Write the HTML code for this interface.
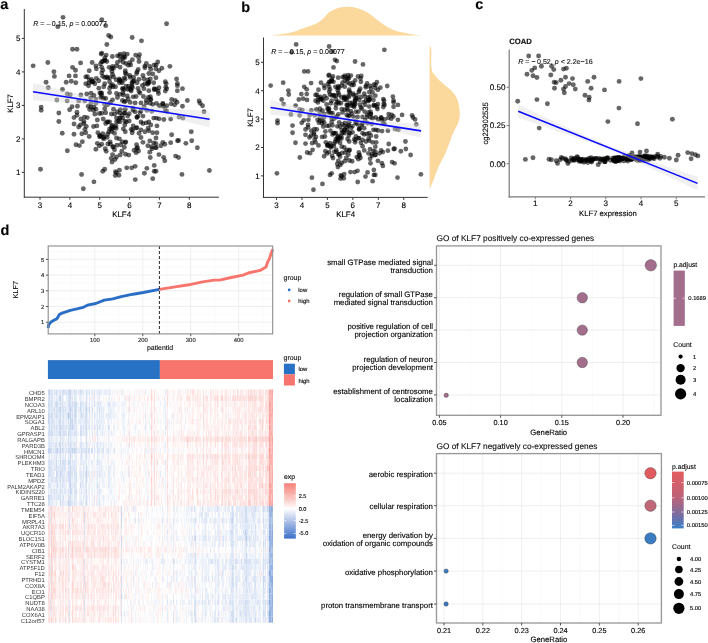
<!DOCTYPE html>
<html><head><meta charset="utf-8"><style>
html,body{margin:0;padding:0;background:#fff;width:708px;height:643px;overflow:hidden}
svg{display:block;font-family:"Liberation Sans", sans-serif;filter:blur(0.3px)}
text{stroke:currentColor;stroke-width:0.12px;text-rendering:geometricPrecision}
</style></head><body>
<svg width="708" height="643" viewBox="0 0 708 643">
<rect width="708" height="643" fill="#fff"/>
<text x="33.3" y="25.7" font-size="7.05" fill="#222"><tspan font-style="italic">R</tspan> = – 0.15, <tspan font-style="italic">p</tspan> = 0.00077</text>
<g>
<circle cx="63.04" cy="17.33" r="2.45" fill="#000" fill-opacity=".6"/>
<circle cx="57.84" cy="26.65" r="2.45" fill="#000" fill-opacity=".6"/>
<circle cx="72.55" cy="49.2" r="2.45" fill="#000" fill-opacity=".6"/>
<circle cx="76.96" cy="49.2" r="2.45" fill="#000" fill-opacity=".6"/>
<circle cx="47.84" cy="62.43" r="2.45" fill="#000" fill-opacity=".6"/>
<circle cx="33.14" cy="65.86" r="2.45" fill="#000" fill-opacity=".6"/>
<circle cx="80.59" cy="62.92" r="2.45" fill="#000" fill-opacity=".6"/>
<circle cx="72.55" cy="67.33" r="2.45" fill="#000" fill-opacity=".6"/>
<circle cx="75.49" cy="70.27" r="2.45" fill="#000" fill-opacity=".6"/>
<circle cx="53.92" cy="71.75" r="2.45" fill="#000" fill-opacity=".6"/>
<circle cx="89.22" cy="70.76" r="2.45" fill="#000" fill-opacity=".6"/>
<circle cx="101.76" cy="19.78" r="2.45" fill="#000" fill-opacity=".6"/>
<circle cx="105.69" cy="25.67" r="2.45" fill="#000" fill-opacity=".6"/>
<circle cx="108.63" cy="35.47" r="2.45" fill="#000" fill-opacity=".6"/>
<circle cx="110.78" cy="36.94" r="2.45" fill="#000" fill-opacity=".6"/>
<circle cx="132.16" cy="37.43" r="2.45" fill="#000" fill-opacity=".6"/>
<circle cx="141.47" cy="40.86" r="2.45" fill="#000" fill-opacity=".6"/>
<circle cx="106.86" cy="44.49" r="2.45" fill="#000" fill-opacity=".6"/>
<circle cx="101.76" cy="53.12" r="2.45" fill="#000" fill-opacity=".6"/>
<circle cx="106.18" cy="55.08" r="2.45" fill="#000" fill-opacity=".6"/>
<circle cx="112.35" cy="56.55" r="2.45" fill="#000" fill-opacity=".6"/>
<circle cx="117.45" cy="55.86" r="2.45" fill="#000" fill-opacity=".6"/>
<circle cx="127.25" cy="54.1" r="2.45" fill="#000" fill-opacity=".6"/>
<circle cx="135.59" cy="55.08" r="2.45" fill="#000" fill-opacity=".6"/>
<circle cx="139.51" cy="54.59" r="2.45" fill="#000" fill-opacity=".6"/>
<circle cx="122.84" cy="58.02" r="2.45" fill="#000" fill-opacity=".6"/>
<circle cx="124.8" cy="57.53" r="2.45" fill="#000" fill-opacity=".6"/>
<circle cx="120.39" cy="59.98" r="2.45" fill="#000" fill-opacity=".6"/>
<circle cx="132.35" cy="59.78" r="2.45" fill="#000" fill-opacity=".6"/>
<circle cx="139.02" cy="61.45" r="2.45" fill="#000" fill-opacity=".6"/>
<circle cx="92.16" cy="62.43" r="2.45" fill="#000" fill-opacity=".6"/>
<circle cx="101.76" cy="61.65" r="2.45" fill="#000" fill-opacity=".6"/>
<circle cx="106.86" cy="61.45" r="2.45" fill="#000" fill-opacity=".6"/>
<circle cx="117.45" cy="62.43" r="2.45" fill="#000" fill-opacity=".6"/>
<circle cx="146.37" cy="63.41" r="2.45" fill="#000" fill-opacity=".6"/>
<circle cx="95.88" cy="65.86" r="2.45" fill="#000" fill-opacity=".6"/>
<circle cx="101.76" cy="67.33" r="2.45" fill="#000" fill-opacity=".6"/>
<circle cx="109.12" cy="67.33" r="2.45" fill="#000" fill-opacity=".6"/>
<circle cx="113.53" cy="68.31" r="2.45" fill="#000" fill-opacity=".6"/>
<circle cx="116.47" cy="65.86" r="2.45" fill="#000" fill-opacity=".6"/>
<circle cx="125.78" cy="63.41" r="2.45" fill="#000" fill-opacity=".6"/>
<circle cx="128.24" cy="65.37" r="2.45" fill="#000" fill-opacity=".6"/>
<circle cx="130.69" cy="64.88" r="2.45" fill="#000" fill-opacity=".6"/>
<circle cx="144.9" cy="67.82" r="2.45" fill="#000" fill-opacity=".6"/>
<circle cx="149.8" cy="66.35" r="2.45" fill="#000" fill-opacity=".6"/>
<circle cx="150.78" cy="69.29" r="2.45" fill="#000" fill-opacity=".6"/>
<circle cx="154.22" cy="64.88" r="2.45" fill="#000" fill-opacity=".6"/>
<circle cx="96.37" cy="68.8" r="2.45" fill="#000" fill-opacity=".6"/>
<circle cx="102.75" cy="70.27" r="2.45" fill="#000" fill-opacity=".6"/>
<circle cx="125.29" cy="70.76" r="2.45" fill="#000" fill-opacity=".6"/>
<circle cx="137.06" cy="71.75" r="2.45" fill="#000" fill-opacity=".6"/>
<circle cx="166.57" cy="23.71" r="2.45" fill="#000" fill-opacity=".6"/>
<circle cx="157.75" cy="61.94" r="2.45" fill="#000" fill-opacity=".6"/>
<circle cx="156.18" cy="65.08" r="2.45" fill="#000" fill-opacity=".6"/>
<circle cx="169.9" cy="66.35" r="2.45" fill="#000" fill-opacity=".6"/>
<circle cx="161.86" cy="68.31" r="2.45" fill="#000" fill-opacity=".6"/>
<circle cx="158.92" cy="70.76" r="2.45" fill="#000" fill-opacity=".6"/>
<circle cx="54.41" cy="76.41" r="2.45" fill="#000" fill-opacity=".6"/>
<circle cx="69.12" cy="75.92" r="2.45" fill="#000" fill-opacity=".6"/>
<circle cx="75.49" cy="75.92" r="2.45" fill="#000" fill-opacity=".6"/>
<circle cx="85.78" cy="76.9" r="2.45" fill="#000" fill-opacity=".6"/>
<circle cx="89.22" cy="79.84" r="2.45" fill="#000" fill-opacity=".6"/>
<circle cx="46.08" cy="82.29" r="2.45" fill="#000" fill-opacity=".6"/>
<circle cx="66.18" cy="82.29" r="2.45" fill="#000" fill-opacity=".6"/>
<circle cx="71.27" cy="81.31" r="2.45" fill="#000" fill-opacity=".6"/>
<circle cx="75.78" cy="82.78" r="2.45" fill="#000" fill-opacity=".6"/>
<circle cx="85.78" cy="83.76" r="2.45" fill="#000" fill-opacity=".6"/>
<circle cx="88.53" cy="85.73" r="2.45" fill="#000" fill-opacity=".6"/>
<circle cx="48.24" cy="87.69" r="2.45" fill="#000" fill-opacity=".6"/>
<circle cx="62.45" cy="89.45" r="2.45" fill="#000" fill-opacity=".6"/>
<circle cx="67.16" cy="94.06" r="2.45" fill="#000" fill-opacity=".6"/>
<circle cx="70.29" cy="94.75" r="2.45" fill="#000" fill-opacity=".6"/>
<circle cx="80.88" cy="95.04" r="2.45" fill="#000" fill-opacity=".6"/>
<circle cx="86.76" cy="94.06" r="2.45" fill="#000" fill-opacity=".6"/>
<circle cx="56.86" cy="99.94" r="2.45" fill="#000" fill-opacity=".6"/>
<circle cx="67.16" cy="100.92" r="2.45" fill="#000" fill-opacity=".6"/>
<circle cx="78.73" cy="100.92" r="2.45" fill="#000" fill-opacity=".6"/>
<circle cx="84.8" cy="100.92" r="2.45" fill="#000" fill-opacity=".6"/>
<circle cx="41.18" cy="107.1" r="2.45" fill="#000" fill-opacity=".6"/>
<circle cx="41.18" cy="110.24" r="2.45" fill="#000" fill-opacity=".6"/>
<circle cx="72.06" cy="106.8" r="2.45" fill="#000" fill-opacity=".6"/>
<circle cx="77.45" cy="106.31" r="2.45" fill="#000" fill-opacity=".6"/>
<circle cx="69.61" cy="109.75" r="2.45" fill="#000" fill-opacity=".6"/>
<circle cx="88.24" cy="106.31" r="2.45" fill="#000" fill-opacity=".6"/>
<circle cx="58.82" cy="112.98" r="2.45" fill="#000" fill-opacity=".6"/>
<circle cx="76.96" cy="112.2" r="2.45" fill="#000" fill-opacity=".6"/>
<circle cx="76.96" cy="115.14" r="2.45" fill="#000" fill-opacity=".6"/>
<circle cx="74.02" cy="117.59" r="2.45" fill="#000" fill-opacity=".6"/>
<circle cx="80.88" cy="119.06" r="2.45" fill="#000" fill-opacity=".6"/>
<circle cx="87.25" cy="117.59" r="2.45" fill="#000" fill-opacity=".6"/>
<circle cx="58.82" cy="121.51" r="2.45" fill="#000" fill-opacity=".6"/>
<circle cx="74.02" cy="123.96" r="2.45" fill="#000" fill-opacity=".6"/>
<circle cx="80.39" cy="124.94" r="2.45" fill="#000" fill-opacity=".6"/>
<circle cx="83.82" cy="123.47" r="2.45" fill="#000" fill-opacity=".6"/>
<circle cx="86.27" cy="126.41" r="2.45" fill="#000" fill-opacity=".6"/>
<circle cx="84.8" cy="129.35" r="2.45" fill="#000" fill-opacity=".6"/>
<circle cx="62.25" cy="133.27" r="2.45" fill="#000" fill-opacity=".6"/>
<circle cx="74.02" cy="134.25" r="2.45" fill="#000" fill-opacity=".6"/>
<circle cx="81.86" cy="133.76" r="2.45" fill="#000" fill-opacity=".6"/>
<circle cx="101.76" cy="72.98" r="2.45" fill="#000" fill-opacity=".6"/>
<circle cx="112.55" cy="74.45" r="2.45" fill="#000" fill-opacity=".6"/>
<circle cx="125.29" cy="72.98" r="2.45" fill="#000" fill-opacity=".6"/>
<circle cx="136.57" cy="73.47" r="2.45" fill="#000" fill-opacity=".6"/>
<circle cx="142.94" cy="75.43" r="2.45" fill="#000" fill-opacity=".6"/>
<circle cx="148.82" cy="73.47" r="2.45" fill="#000" fill-opacity=".6"/>
<circle cx="152.75" cy="73.96" r="2.45" fill="#000" fill-opacity=".6"/>
<circle cx="91.47" cy="79.35" r="2.45" fill="#000" fill-opacity=".6"/>
<circle cx="96.37" cy="78.37" r="2.45" fill="#000" fill-opacity=".6"/>
<circle cx="98.82" cy="80.82" r="2.45" fill="#000" fill-opacity=".6"/>
<circle cx="107.65" cy="77.88" r="2.45" fill="#000" fill-opacity=".6"/>
<circle cx="113.53" cy="76.9" r="2.45" fill="#000" fill-opacity=".6"/>
<circle cx="119.41" cy="78.86" r="2.45" fill="#000" fill-opacity=".6"/>
<circle cx="124.31" cy="77.88" r="2.45" fill="#000" fill-opacity=".6"/>
<circle cx="130.2" cy="77.39" r="2.45" fill="#000" fill-opacity=".6"/>
<circle cx="139.02" cy="79.35" r="2.45" fill="#000" fill-opacity=".6"/>
<circle cx="143.92" cy="78.86" r="2.45" fill="#000" fill-opacity=".6"/>
<circle cx="150.29" cy="78.86" r="2.45" fill="#000" fill-opacity=".6"/>
<circle cx="94.9" cy="83.76" r="2.45" fill="#000" fill-opacity=".6"/>
<circle cx="104.71" cy="83.76" r="2.45" fill="#000" fill-opacity=".6"/>
<circle cx="109.61" cy="81.8" r="2.45" fill="#000" fill-opacity=".6"/>
<circle cx="112.55" cy="84.75" r="2.45" fill="#000" fill-opacity=".6"/>
<circle cx="119.41" cy="82.78" r="2.45" fill="#000" fill-opacity=".6"/>
<circle cx="122.35" cy="82.78" r="2.45" fill="#000" fill-opacity=".6"/>
<circle cx="128.73" cy="86.22" r="2.45" fill="#000" fill-opacity=".6"/>
<circle cx="132.16" cy="82.29" r="2.45" fill="#000" fill-opacity=".6"/>
<circle cx="137.06" cy="82.78" r="2.45" fill="#000" fill-opacity=".6"/>
<circle cx="144.9" cy="83.76" r="2.45" fill="#000" fill-opacity=".6"/>
<circle cx="148.82" cy="82.78" r="2.45" fill="#000" fill-opacity=".6"/>
<circle cx="153.73" cy="82.78" r="2.45" fill="#000" fill-opacity=".6"/>
<circle cx="98.82" cy="88.18" r="2.45" fill="#000" fill-opacity=".6"/>
<circle cx="103.73" cy="86.71" r="2.45" fill="#000" fill-opacity=".6"/>
<circle cx="109.61" cy="88.18" r="2.45" fill="#000" fill-opacity=".6"/>
<circle cx="115.49" cy="86.71" r="2.45" fill="#000" fill-opacity=".6"/>
<circle cx="122.35" cy="88.67" r="2.45" fill="#000" fill-opacity=".6"/>
<circle cx="124.31" cy="89.65" r="2.45" fill="#000" fill-opacity=".6"/>
<circle cx="131.18" cy="91.12" r="2.45" fill="#000" fill-opacity=".6"/>
<circle cx="139.02" cy="91.61" r="2.45" fill="#000" fill-opacity=".6"/>
<circle cx="143.92" cy="88.67" r="2.45" fill="#000" fill-opacity=".6"/>
<circle cx="148.82" cy="90.63" r="2.45" fill="#000" fill-opacity=".6"/>
<circle cx="154.22" cy="88.67" r="2.45" fill="#000" fill-opacity=".6"/>
<circle cx="90.98" cy="93.08" r="2.45" fill="#000" fill-opacity=".6"/>
<circle cx="93.92" cy="95.53" r="2.45" fill="#000" fill-opacity=".6"/>
<circle cx="99.8" cy="93.08" r="2.45" fill="#000" fill-opacity=".6"/>
<circle cx="101.76" cy="95.53" r="2.45" fill="#000" fill-opacity=".6"/>
<circle cx="109.61" cy="92.59" r="2.45" fill="#000" fill-opacity=".6"/>
<circle cx="116.47" cy="93.57" r="2.45" fill="#000" fill-opacity=".6"/>
<circle cx="123.33" cy="95.04" r="2.45" fill="#000" fill-opacity=".6"/>
<circle cx="127.25" cy="96.02" r="2.45" fill="#000" fill-opacity=".6"/>
<circle cx="136.08" cy="96.51" r="2.45" fill="#000" fill-opacity=".6"/>
<circle cx="140" cy="93.08" r="2.45" fill="#000" fill-opacity=".6"/>
<circle cx="143.43" cy="96.51" r="2.45" fill="#000" fill-opacity=".6"/>
<circle cx="148.33" cy="97.49" r="2.45" fill="#000" fill-opacity=".6"/>
<circle cx="95.88" cy="99.45" r="2.45" fill="#000" fill-opacity=".6"/>
<circle cx="100.78" cy="97.49" r="2.45" fill="#000" fill-opacity=".6"/>
<circle cx="105.69" cy="98.47" r="2.45" fill="#000" fill-opacity=".6"/>
<circle cx="112.55" cy="99.94" r="2.45" fill="#000" fill-opacity=".6"/>
<circle cx="117.45" cy="97.49" r="2.45" fill="#000" fill-opacity=".6"/>
<circle cx="122.35" cy="100.43" r="2.45" fill="#000" fill-opacity=".6"/>
<circle cx="128.24" cy="98.96" r="2.45" fill="#000" fill-opacity=".6"/>
<circle cx="135.1" cy="102.88" r="2.45" fill="#000" fill-opacity=".6"/>
<circle cx="140.98" cy="102.88" r="2.45" fill="#000" fill-opacity=".6"/>
<circle cx="146.37" cy="102.88" r="2.45" fill="#000" fill-opacity=".6"/>
<circle cx="150.78" cy="99.45" r="2.45" fill="#000" fill-opacity=".6"/>
<circle cx="90.98" cy="103.37" r="2.45" fill="#000" fill-opacity=".6"/>
<circle cx="95.88" cy="103.37" r="2.45" fill="#000" fill-opacity=".6"/>
<circle cx="104.71" cy="104.35" r="2.45" fill="#000" fill-opacity=".6"/>
<circle cx="110.59" cy="102.39" r="2.45" fill="#000" fill-opacity=".6"/>
<circle cx="124.31" cy="101.9" r="2.45" fill="#000" fill-opacity=".6"/>
<circle cx="130.2" cy="102.39" r="2.45" fill="#000" fill-opacity=".6"/>
<circle cx="152.75" cy="104.35" r="2.45" fill="#000" fill-opacity=".6"/>
<circle cx="90.98" cy="107.29" r="2.45" fill="#000" fill-opacity=".6"/>
<circle cx="95.88" cy="109.25" r="2.45" fill="#000" fill-opacity=".6"/>
<circle cx="104.71" cy="108.76" r="2.45" fill="#000" fill-opacity=".6"/>
<circle cx="113.53" cy="109.25" r="2.45" fill="#000" fill-opacity=".6"/>
<circle cx="120.39" cy="109.75" r="2.45" fill="#000" fill-opacity=".6"/>
<circle cx="125.29" cy="109.25" r="2.45" fill="#000" fill-opacity=".6"/>
<circle cx="133.14" cy="110.24" r="2.45" fill="#000" fill-opacity=".6"/>
<circle cx="140.98" cy="110.73" r="2.45" fill="#000" fill-opacity=".6"/>
<circle cx="146.86" cy="110.24" r="2.45" fill="#000" fill-opacity=".6"/>
<circle cx="151.76" cy="111.22" r="2.45" fill="#000" fill-opacity=".6"/>
<circle cx="94.9" cy="114.16" r="2.45" fill="#000" fill-opacity=".6"/>
<circle cx="101.76" cy="113.18" r="2.45" fill="#000" fill-opacity=".6"/>
<circle cx="105.69" cy="112.69" r="2.45" fill="#000" fill-opacity=".6"/>
<circle cx="114.51" cy="114.16" r="2.45" fill="#000" fill-opacity=".6"/>
<circle cx="122.35" cy="114.65" r="2.45" fill="#000" fill-opacity=".6"/>
<circle cx="129.22" cy="113.67" r="2.45" fill="#000" fill-opacity=".6"/>
<circle cx="135.1" cy="111.71" r="2.45" fill="#000" fill-opacity=".6"/>
<circle cx="138.04" cy="116.12" r="2.45" fill="#000" fill-opacity=".6"/>
<circle cx="142.94" cy="116.12" r="2.45" fill="#000" fill-opacity=".6"/>
<circle cx="97.35" cy="120.04" r="2.45" fill="#000" fill-opacity=".6"/>
<circle cx="103.24" cy="119.06" r="2.45" fill="#000" fill-opacity=".6"/>
<circle cx="109.61" cy="122" r="2.45" fill="#000" fill-opacity=".6"/>
<circle cx="116.47" cy="118.08" r="2.45" fill="#000" fill-opacity=".6"/>
<circle cx="120.39" cy="118.08" r="2.45" fill="#000" fill-opacity=".6"/>
<circle cx="126.27" cy="122" r="2.45" fill="#000" fill-opacity=".6"/>
<circle cx="129.22" cy="121.02" r="2.45" fill="#000" fill-opacity=".6"/>
<circle cx="137.06" cy="117.59" r="2.45" fill="#000" fill-opacity=".6"/>
<circle cx="140.98" cy="122" r="2.45" fill="#000" fill-opacity=".6"/>
<circle cx="148.82" cy="122" r="2.45" fill="#000" fill-opacity=".6"/>
<circle cx="153.73" cy="118.08" r="2.45" fill="#000" fill-opacity=".6"/>
<circle cx="105.69" cy="123.47" r="2.45" fill="#000" fill-opacity=".6"/>
<circle cx="112.55" cy="125.43" r="2.45" fill="#000" fill-opacity=".6"/>
<circle cx="118.43" cy="121.02" r="2.45" fill="#000" fill-opacity=".6"/>
<circle cx="124.8" cy="124.94" r="2.45" fill="#000" fill-opacity=".6"/>
<circle cx="133.14" cy="125.92" r="2.45" fill="#000" fill-opacity=".6"/>
<circle cx="142.94" cy="123.47" r="2.45" fill="#000" fill-opacity=".6"/>
<circle cx="150.78" cy="124.94" r="2.45" fill="#000" fill-opacity=".6"/>
<circle cx="96.86" cy="125.92" r="2.45" fill="#000" fill-opacity=".6"/>
<circle cx="109.61" cy="128.86" r="2.45" fill="#000" fill-opacity=".6"/>
<circle cx="114.51" cy="127.39" r="2.45" fill="#000" fill-opacity=".6"/>
<circle cx="123.33" cy="128.86" r="2.45" fill="#000" fill-opacity=".6"/>
<circle cx="131.18" cy="129.35" r="2.45" fill="#000" fill-opacity=".6"/>
<circle cx="136.08" cy="127.88" r="2.45" fill="#000" fill-opacity=".6"/>
<circle cx="140.98" cy="129.84" r="2.45" fill="#000" fill-opacity=".6"/>
<circle cx="148.82" cy="130.82" r="2.45" fill="#000" fill-opacity=".6"/>
<circle cx="97.84" cy="132.78" r="2.45" fill="#000" fill-opacity=".6"/>
<circle cx="102.75" cy="133.76" r="2.45" fill="#000" fill-opacity=".6"/>
<circle cx="107.65" cy="134.25" r="2.45" fill="#000" fill-opacity=".6"/>
<circle cx="114.51" cy="133.27" r="2.45" fill="#000" fill-opacity=".6"/>
<circle cx="125.29" cy="131.8" r="2.45" fill="#000" fill-opacity=".6"/>
<circle cx="132.16" cy="132.78" r="2.45" fill="#000" fill-opacity=".6"/>
<circle cx="139.02" cy="133.27" r="2.45" fill="#000" fill-opacity=".6"/>
<circle cx="144.9" cy="131.8" r="2.45" fill="#000" fill-opacity=".6"/>
<circle cx="152.75" cy="132.78" r="2.45" fill="#000" fill-opacity=".6"/>
<circle cx="176.57" cy="79.06" r="2.45" fill="#000" fill-opacity=".6"/>
<circle cx="165.29" cy="81.8" r="2.45" fill="#000" fill-opacity=".6"/>
<circle cx="177.35" cy="83.57" r="2.45" fill="#000" fill-opacity=".6"/>
<circle cx="158.92" cy="87.69" r="2.45" fill="#000" fill-opacity=".6"/>
<circle cx="165.78" cy="87.2" r="2.45" fill="#000" fill-opacity=".6"/>
<circle cx="182.45" cy="88.67" r="2.45" fill="#000" fill-opacity=".6"/>
<circle cx="155.98" cy="89.16" r="2.45" fill="#000" fill-opacity=".6"/>
<circle cx="165.29" cy="91.12" r="2.45" fill="#000" fill-opacity=".6"/>
<circle cx="177.35" cy="90.82" r="2.45" fill="#000" fill-opacity=".6"/>
<circle cx="158.43" cy="93.57" r="2.45" fill="#000" fill-opacity=".6"/>
<circle cx="171.67" cy="99.45" r="2.45" fill="#000" fill-opacity=".6"/>
<circle cx="187.35" cy="100.43" r="2.45" fill="#000" fill-opacity=".6"/>
<circle cx="199.12" cy="100.92" r="2.45" fill="#000" fill-opacity=".6"/>
<circle cx="177.06" cy="102.2" r="2.45" fill="#000" fill-opacity=".6"/>
<circle cx="156.47" cy="103.37" r="2.45" fill="#000" fill-opacity=".6"/>
<circle cx="162.84" cy="103.86" r="2.45" fill="#000" fill-opacity=".6"/>
<circle cx="171.18" cy="103.86" r="2.45" fill="#000" fill-opacity=".6"/>
<circle cx="159.41" cy="105.82" r="2.45" fill="#000" fill-opacity=".6"/>
<circle cx="166.76" cy="105.82" r="2.45" fill="#000" fill-opacity=".6"/>
<circle cx="174.61" cy="104.84" r="2.45" fill="#000" fill-opacity=".6"/>
<circle cx="182.45" cy="106.31" r="2.45" fill="#000" fill-opacity=".6"/>
<circle cx="200.1" cy="103.37" r="2.45" fill="#000" fill-opacity=".6"/>
<circle cx="202.55" cy="105.82" r="2.45" fill="#000" fill-opacity=".6"/>
<circle cx="166.76" cy="111.22" r="2.45" fill="#000" fill-opacity=".6"/>
<circle cx="204.02" cy="111.71" r="2.45" fill="#000" fill-opacity=".6"/>
<circle cx="156.47" cy="118.08" r="2.45" fill="#000" fill-opacity=".6"/>
<circle cx="163.82" cy="119.55" r="2.45" fill="#000" fill-opacity=".6"/>
<circle cx="170.69" cy="119.06" r="2.45" fill="#000" fill-opacity=".6"/>
<circle cx="179.02" cy="117.1" r="2.45" fill="#000" fill-opacity=".6"/>
<circle cx="182.94" cy="118.08" r="2.45" fill="#000" fill-opacity=".6"/>
<circle cx="156.96" cy="125.92" r="2.45" fill="#000" fill-opacity=".6"/>
<circle cx="191.27" cy="131.8" r="2.45" fill="#000" fill-opacity=".6"/>
<circle cx="156.96" cy="132.78" r="2.45" fill="#000" fill-opacity=".6"/>
<circle cx="171.67" cy="134.75" r="2.45" fill="#000" fill-opacity=".6"/>
<circle cx="89.22" cy="136.47" r="2.45" fill="#000" fill-opacity=".6"/>
<circle cx="82.35" cy="141.67" r="2.45" fill="#000" fill-opacity=".6"/>
<circle cx="75.98" cy="144.8" r="2.45" fill="#000" fill-opacity=".6"/>
<circle cx="79.41" cy="145.59" r="2.45" fill="#000" fill-opacity=".6"/>
<circle cx="67.35" cy="150.69" r="2.45" fill="#000" fill-opacity=".6"/>
<circle cx="40.49" cy="169.31" r="2.45" fill="#000" fill-opacity=".6"/>
<circle cx="81.57" cy="174.51" r="2.45" fill="#000" fill-opacity=".6"/>
<circle cx="83.33" cy="188.73" r="2.45" fill="#000" fill-opacity=".6"/>
<circle cx="103.73" cy="138.92" r="2.45" fill="#000" fill-opacity=".6"/>
<circle cx="116.47" cy="137.94" r="2.45" fill="#000" fill-opacity=".6"/>
<circle cx="119.41" cy="138.92" r="2.45" fill="#000" fill-opacity=".6"/>
<circle cx="140.98" cy="137.45" r="2.45" fill="#000" fill-opacity=".6"/>
<circle cx="97.35" cy="143.33" r="2.45" fill="#000" fill-opacity=".6"/>
<circle cx="101.76" cy="144.31" r="2.45" fill="#000" fill-opacity=".6"/>
<circle cx="110.1" cy="141.86" r="2.45" fill="#000" fill-opacity=".6"/>
<circle cx="122.35" cy="141.86" r="2.45" fill="#000" fill-opacity=".6"/>
<circle cx="125.78" cy="141.86" r="2.45" fill="#000" fill-opacity=".6"/>
<circle cx="142.94" cy="142.35" r="2.45" fill="#000" fill-opacity=".6"/>
<circle cx="149.8" cy="140.88" r="2.45" fill="#000" fill-opacity=".6"/>
<circle cx="153.73" cy="142.84" r="2.45" fill="#000" fill-opacity=".6"/>
<circle cx="95.88" cy="149.22" r="2.45" fill="#000" fill-opacity=".6"/>
<circle cx="105.2" cy="148.73" r="2.45" fill="#000" fill-opacity=".6"/>
<circle cx="113.53" cy="146.76" r="2.45" fill="#000" fill-opacity=".6"/>
<circle cx="116.96" cy="145.29" r="2.45" fill="#000" fill-opacity=".6"/>
<circle cx="114.51" cy="149.71" r="2.45" fill="#000" fill-opacity=".6"/>
<circle cx="124.31" cy="147.25" r="2.45" fill="#000" fill-opacity=".6"/>
<circle cx="121.86" cy="151.18" r="2.45" fill="#000" fill-opacity=".6"/>
<circle cx="136.57" cy="144.8" r="2.45" fill="#000" fill-opacity=".6"/>
<circle cx="137.55" cy="147.75" r="2.45" fill="#000" fill-opacity=".6"/>
<circle cx="134.12" cy="150.2" r="2.45" fill="#000" fill-opacity=".6"/>
<circle cx="136.08" cy="152.65" r="2.45" fill="#000" fill-opacity=".6"/>
<circle cx="147.84" cy="145.78" r="2.45" fill="#000" fill-opacity=".6"/>
<circle cx="151.76" cy="146.76" r="2.45" fill="#000" fill-opacity=".6"/>
<circle cx="112.55" cy="154.61" r="2.45" fill="#000" fill-opacity=".6"/>
<circle cx="128.73" cy="155.1" r="2.45" fill="#000" fill-opacity=".6"/>
<circle cx="149.8" cy="152.16" r="2.45" fill="#000" fill-opacity=".6"/>
<circle cx="150.29" cy="157.55" r="2.45" fill="#000" fill-opacity=".6"/>
<circle cx="116.47" cy="157.06" r="2.45" fill="#000" fill-opacity=".6"/>
<circle cx="115" cy="159.51" r="2.45" fill="#000" fill-opacity=".6"/>
<circle cx="112.06" cy="161.96" r="2.45" fill="#000" fill-opacity=".6"/>
<circle cx="104.71" cy="169.31" r="2.45" fill="#000" fill-opacity=".6"/>
<circle cx="102.75" cy="171.27" r="2.45" fill="#000" fill-opacity=".6"/>
<circle cx="115.49" cy="171.76" r="2.45" fill="#000" fill-opacity=".6"/>
<circle cx="119.41" cy="170.29" r="2.45" fill="#000" fill-opacity=".6"/>
<circle cx="118.92" cy="175.2" r="2.45" fill="#000" fill-opacity=".6"/>
<circle cx="126.76" cy="167.84" r="2.45" fill="#000" fill-opacity=".6"/>
<circle cx="131.67" cy="167.84" r="2.45" fill="#000" fill-opacity=".6"/>
<circle cx="135.1" cy="166.37" r="2.45" fill="#000" fill-opacity=".6"/>
<circle cx="146.86" cy="168.33" r="2.45" fill="#000" fill-opacity=".6"/>
<circle cx="144.41" cy="173.24" r="2.45" fill="#000" fill-opacity=".6"/>
<circle cx="154.22" cy="165.39" r="2.45" fill="#000" fill-opacity=".6"/>
<circle cx="154.22" cy="171.27" r="2.45" fill="#000" fill-opacity=".6"/>
<circle cx="93.92" cy="181.86" r="2.45" fill="#000" fill-opacity=".6"/>
<circle cx="135.29" cy="179.61" r="2.45" fill="#000" fill-opacity=".6"/>
<circle cx="152.75" cy="178.63" r="2.45" fill="#000" fill-opacity=".6"/>
<circle cx="155.98" cy="137.94" r="2.45" fill="#000" fill-opacity=".6"/>
<circle cx="178.53" cy="140.39" r="2.45" fill="#000" fill-opacity=".6"/>
<circle cx="191.76" cy="140.69" r="2.45" fill="#000" fill-opacity=".6"/>
<circle cx="185.88" cy="143.33" r="2.45" fill="#000" fill-opacity=".6"/>
<circle cx="170.69" cy="142.65" r="2.45" fill="#000" fill-opacity=".6"/>
<circle cx="162.84" cy="142.35" r="2.45" fill="#000" fill-opacity=".6"/>
<circle cx="164.8" cy="144.31" r="2.45" fill="#000" fill-opacity=".6"/>
<circle cx="160.88" cy="145.78" r="2.45" fill="#000" fill-opacity=".6"/>
<circle cx="155.98" cy="143.82" r="2.45" fill="#000" fill-opacity=".6"/>
<circle cx="155.49" cy="147.75" r="2.45" fill="#000" fill-opacity=".6"/>
<circle cx="197.35" cy="147.75" r="2.45" fill="#000" fill-opacity=".6"/>
<circle cx="158.92" cy="154.61" r="2.45" fill="#000" fill-opacity=".6"/>
<circle cx="163.63" cy="157.35" r="2.45" fill="#000" fill-opacity=".6"/>
<circle cx="164.8" cy="160.69" r="2.45" fill="#000" fill-opacity=".6"/>
<circle cx="175.59" cy="156.08" r="2.45" fill="#000" fill-opacity=".6"/>
<circle cx="178.53" cy="157.55" r="2.45" fill="#000" fill-opacity=".6"/>
<circle cx="155.98" cy="171.27" r="2.45" fill="#000" fill-opacity=".6"/>
<circle cx="181.96" cy="174.41" r="2.45" fill="#000" fill-opacity=".6"/>
<circle cx="209.41" cy="170.49" r="2.45" fill="#000" fill-opacity=".6"/>
<circle cx="154.31" cy="89.71" r="2.45" fill="#000" fill-opacity=".6"/>
<circle cx="142.35" cy="85.39" r="2.45" fill="#000" fill-opacity=".6"/>
<circle cx="125.01" cy="79.29" r="2.45" fill="#000" fill-opacity=".6"/>
<circle cx="104.8" cy="57.69" r="2.45" fill="#000" fill-opacity=".6"/>
<circle cx="100.93" cy="93.08" r="2.45" fill="#000" fill-opacity=".6"/>
<circle cx="122.76" cy="118.1" r="2.45" fill="#000" fill-opacity=".6"/>
<circle cx="124.91" cy="121.18" r="2.45" fill="#000" fill-opacity=".6"/>
<circle cx="106.9" cy="121.84" r="2.45" fill="#000" fill-opacity=".6"/>
<circle cx="129.63" cy="62.59" r="2.45" fill="#000" fill-opacity=".6"/>
<circle cx="93.39" cy="110.28" r="2.45" fill="#000" fill-opacity=".6"/>
<circle cx="138.22" cy="69.56" r="2.45" fill="#000" fill-opacity=".6"/>
<circle cx="113" cy="86.78" r="2.45" fill="#000" fill-opacity=".6"/>
<circle cx="106.72" cy="77.04" r="2.45" fill="#000" fill-opacity=".6"/>
<circle cx="146.35" cy="100.31" r="2.45" fill="#000" fill-opacity=".6"/>
<circle cx="138.66" cy="57.42" r="2.45" fill="#000" fill-opacity=".6"/>
<circle cx="84.43" cy="117.12" r="2.45" fill="#000" fill-opacity=".6"/>
<circle cx="163.49" cy="106.49" r="2.45" fill="#000" fill-opacity=".6"/>
<circle cx="109.54" cy="103.37" r="2.45" fill="#000" fill-opacity=".6"/>
<circle cx="129.66" cy="88.94" r="2.45" fill="#000" fill-opacity=".6"/>
<circle cx="132.25" cy="83.79" r="2.45" fill="#000" fill-opacity=".6"/>
<circle cx="83.92" cy="121.51" r="2.45" fill="#000" fill-opacity=".6"/>
<circle cx="159.06" cy="118.85" r="2.45" fill="#000" fill-opacity=".6"/>
<circle cx="119.9" cy="121.9" r="2.45" fill="#000" fill-opacity=".6"/>
<circle cx="91.95" cy="82.17" r="2.45" fill="#000" fill-opacity=".6"/>
<circle cx="119.89" cy="94.33" r="2.45" fill="#000" fill-opacity=".6"/>
<circle cx="150.16" cy="103.3" r="2.45" fill="#000" fill-opacity=".6"/>
<circle cx="104.75" cy="77.49" r="2.45" fill="#000" fill-opacity=".6"/>
<circle cx="132.71" cy="130.03" r="2.45" fill="#000" fill-opacity=".6"/>
<circle cx="133.58" cy="77.19" r="2.45" fill="#000" fill-opacity=".6"/>
<circle cx="102.85" cy="61.5" r="2.45" fill="#000" fill-opacity=".6"/>
<circle cx="116.54" cy="122.03" r="2.45" fill="#000" fill-opacity=".6"/>
<circle cx="104.23" cy="136.97" r="2.45" fill="#000" fill-opacity=".6"/>
<circle cx="155.85" cy="68.82" r="2.45" fill="#000" fill-opacity=".6"/>
<circle cx="156.3" cy="147.59" r="2.45" fill="#000" fill-opacity=".6"/>
<circle cx="102.68" cy="76.34" r="2.45" fill="#000" fill-opacity=".6"/>
<circle cx="166.72" cy="88.74" r="2.45" fill="#000" fill-opacity=".6"/>
<circle cx="107.18" cy="137.39" r="2.45" fill="#000" fill-opacity=".6"/>
<circle cx="112.51" cy="128.47" r="2.45" fill="#000" fill-opacity=".6"/>
<circle cx="162.78" cy="103.5" r="2.45" fill="#000" fill-opacity=".6"/>
<circle cx="116.23" cy="79.69" r="2.45" fill="#000" fill-opacity=".6"/>
<circle cx="111.41" cy="113.93" r="2.45" fill="#000" fill-opacity=".6"/>
<circle cx="136.75" cy="148.42" r="2.45" fill="#000" fill-opacity=".6"/>
<circle cx="127.69" cy="116" r="2.45" fill="#000" fill-opacity=".6"/>
<circle cx="143.99" cy="106.61" r="2.45" fill="#000" fill-opacity=".6"/>
<circle cx="126.33" cy="74.22" r="2.45" fill="#000" fill-opacity=".6"/>
<circle cx="101.57" cy="92.96" r="2.45" fill="#000" fill-opacity=".6"/>
<circle cx="105.04" cy="60.22" r="2.45" fill="#000" fill-opacity=".6"/>
<circle cx="131.06" cy="89.47" r="2.45" fill="#000" fill-opacity=".6"/>
<circle cx="88.93" cy="82.87" r="2.45" fill="#000" fill-opacity=".6"/>
<circle cx="138.55" cy="151.02" r="2.45" fill="#000" fill-opacity=".6"/>
<circle cx="108.86" cy="131.89" r="2.45" fill="#000" fill-opacity=".6"/>
<circle cx="155.94" cy="77.8" r="2.45" fill="#000" fill-opacity=".6"/>
<circle cx="108.01" cy="122.03" r="2.45" fill="#000" fill-opacity=".6"/>
<circle cx="123.92" cy="53.63" r="2.45" fill="#000" fill-opacity=".6"/>
<circle cx="100.44" cy="63.95" r="2.45" fill="#000" fill-opacity=".6"/>
<circle cx="134.19" cy="80.6" r="2.45" fill="#000" fill-opacity=".6"/>
<circle cx="147.65" cy="84.24" r="2.45" fill="#000" fill-opacity=".6"/>
<circle cx="116.19" cy="128.39" r="2.45" fill="#000" fill-opacity=".6"/>
<circle cx="133.21" cy="96.87" r="2.45" fill="#000" fill-opacity=".6"/>
<circle cx="99.37" cy="113.46" r="2.45" fill="#000" fill-opacity=".6"/>
<circle cx="177.55" cy="140.7" r="2.45" fill="#000" fill-opacity=".6"/>
<circle cx="149.13" cy="82.09" r="2.45" fill="#000" fill-opacity=".6"/>
<circle cx="100.37" cy="135.99" r="2.45" fill="#000" fill-opacity=".6"/>
<circle cx="85.75" cy="132.76" r="2.45" fill="#000" fill-opacity=".6"/>
<circle cx="120.09" cy="54.11" r="2.45" fill="#000" fill-opacity=".6"/>
<circle cx="136.88" cy="117.08" r="2.45" fill="#000" fill-opacity=".6"/>
<circle cx="106.26" cy="151.33" r="2.45" fill="#000" fill-opacity=".6"/>
<circle cx="131.64" cy="86.49" r="2.45" fill="#000" fill-opacity=".6"/>
<circle cx="103.59" cy="98.38" r="2.45" fill="#000" fill-opacity=".6"/>
<circle cx="121.34" cy="81.35" r="2.45" fill="#000" fill-opacity=".6"/>
<circle cx="122.83" cy="93.03" r="2.45" fill="#000" fill-opacity=".6"/>
<circle cx="119.87" cy="113.27" r="2.45" fill="#000" fill-opacity=".6"/>
<circle cx="92.49" cy="81.74" r="2.45" fill="#000" fill-opacity=".6"/>
<circle cx="89.69" cy="109.6" r="2.45" fill="#000" fill-opacity=".6"/>
<circle cx="177.4" cy="85.63" r="2.45" fill="#000" fill-opacity=".6"/>
<circle cx="115.22" cy="175.61" r="2.45" fill="#000" fill-opacity=".6"/>
<circle cx="116.4" cy="172.83" r="2.45" fill="#000" fill-opacity=".6"/>
<circle cx="125.5" cy="154.23" r="2.45" fill="#000" fill-opacity=".6"/>
<circle cx="125.22" cy="142.67" r="2.45" fill="#000" fill-opacity=".6"/>
<circle cx="123.19" cy="88.61" r="2.45" fill="#000" fill-opacity=".6"/>
<circle cx="90.68" cy="97.87" r="2.45" fill="#000" fill-opacity=".6"/>
<circle cx="158.08" cy="91.11" r="2.45" fill="#000" fill-opacity=".6"/>
<circle cx="117.32" cy="111.69" r="2.45" fill="#000" fill-opacity=".6"/>
<circle cx="127.97" cy="89.39" r="2.45" fill="#000" fill-opacity=".6"/>
<circle cx="126.09" cy="86.21" r="2.45" fill="#000" fill-opacity=".6"/>
<circle cx="99.55" cy="136.87" r="2.45" fill="#000" fill-opacity=".6"/>
<circle cx="120.03" cy="67.19" r="2.45" fill="#000" fill-opacity=".6"/>
<circle cx="148.07" cy="128.28" r="2.45" fill="#000" fill-opacity=".6"/>
<circle cx="119.71" cy="55.92" r="2.45" fill="#000" fill-opacity=".6"/>
<circle cx="120.72" cy="144.82" r="2.45" fill="#000" fill-opacity=".6"/>
<circle cx="175.13" cy="100.4" r="2.45" fill="#000" fill-opacity=".6"/>
<circle cx="102.81" cy="137.5" r="2.45" fill="#000" fill-opacity=".6"/>
<circle cx="112.63" cy="66.42" r="2.45" fill="#000" fill-opacity=".6"/>
<circle cx="144.86" cy="66.1" r="2.45" fill="#000" fill-opacity=".6"/>
<circle cx="140.02" cy="112.33" r="2.45" fill="#000" fill-opacity=".6"/>
<circle cx="125.38" cy="101.17" r="2.45" fill="#000" fill-opacity=".6"/>
<circle cx="165.29" cy="110.4" r="2.45" fill="#000" fill-opacity=".6"/>
<circle cx="146.19" cy="122.91" r="2.45" fill="#000" fill-opacity=".6"/>
<circle cx="107.38" cy="104.87" r="2.45" fill="#000" fill-opacity=".6"/>
<circle cx="120.15" cy="155.02" r="2.45" fill="#000" fill-opacity=".6"/>
<circle cx="111.89" cy="71.39" r="2.45" fill="#000" fill-opacity=".6"/>
<circle cx="123.02" cy="62.32" r="2.45" fill="#000" fill-opacity=".6"/>
<circle cx="129.84" cy="75.49" r="2.45" fill="#000" fill-opacity=".6"/>
<circle cx="99.3" cy="145.85" r="2.45" fill="#000" fill-opacity=".6"/>
<circle cx="93.28" cy="81.51" r="2.45" fill="#000" fill-opacity=".6"/>
<circle cx="166.17" cy="83.6" r="2.45" fill="#000" fill-opacity=".6"/>
<circle cx="93.87" cy="107.21" r="2.45" fill="#000" fill-opacity=".6"/>
<circle cx="101.17" cy="54.1" r="2.45" fill="#000" fill-opacity=".6"/>
<circle cx="78.62" cy="126.99" r="2.45" fill="#000" fill-opacity=".6"/>
<circle cx="133.21" cy="81.28" r="2.45" fill="#000" fill-opacity=".6"/>
<circle cx="99.8" cy="135.49" r="2.45" fill="#000" fill-opacity=".6"/>
<circle cx="150.31" cy="96.61" r="2.45" fill="#000" fill-opacity=".6"/>
<circle cx="110.84" cy="85.72" r="2.45" fill="#000" fill-opacity=".6"/>
<circle cx="111.68" cy="131.47" r="2.45" fill="#000" fill-opacity=".6"/>
<circle cx="137.97" cy="88.38" r="2.45" fill="#000" fill-opacity=".6"/>
<circle cx="93.53" cy="126.44" r="2.45" fill="#000" fill-opacity=".6"/>
<circle cx="152.01" cy="148.77" r="2.45" fill="#000" fill-opacity=".6"/>
<circle cx="111.65" cy="126.25" r="2.45" fill="#000" fill-opacity=".6"/>
<circle cx="111.45" cy="129.07" r="2.45" fill="#000" fill-opacity=".6"/>
<circle cx="124.78" cy="113.09" r="2.45" fill="#000" fill-opacity=".6"/>
<circle cx="136.88" cy="127.76" r="2.45" fill="#000" fill-opacity=".6"/>
<circle cx="123.97" cy="56.63" r="2.45" fill="#000" fill-opacity=".6"/>
<circle cx="119.91" cy="80.2" r="2.45" fill="#000" fill-opacity=".6"/>
<circle cx="132.87" cy="108.17" r="2.45" fill="#000" fill-opacity=".6"/>
<circle cx="132.46" cy="87.43" r="2.45" fill="#000" fill-opacity=".6"/>
<circle cx="110.47" cy="144.17" r="2.45" fill="#000" fill-opacity=".6"/>
<circle cx="87.4" cy="76.69" r="2.45" fill="#000" fill-opacity=".6"/>
<circle cx="119.5" cy="118.17" r="2.45" fill="#000" fill-opacity=".6"/>
<circle cx="107.86" cy="143.99" r="2.45" fill="#000" fill-opacity=".6"/>
<circle cx="111.25" cy="158.35" r="2.45" fill="#000" fill-opacity=".6"/>
<circle cx="119.71" cy="80.63" r="2.45" fill="#000" fill-opacity=".6"/>
<circle cx="111.73" cy="68.67" r="2.45" fill="#000" fill-opacity=".6"/>
<circle cx="147.59" cy="79.94" r="2.45" fill="#000" fill-opacity=".6"/>
<circle cx="147.94" cy="83.02" r="2.45" fill="#000" fill-opacity=".6"/>
<circle cx="109.79" cy="77.81" r="2.45" fill="#000" fill-opacity=".6"/>
<circle cx="104.44" cy="60.33" r="2.45" fill="#000" fill-opacity=".6"/>
<circle cx="150.56" cy="99.52" r="2.45" fill="#000" fill-opacity=".6"/>
<circle cx="112.76" cy="147.09" r="2.45" fill="#000" fill-opacity=".6"/>
<circle cx="116.08" cy="125.83" r="2.45" fill="#000" fill-opacity=".6"/>
<circle cx="124.52" cy="112.9" r="2.45" fill="#000" fill-opacity=".6"/>
</g>
<path d="M32.98 82.95 L41.81 85.1 L50.65 87.25 L59.48 89.39 L68.31 91.51 L77.14 93.61 L85.97 95.69 L94.8 97.71 L103.63 99.66 L112.46 101.49 L121.29 103.11 L130.12 104.47 L138.96 105.58 L147.79 106.5 L156.62 107.3 L165.45 108.03 L174.28 108.72 L183.11 109.38 L191.94 110.02 L200.77 110.64 L209.6 111.26 L209.6 127.35 L200.77 125.2 L191.94 123.06 L183.11 120.94 L174.28 118.83 L165.45 116.75 L156.62 114.72 L147.79 112.75 L138.96 110.91 L130.12 109.25 L121.29 107.85 L112.46 106.71 L103.63 105.77 L94.8 104.96 L85.97 104.22 L77.14 103.53 L68.31 102.87 L59.48 102.23 L50.65 101.6 L41.81 100.98 L32.98 100.37Z" fill="#d9d9d9" fill-opacity=".4"/>
<line x1="32.98" y1="91.66" x2="209.6" y2="119.3" stroke="#0a0aff" stroke-width="1.55"/>
<line x1="24.3" y1="9" x2="24.3" y2="197.7" stroke="#333" stroke-width="1"/>
<line x1="23.8" y1="197.2" x2="218.9" y2="197.2" stroke="#333" stroke-width="1"/>
<line x1="40" y1="197.2" x2="40" y2="199.7" stroke="#333" stroke-width="1"/>
<text x="40" y="207.6" font-size="8" text-anchor="middle">3</text>
<line x1="69.86" y1="197.2" x2="69.86" y2="199.7" stroke="#333" stroke-width="1"/>
<text x="69.86" y="207.6" font-size="8" text-anchor="middle">4</text>
<line x1="99.72" y1="197.2" x2="99.72" y2="199.7" stroke="#333" stroke-width="1"/>
<text x="99.72" y="207.6" font-size="8" text-anchor="middle">5</text>
<line x1="129.58" y1="197.2" x2="129.58" y2="199.7" stroke="#333" stroke-width="1"/>
<text x="129.58" y="207.6" font-size="8" text-anchor="middle">6</text>
<line x1="159.44" y1="197.2" x2="159.44" y2="199.7" stroke="#333" stroke-width="1"/>
<text x="159.44" y="207.6" font-size="8" text-anchor="middle">7</text>
<line x1="189.3" y1="197.2" x2="189.3" y2="199.7" stroke="#333" stroke-width="1"/>
<text x="189.3" y="207.6" font-size="8" text-anchor="middle">8</text>
<line x1="21.8" y1="172.4" x2="24.3" y2="172.4" stroke="#333" stroke-width="1"/>
<text x="20.4" y="175.3" font-size="8" text-anchor="end">1</text>
<line x1="21.8" y1="138.9" x2="24.3" y2="138.9" stroke="#333" stroke-width="1"/>
<text x="20.4" y="141.8" font-size="8" text-anchor="end">2</text>
<line x1="21.8" y1="105.4" x2="24.3" y2="105.4" stroke="#333" stroke-width="1"/>
<text x="20.4" y="108.3" font-size="8" text-anchor="end">3</text>
<line x1="21.8" y1="71.9" x2="24.3" y2="71.9" stroke="#333" stroke-width="1"/>
<text x="20.4" y="74.8" font-size="8" text-anchor="end">4</text>
<line x1="21.8" y1="38.4" x2="24.3" y2="38.4" stroke="#333" stroke-width="1"/>
<text x="20.4" y="41.3" font-size="8" text-anchor="end">5</text>
<text x="121.6" y="216.9" font-size="7.9" text-anchor="middle">KLF4</text>
<text x="13.4" y="103.5" font-size="7.8" text-anchor="middle" transform="rotate(-90 13.4 103.5)">KLF7</text>
<text x="0.3" y="8.6" font-size="14.5" fill="#000" font-weight="bold">a</text>
<text x="271.2" y="54.0" font-size="7.05" fill="#222"><tspan font-style="italic">R</tspan> = – 0.15, <tspan font-style="italic">p</tspan> = 0.00077</text>
<g>
<circle cx="296.14" cy="44.44" r="2.4" fill="#000" fill-opacity=".6"/>
<circle cx="291.71" cy="52.34" r="2.4" fill="#000" fill-opacity=".6"/>
<circle cx="304.24" cy="71.45" r="2.4" fill="#000" fill-opacity=".6"/>
<circle cx="308" cy="71.45" r="2.4" fill="#000" fill-opacity=".6"/>
<circle cx="283.18" cy="82.67" r="2.4" fill="#000" fill-opacity=".6"/>
<circle cx="270.65" cy="85.58" r="2.4" fill="#000" fill-opacity=".6"/>
<circle cx="311.09" cy="83.09" r="2.4" fill="#000" fill-opacity=".6"/>
<circle cx="304.24" cy="86.83" r="2.4" fill="#000" fill-opacity=".6"/>
<circle cx="306.75" cy="89.32" r="2.4" fill="#000" fill-opacity=".6"/>
<circle cx="288.37" cy="90.57" r="2.4" fill="#000" fill-opacity=".6"/>
<circle cx="318.45" cy="89.74" r="2.4" fill="#000" fill-opacity=".6"/>
<circle cx="329.14" cy="46.52" r="2.4" fill="#000" fill-opacity=".6"/>
<circle cx="332.49" cy="51.51" r="2.4" fill="#000" fill-opacity=".6"/>
<circle cx="334.99" cy="59.82" r="2.4" fill="#000" fill-opacity=".6"/>
<circle cx="336.83" cy="61.06" r="2.4" fill="#000" fill-opacity=".6"/>
<circle cx="355.05" cy="61.48" r="2.4" fill="#000" fill-opacity=".6"/>
<circle cx="362.98" cy="64.39" r="2.4" fill="#000" fill-opacity=".6"/>
<circle cx="333.49" cy="67.46" r="2.4" fill="#000" fill-opacity=".6"/>
<circle cx="329.14" cy="74.78" r="2.4" fill="#000" fill-opacity=".6"/>
<circle cx="332.9" cy="76.44" r="2.4" fill="#000" fill-opacity=".6"/>
<circle cx="338.17" cy="77.69" r="2.4" fill="#000" fill-opacity=".6"/>
<circle cx="342.51" cy="77.1" r="2.4" fill="#000" fill-opacity=".6"/>
<circle cx="350.87" cy="75.61" r="2.4" fill="#000" fill-opacity=".6"/>
<circle cx="357.97" cy="76.44" r="2.4" fill="#000" fill-opacity=".6"/>
<circle cx="361.31" cy="76.02" r="2.4" fill="#000" fill-opacity=".6"/>
<circle cx="347.11" cy="78.93" r="2.4" fill="#000" fill-opacity=".6"/>
<circle cx="348.78" cy="78.52" r="2.4" fill="#000" fill-opacity=".6"/>
<circle cx="345.02" cy="80.6" r="2.4" fill="#000" fill-opacity=".6"/>
<circle cx="355.21" cy="80.43" r="2.4" fill="#000" fill-opacity=".6"/>
<circle cx="360.9" cy="81.84" r="2.4" fill="#000" fill-opacity=".6"/>
<circle cx="320.95" cy="82.67" r="2.4" fill="#000" fill-opacity=".6"/>
<circle cx="329.14" cy="82.01" r="2.4" fill="#000" fill-opacity=".6"/>
<circle cx="333.49" cy="81.84" r="2.4" fill="#000" fill-opacity=".6"/>
<circle cx="342.51" cy="82.67" r="2.4" fill="#000" fill-opacity=".6"/>
<circle cx="367.16" cy="83.5" r="2.4" fill="#000" fill-opacity=".6"/>
<circle cx="324.13" cy="85.58" r="2.4" fill="#000" fill-opacity=".6"/>
<circle cx="329.14" cy="86.83" r="2.4" fill="#000" fill-opacity=".6"/>
<circle cx="335.41" cy="86.83" r="2.4" fill="#000" fill-opacity=".6"/>
<circle cx="339.17" cy="87.66" r="2.4" fill="#000" fill-opacity=".6"/>
<circle cx="341.68" cy="85.58" r="2.4" fill="#000" fill-opacity=".6"/>
<circle cx="349.61" cy="83.5" r="2.4" fill="#000" fill-opacity=".6"/>
<circle cx="351.7" cy="85.17" r="2.4" fill="#000" fill-opacity=".6"/>
<circle cx="353.79" cy="84.75" r="2.4" fill="#000" fill-opacity=".6"/>
<circle cx="365.91" cy="87.24" r="2.4" fill="#000" fill-opacity=".6"/>
<circle cx="370.09" cy="86" r="2.4" fill="#000" fill-opacity=".6"/>
<circle cx="370.92" cy="88.49" r="2.4" fill="#000" fill-opacity=".6"/>
<circle cx="373.85" cy="84.75" r="2.4" fill="#000" fill-opacity=".6"/>
<circle cx="324.55" cy="88.08" r="2.4" fill="#000" fill-opacity=".6"/>
<circle cx="329.98" cy="89.32" r="2.4" fill="#000" fill-opacity=".6"/>
<circle cx="349.2" cy="89.74" r="2.4" fill="#000" fill-opacity=".6"/>
<circle cx="359.22" cy="90.57" r="2.4" fill="#000" fill-opacity=".6"/>
<circle cx="384.38" cy="49.84" r="2.4" fill="#000" fill-opacity=".6"/>
<circle cx="376.86" cy="82.26" r="2.4" fill="#000" fill-opacity=".6"/>
<circle cx="375.52" cy="84.92" r="2.4" fill="#000" fill-opacity=".6"/>
<circle cx="387.22" cy="86" r="2.4" fill="#000" fill-opacity=".6"/>
<circle cx="380.36" cy="87.66" r="2.4" fill="#000" fill-opacity=".6"/>
<circle cx="377.86" cy="89.74" r="2.4" fill="#000" fill-opacity=".6"/>
<circle cx="288.78" cy="94.52" r="2.4" fill="#000" fill-opacity=".6"/>
<circle cx="301.32" cy="94.11" r="2.4" fill="#000" fill-opacity=".6"/>
<circle cx="306.75" cy="94.11" r="2.4" fill="#000" fill-opacity=".6"/>
<circle cx="315.52" cy="94.94" r="2.4" fill="#000" fill-opacity=".6"/>
<circle cx="318.45" cy="97.43" r="2.4" fill="#000" fill-opacity=".6"/>
<circle cx="281.68" cy="99.51" r="2.4" fill="#000" fill-opacity=".6"/>
<circle cx="298.81" cy="99.51" r="2.4" fill="#000" fill-opacity=".6"/>
<circle cx="303.16" cy="98.68" r="2.4" fill="#000" fill-opacity=".6"/>
<circle cx="307" cy="99.93" r="2.4" fill="#000" fill-opacity=".6"/>
<circle cx="315.52" cy="100.76" r="2.4" fill="#000" fill-opacity=".6"/>
<circle cx="317.86" cy="102.42" r="2.4" fill="#000" fill-opacity=".6"/>
<circle cx="283.52" cy="104.08" r="2.4" fill="#000" fill-opacity=".6"/>
<circle cx="295.64" cy="105.58" r="2.4" fill="#000" fill-opacity=".6"/>
<circle cx="299.65" cy="109.49" r="2.4" fill="#000" fill-opacity=".6"/>
<circle cx="302.32" cy="110.07" r="2.4" fill="#000" fill-opacity=".6"/>
<circle cx="311.34" cy="110.32" r="2.4" fill="#000" fill-opacity=".6"/>
<circle cx="316.36" cy="109.49" r="2.4" fill="#000" fill-opacity=".6"/>
<circle cx="290.87" cy="114.47" r="2.4" fill="#000" fill-opacity=".6"/>
<circle cx="299.65" cy="115.3" r="2.4" fill="#000" fill-opacity=".6"/>
<circle cx="309.51" cy="115.3" r="2.4" fill="#000" fill-opacity=".6"/>
<circle cx="314.69" cy="115.3" r="2.4" fill="#000" fill-opacity=".6"/>
<circle cx="277.5" cy="120.54" r="2.4" fill="#000" fill-opacity=".6"/>
<circle cx="277.5" cy="123.2" r="2.4" fill="#000" fill-opacity=".6"/>
<circle cx="303.82" cy="120.29" r="2.4" fill="#000" fill-opacity=".6"/>
<circle cx="308.42" cy="119.87" r="2.4" fill="#000" fill-opacity=".6"/>
<circle cx="301.74" cy="122.78" r="2.4" fill="#000" fill-opacity=".6"/>
<circle cx="317.61" cy="119.87" r="2.4" fill="#000" fill-opacity=".6"/>
<circle cx="292.54" cy="125.53" r="2.4" fill="#000" fill-opacity=".6"/>
<circle cx="308" cy="124.86" r="2.4" fill="#000" fill-opacity=".6"/>
<circle cx="308" cy="127.35" r="2.4" fill="#000" fill-opacity=".6"/>
<circle cx="305.5" cy="129.43" r="2.4" fill="#000" fill-opacity=".6"/>
<circle cx="311.34" cy="130.68" r="2.4" fill="#000" fill-opacity=".6"/>
<circle cx="316.78" cy="129.43" r="2.4" fill="#000" fill-opacity=".6"/>
<circle cx="292.54" cy="132.76" r="2.4" fill="#000" fill-opacity=".6"/>
<circle cx="305.5" cy="134.84" r="2.4" fill="#000" fill-opacity=".6"/>
<circle cx="310.93" cy="135.67" r="2.4" fill="#000" fill-opacity=".6"/>
<circle cx="313.85" cy="134.42" r="2.4" fill="#000" fill-opacity=".6"/>
<circle cx="315.94" cy="136.91" r="2.4" fill="#000" fill-opacity=".6"/>
<circle cx="314.69" cy="139.41" r="2.4" fill="#000" fill-opacity=".6"/>
<circle cx="295.47" cy="142.73" r="2.4" fill="#000" fill-opacity=".6"/>
<circle cx="305.5" cy="143.56" r="2.4" fill="#000" fill-opacity=".6"/>
<circle cx="312.18" cy="143.15" r="2.4" fill="#000" fill-opacity=".6"/>
<circle cx="329.14" cy="91.62" r="2.4" fill="#000" fill-opacity=".6"/>
<circle cx="338.33" cy="92.86" r="2.4" fill="#000" fill-opacity=".6"/>
<circle cx="349.2" cy="91.62" r="2.4" fill="#000" fill-opacity=".6"/>
<circle cx="358.81" cy="92.03" r="2.4" fill="#000" fill-opacity=".6"/>
<circle cx="364.24" cy="93.69" r="2.4" fill="#000" fill-opacity=".6"/>
<circle cx="369.25" cy="92.03" r="2.4" fill="#000" fill-opacity=".6"/>
<circle cx="372.59" cy="92.45" r="2.4" fill="#000" fill-opacity=".6"/>
<circle cx="320.37" cy="97.02" r="2.4" fill="#000" fill-opacity=".6"/>
<circle cx="324.55" cy="96.19" r="2.4" fill="#000" fill-opacity=".6"/>
<circle cx="326.64" cy="98.27" r="2.4" fill="#000" fill-opacity=".6"/>
<circle cx="334.16" cy="95.77" r="2.4" fill="#000" fill-opacity=".6"/>
<circle cx="339.17" cy="94.94" r="2.4" fill="#000" fill-opacity=".6"/>
<circle cx="344.18" cy="96.6" r="2.4" fill="#000" fill-opacity=".6"/>
<circle cx="348.36" cy="95.77" r="2.4" fill="#000" fill-opacity=".6"/>
<circle cx="353.38" cy="95.36" r="2.4" fill="#000" fill-opacity=".6"/>
<circle cx="360.9" cy="97.02" r="2.4" fill="#000" fill-opacity=".6"/>
<circle cx="365.07" cy="96.6" r="2.4" fill="#000" fill-opacity=".6"/>
<circle cx="370.5" cy="96.6" r="2.4" fill="#000" fill-opacity=".6"/>
<circle cx="323.29" cy="100.76" r="2.4" fill="#000" fill-opacity=".6"/>
<circle cx="331.65" cy="100.76" r="2.4" fill="#000" fill-opacity=".6"/>
<circle cx="335.83" cy="99.1" r="2.4" fill="#000" fill-opacity=".6"/>
<circle cx="338.33" cy="101.59" r="2.4" fill="#000" fill-opacity=".6"/>
<circle cx="344.18" cy="99.93" r="2.4" fill="#000" fill-opacity=".6"/>
<circle cx="346.69" cy="99.93" r="2.4" fill="#000" fill-opacity=".6"/>
<circle cx="352.12" cy="102.84" r="2.4" fill="#000" fill-opacity=".6"/>
<circle cx="355.05" cy="99.51" r="2.4" fill="#000" fill-opacity=".6"/>
<circle cx="359.22" cy="99.93" r="2.4" fill="#000" fill-opacity=".6"/>
<circle cx="365.91" cy="100.76" r="2.4" fill="#000" fill-opacity=".6"/>
<circle cx="369.25" cy="99.93" r="2.4" fill="#000" fill-opacity=".6"/>
<circle cx="373.43" cy="99.93" r="2.4" fill="#000" fill-opacity=".6"/>
<circle cx="326.64" cy="104.5" r="2.4" fill="#000" fill-opacity=".6"/>
<circle cx="330.81" cy="103.25" r="2.4" fill="#000" fill-opacity=".6"/>
<circle cx="335.83" cy="104.5" r="2.4" fill="#000" fill-opacity=".6"/>
<circle cx="340.84" cy="103.25" r="2.4" fill="#000" fill-opacity=".6"/>
<circle cx="346.69" cy="104.91" r="2.4" fill="#000" fill-opacity=".6"/>
<circle cx="348.36" cy="105.75" r="2.4" fill="#000" fill-opacity=".6"/>
<circle cx="354.21" cy="106.99" r="2.4" fill="#000" fill-opacity=".6"/>
<circle cx="360.9" cy="107.41" r="2.4" fill="#000" fill-opacity=".6"/>
<circle cx="365.07" cy="104.91" r="2.4" fill="#000" fill-opacity=".6"/>
<circle cx="369.25" cy="106.58" r="2.4" fill="#000" fill-opacity=".6"/>
<circle cx="373.85" cy="104.91" r="2.4" fill="#000" fill-opacity=".6"/>
<circle cx="319.95" cy="108.65" r="2.4" fill="#000" fill-opacity=".6"/>
<circle cx="322.46" cy="110.73" r="2.4" fill="#000" fill-opacity=".6"/>
<circle cx="327.47" cy="108.65" r="2.4" fill="#000" fill-opacity=".6"/>
<circle cx="329.14" cy="110.73" r="2.4" fill="#000" fill-opacity=".6"/>
<circle cx="335.83" cy="108.24" r="2.4" fill="#000" fill-opacity=".6"/>
<circle cx="341.68" cy="109.07" r="2.4" fill="#000" fill-opacity=".6"/>
<circle cx="347.53" cy="110.32" r="2.4" fill="#000" fill-opacity=".6"/>
<circle cx="350.87" cy="111.15" r="2.4" fill="#000" fill-opacity=".6"/>
<circle cx="358.39" cy="111.56" r="2.4" fill="#000" fill-opacity=".6"/>
<circle cx="361.73" cy="108.65" r="2.4" fill="#000" fill-opacity=".6"/>
<circle cx="364.66" cy="111.56" r="2.4" fill="#000" fill-opacity=".6"/>
<circle cx="368.83" cy="112.39" r="2.4" fill="#000" fill-opacity=".6"/>
<circle cx="324.13" cy="114.06" r="2.4" fill="#000" fill-opacity=".6"/>
<circle cx="328.31" cy="112.39" r="2.4" fill="#000" fill-opacity=".6"/>
<circle cx="332.49" cy="113.23" r="2.4" fill="#000" fill-opacity=".6"/>
<circle cx="338.33" cy="114.47" r="2.4" fill="#000" fill-opacity=".6"/>
<circle cx="342.51" cy="112.39" r="2.4" fill="#000" fill-opacity=".6"/>
<circle cx="346.69" cy="114.89" r="2.4" fill="#000" fill-opacity=".6"/>
<circle cx="351.7" cy="113.64" r="2.4" fill="#000" fill-opacity=".6"/>
<circle cx="357.55" cy="116.97" r="2.4" fill="#000" fill-opacity=".6"/>
<circle cx="362.57" cy="116.97" r="2.4" fill="#000" fill-opacity=".6"/>
<circle cx="367.16" cy="116.97" r="2.4" fill="#000" fill-opacity=".6"/>
<circle cx="370.92" cy="114.06" r="2.4" fill="#000" fill-opacity=".6"/>
<circle cx="319.95" cy="117.38" r="2.4" fill="#000" fill-opacity=".6"/>
<circle cx="324.13" cy="117.38" r="2.4" fill="#000" fill-opacity=".6"/>
<circle cx="331.65" cy="118.21" r="2.4" fill="#000" fill-opacity=".6"/>
<circle cx="336.66" cy="116.55" r="2.4" fill="#000" fill-opacity=".6"/>
<circle cx="348.36" cy="116.13" r="2.4" fill="#000" fill-opacity=".6"/>
<circle cx="353.38" cy="116.55" r="2.4" fill="#000" fill-opacity=".6"/>
<circle cx="372.59" cy="118.21" r="2.4" fill="#000" fill-opacity=".6"/>
<circle cx="319.95" cy="120.71" r="2.4" fill="#000" fill-opacity=".6"/>
<circle cx="324.13" cy="122.37" r="2.4" fill="#000" fill-opacity=".6"/>
<circle cx="331.65" cy="121.95" r="2.4" fill="#000" fill-opacity=".6"/>
<circle cx="339.17" cy="122.37" r="2.4" fill="#000" fill-opacity=".6"/>
<circle cx="345.02" cy="122.78" r="2.4" fill="#000" fill-opacity=".6"/>
<circle cx="349.2" cy="122.37" r="2.4" fill="#000" fill-opacity=".6"/>
<circle cx="355.88" cy="123.2" r="2.4" fill="#000" fill-opacity=".6"/>
<circle cx="362.57" cy="123.61" r="2.4" fill="#000" fill-opacity=".6"/>
<circle cx="367.58" cy="123.2" r="2.4" fill="#000" fill-opacity=".6"/>
<circle cx="371.76" cy="124.03" r="2.4" fill="#000" fill-opacity=".6"/>
<circle cx="323.29" cy="126.52" r="2.4" fill="#000" fill-opacity=".6"/>
<circle cx="329.14" cy="125.69" r="2.4" fill="#000" fill-opacity=".6"/>
<circle cx="332.49" cy="125.28" r="2.4" fill="#000" fill-opacity=".6"/>
<circle cx="340.01" cy="126.52" r="2.4" fill="#000" fill-opacity=".6"/>
<circle cx="346.69" cy="126.94" r="2.4" fill="#000" fill-opacity=".6"/>
<circle cx="352.54" cy="126.11" r="2.4" fill="#000" fill-opacity=".6"/>
<circle cx="357.55" cy="124.45" r="2.4" fill="#000" fill-opacity=".6"/>
<circle cx="360.06" cy="128.19" r="2.4" fill="#000" fill-opacity=".6"/>
<circle cx="364.24" cy="128.19" r="2.4" fill="#000" fill-opacity=".6"/>
<circle cx="325.38" cy="131.51" r="2.4" fill="#000" fill-opacity=".6"/>
<circle cx="330.4" cy="130.68" r="2.4" fill="#000" fill-opacity=".6"/>
<circle cx="335.83" cy="133.17" r="2.4" fill="#000" fill-opacity=".6"/>
<circle cx="341.68" cy="129.85" r="2.4" fill="#000" fill-opacity=".6"/>
<circle cx="345.02" cy="129.85" r="2.4" fill="#000" fill-opacity=".6"/>
<circle cx="350.03" cy="133.17" r="2.4" fill="#000" fill-opacity=".6"/>
<circle cx="352.54" cy="132.34" r="2.4" fill="#000" fill-opacity=".6"/>
<circle cx="359.22" cy="129.43" r="2.4" fill="#000" fill-opacity=".6"/>
<circle cx="362.57" cy="133.17" r="2.4" fill="#000" fill-opacity=".6"/>
<circle cx="369.25" cy="133.17" r="2.4" fill="#000" fill-opacity=".6"/>
<circle cx="373.43" cy="129.85" r="2.4" fill="#000" fill-opacity=".6"/>
<circle cx="332.49" cy="134.42" r="2.4" fill="#000" fill-opacity=".6"/>
<circle cx="338.33" cy="136.08" r="2.4" fill="#000" fill-opacity=".6"/>
<circle cx="343.35" cy="132.34" r="2.4" fill="#000" fill-opacity=".6"/>
<circle cx="348.78" cy="135.67" r="2.4" fill="#000" fill-opacity=".6"/>
<circle cx="355.88" cy="136.5" r="2.4" fill="#000" fill-opacity=".6"/>
<circle cx="364.24" cy="134.42" r="2.4" fill="#000" fill-opacity=".6"/>
<circle cx="370.92" cy="135.67" r="2.4" fill="#000" fill-opacity=".6"/>
<circle cx="324.96" cy="136.5" r="2.4" fill="#000" fill-opacity=".6"/>
<circle cx="335.83" cy="138.99" r="2.4" fill="#000" fill-opacity=".6"/>
<circle cx="340.01" cy="137.74" r="2.4" fill="#000" fill-opacity=".6"/>
<circle cx="347.53" cy="138.99" r="2.4" fill="#000" fill-opacity=".6"/>
<circle cx="354.21" cy="139.41" r="2.4" fill="#000" fill-opacity=".6"/>
<circle cx="358.39" cy="138.16" r="2.4" fill="#000" fill-opacity=".6"/>
<circle cx="362.57" cy="139.82" r="2.4" fill="#000" fill-opacity=".6"/>
<circle cx="369.25" cy="140.65" r="2.4" fill="#000" fill-opacity=".6"/>
<circle cx="325.8" cy="142.32" r="2.4" fill="#000" fill-opacity=".6"/>
<circle cx="329.98" cy="143.15" r="2.4" fill="#000" fill-opacity=".6"/>
<circle cx="334.16" cy="143.56" r="2.4" fill="#000" fill-opacity=".6"/>
<circle cx="340.01" cy="142.73" r="2.4" fill="#000" fill-opacity=".6"/>
<circle cx="349.2" cy="141.48" r="2.4" fill="#000" fill-opacity=".6"/>
<circle cx="355.05" cy="142.32" r="2.4" fill="#000" fill-opacity=".6"/>
<circle cx="360.9" cy="142.73" r="2.4" fill="#000" fill-opacity=".6"/>
<circle cx="365.91" cy="141.48" r="2.4" fill="#000" fill-opacity=".6"/>
<circle cx="372.59" cy="142.32" r="2.4" fill="#000" fill-opacity=".6"/>
<circle cx="392.9" cy="96.77" r="2.4" fill="#000" fill-opacity=".6"/>
<circle cx="383.29" cy="99.1" r="2.4" fill="#000" fill-opacity=".6"/>
<circle cx="393.57" cy="100.59" r="2.4" fill="#000" fill-opacity=".6"/>
<circle cx="377.86" cy="104.08" r="2.4" fill="#000" fill-opacity=".6"/>
<circle cx="383.71" cy="103.67" r="2.4" fill="#000" fill-opacity=".6"/>
<circle cx="397.91" cy="104.91" r="2.4" fill="#000" fill-opacity=".6"/>
<circle cx="375.35" cy="105.33" r="2.4" fill="#000" fill-opacity=".6"/>
<circle cx="383.29" cy="106.99" r="2.4" fill="#000" fill-opacity=".6"/>
<circle cx="393.57" cy="106.74" r="2.4" fill="#000" fill-opacity=".6"/>
<circle cx="377.44" cy="109.07" r="2.4" fill="#000" fill-opacity=".6"/>
<circle cx="388.72" cy="114.06" r="2.4" fill="#000" fill-opacity=".6"/>
<circle cx="402.09" cy="114.89" r="2.4" fill="#000" fill-opacity=".6"/>
<circle cx="412.12" cy="115.3" r="2.4" fill="#000" fill-opacity=".6"/>
<circle cx="393.32" cy="116.38" r="2.4" fill="#000" fill-opacity=".6"/>
<circle cx="375.77" cy="117.38" r="2.4" fill="#000" fill-opacity=".6"/>
<circle cx="381.2" cy="117.8" r="2.4" fill="#000" fill-opacity=".6"/>
<circle cx="388.3" cy="117.8" r="2.4" fill="#000" fill-opacity=".6"/>
<circle cx="378.28" cy="119.46" r="2.4" fill="#000" fill-opacity=".6"/>
<circle cx="384.54" cy="119.46" r="2.4" fill="#000" fill-opacity=".6"/>
<circle cx="391.23" cy="118.63" r="2.4" fill="#000" fill-opacity=".6"/>
<circle cx="397.91" cy="119.87" r="2.4" fill="#000" fill-opacity=".6"/>
<circle cx="412.95" cy="117.38" r="2.4" fill="#000" fill-opacity=".6"/>
<circle cx="415.04" cy="119.46" r="2.4" fill="#000" fill-opacity=".6"/>
<circle cx="384.54" cy="124.03" r="2.4" fill="#000" fill-opacity=".6"/>
<circle cx="416.3" cy="124.45" r="2.4" fill="#000" fill-opacity=".6"/>
<circle cx="375.77" cy="129.85" r="2.4" fill="#000" fill-opacity=".6"/>
<circle cx="382.04" cy="131.09" r="2.4" fill="#000" fill-opacity=".6"/>
<circle cx="387.89" cy="130.68" r="2.4" fill="#000" fill-opacity=".6"/>
<circle cx="394.99" cy="129.02" r="2.4" fill="#000" fill-opacity=".6"/>
<circle cx="398.33" cy="129.85" r="2.4" fill="#000" fill-opacity=".6"/>
<circle cx="376.19" cy="136.5" r="2.4" fill="#000" fill-opacity=".6"/>
<circle cx="405.43" cy="141.48" r="2.4" fill="#000" fill-opacity=".6"/>
<circle cx="376.19" cy="142.32" r="2.4" fill="#000" fill-opacity=".6"/>
<circle cx="388.72" cy="143.98" r="2.4" fill="#000" fill-opacity=".6"/>
<circle cx="318.45" cy="145.44" r="2.4" fill="#000" fill-opacity=".6"/>
<circle cx="312.6" cy="149.85" r="2.4" fill="#000" fill-opacity=".6"/>
<circle cx="307.17" cy="152.51" r="2.4" fill="#000" fill-opacity=".6"/>
<circle cx="310.09" cy="153.17" r="2.4" fill="#000" fill-opacity=".6"/>
<circle cx="299.81" cy="157.49" r="2.4" fill="#000" fill-opacity=".6"/>
<circle cx="276.92" cy="173.28" r="2.4" fill="#000" fill-opacity=".6"/>
<circle cx="311.93" cy="177.69" r="2.4" fill="#000" fill-opacity=".6"/>
<circle cx="313.43" cy="189.74" r="2.4" fill="#000" fill-opacity=".6"/>
<circle cx="330.81" cy="147.52" r="2.4" fill="#000" fill-opacity=".6"/>
<circle cx="341.68" cy="146.69" r="2.4" fill="#000" fill-opacity=".6"/>
<circle cx="344.18" cy="147.52" r="2.4" fill="#000" fill-opacity=".6"/>
<circle cx="362.57" cy="146.27" r="2.4" fill="#000" fill-opacity=".6"/>
<circle cx="325.38" cy="151.26" r="2.4" fill="#000" fill-opacity=".6"/>
<circle cx="329.14" cy="152.09" r="2.4" fill="#000" fill-opacity=".6"/>
<circle cx="336.25" cy="150.01" r="2.4" fill="#000" fill-opacity=".6"/>
<circle cx="346.69" cy="150.01" r="2.4" fill="#000" fill-opacity=".6"/>
<circle cx="349.61" cy="150.01" r="2.4" fill="#000" fill-opacity=".6"/>
<circle cx="364.24" cy="150.43" r="2.4" fill="#000" fill-opacity=".6"/>
<circle cx="370.09" cy="149.18" r="2.4" fill="#000" fill-opacity=".6"/>
<circle cx="373.43" cy="150.84" r="2.4" fill="#000" fill-opacity=".6"/>
<circle cx="324.13" cy="156.25" r="2.4" fill="#000" fill-opacity=".6"/>
<circle cx="332.07" cy="155.83" r="2.4" fill="#000" fill-opacity=".6"/>
<circle cx="339.17" cy="154.17" r="2.4" fill="#000" fill-opacity=".6"/>
<circle cx="342.09" cy="152.92" r="2.4" fill="#000" fill-opacity=".6"/>
<circle cx="340.01" cy="156.66" r="2.4" fill="#000" fill-opacity=".6"/>
<circle cx="348.36" cy="154.58" r="2.4" fill="#000" fill-opacity=".6"/>
<circle cx="346.27" cy="157.91" r="2.4" fill="#000" fill-opacity=".6"/>
<circle cx="358.81" cy="152.51" r="2.4" fill="#000" fill-opacity=".6"/>
<circle cx="359.64" cy="155" r="2.4" fill="#000" fill-opacity=".6"/>
<circle cx="356.72" cy="157.08" r="2.4" fill="#000" fill-opacity=".6"/>
<circle cx="358.39" cy="159.15" r="2.4" fill="#000" fill-opacity=".6"/>
<circle cx="368.42" cy="153.34" r="2.4" fill="#000" fill-opacity=".6"/>
<circle cx="371.76" cy="154.17" r="2.4" fill="#000" fill-opacity=".6"/>
<circle cx="338.33" cy="160.82" r="2.4" fill="#000" fill-opacity=".6"/>
<circle cx="352.12" cy="161.23" r="2.4" fill="#000" fill-opacity=".6"/>
<circle cx="370.09" cy="158.74" r="2.4" fill="#000" fill-opacity=".6"/>
<circle cx="370.5" cy="163.31" r="2.4" fill="#000" fill-opacity=".6"/>
<circle cx="341.68" cy="162.89" r="2.4" fill="#000" fill-opacity=".6"/>
<circle cx="340.42" cy="164.97" r="2.4" fill="#000" fill-opacity=".6"/>
<circle cx="337.92" cy="167.05" r="2.4" fill="#000" fill-opacity=".6"/>
<circle cx="331.65" cy="173.28" r="2.4" fill="#000" fill-opacity=".6"/>
<circle cx="329.98" cy="174.95" r="2.4" fill="#000" fill-opacity=".6"/>
<circle cx="340.84" cy="175.36" r="2.4" fill="#000" fill-opacity=".6"/>
<circle cx="344.18" cy="174.11" r="2.4" fill="#000" fill-opacity=".6"/>
<circle cx="343.77" cy="178.27" r="2.4" fill="#000" fill-opacity=".6"/>
<circle cx="350.45" cy="172.04" r="2.4" fill="#000" fill-opacity=".6"/>
<circle cx="354.63" cy="172.04" r="2.4" fill="#000" fill-opacity=".6"/>
<circle cx="357.55" cy="170.79" r="2.4" fill="#000" fill-opacity=".6"/>
<circle cx="367.58" cy="172.45" r="2.4" fill="#000" fill-opacity=".6"/>
<circle cx="365.49" cy="176.61" r="2.4" fill="#000" fill-opacity=".6"/>
<circle cx="373.85" cy="169.96" r="2.4" fill="#000" fill-opacity=".6"/>
<circle cx="373.85" cy="174.95" r="2.4" fill="#000" fill-opacity=".6"/>
<circle cx="322.46" cy="183.92" r="2.4" fill="#000" fill-opacity=".6"/>
<circle cx="357.72" cy="182.01" r="2.4" fill="#000" fill-opacity=".6"/>
<circle cx="372.59" cy="181.18" r="2.4" fill="#000" fill-opacity=".6"/>
<circle cx="375.35" cy="146.69" r="2.4" fill="#000" fill-opacity=".6"/>
<circle cx="394.57" cy="148.76" r="2.4" fill="#000" fill-opacity=".6"/>
<circle cx="405.85" cy="149.01" r="2.4" fill="#000" fill-opacity=".6"/>
<circle cx="400.84" cy="151.26" r="2.4" fill="#000" fill-opacity=".6"/>
<circle cx="387.89" cy="150.68" r="2.4" fill="#000" fill-opacity=".6"/>
<circle cx="381.2" cy="150.43" r="2.4" fill="#000" fill-opacity=".6"/>
<circle cx="382.87" cy="152.09" r="2.4" fill="#000" fill-opacity=".6"/>
<circle cx="379.53" cy="153.34" r="2.4" fill="#000" fill-opacity=".6"/>
<circle cx="375.35" cy="151.67" r="2.4" fill="#000" fill-opacity=".6"/>
<circle cx="374.93" cy="155" r="2.4" fill="#000" fill-opacity=".6"/>
<circle cx="410.61" cy="155" r="2.4" fill="#000" fill-opacity=".6"/>
<circle cx="377.86" cy="160.82" r="2.4" fill="#000" fill-opacity=".6"/>
<circle cx="381.87" cy="163.14" r="2.4" fill="#000" fill-opacity=".6"/>
<circle cx="382.87" cy="165.97" r="2.4" fill="#000" fill-opacity=".6"/>
<circle cx="392.06" cy="162.06" r="2.4" fill="#000" fill-opacity=".6"/>
<circle cx="394.57" cy="163.31" r="2.4" fill="#000" fill-opacity=".6"/>
<circle cx="375.35" cy="174.95" r="2.4" fill="#000" fill-opacity=".6"/>
<circle cx="397.49" cy="177.61" r="2.4" fill="#000" fill-opacity=".6"/>
<circle cx="420.89" cy="174.28" r="2.4" fill="#000" fill-opacity=".6"/>
<circle cx="373.93" cy="105.8" r="2.4" fill="#000" fill-opacity=".6"/>
<circle cx="363.73" cy="102.14" r="2.4" fill="#000" fill-opacity=".6"/>
<circle cx="348.95" cy="96.96" r="2.4" fill="#000" fill-opacity=".6"/>
<circle cx="331.73" cy="78.65" r="2.4" fill="#000" fill-opacity=".6"/>
<circle cx="328.43" cy="108.65" r="2.4" fill="#000" fill-opacity=".6"/>
<circle cx="347.04" cy="129.87" r="2.4" fill="#000" fill-opacity=".6"/>
<circle cx="348.87" cy="132.48" r="2.4" fill="#000" fill-opacity=".6"/>
<circle cx="333.52" cy="133.03" r="2.4" fill="#000" fill-opacity=".6"/>
<circle cx="352.89" cy="82.81" r="2.4" fill="#000" fill-opacity=".6"/>
<circle cx="322.01" cy="123.24" r="2.4" fill="#000" fill-opacity=".6"/>
<circle cx="360.22" cy="88.71" r="2.4" fill="#000" fill-opacity=".6"/>
<circle cx="338.72" cy="103.31" r="2.4" fill="#000" fill-opacity=".6"/>
<circle cx="333.36" cy="95.06" r="2.4" fill="#000" fill-opacity=".6"/>
<circle cx="367.14" cy="114.78" r="2.4" fill="#000" fill-opacity=".6"/>
<circle cx="360.59" cy="78.43" r="2.4" fill="#000" fill-opacity=".6"/>
<circle cx="314.36" cy="129.04" r="2.4" fill="#000" fill-opacity=".6"/>
<circle cx="381.75" cy="120.02" r="2.4" fill="#000" fill-opacity=".6"/>
<circle cx="335.77" cy="117.38" r="2.4" fill="#000" fill-opacity=".6"/>
<circle cx="352.92" cy="105.15" r="2.4" fill="#000" fill-opacity=".6"/>
<circle cx="355.12" cy="100.78" r="2.4" fill="#000" fill-opacity=".6"/>
<circle cx="313.94" cy="132.76" r="2.4" fill="#000" fill-opacity=".6"/>
<circle cx="377.98" cy="130.5" r="2.4" fill="#000" fill-opacity=".6"/>
<circle cx="344.6" cy="133.08" r="2.4" fill="#000" fill-opacity=".6"/>
<circle cx="320.77" cy="99.41" r="2.4" fill="#000" fill-opacity=".6"/>
<circle cx="344.59" cy="109.72" r="2.4" fill="#000" fill-opacity=".6"/>
<circle cx="370.39" cy="117.32" r="2.4" fill="#000" fill-opacity=".6"/>
<circle cx="331.69" cy="95.43" r="2.4" fill="#000" fill-opacity=".6"/>
<circle cx="355.51" cy="139.98" r="2.4" fill="#000" fill-opacity=".6"/>
<circle cx="356.26" cy="95.19" r="2.4" fill="#000" fill-opacity=".6"/>
<circle cx="330.07" cy="81.89" r="2.4" fill="#000" fill-opacity=".6"/>
<circle cx="341.74" cy="133.2" r="2.4" fill="#000" fill-opacity=".6"/>
<circle cx="331.24" cy="145.87" r="2.4" fill="#000" fill-opacity=".6"/>
<circle cx="375.24" cy="88.09" r="2.4" fill="#000" fill-opacity=".6"/>
<circle cx="375.62" cy="154.87" r="2.4" fill="#000" fill-opacity=".6"/>
<circle cx="329.92" cy="94.47" r="2.4" fill="#000" fill-opacity=".6"/>
<circle cx="384.5" cy="104.97" r="2.4" fill="#000" fill-opacity=".6"/>
<circle cx="333.76" cy="146.22" r="2.4" fill="#000" fill-opacity=".6"/>
<circle cx="338.3" cy="138.65" r="2.4" fill="#000" fill-opacity=".6"/>
<circle cx="381.15" cy="117.49" r="2.4" fill="#000" fill-opacity=".6"/>
<circle cx="341.47" cy="97.31" r="2.4" fill="#000" fill-opacity=".6"/>
<circle cx="337.37" cy="126.33" r="2.4" fill="#000" fill-opacity=".6"/>
<circle cx="358.96" cy="155.57" r="2.4" fill="#000" fill-opacity=".6"/>
<circle cx="351.24" cy="128.09" r="2.4" fill="#000" fill-opacity=".6"/>
<circle cx="365.13" cy="120.13" r="2.4" fill="#000" fill-opacity=".6"/>
<circle cx="350.08" cy="92.67" r="2.4" fill="#000" fill-opacity=".6"/>
<circle cx="328.97" cy="108.55" r="2.4" fill="#000" fill-opacity=".6"/>
<circle cx="331.94" cy="80.8" r="2.4" fill="#000" fill-opacity=".6"/>
<circle cx="354.11" cy="105.59" r="2.4" fill="#000" fill-opacity=".6"/>
<circle cx="318.2" cy="100" r="2.4" fill="#000" fill-opacity=".6"/>
<circle cx="360.5" cy="157.78" r="2.4" fill="#000" fill-opacity=".6"/>
<circle cx="335.19" cy="141.56" r="2.4" fill="#000" fill-opacity=".6"/>
<circle cx="375.32" cy="95.71" r="2.4" fill="#000" fill-opacity=".6"/>
<circle cx="334.47" cy="133.2" r="2.4" fill="#000" fill-opacity=".6"/>
<circle cx="348.02" cy="75.21" r="2.4" fill="#000" fill-opacity=".6"/>
<circle cx="328.02" cy="83.96" r="2.4" fill="#000" fill-opacity=".6"/>
<circle cx="356.78" cy="98.07" r="2.4" fill="#000" fill-opacity=".6"/>
<circle cx="368.25" cy="101.17" r="2.4" fill="#000" fill-opacity=".6"/>
<circle cx="341.44" cy="138.59" r="2.4" fill="#000" fill-opacity=".6"/>
<circle cx="355.94" cy="111.87" r="2.4" fill="#000" fill-opacity=".6"/>
<circle cx="327.1" cy="125.94" r="2.4" fill="#000" fill-opacity=".6"/>
<circle cx="393.73" cy="149.02" r="2.4" fill="#000" fill-opacity=".6"/>
<circle cx="369.52" cy="99.34" r="2.4" fill="#000" fill-opacity=".6"/>
<circle cx="327.95" cy="145.03" r="2.4" fill="#000" fill-opacity=".6"/>
<circle cx="315.49" cy="142.29" r="2.4" fill="#000" fill-opacity=".6"/>
<circle cx="344.76" cy="75.62" r="2.4" fill="#000" fill-opacity=".6"/>
<circle cx="359.07" cy="129" r="2.4" fill="#000" fill-opacity=".6"/>
<circle cx="332.97" cy="158.04" r="2.4" fill="#000" fill-opacity=".6"/>
<circle cx="354.6" cy="103.07" r="2.4" fill="#000" fill-opacity=".6"/>
<circle cx="330.7" cy="113.15" r="2.4" fill="#000" fill-opacity=".6"/>
<circle cx="345.83" cy="98.71" r="2.4" fill="#000" fill-opacity=".6"/>
<circle cx="347.1" cy="108.61" r="2.4" fill="#000" fill-opacity=".6"/>
<circle cx="344.57" cy="125.78" r="2.4" fill="#000" fill-opacity=".6"/>
<circle cx="321.24" cy="99.05" r="2.4" fill="#000" fill-opacity=".6"/>
<circle cx="318.86" cy="122.66" r="2.4" fill="#000" fill-opacity=".6"/>
<circle cx="393.61" cy="102.34" r="2.4" fill="#000" fill-opacity=".6"/>
<circle cx="340.61" cy="178.62" r="2.4" fill="#000" fill-opacity=".6"/>
<circle cx="341.61" cy="176.26" r="2.4" fill="#000" fill-opacity=".6"/>
<circle cx="349.37" cy="160.49" r="2.4" fill="#000" fill-opacity=".6"/>
<circle cx="349.14" cy="150.7" r="2.4" fill="#000" fill-opacity=".6"/>
<circle cx="347.4" cy="104.86" r="2.4" fill="#000" fill-opacity=".6"/>
<circle cx="319.7" cy="112.71" r="2.4" fill="#000" fill-opacity=".6"/>
<circle cx="377.14" cy="106.98" r="2.4" fill="#000" fill-opacity=".6"/>
<circle cx="342.4" cy="124.43" r="2.4" fill="#000" fill-opacity=".6"/>
<circle cx="351.48" cy="105.53" r="2.4" fill="#000" fill-opacity=".6"/>
<circle cx="349.88" cy="102.83" r="2.4" fill="#000" fill-opacity=".6"/>
<circle cx="327.26" cy="145.78" r="2.4" fill="#000" fill-opacity=".6"/>
<circle cx="344.71" cy="86.71" r="2.4" fill="#000" fill-opacity=".6"/>
<circle cx="368.61" cy="138.5" r="2.4" fill="#000" fill-opacity=".6"/>
<circle cx="344.44" cy="77.15" r="2.4" fill="#000" fill-opacity=".6"/>
<circle cx="345.3" cy="152.52" r="2.4" fill="#000" fill-opacity=".6"/>
<circle cx="391.67" cy="114.86" r="2.4" fill="#000" fill-opacity=".6"/>
<circle cx="330.03" cy="146.31" r="2.4" fill="#000" fill-opacity=".6"/>
<circle cx="338.4" cy="86.05" r="2.4" fill="#000" fill-opacity=".6"/>
<circle cx="365.87" cy="85.78" r="2.4" fill="#000" fill-opacity=".6"/>
<circle cx="361.75" cy="124.98" r="2.4" fill="#000" fill-opacity=".6"/>
<circle cx="349.27" cy="115.52" r="2.4" fill="#000" fill-opacity=".6"/>
<circle cx="383.28" cy="123.34" r="2.4" fill="#000" fill-opacity=".6"/>
<circle cx="367" cy="133.94" r="2.4" fill="#000" fill-opacity=".6"/>
<circle cx="333.93" cy="118.65" r="2.4" fill="#000" fill-opacity=".6"/>
<circle cx="344.81" cy="161.17" r="2.4" fill="#000" fill-opacity=".6"/>
<circle cx="337.77" cy="90.27" r="2.4" fill="#000" fill-opacity=".6"/>
<circle cx="347.26" cy="82.58" r="2.4" fill="#000" fill-opacity=".6"/>
<circle cx="353.07" cy="93.74" r="2.4" fill="#000" fill-opacity=".6"/>
<circle cx="327.05" cy="153.4" r="2.4" fill="#000" fill-opacity=".6"/>
<circle cx="321.91" cy="98.85" r="2.4" fill="#000" fill-opacity=".6"/>
<circle cx="384.04" cy="100.62" r="2.4" fill="#000" fill-opacity=".6"/>
<circle cx="322.42" cy="120.63" r="2.4" fill="#000" fill-opacity=".6"/>
<circle cx="328.63" cy="75.61" r="2.4" fill="#000" fill-opacity=".6"/>
<circle cx="309.41" cy="137.4" r="2.4" fill="#000" fill-opacity=".6"/>
<circle cx="355.94" cy="98.65" r="2.4" fill="#000" fill-opacity=".6"/>
<circle cx="327.47" cy="144.61" r="2.4" fill="#000" fill-opacity=".6"/>
<circle cx="370.52" cy="111.65" r="2.4" fill="#000" fill-opacity=".6"/>
<circle cx="336.88" cy="102.41" r="2.4" fill="#000" fill-opacity=".6"/>
<circle cx="337.59" cy="141.2" r="2.4" fill="#000" fill-opacity=".6"/>
<circle cx="360" cy="104.67" r="2.4" fill="#000" fill-opacity=".6"/>
<circle cx="322.12" cy="136.93" r="2.4" fill="#000" fill-opacity=".6"/>
<circle cx="371.97" cy="155.86" r="2.4" fill="#000" fill-opacity=".6"/>
<circle cx="337.57" cy="136.78" r="2.4" fill="#000" fill-opacity=".6"/>
<circle cx="337.4" cy="139.16" r="2.4" fill="#000" fill-opacity=".6"/>
<circle cx="348.76" cy="125.62" r="2.4" fill="#000" fill-opacity=".6"/>
<circle cx="359.07" cy="138.06" r="2.4" fill="#000" fill-opacity=".6"/>
<circle cx="348.07" cy="77.75" r="2.4" fill="#000" fill-opacity=".6"/>
<circle cx="344.61" cy="97.73" r="2.4" fill="#000" fill-opacity=".6"/>
<circle cx="355.65" cy="121.45" r="2.4" fill="#000" fill-opacity=".6"/>
<circle cx="355.3" cy="103.86" r="2.4" fill="#000" fill-opacity=".6"/>
<circle cx="336.56" cy="151.97" r="2.4" fill="#000" fill-opacity=".6"/>
<circle cx="316.9" cy="94.76" r="2.4" fill="#000" fill-opacity=".6"/>
<circle cx="344.26" cy="129.93" r="2.4" fill="#000" fill-opacity=".6"/>
<circle cx="334.34" cy="151.81" r="2.4" fill="#000" fill-opacity=".6"/>
<circle cx="337.23" cy="163.99" r="2.4" fill="#000" fill-opacity=".6"/>
<circle cx="344.44" cy="98.1" r="2.4" fill="#000" fill-opacity=".6"/>
<circle cx="337.63" cy="87.96" r="2.4" fill="#000" fill-opacity=".6"/>
<circle cx="368.2" cy="97.52" r="2.4" fill="#000" fill-opacity=".6"/>
<circle cx="368.5" cy="100.12" r="2.4" fill="#000" fill-opacity=".6"/>
<circle cx="335.99" cy="95.71" r="2.4" fill="#000" fill-opacity=".6"/>
<circle cx="331.43" cy="80.89" r="2.4" fill="#000" fill-opacity=".6"/>
<circle cx="370.73" cy="114.12" r="2.4" fill="#000" fill-opacity=".6"/>
<circle cx="338.51" cy="154.44" r="2.4" fill="#000" fill-opacity=".6"/>
<circle cx="341.35" cy="136.42" r="2.4" fill="#000" fill-opacity=".6"/>
<circle cx="348.53" cy="125.46" r="2.4" fill="#000" fill-opacity=".6"/>
</g>
<path d="M270.52 100.07 L278.05 101.89 L285.57 103.71 L293.1 105.53 L300.63 107.33 L308.15 109.11 L315.68 110.87 L323.21 112.58 L330.73 114.24 L338.26 115.78 L345.79 117.16 L353.31 118.32 L360.84 119.26 L368.37 120.03 L375.89 120.71 L383.42 121.33 L390.95 121.91 L398.48 122.47 L406 123.01 L413.53 123.54 L421.06 124.07 L421.06 137.71 L413.53 135.89 L406 134.07 L398.48 132.27 L390.95 130.48 L383.42 128.72 L375.89 127 L368.37 125.33 L360.84 123.77 L353.31 122.37 L345.79 121.18 L338.26 120.21 L330.73 119.41 L323.21 118.72 L315.68 118.1 L308.15 117.51 L300.63 116.95 L293.1 116.41 L285.57 115.88 L278.05 115.35 L270.52 114.84Z" fill="#d9d9d9" fill-opacity=".4"/>
<line x1="270.52" y1="107.45" x2="421.06" y2="130.89" stroke="#0a0aff" stroke-width="1.55"/>
<line x1="263.5" y1="37.5" x2="263.5" y2="197.9" stroke="#333" stroke-width="1"/>
<line x1="263" y1="197.4" x2="427.7" y2="197.4" stroke="#333" stroke-width="1"/>
<line x1="276.5" y1="197.4" x2="276.5" y2="199.9" stroke="#333" stroke-width="1"/>
<text x="276.5" y="207.6" font-size="8" text-anchor="middle">3</text>
<line x1="301.95" y1="197.4" x2="301.95" y2="199.9" stroke="#333" stroke-width="1"/>
<text x="301.95" y="207.6" font-size="8" text-anchor="middle">4</text>
<line x1="327.4" y1="197.4" x2="327.4" y2="199.9" stroke="#333" stroke-width="1"/>
<text x="327.4" y="207.6" font-size="8" text-anchor="middle">5</text>
<line x1="352.85" y1="197.4" x2="352.85" y2="199.9" stroke="#333" stroke-width="1"/>
<text x="352.85" y="207.6" font-size="8" text-anchor="middle">6</text>
<line x1="378.3" y1="197.4" x2="378.3" y2="199.9" stroke="#333" stroke-width="1"/>
<text x="378.3" y="207.6" font-size="8" text-anchor="middle">7</text>
<line x1="403.75" y1="197.4" x2="403.75" y2="199.9" stroke="#333" stroke-width="1"/>
<text x="403.75" y="207.6" font-size="8" text-anchor="middle">8</text>
<line x1="261" y1="175.9" x2="263.5" y2="175.9" stroke="#333" stroke-width="1"/>
<text x="259.6" y="178.8" font-size="8" text-anchor="end">1</text>
<line x1="261" y1="147.5" x2="263.5" y2="147.5" stroke="#333" stroke-width="1"/>
<text x="259.6" y="150.4" font-size="8" text-anchor="end">2</text>
<line x1="261" y1="119.1" x2="263.5" y2="119.1" stroke="#333" stroke-width="1"/>
<text x="259.6" y="122" font-size="8" text-anchor="end">3</text>
<line x1="261" y1="90.7" x2="263.5" y2="90.7" stroke="#333" stroke-width="1"/>
<text x="259.6" y="93.6" font-size="8" text-anchor="end">4</text>
<line x1="261" y1="62.3" x2="263.5" y2="62.3" stroke="#333" stroke-width="1"/>
<text x="259.6" y="65.2" font-size="8" text-anchor="end">5</text>
<text x="345.6" y="216.9" font-size="7.9" text-anchor="middle">KLF4</text>
<text x="252.6" y="117.5" font-size="7.8" text-anchor="middle" transform="rotate(-90 252.6 117.5)">KLF7</text>
<text x="241.3" y="12.3" font-size="14.5" fill="#000" font-weight="bold">b</text>
<path d="M270.8 35.5C274.2 34.98 285.8 33.6 291.2 32.4C296.6 31.2 299.2 29.7 303.2 28.3C307.2 26.9 312 25.52 315.2 24C318.4 22.48 320 21.2 322.4 19.2C324.8 17.2 327.2 13.8 329.6 12C332 10.2 334 9.28 336.8 8.4C339.6 7.52 343.2 6.82 346.4 6.7C349.6 6.58 352.8 6.9 356 7.7C359.2 8.5 362.8 10.07 365.6 11.5C368.4 12.93 370.4 14.53 372.8 16.3C375.2 18.07 377.58 20.33 380 22.1C382.42 23.87 384.08 25.3 387.3 26.9C390.52 28.5 393.78 30.27 399.3 31.7C404.82 33.13 416.88 34.87 420.4 35.5Z" fill="#fbd89c"/>
<path d="M429.6 45.3C429.88 46.15 430.98 46.57 431.3 50.4C431.62 54.23 430.82 64.03 431.5 68.3C432.18 72.57 433.47 73.43 435.4 76C437.33 78.57 440.53 81.35 443.1 83.7C445.67 86.05 448.45 87.53 450.8 90.1C453.15 92.67 455.72 95.47 457.2 99.1C458.68 102.73 459.48 108.05 459.7 111.9C459.92 115.75 459.57 118.78 458.5 122.2C457.43 125.62 454.8 128.98 453.3 132.4C451.8 135.82 450.78 139.28 449.5 142.7C448.22 146.12 446.88 149.92 445.6 152.9C444.32 155.88 443.08 158.03 441.8 160.6C440.52 163.17 439.18 165.3 437.9 168.3C436.62 171.3 435.48 175.05 434.1 178.6C432.72 182.15 430.35 187.77 429.6 189.6Z" fill="#fbd89c"/>
<g>
<circle cx="528.7" cy="56" r="2.45" fill="#000" fill-opacity=".6"/>
<circle cx="538.6" cy="56" r="2.45" fill="#000" fill-opacity=".6"/>
<circle cx="534.7" cy="67.9" r="2.45" fill="#000" fill-opacity=".6"/>
<circle cx="531.8" cy="70.4" r="2.45" fill="#000" fill-opacity=".6"/>
<circle cx="541.4" cy="66.2" r="2.45" fill="#000" fill-opacity=".6"/>
<circle cx="527" cy="74.2" r="2.45" fill="#000" fill-opacity=".6"/>
<circle cx="533" cy="75.8" r="2.45" fill="#000" fill-opacity=".6"/>
<circle cx="536.9" cy="77.5" r="2.45" fill="#000" fill-opacity=".6"/>
<circle cx="551.6" cy="66.2" r="2.45" fill="#000" fill-opacity=".6"/>
<circle cx="553.8" cy="69.6" r="2.45" fill="#000" fill-opacity=".6"/>
<circle cx="550.8" cy="75" r="2.45" fill="#000" fill-opacity=".6"/>
<circle cx="563.5" cy="69.1" r="2.45" fill="#000" fill-opacity=".6"/>
<circle cx="566.4" cy="68.2" r="2.45" fill="#000" fill-opacity=".6"/>
<circle cx="565.5" cy="77.2" r="2.45" fill="#000" fill-opacity=".6"/>
<circle cx="572.5" cy="78.6" r="2.45" fill="#000" fill-opacity=".6"/>
<circle cx="560.9" cy="80.3" r="2.45" fill="#000" fill-opacity=".6"/>
<circle cx="554.2" cy="82.3" r="2.45" fill="#000" fill-opacity=".6"/>
<circle cx="556.2" cy="82.6" r="2.45" fill="#000" fill-opacity=".6"/>
<circle cx="569.1" cy="83.6" r="2.45" fill="#000" fill-opacity=".6"/>
<circle cx="573.3" cy="84.8" r="2.45" fill="#000" fill-opacity=".6"/>
<circle cx="554.5" cy="88.2" r="2.45" fill="#000" fill-opacity=".6"/>
<circle cx="563.5" cy="89.1" r="2.45" fill="#000" fill-opacity=".6"/>
<circle cx="565.5" cy="86.5" r="2.45" fill="#000" fill-opacity=".6"/>
<circle cx="575.3" cy="89.1" r="2.45" fill="#000" fill-opacity=".6"/>
<circle cx="564.3" cy="92.8" r="2.45" fill="#000" fill-opacity=".6"/>
<circle cx="587.7" cy="81.4" r="2.45" fill="#000" fill-opacity=".6"/>
<circle cx="594" cy="77.2" r="2.45" fill="#000" fill-opacity=".6"/>
<circle cx="591.1" cy="88.2" r="2.45" fill="#000" fill-opacity=".6"/>
<circle cx="604.5" cy="89.9" r="2.45" fill="#000" fill-opacity=".6"/>
<circle cx="619.1" cy="81.4" r="2.45" fill="#000" fill-opacity=".6"/>
<circle cx="585" cy="95.3" r="2.45" fill="#000" fill-opacity=".6"/>
<circle cx="589.2" cy="97.2" r="2.45" fill="#000" fill-opacity=".6"/>
<circle cx="588.9" cy="100.1" r="2.45" fill="#000" fill-opacity=".6"/>
<circle cx="517.7" cy="101.3" r="2.45" fill="#000" fill-opacity=".6"/>
<circle cx="536.9" cy="99.6" r="2.45" fill="#000" fill-opacity=".6"/>
<circle cx="547.4" cy="103.8" r="2.45" fill="#000" fill-opacity=".6"/>
<circle cx="618.9" cy="108.1" r="2.45" fill="#000" fill-opacity=".6"/>
<circle cx="607.9" cy="121.6" r="2.45" fill="#000" fill-opacity=".6"/>
<circle cx="539.2" cy="128.1" r="2.45" fill="#000" fill-opacity=".6"/>
<circle cx="640.9" cy="78.6" r="2.45" fill="#000" fill-opacity=".6"/>
<circle cx="637.5" cy="123.7" r="2.45" fill="#000" fill-opacity=".6"/>
<circle cx="672.4" cy="119.3" r="2.45" fill="#000" fill-opacity=".6"/>
<circle cx="525.4" cy="159.4" r="2.45" fill="#000" fill-opacity=".6"/>
<circle cx="533" cy="157.8" r="2.45" fill="#000" fill-opacity=".6"/>
<circle cx="549" cy="159.2" r="2.45" fill="#000" fill-opacity=".6"/>
<circle cx="551.4" cy="159.7" r="2.45" fill="#000" fill-opacity=".6"/>
<circle cx="632" cy="152.9" r="2.45" fill="#000" fill-opacity=".6"/>
<circle cx="640" cy="152.1" r="2.45" fill="#000" fill-opacity=".6"/>
<circle cx="646.5" cy="150.9" r="2.45" fill="#000" fill-opacity=".6"/>
<circle cx="657.7" cy="154.1" r="2.45" fill="#000" fill-opacity=".6"/>
<circle cx="664.4" cy="157.2" r="2.45" fill="#000" fill-opacity=".6"/>
<circle cx="669.4" cy="158.2" r="2.45" fill="#000" fill-opacity=".6"/>
<circle cx="678.1" cy="155.2" r="2.45" fill="#000" fill-opacity=".6"/>
<circle cx="676.3" cy="160" r="2.45" fill="#000" fill-opacity=".6"/>
<circle cx="687.7" cy="152.6" r="2.45" fill="#000" fill-opacity=".6"/>
<circle cx="691.8" cy="153.6" r="2.45" fill="#000" fill-opacity=".6"/>
<circle cx="695.3" cy="154.7" r="2.45" fill="#000" fill-opacity=".6"/>
<circle cx="697.9" cy="155.9" r="2.45" fill="#000" fill-opacity=".6"/>
<circle cx="691.1" cy="158.7" r="2.45" fill="#000" fill-opacity=".6"/>
<circle cx="630.8" cy="157.47" r="2.45" fill="#000" fill-opacity=".6"/>
<circle cx="652.07" cy="156.93" r="2.45" fill="#000" fill-opacity=".6"/>
<circle cx="631.06" cy="158.96" r="2.45" fill="#000" fill-opacity=".6"/>
<circle cx="606.95" cy="158.16" r="2.45" fill="#000" fill-opacity=".6"/>
<circle cx="589.23" cy="158.29" r="2.45" fill="#000" fill-opacity=".6"/>
<circle cx="604.57" cy="161.75" r="2.45" fill="#000" fill-opacity=".6"/>
<circle cx="603.29" cy="159.77" r="2.45" fill="#000" fill-opacity=".6"/>
<circle cx="581.72" cy="159.99" r="2.45" fill="#000" fill-opacity=".6"/>
<circle cx="607.6" cy="157.79" r="2.45" fill="#000" fill-opacity=".6"/>
<circle cx="632.25" cy="159.12" r="2.45" fill="#000" fill-opacity=".6"/>
<circle cx="648.46" cy="159.85" r="2.45" fill="#000" fill-opacity=".6"/>
<circle cx="646.59" cy="158.46" r="2.45" fill="#000" fill-opacity=".6"/>
<circle cx="591.19" cy="159.74" r="2.45" fill="#000" fill-opacity=".6"/>
<circle cx="566.06" cy="159.73" r="2.45" fill="#000" fill-opacity=".6"/>
<circle cx="566.66" cy="160.51" r="2.45" fill="#000" fill-opacity=".6"/>
<circle cx="638.75" cy="158.73" r="2.45" fill="#000" fill-opacity=".6"/>
<circle cx="592.7" cy="160.11" r="2.45" fill="#000" fill-opacity=".6"/>
<circle cx="645.51" cy="156.83" r="2.45" fill="#000" fill-opacity=".6"/>
<circle cx="639.01" cy="159.82" r="2.45" fill="#000" fill-opacity=".6"/>
<circle cx="628.74" cy="156.99" r="2.45" fill="#000" fill-opacity=".6"/>
<circle cx="624.42" cy="156.09" r="2.45" fill="#000" fill-opacity=".6"/>
<circle cx="580.59" cy="160.95" r="2.45" fill="#000" fill-opacity=".6"/>
<circle cx="591.06" cy="161.31" r="2.45" fill="#000" fill-opacity=".6"/>
<circle cx="591.69" cy="160.44" r="2.45" fill="#000" fill-opacity=".6"/>
<circle cx="622.29" cy="158.89" r="2.45" fill="#000" fill-opacity=".6"/>
<circle cx="642.26" cy="157.67" r="2.45" fill="#000" fill-opacity=".6"/>
<circle cx="626.44" cy="159.28" r="2.45" fill="#000" fill-opacity=".6"/>
<circle cx="616.78" cy="157.96" r="2.45" fill="#000" fill-opacity=".6"/>
<circle cx="581.79" cy="159.69" r="2.45" fill="#000" fill-opacity=".6"/>
<circle cx="629.33" cy="158.19" r="2.45" fill="#000" fill-opacity=".6"/>
<circle cx="648.71" cy="159.07" r="2.45" fill="#000" fill-opacity=".6"/>
<circle cx="621.38" cy="158.65" r="2.45" fill="#000" fill-opacity=".6"/>
<circle cx="573.29" cy="159.03" r="2.45" fill="#000" fill-opacity=".6"/>
<circle cx="643.54" cy="156.85" r="2.45" fill="#000" fill-opacity=".6"/>
<circle cx="620.69" cy="158.98" r="2.45" fill="#000" fill-opacity=".6"/>
<circle cx="617.95" cy="158.08" r="2.45" fill="#000" fill-opacity=".6"/>
<circle cx="625.9" cy="157.93" r="2.45" fill="#000" fill-opacity=".6"/>
<circle cx="615.67" cy="161.56" r="2.45" fill="#000" fill-opacity=".6"/>
<circle cx="604.95" cy="161.6" r="2.45" fill="#000" fill-opacity=".6"/>
<circle cx="639.58" cy="157.61" r="2.45" fill="#000" fill-opacity=".6"/>
<circle cx="617.58" cy="157.46" r="2.45" fill="#000" fill-opacity=".6"/>
<circle cx="574.79" cy="158.13" r="2.45" fill="#000" fill-opacity=".6"/>
<circle cx="645.12" cy="158.73" r="2.45" fill="#000" fill-opacity=".6"/>
<circle cx="652.75" cy="157.61" r="2.45" fill="#000" fill-opacity=".6"/>
<circle cx="629.27" cy="159.16" r="2.45" fill="#000" fill-opacity=".6"/>
<circle cx="629.45" cy="155.55" r="2.45" fill="#000" fill-opacity=".6"/>
<circle cx="630.35" cy="156.7" r="2.45" fill="#000" fill-opacity=".6"/>
<circle cx="599.29" cy="158.74" r="2.45" fill="#000" fill-opacity=".6"/>
<circle cx="619.55" cy="159.61" r="2.45" fill="#000" fill-opacity=".6"/>
<circle cx="574.06" cy="160.41" r="2.45" fill="#000" fill-opacity=".6"/>
<circle cx="647.24" cy="155.83" r="2.45" fill="#000" fill-opacity=".6"/>
<circle cx="639.29" cy="159.78" r="2.45" fill="#000" fill-opacity=".6"/>
<circle cx="603.7" cy="158.67" r="2.45" fill="#000" fill-opacity=".6"/>
<circle cx="617.63" cy="159.58" r="2.45" fill="#000" fill-opacity=".6"/>
<circle cx="615.59" cy="159.78" r="2.45" fill="#000" fill-opacity=".6"/>
<circle cx="640.55" cy="158.04" r="2.45" fill="#000" fill-opacity=".6"/>
<circle cx="647.61" cy="158.85" r="2.45" fill="#000" fill-opacity=".6"/>
<circle cx="628.26" cy="158.61" r="2.45" fill="#000" fill-opacity=".6"/>
<circle cx="654.49" cy="156.64" r="2.45" fill="#000" fill-opacity=".6"/>
<circle cx="571.94" cy="160.23" r="2.45" fill="#000" fill-opacity=".6"/>
<circle cx="627.79" cy="161.05" r="2.45" fill="#000" fill-opacity=".6"/>
<circle cx="583.88" cy="162.33" r="2.45" fill="#000" fill-opacity=".6"/>
<circle cx="631.53" cy="158.43" r="2.45" fill="#000" fill-opacity=".6"/>
<circle cx="637.27" cy="160.23" r="2.45" fill="#000" fill-opacity=".6"/>
<circle cx="635.33" cy="158.06" r="2.45" fill="#000" fill-opacity=".6"/>
<circle cx="630.46" cy="157.82" r="2.45" fill="#000" fill-opacity=".6"/>
<circle cx="619.74" cy="158.82" r="2.45" fill="#000" fill-opacity=".6"/>
<circle cx="557.55" cy="163.38" r="2.45" fill="#000" fill-opacity=".6"/>
<circle cx="631.76" cy="159.33" r="2.45" fill="#000" fill-opacity=".6"/>
<circle cx="646.4" cy="158.14" r="2.45" fill="#000" fill-opacity=".6"/>
<circle cx="594.59" cy="158.61" r="2.45" fill="#000" fill-opacity=".6"/>
<circle cx="639.72" cy="157.26" r="2.45" fill="#000" fill-opacity=".6"/>
<circle cx="612.6" cy="158.31" r="2.45" fill="#000" fill-opacity=".6"/>
<circle cx="614.33" cy="158.16" r="2.45" fill="#000" fill-opacity=".6"/>
<circle cx="649.98" cy="156.38" r="2.45" fill="#000" fill-opacity=".6"/>
<circle cx="579.13" cy="159.44" r="2.45" fill="#000" fill-opacity=".6"/>
<circle cx="634.76" cy="157.25" r="2.45" fill="#000" fill-opacity=".6"/>
<circle cx="653.95" cy="158.81" r="2.45" fill="#000" fill-opacity=".6"/>
<circle cx="628.82" cy="155.91" r="2.45" fill="#000" fill-opacity=".6"/>
<circle cx="613.64" cy="160.44" r="2.45" fill="#000" fill-opacity=".6"/>
<circle cx="628.85" cy="158.85" r="2.45" fill="#000" fill-opacity=".6"/>
<circle cx="600.36" cy="158.85" r="2.45" fill="#000" fill-opacity=".6"/>
<circle cx="627.93" cy="158.81" r="2.45" fill="#000" fill-opacity=".6"/>
<circle cx="641.82" cy="157.55" r="2.45" fill="#000" fill-opacity=".6"/>
<circle cx="643.89" cy="157.31" r="2.45" fill="#000" fill-opacity=".6"/>
<circle cx="640.37" cy="160.49" r="2.45" fill="#000" fill-opacity=".6"/>
<circle cx="647.21" cy="159.02" r="2.45" fill="#000" fill-opacity=".6"/>
<circle cx="634.77" cy="159.04" r="2.45" fill="#000" fill-opacity=".6"/>
<circle cx="619.72" cy="158.25" r="2.45" fill="#000" fill-opacity=".6"/>
<circle cx="634.87" cy="156.8" r="2.45" fill="#000" fill-opacity=".6"/>
<circle cx="639.56" cy="160.01" r="2.45" fill="#000" fill-opacity=".6"/>
<circle cx="616.86" cy="160.34" r="2.45" fill="#000" fill-opacity=".6"/>
<circle cx="645.92" cy="156.08" r="2.45" fill="#000" fill-opacity=".6"/>
<circle cx="576.19" cy="159.69" r="2.45" fill="#000" fill-opacity=".6"/>
<circle cx="595.92" cy="158.77" r="2.45" fill="#000" fill-opacity=".6"/>
<circle cx="615.58" cy="160.44" r="2.45" fill="#000" fill-opacity=".6"/>
<circle cx="660.7" cy="156.42" r="2.45" fill="#000" fill-opacity=".6"/>
<circle cx="630.7" cy="158.82" r="2.45" fill="#000" fill-opacity=".6"/>
<circle cx="593.11" cy="158.98" r="2.45" fill="#000" fill-opacity=".6"/>
<circle cx="659.99" cy="158.25" r="2.45" fill="#000" fill-opacity=".6"/>
<circle cx="643.82" cy="156.75" r="2.45" fill="#000" fill-opacity=".6"/>
<circle cx="638.9" cy="157.52" r="2.45" fill="#000" fill-opacity=".6"/>
<circle cx="650.14" cy="158.85" r="2.45" fill="#000" fill-opacity=".6"/>
<circle cx="577.1" cy="156.75" r="2.45" fill="#000" fill-opacity=".6"/>
<circle cx="561.35" cy="157.35" r="2.45" fill="#000" fill-opacity=".6"/>
<circle cx="619.58" cy="157.96" r="2.45" fill="#000" fill-opacity=".6"/>
<circle cx="618.8" cy="158.41" r="2.45" fill="#000" fill-opacity=".6"/>
<circle cx="615.27" cy="159.55" r="2.45" fill="#000" fill-opacity=".6"/>
<circle cx="631.17" cy="157.69" r="2.45" fill="#000" fill-opacity=".6"/>
<circle cx="657.41" cy="155.85" r="2.45" fill="#000" fill-opacity=".6"/>
<circle cx="560.06" cy="159.85" r="2.45" fill="#000" fill-opacity=".6"/>
<circle cx="646.36" cy="158.84" r="2.45" fill="#000" fill-opacity=".6"/>
<circle cx="638.57" cy="157.48" r="2.45" fill="#000" fill-opacity=".6"/>
<circle cx="571.2" cy="158.02" r="2.45" fill="#000" fill-opacity=".6"/>
<circle cx="637.6" cy="157.52" r="2.45" fill="#000" fill-opacity=".6"/>
<circle cx="628.23" cy="157.47" r="2.45" fill="#000" fill-opacity=".6"/>
<circle cx="586.49" cy="159.87" r="2.45" fill="#000" fill-opacity=".6"/>
<circle cx="581.04" cy="160.59" r="2.45" fill="#000" fill-opacity=".6"/>
<circle cx="591.53" cy="162.04" r="2.45" fill="#000" fill-opacity=".6"/>
<circle cx="653.41" cy="157.4" r="2.45" fill="#000" fill-opacity=".6"/>
<circle cx="600.11" cy="161.79" r="2.45" fill="#000" fill-opacity=".6"/>
<circle cx="591.11" cy="157.8" r="2.45" fill="#000" fill-opacity=".6"/>
<circle cx="585.25" cy="160.94" r="2.45" fill="#000" fill-opacity=".6"/>
<circle cx="619.16" cy="157.35" r="2.45" fill="#000" fill-opacity=".6"/>
<circle cx="641.25" cy="157.32" r="2.45" fill="#000" fill-opacity=".6"/>
<circle cx="630.94" cy="157.81" r="2.45" fill="#000" fill-opacity=".6"/>
<circle cx="647.43" cy="157.39" r="2.45" fill="#000" fill-opacity=".6"/>
<circle cx="644.15" cy="159.08" r="2.45" fill="#000" fill-opacity=".6"/>
<circle cx="607.56" cy="158.31" r="2.45" fill="#000" fill-opacity=".6"/>
<circle cx="587.73" cy="162.55" r="2.45" fill="#000" fill-opacity=".6"/>
<circle cx="578.39" cy="159.44" r="2.45" fill="#000" fill-opacity=".6"/>
<circle cx="583.07" cy="159.09" r="2.45" fill="#000" fill-opacity=".6"/>
<circle cx="598.17" cy="164.67" r="2.45" fill="#000" fill-opacity=".6"/>
<circle cx="586.39" cy="159.63" r="2.45" fill="#000" fill-opacity=".6"/>
<circle cx="632.28" cy="157.27" r="2.45" fill="#000" fill-opacity=".6"/>
<circle cx="567.89" cy="163.5" r="2.45" fill="#000" fill-opacity=".6"/>
<circle cx="556.2" cy="160.72" r="2.45" fill="#000" fill-opacity=".6"/>
<circle cx="596.48" cy="158.46" r="2.45" fill="#000" fill-opacity=".6"/>
<circle cx="615.99" cy="159.65" r="2.45" fill="#000" fill-opacity=".6"/>
<circle cx="638.43" cy="158.63" r="2.45" fill="#000" fill-opacity=".6"/>
<circle cx="565.18" cy="158.67" r="2.45" fill="#000" fill-opacity=".6"/>
<circle cx="620.31" cy="157.89" r="2.45" fill="#000" fill-opacity=".6"/>
<circle cx="635.01" cy="157.36" r="2.45" fill="#000" fill-opacity=".6"/>
<circle cx="580.07" cy="159.45" r="2.45" fill="#000" fill-opacity=".6"/>
<circle cx="616" cy="161.42" r="2.45" fill="#000" fill-opacity=".6"/>
<circle cx="610.37" cy="160.22" r="2.45" fill="#000" fill-opacity=".6"/>
<circle cx="643.72" cy="160.66" r="2.45" fill="#000" fill-opacity=".6"/>
<circle cx="620.84" cy="159.15" r="2.45" fill="#000" fill-opacity=".6"/>
<circle cx="643.32" cy="157.19" r="2.45" fill="#000" fill-opacity=".6"/>
<circle cx="613.22" cy="159.84" r="2.45" fill="#000" fill-opacity=".6"/>
<circle cx="562.4" cy="158.37" r="2.45" fill="#000" fill-opacity=".6"/>
<circle cx="588.64" cy="160.44" r="2.45" fill="#000" fill-opacity=".6"/>
<circle cx="640.89" cy="156.94" r="2.45" fill="#000" fill-opacity=".6"/>
<circle cx="614" cy="161.12" r="2.45" fill="#000" fill-opacity=".6"/>
<circle cx="579.23" cy="161.41" r="2.45" fill="#000" fill-opacity=".6"/>
<circle cx="623.29" cy="158.29" r="2.45" fill="#000" fill-opacity=".6"/>
<circle cx="657.58" cy="157.16" r="2.45" fill="#000" fill-opacity=".6"/>
<circle cx="641.8" cy="158.66" r="2.45" fill="#000" fill-opacity=".6"/>
<circle cx="629.39" cy="158.52" r="2.45" fill="#000" fill-opacity=".6"/>
<circle cx="628.71" cy="158.7" r="2.45" fill="#000" fill-opacity=".6"/>
<circle cx="623.91" cy="160.88" r="2.45" fill="#000" fill-opacity=".6"/>
<circle cx="568.92" cy="161.54" r="2.45" fill="#000" fill-opacity=".6"/>
<circle cx="621.98" cy="158.67" r="2.45" fill="#000" fill-opacity=".6"/>
<circle cx="618.14" cy="159.67" r="2.45" fill="#000" fill-opacity=".6"/>
<circle cx="616.15" cy="159.08" r="2.45" fill="#000" fill-opacity=".6"/>
<circle cx="641.41" cy="157.02" r="2.45" fill="#000" fill-opacity=".6"/>
<circle cx="614.56" cy="160.05" r="2.45" fill="#000" fill-opacity=".6"/>
<circle cx="615.07" cy="157.75" r="2.45" fill="#000" fill-opacity=".6"/>
<circle cx="638.78" cy="158.03" r="2.45" fill="#000" fill-opacity=".6"/>
<circle cx="617.98" cy="160.22" r="2.45" fill="#000" fill-opacity=".6"/>
<circle cx="640.23" cy="158.93" r="2.45" fill="#000" fill-opacity=".6"/>
<circle cx="577.73" cy="157.5" r="2.45" fill="#000" fill-opacity=".6"/>
<circle cx="651.36" cy="157.34" r="2.45" fill="#000" fill-opacity=".6"/>
<circle cx="630.7" cy="159.78" r="2.45" fill="#000" fill-opacity=".6"/>
<circle cx="601.47" cy="159.55" r="2.45" fill="#000" fill-opacity=".6"/>
<circle cx="591.07" cy="159.89" r="2.45" fill="#000" fill-opacity=".6"/>
<circle cx="638.76" cy="156.32" r="2.45" fill="#000" fill-opacity=".6"/>
<circle cx="645.03" cy="155.82" r="2.45" fill="#000" fill-opacity=".6"/>
<circle cx="573.41" cy="159.7" r="2.45" fill="#000" fill-opacity=".6"/>
<circle cx="605.11" cy="161.67" r="2.45" fill="#000" fill-opacity=".6"/>
<circle cx="648.09" cy="157.49" r="2.45" fill="#000" fill-opacity=".6"/>
<circle cx="617.85" cy="160.64" r="2.45" fill="#000" fill-opacity=".6"/>
<circle cx="606.36" cy="159.17" r="2.45" fill="#000" fill-opacity=".6"/>
<circle cx="628.4" cy="157.93" r="2.45" fill="#000" fill-opacity=".6"/>
<circle cx="604.97" cy="158.9" r="2.45" fill="#000" fill-opacity=".6"/>
<circle cx="586.83" cy="159.74" r="2.45" fill="#000" fill-opacity=".6"/>
<circle cx="581.56" cy="161.35" r="2.45" fill="#000" fill-opacity=".6"/>
<circle cx="642.2" cy="158.68" r="2.45" fill="#000" fill-opacity=".6"/>
<circle cx="626.92" cy="159.2" r="2.45" fill="#000" fill-opacity=".6"/>
<circle cx="619.76" cy="160.94" r="2.45" fill="#000" fill-opacity=".6"/>
</g>
<path d="M518.2 104.62 L527.17 108.83 L536.14 113.03 L545.11 117.23 L554.08 121.4 L563.05 125.56 L572.02 129.68 L580.99 133.76 L589.96 137.75 L598.93 141.61 L607.9 145.3 L616.87 148.79 L625.84 152.12 L634.81 155.33 L643.78 158.46 L652.75 161.55 L661.72 164.61 L670.69 167.65 L679.66 170.68 L688.63 173.69 L697.6 176.7 L697.6 190.1 L688.63 185.89 L679.66 181.68 L670.69 177.49 L661.72 173.31 L652.75 169.15 L643.78 165.02 L634.81 160.93 L625.84 156.92 L616.87 153.03 L607.9 149.3 L598.93 145.77 L589.96 142.41 L580.99 139.18 L572.02 136.04 L563.05 132.94 L554.08 129.88 L545.11 126.83 L536.14 123.81 L527.17 120.79 L518.2 117.78Z" fill="#d9d9d9" fill-opacity=".4"/>
<line x1="518.2" y1="111.2" x2="697.6" y2="183.4" stroke="#0a0aff" stroke-width="1.55"/>
<line x1="509.2" y1="49.5" x2="509.2" y2="197.4" stroke="#7a7a7a" stroke-width="1.2"/>
<line x1="508.6" y1="196.8" x2="705" y2="196.8" stroke="#7a7a7a" stroke-width="1.2"/>
<line x1="535.3" y1="196.8" x2="535.3" y2="199.3" stroke="#7a7a7a" stroke-width="1"/>
<text x="535.3" y="206.4" font-size="8" text-anchor="middle">1</text>
<line x1="570.55" y1="196.8" x2="570.55" y2="199.3" stroke="#7a7a7a" stroke-width="1"/>
<text x="570.55" y="206.4" font-size="8" text-anchor="middle">2</text>
<line x1="605.8" y1="196.8" x2="605.8" y2="199.3" stroke="#7a7a7a" stroke-width="1"/>
<text x="605.8" y="206.4" font-size="8" text-anchor="middle">3</text>
<line x1="641.05" y1="196.8" x2="641.05" y2="199.3" stroke="#7a7a7a" stroke-width="1"/>
<text x="641.05" y="206.4" font-size="8" text-anchor="middle">4</text>
<line x1="676.3" y1="196.8" x2="676.3" y2="199.3" stroke="#7a7a7a" stroke-width="1"/>
<text x="676.3" y="206.4" font-size="8" text-anchor="middle">5</text>
<line x1="506.7" y1="163.7" x2="509.2" y2="163.7" stroke="#7a7a7a" stroke-width="1"/>
<text x="505.4" y="166.6" font-size="8.1" text-anchor="end">0.00</text>
<line x1="506.7" y1="125.5" x2="509.2" y2="125.5" stroke="#7a7a7a" stroke-width="1"/>
<text x="505.4" y="128.4" font-size="8.1" text-anchor="end">0.25</text>
<line x1="506.7" y1="87.3" x2="509.2" y2="87.3" stroke="#7a7a7a" stroke-width="1"/>
<text x="505.4" y="90.2" font-size="8.1" text-anchor="end">0.50</text>
<text x="607.9" y="215.5" font-size="7.7" text-anchor="middle">KLF7 expression</text>
<text x="488.2" y="123.4" font-size="7.7" text-anchor="middle" transform="rotate(-90 488.2 123.4)">cg22902535</text>
<text x="518.2" y="63.9" font-size="7.1" fill="#222"><tspan font-style="italic">R</tspan> = − 0.52, <tspan font-style="italic">p</tspan> &lt; 2.2e−16</text>
<text x="509.2" y="43.9" font-size="7.7" fill="#111" font-weight="bold">COAD</text>
<text x="475.3" y="8.9" font-size="14.5" fill="#000" font-weight="bold">c</text>
<text x="0.4" y="235" font-size="14.5" fill="#000" font-weight="bold">d</text>
<line x1="70.88" y1="246" x2="70.88" y2="333.9" stroke="#f4f4f4" stroke-width="0.5"/>
<line x1="118.82" y1="246" x2="118.82" y2="333.9" stroke="#f4f4f4" stroke-width="0.5"/>
<line x1="166.78" y1="246" x2="166.78" y2="333.9" stroke="#f4f4f4" stroke-width="0.5"/>
<line x1="214.72" y1="246" x2="214.72" y2="333.9" stroke="#f4f4f4" stroke-width="0.5"/>
<line x1="262.68" y1="246" x2="262.68" y2="333.9" stroke="#f4f4f4" stroke-width="0.5"/>
<line x1="48.2" y1="330.05" x2="272.7" y2="330.05" stroke="#f4f4f4" stroke-width="0.5"/>
<line x1="48.2" y1="314.35" x2="272.7" y2="314.35" stroke="#f4f4f4" stroke-width="0.5"/>
<line x1="48.2" y1="298.65" x2="272.7" y2="298.65" stroke="#f4f4f4" stroke-width="0.5"/>
<line x1="48.2" y1="282.95" x2="272.7" y2="282.95" stroke="#f4f4f4" stroke-width="0.5"/>
<line x1="48.2" y1="267.25" x2="272.7" y2="267.25" stroke="#f4f4f4" stroke-width="0.5"/>
<line x1="48.2" y1="251.55" x2="272.7" y2="251.55" stroke="#f4f4f4" stroke-width="0.5"/>
<line x1="94.85" y1="246" x2="94.85" y2="333.9" stroke="#ebebeb" stroke-width="0.8"/>
<line x1="142.8" y1="246" x2="142.8" y2="333.9" stroke="#ebebeb" stroke-width="0.8"/>
<line x1="190.75" y1="246" x2="190.75" y2="333.9" stroke="#ebebeb" stroke-width="0.8"/>
<line x1="238.7" y1="246" x2="238.7" y2="333.9" stroke="#ebebeb" stroke-width="0.8"/>
<line x1="48.2" y1="322.2" x2="272.7" y2="322.2" stroke="#ebebeb" stroke-width="0.8"/>
<line x1="48.2" y1="306.5" x2="272.7" y2="306.5" stroke="#ebebeb" stroke-width="0.8"/>
<line x1="48.2" y1="290.8" x2="272.7" y2="290.8" stroke="#ebebeb" stroke-width="0.8"/>
<line x1="48.2" y1="275.1" x2="272.7" y2="275.1" stroke="#ebebeb" stroke-width="0.8"/>
<line x1="48.2" y1="259.4" x2="272.7" y2="259.4" stroke="#ebebeb" stroke-width="0.8"/>
<path d="M48.1 328.1 L48.7 324.7 L50.9 322.1 L55.2 319.6 L56.9 318.7 L59.4 314.5 L62 313.1 L70.4 310.3 L82.3 307.7 L87.4 305.2 L95.8 303.5 L104.3 300.1 L112.8 298.9 L121.3 296.7 L133.1 294.2 L143.3 292.5 L159.4 289.4" fill="none" stroke="#2a6ec6" stroke-width="2.9" stroke-linejoin="round"/>
<path d="M159.4 289.4 L171.9 287.4 L188.9 284.8 L202.5 281.9 L214.3 280.1 L219.4 280.1 L231.3 277.5 L243.1 275.2 L248.2 273 L260.1 270.4 L266 267 L267.7 261.9 L269.4 258.6 L271.1 253.5 L272.8 249.2" fill="none" stroke="#f6766e" stroke-width="2.9" stroke-linejoin="round"/>
<line x1="159.4" y1="246" x2="159.4" y2="333.9" stroke="#111" stroke-width="0.9" stroke-dasharray="3 2"/>
<rect x="48.2" y="246" width="224.5" height="87.9" fill="none" stroke="#8c8c8c" stroke-width="1.1"/>
<line x1="45.9" y1="322.2" x2="48.2" y2="322.2" stroke="#444" stroke-width="0.9"/>
<text x="44.3" y="324.4" font-size="5.9" text-anchor="end" fill="#333">1</text>
<line x1="45.9" y1="306.5" x2="48.2" y2="306.5" stroke="#444" stroke-width="0.9"/>
<text x="44.3" y="308.7" font-size="5.9" text-anchor="end" fill="#333">2</text>
<line x1="45.9" y1="290.8" x2="48.2" y2="290.8" stroke="#444" stroke-width="0.9"/>
<text x="44.3" y="293" font-size="5.9" text-anchor="end" fill="#333">3</text>
<line x1="45.9" y1="275.1" x2="48.2" y2="275.1" stroke="#444" stroke-width="0.9"/>
<text x="44.3" y="277.3" font-size="5.9" text-anchor="end" fill="#333">4</text>
<line x1="45.9" y1="259.4" x2="48.2" y2="259.4" stroke="#444" stroke-width="0.9"/>
<text x="44.3" y="261.6" font-size="5.9" text-anchor="end" fill="#333">5</text>
<line x1="94.85" y1="333.9" x2="94.85" y2="336.2" stroke="#444" stroke-width="0.9"/>
<text x="94.85" y="342.3" font-size="5.9" text-anchor="middle" fill="#333">100</text>
<line x1="142.8" y1="333.9" x2="142.8" y2="336.2" stroke="#444" stroke-width="0.9"/>
<text x="142.8" y="342.3" font-size="5.9" text-anchor="middle" fill="#333">200</text>
<line x1="190.75" y1="333.9" x2="190.75" y2="336.2" stroke="#444" stroke-width="0.9"/>
<text x="190.75" y="342.3" font-size="5.9" text-anchor="middle" fill="#333">300</text>
<line x1="238.7" y1="333.9" x2="238.7" y2="336.2" stroke="#444" stroke-width="0.9"/>
<text x="238.7" y="342.3" font-size="5.9" text-anchor="middle" fill="#333">400</text>
<text x="160" y="349.7" font-size="6.9" text-anchor="middle" fill="#111">patientid</text>
<text x="17.8" y="289.6" font-size="7.2" text-anchor="middle" fill="#111" transform="rotate(-90 17.8 289.6)">KLF7</text>
<text x="283.6" y="280" font-size="6.9" fill="#111">group</text>
<circle cx="289.2" cy="289.9" r="1.4" fill="#2a6ec6"/>
<circle cx="289.2" cy="301" r="1.4" fill="#f6766e"/>
<text x="298.3" y="291.9" font-size="5.9">low</text>
<text x="298.3" y="303" font-size="5.9">high</text>
<rect x="47.9" y="360.1" width="112" height="18.9" fill="#2872c6"/>
<rect x="159.9" y="360.1" width="113.1" height="18.9" fill="#f8756d"/>
<text x="283.6" y="359.8" font-size="6.9" fill="#111">group</text>
<rect x="283.9" y="363.7" width="11" height="10.6" fill="#2872c6"/>
<rect x="283.9" y="374.3" width="11" height="11.2" fill="#f8756d"/>
<text x="298.4" y="371.4" font-size="5.9">low</text>
<text x="298.4" y="383" font-size="5.9">high</text>
<text x="44.8" y="395.31" font-size="5.85" text-anchor="end" fill="#333" style="stroke:none">CHD5</text>
<text x="44.8" y="401.14" font-size="5.85" text-anchor="end" fill="#333" style="stroke:none">BMPR2</text>
<text x="44.8" y="406.97" font-size="5.85" text-anchor="end" fill="#333" style="stroke:none">NCOA3</text>
<text x="44.8" y="412.81" font-size="5.85" text-anchor="end" fill="#333" style="stroke:none">ARL10</text>
<text x="44.8" y="418.63" font-size="5.85" text-anchor="end" fill="#333" style="stroke:none">EPM2AIP1</text>
<text x="44.8" y="424.46" font-size="5.85" text-anchor="end" fill="#333" style="stroke:none">SOGA1</text>
<text x="44.8" y="430.29" font-size="5.85" text-anchor="end" fill="#333" style="stroke:none">ABL2</text>
<text x="44.8" y="436.12" font-size="5.85" text-anchor="end" fill="#333" style="stroke:none">GPRASP1</text>
<text x="44.8" y="441.95" font-size="5.85" text-anchor="end" fill="#333" style="stroke:none">RALGAPB</text>
<text x="44.8" y="447.78" font-size="5.85" text-anchor="end" fill="#333" style="stroke:none">PARD3B</text>
<text x="44.8" y="453.62" font-size="5.85" text-anchor="end" fill="#333" style="stroke:none">HMCN1</text>
<text x="44.8" y="459.44" font-size="5.85" text-anchor="end" fill="#333" style="stroke:none">SHROOM4</text>
<text x="44.8" y="465.27" font-size="5.85" text-anchor="end" fill="#333" style="stroke:none">PLEKHM3</text>
<text x="44.8" y="471.11" font-size="5.85" text-anchor="end" fill="#333" style="stroke:none">TRIO</text>
<text x="44.8" y="476.94" font-size="5.85" text-anchor="end" fill="#333" style="stroke:none">TEAD1</text>
<text x="44.8" y="482.76" font-size="5.85" text-anchor="end" fill="#333" style="stroke:none">MPDZ</text>
<text x="44.8" y="488.6" font-size="5.85" text-anchor="end" fill="#333" style="stroke:none">PALM2AKAP2</text>
<text x="44.8" y="494.43" font-size="5.85" text-anchor="end" fill="#333" style="stroke:none">KIDINS220</text>
<text x="44.8" y="500.25" font-size="5.85" text-anchor="end" fill="#333" style="stroke:none">GARRE1</text>
<text x="44.8" y="506.08" font-size="5.85" text-anchor="end" fill="#333" style="stroke:none">TTC28</text>
<text x="44.8" y="511.91" font-size="5.85" text-anchor="end" fill="#333" style="stroke:none">TMEM54</text>
<text x="44.8" y="517.75" font-size="5.85" text-anchor="end" fill="#333" style="stroke:none">EIF5A</text>
<text x="44.8" y="523.57" font-size="5.85" text-anchor="end" fill="#333" style="stroke:none">MRPL41</text>
<text x="44.8" y="529.4" font-size="5.85" text-anchor="end" fill="#333" style="stroke:none">AKR7A3</text>
<text x="44.8" y="535.24" font-size="5.85" text-anchor="end" fill="#333" style="stroke:none">UQCR10</text>
<text x="44.8" y="541.06" font-size="5.85" text-anchor="end" fill="#333" style="stroke:none">BLOC1S1</text>
<text x="44.8" y="546.89" font-size="5.85" text-anchor="end" fill="#333" style="stroke:none">ATP6V0B</text>
<text x="44.8" y="552.73" font-size="5.85" text-anchor="end" fill="#333" style="stroke:none">CIB1</text>
<text x="44.8" y="558.55" font-size="5.85" text-anchor="end" fill="#333" style="stroke:none">SERF2</text>
<text x="44.8" y="564.38" font-size="5.85" text-anchor="end" fill="#333" style="stroke:none">CYSTM1</text>
<text x="44.8" y="570.22" font-size="5.85" text-anchor="end" fill="#333" style="stroke:none">ATP5F1D</text>
<text x="44.8" y="576.04" font-size="5.85" text-anchor="end" fill="#333" style="stroke:none">F12</text>
<text x="44.8" y="581.88" font-size="5.85" text-anchor="end" fill="#333" style="stroke:none">PTRHD1</text>
<text x="44.8" y="587.71" font-size="5.85" text-anchor="end" fill="#333" style="stroke:none">COX8A</text>
<text x="44.8" y="593.53" font-size="5.85" text-anchor="end" fill="#333" style="stroke:none">ECI1</text>
<text x="44.8" y="599.37" font-size="5.85" text-anchor="end" fill="#333" style="stroke:none">C1QBP</text>
<text x="44.8" y="605.2" font-size="5.85" text-anchor="end" fill="#333" style="stroke:none">NUDT8</text>
<text x="44.8" y="611.02" font-size="5.85" text-anchor="end" fill="#333" style="stroke:none">NAA38</text>
<text x="44.8" y="616.86" font-size="5.85" text-anchor="end" fill="#333" style="stroke:none">COX6A1</text>
<text x="44.8" y="622.69" font-size="5.85" text-anchor="end" fill="#333" style="stroke:none">C12orf57</text>
<path fill="#cfdcf1" d="M47.9 389.5h1v5.83h-1zM47.9 406.99h1v5.83h-1zM47.9 430.31h1v5.83h-1zM47.9 500.27h1v5.83h-1zM48.9 401.16h1v5.83h-1zM48.9 441.97h1v5.83h-1zM48.9 453.63h1v11.66h-1zM48.9 482.78h1v5.83h-1zM49.9 471.12h1v5.83h-1zM49.9 599.38h1v5.83h-1zM50.9 395.33h1v11.66h-1zM50.9 424.48h1v11.66h-1zM50.9 447.8h1v5.83h-1zM50.9 459.46h1v5.83h-1zM50.9 494.44h1v5.83h-1zM51.9 412.82h1v11.66h-1zM51.9 430.31h1v5.83h-1zM53.9 488.61h1v5.83h-1zM55.9 389.5h1v5.83h-1zM55.9 424.48h1v5.83h-1zM55.9 441.97h1v5.83h-1zM55.9 465.29h1v5.83h-1zM56.9 401.16h1v5.83h-1zM56.9 471.12h1v5.83h-1zM56.9 482.78h1v5.83h-1zM58.9 395.33h1v5.83h-1zM58.9 406.99h1v5.83h-1zM58.9 418.65h1v11.66h-1zM58.9 441.97h1v5.83h-1zM59.9 389.5h1v5.83h-1zM59.9 401.16h1v5.83h-1zM59.9 453.63h1v5.83h-1zM59.9 482.78h1v11.66h-1zM60.9 424.48h1v5.83h-1zM61.9 401.16h1v5.83h-1zM61.9 418.65h1v5.83h-1zM61.9 441.97h1v5.83h-1zM61.9 459.46h1v11.66h-1zM61.9 476.95h1v11.66h-1zM62.9 389.5h1v5.83h-1zM62.9 406.99h1v11.66h-1zM62.9 430.31h1v5.83h-1zM62.9 459.46h1v5.83h-1zM64.9 406.99h1v5.83h-1zM65.9 389.5h1v5.83h-1zM65.9 424.48h1v5.83h-1zM67.9 389.5h1v5.83h-1zM67.9 418.65h1v5.83h-1zM67.9 436.14h1v11.66h-1zM67.9 465.29h1v11.66h-1zM67.9 494.44h1v5.83h-1zM68.9 395.33h1v5.83h-1zM68.9 412.82h1v5.83h-1zM68.9 430.31h1v5.83h-1zM68.9 459.46h1v5.83h-1zM68.9 471.12h1v11.66h-1zM69.9 401.16h1v5.83h-1zM69.9 436.14h1v11.66h-1zM69.9 494.44h1v5.83h-1zM70.9 418.65h1v5.83h-1zM70.9 488.61h1v5.83h-1zM71.9 401.16h1v11.66h-1zM71.9 471.12h1v5.83h-1zM73.9 389.5h1v5.83h-1zM73.9 401.16h1v11.66h-1zM73.9 441.97h1v5.83h-1zM73.9 471.12h1v5.83h-1zM73.9 482.78h1v11.66h-1zM73.9 500.27h1v5.83h-1zM74.9 401.16h1v5.83h-1zM74.9 412.82h1v5.83h-1zM75.9 406.99h1v11.66h-1zM75.9 424.48h1v5.83h-1zM79.9 389.5h1v5.83h-1zM79.9 401.16h1v5.83h-1zM79.9 424.48h1v11.66h-1zM80.9 447.8h1v11.66h-1zM82.9 424.48h1v5.83h-1zM83.9 511.93h1v11.66h-1zM83.9 529.42h1v5.83h-1zM83.9 558.57h1v5.83h-1zM83.9 576.06h1v5.83h-1zM83.9 605.21h1v5.83h-1zM85.9 389.5h1v11.66h-1zM85.9 418.65h1v5.83h-1zM85.9 430.31h1v5.83h-1zM85.9 441.97h1v5.83h-1zM85.9 482.78h1v5.83h-1zM88.9 389.5h1v5.83h-1zM88.9 424.48h1v5.83h-1zM90.9 447.8h1v5.83h-1zM91.9 447.8h1v5.83h-1zM93.9 389.5h1v17.49h-1zM93.9 412.82h1v5.83h-1zM96.9 424.48h1v11.66h-1zM96.9 453.63h1v11.66h-1zM98.9 406.99h1v11.66h-1zM98.9 424.48h1v5.83h-1zM98.9 500.27h1v5.83h-1zM102.9 447.8h1v5.83h-1zM120.9 576.06h1v5.83h-1zM120.9 587.72h1v5.83h-1zM120.9 599.38h1v5.83h-1zM120.9 616.87h1v5.83h-1zM161.9 517.76h1v5.83h-1zM172.9 558.57h1v5.83h-1zM172.9 616.87h1v5.83h-1zM193.9 506.1h1v5.83h-1zM193.9 535.25h1v5.83h-1zM193.9 611.04h1v5.83h-1zM194.9 517.76h1v5.83h-1zM194.9 552.74h1v11.66h-1zM194.9 576.06h1v5.83h-1zM194.9 599.38h1v5.83h-1zM194.9 611.04h1v5.83h-1zM201.9 506.1h1v5.83h-1zM211.9 576.06h1v5.83h-1zM216.9 506.1h1v5.83h-1zM221.9 517.76h1v5.83h-1zM221.9 570.23h1v5.83h-1zM225.9 558.57h1v5.83h-1zM229.9 599.38h1v5.83h-1zM230.9 517.76h1v5.83h-1zM230.9 529.42h1v5.83h-1zM230.9 611.04h1v5.83h-1zM231.9 511.93h1v5.83h-1zM231.9 529.42h1v5.83h-1zM231.9 570.23h1v17.49h-1zM231.9 611.04h1v11.66h-1zM232.9 511.93h1v5.83h-1zM232.9 541.08h1v5.83h-1zM232.9 564.4h1v5.83h-1zM232.9 576.06h1v5.83h-1zM232.9 611.04h1v11.66h-1zM235.9 581.89h1v5.83h-1zM239.9 611.04h1v5.83h-1zM240.9 558.57h1v5.83h-1zM244.9 506.1h1v17.49h-1zM244.9 535.25h1v5.83h-1zM244.9 576.06h1v5.83h-1zM245.9 511.93h1v11.66h-1zM245.9 558.57h1v34.98h-1zM245.9 616.87h1v5.83h-1zM248.9 558.57h1v5.83h-1zM248.9 611.04h1v5.83h-1zM253.9 576.06h1v5.83h-1zM254.9 581.89h1v5.83h-1zM262.9 529.42h1v5.83h-1zM262.9 552.74h1v23.32h-1zM262.9 587.72h1v11.66h-1zM262.9 611.04h1v5.83h-1zM263.9 576.06h1v5.83h-1zM263.9 611.04h1v5.83h-1zM264.9 541.08h1v5.83h-1zM264.9 599.38h1v11.66h-1zM266.9 564.4h1v5.83h-1zM267.9 506.1h1v5.83h-1zM267.9 599.38h1v5.83h-1z"/>
<path fill="#d7e2f4" d="M47.9 395.33h1v5.83h-1zM47.9 459.46h1v5.83h-1zM47.9 471.12h1v5.83h-1zM47.9 482.78h1v5.83h-1zM48.9 406.99h1v5.83h-1zM48.9 436.14h1v5.83h-1zM48.9 471.12h1v5.83h-1zM48.9 500.27h1v5.83h-1zM49.9 430.31h1v5.83h-1zM49.9 465.29h1v5.83h-1zM49.9 506.1h1v5.83h-1zM49.9 517.76h1v5.83h-1zM49.9 605.21h1v5.83h-1zM50.9 389.5h1v5.83h-1zM50.9 406.99h1v5.83h-1zM50.9 418.65h1v5.83h-1zM50.9 436.14h1v5.83h-1zM50.9 453.63h1v5.83h-1zM50.9 476.95h1v5.83h-1zM50.9 488.61h1v5.83h-1zM51.9 389.5h1v17.49h-1zM51.9 476.95h1v5.83h-1zM51.9 500.27h1v5.83h-1zM52.9 406.99h1v5.83h-1zM52.9 447.8h1v5.83h-1zM53.9 406.99h1v5.83h-1zM53.9 418.65h1v17.49h-1zM53.9 494.44h1v5.83h-1zM54.9 401.16h1v5.83h-1zM54.9 441.97h1v11.66h-1zM54.9 476.95h1v5.83h-1zM55.9 395.33h1v5.83h-1zM55.9 406.99h1v5.83h-1zM55.9 453.63h1v5.83h-1zM55.9 488.61h1v5.83h-1zM56.9 406.99h1v11.66h-1zM56.9 424.48h1v5.83h-1zM57.9 406.99h1v5.83h-1zM57.9 447.8h1v5.83h-1zM57.9 494.44h1v5.83h-1zM58.9 430.31h1v5.83h-1zM59.9 465.29h1v5.83h-1zM60.9 471.12h1v5.83h-1zM61.9 389.5h1v11.66h-1zM61.9 406.99h1v5.83h-1zM61.9 424.48h1v5.83h-1zM61.9 471.12h1v5.83h-1zM61.9 488.61h1v5.83h-1zM61.9 500.27h1v5.83h-1zM62.9 418.65h1v11.66h-1zM62.9 447.8h1v5.83h-1zM62.9 476.95h1v5.83h-1zM63.9 389.5h1v5.83h-1zM63.9 430.31h1v5.83h-1zM63.9 459.46h1v11.66h-1zM64.9 430.31h1v5.83h-1zM64.9 441.97h1v5.83h-1zM64.9 453.63h1v17.49h-1zM65.9 430.31h1v5.83h-1zM65.9 447.8h1v5.83h-1zM65.9 476.95h1v5.83h-1zM67.9 395.33h1v17.49h-1zM67.9 424.48h1v5.83h-1zM67.9 453.63h1v5.83h-1zM67.9 476.95h1v5.83h-1zM67.9 488.61h1v5.83h-1zM68.9 406.99h1v5.83h-1zM68.9 424.48h1v5.83h-1zM68.9 447.8h1v5.83h-1zM68.9 482.78h1v5.83h-1zM68.9 494.44h1v17.49h-1zM68.9 517.76h1v11.66h-1zM68.9 605.21h1v17.49h-1zM69.9 430.31h1v5.83h-1zM70.9 406.99h1v5.83h-1zM70.9 424.48h1v5.83h-1zM70.9 441.97h1v11.66h-1zM71.9 395.33h1v5.83h-1zM71.9 459.46h1v5.83h-1zM71.9 500.27h1v5.83h-1zM72.9 424.48h1v5.83h-1zM72.9 447.8h1v5.83h-1zM72.9 465.29h1v5.83h-1zM73.9 418.65h1v17.49h-1zM73.9 459.46h1v11.66h-1zM73.9 494.44h1v5.83h-1zM74.9 418.65h1v5.83h-1zM74.9 430.31h1v5.83h-1zM74.9 471.12h1v5.83h-1zM74.9 482.78h1v5.83h-1zM75.9 389.5h1v5.83h-1zM75.9 418.65h1v5.83h-1zM75.9 430.31h1v29.15h-1zM75.9 465.29h1v11.66h-1zM75.9 494.44h1v11.66h-1zM77.9 389.5h1v5.83h-1zM79.9 418.65h1v5.83h-1zM79.9 441.97h1v5.83h-1zM80.9 389.5h1v5.83h-1zM80.9 401.16h1v11.66h-1zM80.9 424.48h1v5.83h-1zM80.9 441.97h1v5.83h-1zM80.9 488.61h1v5.83h-1zM80.9 500.27h1v5.83h-1zM81.9 412.82h1v5.83h-1zM81.9 447.8h1v5.83h-1zM82.9 406.99h1v5.83h-1zM82.9 465.29h1v17.49h-1zM83.9 523.59h1v5.83h-1zM83.9 535.25h1v5.83h-1zM83.9 581.89h1v5.83h-1zM83.9 599.38h1v5.83h-1zM84.9 406.99h1v23.32h-1zM84.9 447.8h1v5.83h-1zM84.9 471.12h1v5.83h-1zM85.9 459.46h1v5.83h-1zM85.9 494.44h1v5.83h-1zM87.9 447.8h1v5.83h-1zM88.9 401.16h1v5.83h-1zM88.9 412.82h1v5.83h-1zM91.9 389.5h1v5.83h-1zM91.9 430.31h1v5.83h-1zM93.9 424.48h1v5.83h-1zM93.9 441.97h1v11.66h-1zM93.9 471.12h1v5.83h-1zM96.9 389.5h1v5.83h-1zM96.9 406.99h1v5.83h-1zM96.9 436.14h1v11.66h-1zM96.9 471.12h1v5.83h-1zM96.9 482.78h1v11.66h-1zM97.9 401.16h1v5.83h-1zM98.9 389.5h1v5.83h-1zM98.9 447.8h1v5.83h-1zM98.9 459.46h1v5.83h-1zM98.9 471.12h1v5.83h-1zM98.9 488.61h1v11.66h-1zM99.9 441.97h1v5.83h-1zM107.9 424.48h1v5.83h-1zM107.9 447.8h1v5.83h-1zM107.9 471.12h1v5.83h-1zM107.9 482.78h1v5.83h-1zM108.9 424.48h1v5.83h-1zM113.9 447.8h1v5.83h-1zM120.9 552.74h1v5.83h-1zM120.9 564.4h1v5.83h-1zM120.9 605.21h1v5.83h-1zM132.9 506.1h1v5.83h-1zM134.9 517.76h1v5.83h-1zM144.9 412.82h1v5.83h-1zM144.9 424.48h1v5.83h-1zM164.9 459.46h1v5.83h-1zM166.9 529.42h1v5.83h-1zM166.9 599.38h1v5.83h-1zM172.9 517.76h1v5.83h-1zM172.9 570.23h1v5.83h-1zM172.9 599.38h1v5.83h-1zM172.9 611.04h1v5.83h-1zM173.9 558.57h1v5.83h-1zM191.9 535.25h1v5.83h-1zM193.9 564.4h1v5.83h-1zM193.9 576.06h1v5.83h-1zM193.9 599.38h1v11.66h-1zM194.9 581.89h1v11.66h-1zM194.9 605.21h1v5.83h-1zM201.9 511.93h1v5.83h-1zM201.9 593.55h1v11.66h-1zM203.9 517.76h1v5.83h-1zM204.9 535.25h1v5.83h-1zM205.9 517.76h1v5.83h-1zM205.9 576.06h1v5.83h-1zM210.9 558.57h1v5.83h-1zM211.9 558.57h1v5.83h-1zM213.9 517.76h1v5.83h-1zM213.9 616.87h1v5.83h-1zM214.9 558.57h1v5.83h-1zM214.9 611.04h1v5.83h-1zM216.9 558.57h1v11.66h-1zM216.9 599.38h1v5.83h-1zM217.9 570.23h1v11.66h-1zM217.9 593.55h1v11.66h-1zM217.9 611.04h1v5.83h-1zM218.9 535.25h1v11.66h-1zM222.9 535.25h1v5.83h-1zM224.9 564.4h1v5.83h-1zM224.9 593.55h1v11.66h-1zM229.9 511.93h1v11.66h-1zM229.9 529.42h1v5.83h-1zM230.9 535.25h1v11.66h-1zM230.9 587.72h1v5.83h-1zM231.9 523.59h1v5.83h-1zM231.9 535.25h1v23.32h-1zM231.9 587.72h1v5.83h-1zM231.9 599.38h1v11.66h-1zM232.9 523.59h1v5.83h-1zM232.9 558.57h1v5.83h-1zM232.9 570.23h1v5.83h-1zM232.9 599.38h1v5.83h-1zM234.9 558.57h1v5.83h-1zM235.9 517.76h1v5.83h-1zM235.9 558.57h1v5.83h-1zM235.9 587.72h1v5.83h-1zM235.9 605.21h1v5.83h-1zM236.9 506.1h1v11.66h-1zM236.9 558.57h1v5.83h-1zM241.9 541.08h1v5.83h-1zM242.9 564.4h1v5.83h-1zM242.9 587.72h1v5.83h-1zM242.9 605.21h1v5.83h-1zM243.9 558.57h1v5.83h-1zM243.9 581.89h1v5.83h-1zM244.9 605.21h1v11.66h-1zM245.9 529.42h1v5.83h-1zM245.9 546.91h1v5.83h-1zM245.9 593.55h1v17.49h-1zM246.9 517.76h1v17.49h-1zM246.9 558.57h1v5.83h-1zM246.9 587.72h1v5.83h-1zM246.9 599.38h1v5.83h-1zM247.9 558.57h1v17.49h-1zM247.9 605.21h1v5.83h-1zM248.9 523.59h1v5.83h-1zM248.9 535.25h1v5.83h-1zM248.9 587.72h1v5.83h-1zM248.9 616.87h1v5.83h-1zM250.9 506.1h1v5.83h-1zM250.9 523.59h1v5.83h-1zM250.9 558.57h1v5.83h-1zM250.9 616.87h1v5.83h-1zM251.9 511.93h1v5.83h-1zM251.9 593.55h1v5.83h-1zM252.9 506.1h1v17.49h-1zM252.9 535.25h1v5.83h-1zM254.9 529.42h1v11.66h-1zM254.9 564.4h1v5.83h-1zM254.9 576.06h1v5.83h-1zM254.9 587.72h1v11.66h-1zM254.9 611.04h1v5.83h-1zM256.9 599.38h1v5.83h-1zM257.9 506.1h1v5.83h-1zM258.9 605.21h1v5.83h-1zM259.9 564.4h1v5.83h-1zM259.9 576.06h1v5.83h-1zM262.9 511.93h1v5.83h-1zM262.9 523.59h1v5.83h-1zM262.9 546.91h1v5.83h-1zM262.9 599.38h1v11.66h-1zM262.9 616.87h1v5.83h-1zM263.9 506.1h1v5.83h-1zM264.9 535.25h1v5.83h-1zM264.9 558.57h1v11.66h-1zM264.9 576.06h1v17.49h-1zM264.9 611.04h1v11.66h-1zM266.9 529.42h1v11.66h-1zM266.9 558.57h1v5.83h-1zM266.9 587.72h1v5.83h-1zM266.9 599.38h1v5.83h-1zM266.9 611.04h1v5.83h-1zM267.9 611.04h1v5.83h-1z"/>
<path fill="#c7d6ef" d="M47.9 401.16h1v5.83h-1zM47.9 412.82h1v5.83h-1zM47.9 494.44h1v5.83h-1zM48.9 395.33h1v5.83h-1zM48.9 412.82h1v23.32h-1zM48.9 447.8h1v5.83h-1zM48.9 465.29h1v5.83h-1zM48.9 494.44h1v5.83h-1zM50.9 412.82h1v5.83h-1zM55.9 401.16h1v5.83h-1zM55.9 412.82h1v5.83h-1zM55.9 447.8h1v5.83h-1zM55.9 471.12h1v11.66h-1zM59.9 424.48h1v5.83h-1zM59.9 436.14h1v5.83h-1zM59.9 494.44h1v5.83h-1zM62.9 494.44h1v5.83h-1zM67.9 430.31h1v5.83h-1zM67.9 447.8h1v5.83h-1zM67.9 459.46h1v5.83h-1zM68.9 389.5h1v5.83h-1zM68.9 401.16h1v5.83h-1zM69.9 395.33h1v5.83h-1zM69.9 447.8h1v5.83h-1zM69.9 459.46h1v5.83h-1zM71.9 412.82h1v5.83h-1zM73.9 412.82h1v5.83h-1zM73.9 447.8h1v5.83h-1zM74.9 406.99h1v5.83h-1zM74.9 447.8h1v5.83h-1zM75.9 401.16h1v5.83h-1zM75.9 476.95h1v5.83h-1zM75.9 488.61h1v5.83h-1zM79.9 406.99h1v5.83h-1zM79.9 482.78h1v5.83h-1zM80.9 412.82h1v5.83h-1zM80.9 430.31h1v5.83h-1zM85.9 401.16h1v5.83h-1zM85.9 412.82h1v5.83h-1zM85.9 436.14h1v5.83h-1zM85.9 447.8h1v11.66h-1zM85.9 465.29h1v5.83h-1zM85.9 488.61h1v5.83h-1zM88.9 406.99h1v5.83h-1zM88.9 447.8h1v5.83h-1zM91.9 406.99h1v5.83h-1zM96.9 447.8h1v5.83h-1zM120.9 506.1h1v5.83h-1zM120.9 523.59h1v5.83h-1zM120.9 535.25h1v11.66h-1zM120.9 581.89h1v5.83h-1zM120.9 611.04h1v5.83h-1zM194.9 616.87h1v5.83h-1zM231.9 506.1h1v5.83h-1zM231.9 517.76h1v5.83h-1zM231.9 564.4h1v5.83h-1zM232.9 517.76h1v5.83h-1zM232.9 581.89h1v5.83h-1zM235.9 616.87h1v5.83h-1zM244.9 558.57h1v5.83h-1zM244.9 599.38h1v5.83h-1zM245.9 506.1h1v5.83h-1zM245.9 541.08h1v5.83h-1zM245.9 611.04h1v5.83h-1zM254.9 506.1h1v5.83h-1zM254.9 523.59h1v5.83h-1zM254.9 616.87h1v5.83h-1zM262.9 506.1h1v5.83h-1zM262.9 517.76h1v5.83h-1zM262.9 541.08h1v5.83h-1zM266.9 506.1h1v5.83h-1z"/>
<path fill="#bfd0ed" d="M47.9 418.65h1v5.83h-1zM49.9 447.8h1v5.83h-1zM55.9 459.46h1v5.83h-1zM56.9 447.8h1v5.83h-1zM59.9 395.33h1v5.83h-1zM59.9 406.99h1v17.49h-1zM59.9 441.97h1v5.83h-1zM59.9 459.46h1v5.83h-1zM59.9 471.12h1v11.66h-1zM59.9 500.27h1v5.83h-1zM61.9 447.8h1v5.83h-1zM67.9 500.27h1v5.83h-1zM69.9 389.5h1v5.83h-1zM69.9 412.82h1v17.49h-1zM69.9 453.63h1v5.83h-1zM69.9 465.29h1v29.15h-1zM69.9 500.27h1v5.83h-1zM71.9 418.65h1v11.66h-1zM71.9 447.8h1v5.83h-1zM85.9 406.99h1v5.83h-1zM85.9 424.48h1v5.83h-1zM85.9 476.95h1v5.83h-1zM85.9 500.27h1v5.83h-1zM120.9 517.76h1v5.83h-1zM120.9 558.57h1v5.83h-1zM120.9 593.55h1v5.83h-1zM194.9 535.25h1v5.83h-1zM262.9 576.06h1v11.66h-1z"/>
<path fill="#dfe8f6" d="M47.9 424.48h1v5.83h-1zM47.9 436.14h1v11.66h-1zM47.9 465.29h1v5.83h-1zM47.9 476.95h1v5.83h-1zM47.9 488.61h1v5.83h-1zM48.9 476.95h1v5.83h-1zM49.9 389.5h1v5.83h-1zM49.9 401.16h1v17.49h-1zM49.9 424.48h1v5.83h-1zM49.9 441.97h1v5.83h-1zM49.9 459.46h1v5.83h-1zM49.9 482.78h1v23.32h-1zM49.9 535.25h1v5.83h-1zM49.9 558.57h1v23.32h-1zM49.9 593.55h1v5.83h-1zM50.9 441.97h1v5.83h-1zM50.9 465.29h1v11.66h-1zM51.9 406.99h1v5.83h-1zM51.9 424.48h1v5.83h-1zM51.9 441.97h1v5.83h-1zM51.9 465.29h1v11.66h-1zM51.9 494.44h1v5.83h-1zM52.9 418.65h1v11.66h-1zM52.9 459.46h1v5.83h-1zM52.9 476.95h1v5.83h-1zM53.9 389.5h1v5.83h-1zM53.9 412.82h1v5.83h-1zM53.9 447.8h1v5.83h-1zM53.9 465.29h1v5.83h-1zM54.9 389.5h1v5.83h-1zM54.9 412.82h1v5.83h-1zM54.9 465.29h1v5.83h-1zM55.9 418.65h1v5.83h-1zM55.9 430.31h1v11.66h-1zM55.9 482.78h1v5.83h-1zM55.9 494.44h1v11.66h-1zM56.9 389.5h1v5.83h-1zM56.9 430.31h1v5.83h-1zM56.9 465.29h1v5.83h-1zM56.9 476.95h1v5.83h-1zM56.9 488.61h1v11.66h-1zM57.9 395.33h1v11.66h-1zM57.9 412.82h1v11.66h-1zM57.9 430.31h1v5.83h-1zM57.9 459.46h1v17.49h-1zM58.9 412.82h1v5.83h-1zM58.9 447.8h1v11.66h-1zM58.9 465.29h1v5.83h-1zM58.9 476.95h1v5.83h-1zM58.9 488.61h1v11.66h-1zM60.9 401.16h1v11.66h-1zM60.9 465.29h1v5.83h-1zM60.9 488.61h1v5.83h-1zM61.9 412.82h1v5.83h-1zM61.9 430.31h1v11.66h-1zM62.9 436.14h1v11.66h-1zM62.9 453.63h1v5.83h-1zM62.9 465.29h1v11.66h-1zM62.9 482.78h1v5.83h-1zM62.9 500.27h1v5.83h-1zM63.9 401.16h1v5.83h-1zM63.9 424.48h1v5.83h-1zM63.9 471.12h1v11.66h-1zM63.9 488.61h1v5.83h-1zM64.9 389.5h1v5.83h-1zM64.9 424.48h1v5.83h-1zM64.9 447.8h1v5.83h-1zM64.9 482.78h1v11.66h-1zM65.9 395.33h1v5.83h-1zM65.9 406.99h1v17.49h-1zM66.9 412.82h1v5.83h-1zM66.9 471.12h1v5.83h-1zM68.9 418.65h1v5.83h-1zM68.9 441.97h1v5.83h-1zM68.9 465.29h1v5.83h-1zM68.9 488.61h1v5.83h-1zM68.9 541.08h1v5.83h-1zM68.9 564.4h1v5.83h-1zM68.9 599.38h1v5.83h-1zM70.9 389.5h1v5.83h-1zM70.9 401.16h1v5.83h-1zM70.9 412.82h1v5.83h-1zM70.9 430.31h1v5.83h-1zM70.9 465.29h1v11.66h-1zM70.9 482.78h1v5.83h-1zM70.9 500.27h1v5.83h-1zM71.9 430.31h1v5.83h-1zM71.9 453.63h1v5.83h-1zM71.9 465.29h1v5.83h-1zM71.9 476.95h1v17.49h-1zM72.9 401.16h1v5.83h-1zM73.9 395.33h1v5.83h-1zM73.9 476.95h1v5.83h-1zM74.9 389.5h1v11.66h-1zM74.9 476.95h1v5.83h-1zM74.9 488.61h1v11.66h-1zM75.9 395.33h1v5.83h-1zM75.9 459.46h1v5.83h-1zM79.9 395.33h1v5.83h-1zM79.9 412.82h1v5.83h-1zM79.9 453.63h1v11.66h-1zM79.9 471.12h1v11.66h-1zM79.9 500.27h1v5.83h-1zM80.9 471.12h1v5.83h-1zM81.9 389.5h1v5.83h-1zM81.9 401.16h1v5.83h-1zM81.9 476.95h1v11.66h-1zM82.9 389.5h1v5.83h-1zM82.9 401.16h1v5.83h-1zM82.9 412.82h1v5.83h-1zM82.9 430.31h1v5.83h-1zM82.9 447.8h1v5.83h-1zM82.9 459.46h1v5.83h-1zM82.9 494.44h1v11.66h-1zM83.9 418.65h1v5.83h-1zM83.9 447.8h1v5.83h-1zM83.9 541.08h1v5.83h-1zM83.9 564.4h1v5.83h-1zM83.9 593.55h1v5.83h-1zM83.9 611.04h1v11.66h-1zM84.9 401.16h1v5.83h-1zM84.9 430.31h1v5.83h-1zM84.9 453.63h1v5.83h-1zM84.9 476.95h1v11.66h-1zM84.9 500.27h1v5.83h-1zM86.9 412.82h1v5.83h-1zM86.9 441.97h1v5.83h-1zM87.9 471.12h1v5.83h-1zM88.9 418.65h1v5.83h-1zM88.9 476.95h1v17.49h-1zM88.9 500.27h1v5.83h-1zM90.9 459.46h1v5.83h-1zM91.9 401.16h1v5.83h-1zM91.9 412.82h1v5.83h-1zM91.9 441.97h1v5.83h-1zM91.9 459.46h1v5.83h-1zM91.9 488.61h1v5.83h-1zM93.9 418.65h1v5.83h-1zM93.9 453.63h1v5.83h-1zM93.9 494.44h1v11.66h-1zM96.9 401.16h1v5.83h-1zM96.9 412.82h1v11.66h-1zM96.9 476.95h1v5.83h-1zM96.9 494.44h1v5.83h-1zM97.9 482.78h1v5.83h-1zM98.9 395.33h1v5.83h-1zM98.9 465.29h1v5.83h-1zM98.9 476.95h1v5.83h-1zM99.9 401.16h1v5.83h-1zM100.9 406.99h1v5.83h-1zM100.9 418.65h1v5.83h-1zM100.9 465.29h1v11.66h-1zM101.9 430.31h1v5.83h-1zM101.9 447.8h1v5.83h-1zM102.9 406.99h1v11.66h-1zM102.9 424.48h1v5.83h-1zM102.9 441.97h1v5.83h-1zM102.9 494.44h1v5.83h-1zM106.9 447.8h1v5.83h-1zM107.9 401.16h1v23.32h-1zM107.9 441.97h1v5.83h-1zM107.9 453.63h1v5.83h-1zM107.9 465.29h1v5.83h-1zM107.9 476.95h1v5.83h-1zM108.9 401.16h1v5.83h-1zM109.9 389.5h1v5.83h-1zM109.9 401.16h1v5.83h-1zM112.9 471.12h1v5.83h-1zM113.9 424.48h1v5.83h-1zM113.9 500.27h1v5.83h-1zM120.9 389.5h1v5.83h-1zM120.9 546.91h1v5.83h-1zM120.9 570.23h1v5.83h-1zM122.9 476.95h1v5.83h-1zM123.9 430.31h1v5.83h-1zM123.9 611.04h1v5.83h-1zM127.9 465.29h1v11.66h-1zM132.9 576.06h1v5.83h-1zM137.9 511.93h1v5.83h-1zM144.9 389.5h1v5.83h-1zM145.9 558.57h1v5.83h-1zM151.9 564.4h1v5.83h-1zM159.9 471.12h1v5.83h-1zM161.9 506.1h1v5.83h-1zM161.9 599.38h1v5.83h-1zM164.9 389.5h1v5.83h-1zM164.9 412.82h1v5.83h-1zM164.9 424.48h1v11.66h-1zM164.9 441.97h1v5.83h-1zM166.9 506.1h1v5.83h-1zM166.9 517.76h1v5.83h-1zM166.9 611.04h1v11.66h-1zM170.9 576.06h1v5.83h-1zM172.9 523.59h1v5.83h-1zM172.9 535.25h1v11.66h-1zM172.9 576.06h1v5.83h-1zM172.9 593.55h1v5.83h-1zM173.9 506.1h1v5.83h-1zM175.9 570.23h1v11.66h-1zM178.9 406.99h1v5.83h-1zM179.9 599.38h1v5.83h-1zM185.9 581.89h1v5.83h-1zM187.9 552.74h1v11.66h-1zM188.9 535.25h1v5.83h-1zM188.9 599.38h1v5.83h-1zM189.9 552.74h1v5.83h-1zM190.9 506.1h1v5.83h-1zM190.9 541.08h1v5.83h-1zM190.9 570.23h1v11.66h-1zM190.9 599.38h1v5.83h-1zM190.9 611.04h1v5.83h-1zM191.9 506.1h1v5.83h-1zM191.9 581.89h1v5.83h-1zM191.9 616.87h1v5.83h-1zM193.9 517.76h1v11.66h-1zM193.9 552.74h1v11.66h-1zM193.9 581.89h1v5.83h-1zM194.9 541.08h1v11.66h-1zM194.9 570.23h1v5.83h-1zM195.9 558.57h1v5.83h-1zM198.9 535.25h1v5.83h-1zM198.9 599.38h1v5.83h-1zM200.9 511.93h1v5.83h-1zM201.9 529.42h1v5.83h-1zM201.9 570.23h1v11.66h-1zM201.9 587.72h1v5.83h-1zM201.9 605.21h1v5.83h-1zM202.9 535.25h1v5.83h-1zM203.9 535.25h1v5.83h-1zM204.9 511.93h1v23.32h-1zM204.9 587.72h1v5.83h-1zM204.9 599.38h1v5.83h-1zM204.9 611.04h1v5.83h-1zM205.9 511.93h1v5.83h-1zM205.9 535.25h1v5.83h-1zM205.9 593.55h1v5.83h-1zM205.9 611.04h1v5.83h-1zM206.9 552.74h1v5.83h-1zM207.9 511.93h1v5.83h-1zM207.9 535.25h1v5.83h-1zM207.9 576.06h1v5.83h-1zM207.9 593.55h1v11.66h-1zM208.9 599.38h1v5.83h-1zM209.9 535.25h1v5.83h-1zM209.9 546.91h1v5.83h-1zM209.9 611.04h1v5.83h-1zM211.9 541.08h1v5.83h-1zM211.9 593.55h1v11.66h-1zM214.9 517.76h1v5.83h-1zM214.9 529.42h1v11.66h-1zM214.9 576.06h1v5.83h-1zM214.9 587.72h1v5.83h-1zM214.9 599.38h1v11.66h-1zM214.9 616.87h1v5.83h-1zM216.9 529.42h1v5.83h-1zM216.9 616.87h1v5.83h-1zM217.9 506.1h1v5.83h-1zM217.9 529.42h1v5.83h-1zM217.9 546.91h1v5.83h-1zM217.9 558.57h1v5.83h-1zM217.9 581.89h1v5.83h-1zM217.9 616.87h1v5.83h-1zM220.9 576.06h1v5.83h-1zM221.9 535.25h1v5.83h-1zM221.9 558.57h1v5.83h-1zM221.9 599.38h1v5.83h-1zM221.9 616.87h1v5.83h-1zM222.9 517.76h1v5.83h-1zM222.9 541.08h1v5.83h-1zM222.9 564.4h1v5.83h-1zM224.9 506.1h1v5.83h-1zM225.9 535.25h1v5.83h-1zM225.9 599.38h1v5.83h-1zM226.9 506.1h1v5.83h-1zM228.9 558.57h1v5.83h-1zM228.9 599.38h1v5.83h-1zM229.9 552.74h1v11.66h-1zM229.9 593.55h1v5.83h-1zM229.9 616.87h1v5.83h-1zM230.9 511.93h1v5.83h-1zM230.9 523.59h1v5.83h-1zM230.9 552.74h1v17.49h-1zM230.9 576.06h1v11.66h-1zM230.9 599.38h1v5.83h-1zM230.9 616.87h1v5.83h-1zM231.9 558.57h1v5.83h-1zM231.9 593.55h1v5.83h-1zM232.9 529.42h1v11.66h-1zM232.9 552.74h1v5.83h-1zM232.9 587.72h1v11.66h-1zM232.9 605.21h1v5.83h-1zM234.9 511.93h1v5.83h-1zM234.9 529.42h1v5.83h-1zM234.9 564.4h1v5.83h-1zM234.9 576.06h1v11.66h-1zM235.9 506.1h1v5.83h-1zM235.9 541.08h1v5.83h-1zM235.9 552.74h1v5.83h-1zM235.9 564.4h1v5.83h-1zM235.9 576.06h1v5.83h-1zM235.9 599.38h1v5.83h-1zM236.9 535.25h1v5.83h-1zM236.9 576.06h1v5.83h-1zM236.9 593.55h1v5.83h-1zM238.9 506.1h1v5.83h-1zM238.9 535.25h1v5.83h-1zM238.9 576.06h1v5.83h-1zM238.9 599.38h1v5.83h-1zM238.9 611.04h1v5.83h-1zM239.9 506.1h1v5.83h-1zM239.9 517.76h1v11.66h-1zM239.9 535.25h1v5.83h-1zM239.9 605.21h1v5.83h-1zM240.9 511.93h1v5.83h-1zM240.9 535.25h1v5.83h-1zM240.9 564.4h1v5.83h-1zM240.9 599.38h1v5.83h-1zM240.9 611.04h1v11.66h-1zM241.9 506.1h1v17.49h-1zM241.9 564.4h1v5.83h-1zM241.9 599.38h1v5.83h-1zM242.9 517.76h1v5.83h-1zM242.9 529.42h1v5.83h-1zM242.9 576.06h1v11.66h-1zM242.9 599.38h1v5.83h-1zM242.9 611.04h1v11.66h-1zM243.9 506.1h1v5.83h-1zM243.9 523.59h1v17.49h-1zM243.9 564.4h1v11.66h-1zM243.9 605.21h1v11.66h-1zM244.9 523.59h1v5.83h-1zM244.9 541.08h1v11.66h-1zM244.9 570.23h1v5.83h-1zM244.9 616.87h1v5.83h-1zM245.9 523.59h1v5.83h-1zM246.9 511.93h1v5.83h-1zM246.9 535.25h1v11.66h-1zM246.9 564.4h1v17.49h-1zM246.9 605.21h1v5.83h-1zM247.9 506.1h1v5.83h-1zM247.9 517.76h1v11.66h-1zM247.9 535.25h1v5.83h-1zM247.9 581.89h1v5.83h-1zM247.9 599.38h1v5.83h-1zM247.9 611.04h1v5.83h-1zM248.9 511.93h1v5.83h-1zM248.9 541.08h1v5.83h-1zM248.9 581.89h1v5.83h-1zM248.9 599.38h1v5.83h-1zM249.9 535.25h1v11.66h-1zM249.9 558.57h1v17.49h-1zM249.9 616.87h1v5.83h-1zM250.9 511.93h1v5.83h-1zM250.9 529.42h1v11.66h-1zM250.9 564.4h1v5.83h-1zM250.9 593.55h1v5.83h-1zM251.9 529.42h1v5.83h-1zM251.9 541.08h1v5.83h-1zM252.9 523.59h1v5.83h-1zM252.9 576.06h1v5.83h-1zM252.9 593.55h1v5.83h-1zM252.9 605.21h1v5.83h-1zM253.9 506.1h1v17.49h-1zM253.9 541.08h1v5.83h-1zM253.9 558.57h1v5.83h-1zM253.9 570.23h1v5.83h-1zM253.9 581.89h1v17.49h-1zM253.9 605.21h1v5.83h-1zM253.9 616.87h1v5.83h-1zM254.9 511.93h1v5.83h-1zM254.9 541.08h1v23.32h-1zM254.9 570.23h1v5.83h-1zM254.9 599.38h1v5.83h-1zM255.9 558.57h1v5.83h-1zM256.9 558.57h1v5.83h-1zM257.9 517.76h1v11.66h-1zM257.9 558.57h1v5.83h-1zM257.9 599.38h1v5.83h-1zM257.9 616.87h1v5.83h-1zM258.9 599.38h1v5.83h-1zM259.9 506.1h1v5.83h-1zM259.9 558.57h1v5.83h-1zM259.9 593.55h1v5.83h-1zM259.9 616.87h1v5.83h-1zM261.9 506.1h1v5.83h-1zM262.9 535.25h1v5.83h-1zM263.9 529.42h1v5.83h-1zM263.9 558.57h1v5.83h-1zM263.9 587.72h1v5.83h-1zM263.9 599.38h1v5.83h-1zM264.9 506.1h1v5.83h-1zM264.9 517.76h1v5.83h-1zM264.9 529.42h1v5.83h-1zM264.9 552.74h1v5.83h-1zM264.9 570.23h1v5.83h-1zM265.9 558.57h1v5.83h-1zM265.9 599.38h1v5.83h-1zM266.9 517.76h1v11.66h-1zM266.9 552.74h1v5.83h-1zM266.9 570.23h1v17.49h-1zM266.9 593.55h1v5.83h-1zM266.9 605.21h1v5.83h-1zM267.9 511.93h1v5.83h-1zM267.9 535.25h1v5.83h-1zM267.9 558.57h1v5.83h-1zM267.9 570.23h1v5.83h-1zM267.9 581.89h1v11.66h-1zM267.9 605.21h1v5.83h-1zM267.9 616.87h1v5.83h-1z"/>
<path fill="#b7caeb" d="M47.9 447.8h1v5.83h-1zM48.9 389.5h1v5.83h-1zM59.9 430.31h1v5.83h-1zM59.9 447.8h1v5.83h-1zM69.9 406.99h1v5.83h-1zM85.9 471.12h1v5.83h-1zM120.9 511.93h1v5.83h-1zM244.9 529.42h1v5.83h-1zM245.9 552.74h1v5.83h-1z"/>
<path fill="#eff3fa" d="M47.9 453.63h1v5.83h-1zM48.9 488.61h1v5.83h-1zM49.9 436.14h1v5.83h-1zM49.9 523.59h1v5.83h-1zM49.9 541.08h1v5.83h-1zM49.9 552.74h1v5.83h-1zM49.9 581.89h1v11.66h-1zM49.9 616.87h1v5.83h-1zM51.9 436.14h1v5.83h-1zM51.9 453.63h1v5.83h-1zM51.9 482.78h1v5.83h-1zM52.9 389.5h1v17.49h-1zM52.9 436.14h1v5.83h-1zM52.9 453.63h1v5.83h-1zM52.9 482.78h1v5.83h-1zM52.9 494.44h1v11.66h-1zM53.9 436.14h1v5.83h-1zM53.9 500.27h1v5.83h-1zM54.9 395.33h1v5.83h-1zM54.9 418.65h1v5.83h-1zM54.9 436.14h1v5.83h-1zM54.9 482.78h1v5.83h-1zM54.9 500.27h1v5.83h-1zM56.9 395.33h1v5.83h-1zM56.9 436.14h1v11.66h-1zM56.9 500.27h1v5.83h-1zM57.9 436.14h1v5.83h-1zM57.9 488.61h1v5.83h-1zM58.9 459.46h1v5.83h-1zM58.9 482.78h1v5.83h-1zM60.9 436.14h1v11.66h-1zM60.9 453.63h1v11.66h-1zM60.9 482.78h1v5.83h-1zM60.9 494.44h1v17.49h-1zM60.9 599.38h1v5.83h-1zM62.9 488.61h1v5.83h-1zM63.9 441.97h1v5.83h-1zM63.9 453.63h1v5.83h-1zM63.9 558.57h1v5.83h-1zM64.9 418.65h1v5.83h-1zM64.9 471.12h1v11.66h-1zM64.9 500.27h1v5.83h-1zM65.9 401.16h1v5.83h-1zM65.9 465.29h1v5.83h-1zM65.9 482.78h1v5.83h-1zM65.9 494.44h1v5.83h-1zM66.9 406.99h1v5.83h-1zM66.9 418.65h1v11.66h-1zM66.9 436.14h1v11.66h-1zM66.9 459.46h1v5.83h-1zM66.9 488.61h1v5.83h-1zM68.9 436.14h1v5.83h-1zM68.9 535.25h1v5.83h-1zM68.9 558.57h1v5.83h-1zM68.9 593.55h1v5.83h-1zM70.9 459.46h1v5.83h-1zM71.9 436.14h1v5.83h-1zM72.9 406.99h1v11.66h-1zM72.9 476.95h1v5.83h-1zM72.9 500.27h1v5.83h-1zM73.9 436.14h1v5.83h-1zM74.9 453.63h1v5.83h-1zM74.9 500.27h1v5.83h-1zM76.9 401.16h1v11.66h-1zM76.9 430.31h1v5.83h-1zM77.9 412.82h1v5.83h-1zM77.9 430.31h1v5.83h-1zM77.9 459.46h1v5.83h-1zM78.9 412.82h1v5.83h-1zM78.9 441.97h1v5.83h-1zM78.9 465.29h1v5.83h-1zM78.9 494.44h1v5.83h-1zM79.9 488.61h1v5.83h-1zM80.9 418.65h1v5.83h-1zM80.9 465.29h1v5.83h-1zM80.9 494.44h1v5.83h-1zM81.9 406.99h1v5.83h-1zM81.9 488.61h1v5.83h-1zM82.9 488.61h1v5.83h-1zM83.9 406.99h1v5.83h-1zM83.9 424.48h1v5.83h-1zM83.9 459.46h1v17.49h-1zM83.9 482.78h1v5.83h-1zM83.9 494.44h1v5.83h-1zM83.9 587.72h1v5.83h-1zM84.9 389.5h1v11.66h-1zM84.9 436.14h1v5.83h-1zM84.9 465.29h1v5.83h-1zM86.9 395.33h1v11.66h-1zM86.9 424.48h1v5.83h-1zM86.9 500.27h1v5.83h-1zM87.9 441.97h1v5.83h-1zM87.9 453.63h1v5.83h-1zM87.9 465.29h1v5.83h-1zM87.9 482.78h1v17.49h-1zM88.9 436.14h1v5.83h-1zM88.9 459.46h1v11.66h-1zM90.9 395.33h1v29.15h-1zM90.9 476.95h1v17.49h-1zM91.9 494.44h1v5.83h-1zM92.9 482.78h1v5.83h-1zM93.9 406.99h1v5.83h-1zM93.9 476.95h1v11.66h-1zM94.9 401.16h1v5.83h-1zM94.9 412.82h1v5.83h-1zM94.9 447.8h1v5.83h-1zM95.9 389.5h1v5.83h-1zM95.9 401.16h1v17.49h-1zM95.9 424.48h1v5.83h-1zM95.9 459.46h1v23.32h-1zM96.9 395.33h1v5.83h-1zM97.9 389.5h1v11.66h-1zM97.9 406.99h1v5.83h-1zM97.9 424.48h1v5.83h-1zM97.9 465.29h1v11.66h-1zM97.9 488.61h1v17.49h-1zM98.9 436.14h1v5.83h-1zM99.9 412.82h1v5.83h-1zM99.9 447.8h1v5.83h-1zM99.9 459.46h1v11.66h-1zM99.9 500.27h1v5.83h-1zM100.9 424.48h1v11.66h-1zM100.9 441.97h1v5.83h-1zM100.9 453.63h1v5.83h-1zM100.9 476.95h1v5.83h-1zM100.9 494.44h1v5.83h-1zM101.9 406.99h1v5.83h-1zM101.9 418.65h1v5.83h-1zM101.9 441.97h1v5.83h-1zM101.9 453.63h1v34.98h-1zM101.9 494.44h1v5.83h-1zM102.9 389.5h1v11.66h-1zM102.9 430.31h1v5.83h-1zM102.9 465.29h1v11.66h-1zM102.9 482.78h1v5.83h-1zM103.9 406.99h1v5.83h-1zM103.9 441.97h1v5.83h-1zM103.9 494.44h1v5.83h-1zM104.9 412.82h1v5.83h-1zM104.9 424.48h1v5.83h-1zM104.9 465.29h1v17.49h-1zM105.9 430.31h1v5.83h-1zM105.9 465.29h1v5.83h-1zM105.9 482.78h1v5.83h-1zM105.9 494.44h1v5.83h-1zM106.9 389.5h1v5.83h-1zM106.9 401.16h1v5.83h-1zM106.9 418.65h1v5.83h-1zM106.9 611.04h1v5.83h-1zM107.9 395.33h1v5.83h-1zM108.9 406.99h1v5.83h-1zM108.9 430.31h1v11.66h-1zM108.9 447.8h1v5.83h-1zM108.9 488.61h1v5.83h-1zM109.9 430.31h1v5.83h-1zM109.9 441.97h1v5.83h-1zM109.9 471.12h1v11.66h-1zM109.9 488.61h1v5.83h-1zM109.9 500.27h1v5.83h-1zM110.9 395.33h1v5.83h-1zM110.9 465.29h1v5.83h-1zM110.9 476.95h1v11.66h-1zM111.9 389.5h1v5.83h-1zM111.9 401.16h1v17.49h-1zM111.9 430.31h1v5.83h-1zM111.9 459.46h1v5.83h-1zM111.9 482.78h1v5.83h-1zM111.9 494.44h1v5.83h-1zM112.9 406.99h1v11.66h-1zM112.9 447.8h1v5.83h-1zM112.9 459.46h1v11.66h-1zM113.9 389.5h1v11.66h-1zM113.9 406.99h1v5.83h-1zM113.9 418.65h1v5.83h-1zM113.9 430.31h1v5.83h-1zM113.9 459.46h1v5.83h-1zM113.9 471.12h1v17.49h-1zM113.9 494.44h1v5.83h-1zM114.9 401.16h1v5.83h-1zM115.9 412.82h1v5.83h-1zM116.9 389.5h1v5.83h-1zM116.9 401.16h1v11.66h-1zM116.9 418.65h1v11.66h-1zM118.9 535.25h1v5.83h-1zM118.9 593.55h1v5.83h-1zM120.9 412.82h1v5.83h-1zM120.9 441.97h1v5.83h-1zM120.9 453.63h1v5.83h-1zM120.9 465.29h1v17.49h-1zM121.9 412.82h1v11.66h-1zM121.9 488.61h1v5.83h-1zM121.9 576.06h1v5.83h-1zM121.9 593.55h1v5.83h-1zM122.9 389.5h1v5.83h-1zM122.9 401.16h1v11.66h-1zM122.9 418.65h1v5.83h-1zM122.9 447.8h1v11.66h-1zM122.9 500.27h1v5.83h-1zM122.9 558.57h1v5.83h-1zM123.9 401.16h1v11.66h-1zM123.9 418.65h1v11.66h-1zM123.9 471.12h1v11.66h-1zM123.9 517.76h1v5.83h-1zM123.9 535.25h1v5.83h-1zM123.9 558.57h1v11.66h-1zM124.9 401.16h1v5.83h-1zM124.9 447.8h1v5.83h-1zM125.9 558.57h1v5.83h-1zM126.9 447.8h1v5.83h-1zM126.9 541.08h1v5.83h-1zM126.9 558.57h1v5.83h-1zM126.9 599.38h1v5.83h-1zM126.9 611.04h1v5.83h-1zM127.9 412.82h1v5.83h-1zM127.9 482.78h1v5.83h-1zM128.9 511.93h1v5.83h-1zM128.9 541.08h1v5.83h-1zM128.9 552.74h1v5.83h-1zM129.9 558.57h1v5.83h-1zM131.9 441.97h1v11.66h-1zM131.9 494.44h1v5.83h-1zM132.9 401.16h1v5.83h-1zM132.9 482.78h1v5.83h-1zM132.9 517.76h1v5.83h-1zM132.9 535.25h1v5.83h-1zM132.9 552.74h1v5.83h-1zM132.9 564.4h1v11.66h-1zM132.9 599.38h1v5.83h-1zM132.9 616.87h1v5.83h-1zM133.9 424.48h1v5.83h-1zM133.9 506.1h1v5.83h-1zM133.9 541.08h1v5.83h-1zM134.9 430.31h1v5.83h-1zM134.9 511.93h1v5.83h-1zM134.9 535.25h1v5.83h-1zM134.9 587.72h1v17.49h-1zM134.9 611.04h1v11.66h-1zM136.9 570.23h1v5.83h-1zM137.9 395.33h1v11.66h-1zM137.9 523.59h1v11.66h-1zM137.9 541.08h1v5.83h-1zM137.9 564.4h1v5.83h-1zM137.9 581.89h1v5.83h-1zM137.9 599.38h1v5.83h-1zM138.9 593.55h1v5.83h-1zM139.9 558.57h1v5.83h-1zM140.9 447.8h1v5.83h-1zM140.9 488.61h1v5.83h-1zM141.9 401.16h1v5.83h-1zM142.9 541.08h1v5.83h-1zM142.9 558.57h1v5.83h-1zM142.9 581.89h1v5.83h-1zM142.9 599.38h1v5.83h-1zM144.9 430.31h1v5.83h-1zM144.9 441.97h1v5.83h-1zM144.9 453.63h1v5.83h-1zM144.9 465.29h1v5.83h-1zM144.9 488.61h1v5.83h-1zM144.9 564.4h1v5.83h-1zM144.9 587.72h1v5.83h-1zM145.9 447.8h1v5.83h-1zM145.9 459.46h1v5.83h-1zM145.9 476.95h1v5.83h-1zM145.9 500.27h1v23.32h-1zM145.9 570.23h1v11.66h-1zM146.9 447.8h1v5.83h-1zM146.9 476.95h1v5.83h-1zM146.9 494.44h1v5.83h-1zM146.9 558.57h1v5.83h-1zM147.9 494.44h1v5.83h-1zM147.9 511.93h1v5.83h-1zM147.9 599.38h1v5.83h-1zM148.9 418.65h1v5.83h-1zM148.9 441.97h1v5.83h-1zM148.9 476.95h1v5.83h-1zM148.9 558.57h1v5.83h-1zM148.9 587.72h1v5.83h-1zM149.9 406.99h1v5.83h-1zM149.9 424.48h1v5.83h-1zM149.9 535.25h1v5.83h-1zM150.9 558.57h1v5.83h-1zM150.9 570.23h1v5.83h-1zM150.9 593.55h1v11.66h-1zM151.9 506.1h1v5.83h-1zM151.9 570.23h1v5.83h-1zM152.9 430.31h1v5.83h-1zM152.9 465.29h1v5.83h-1zM152.9 611.04h1v11.66h-1zM153.9 517.76h1v5.83h-1zM153.9 564.4h1v5.83h-1zM153.9 576.06h1v5.83h-1zM153.9 599.38h1v11.66h-1zM154.9 424.48h1v5.83h-1zM154.9 447.8h1v5.83h-1zM154.9 552.74h1v5.83h-1zM154.9 576.06h1v11.66h-1zM154.9 599.38h1v5.83h-1zM155.9 506.1h1v5.83h-1zM156.9 599.38h1v5.83h-1zM158.9 482.78h1v5.83h-1zM158.9 535.25h1v5.83h-1zM158.9 599.38h1v5.83h-1zM159.9 401.16h1v5.83h-1zM159.9 418.65h1v5.83h-1zM159.9 447.8h1v5.83h-1zM159.9 506.1h1v5.83h-1zM160.9 476.95h1v5.83h-1zM160.9 511.93h1v5.83h-1zM161.9 529.42h1v5.83h-1zM161.9 570.23h1v5.83h-1zM162.9 389.5h1v5.83h-1zM162.9 412.82h1v5.83h-1zM162.9 476.95h1v5.83h-1zM162.9 511.93h1v11.66h-1zM162.9 552.74h1v5.83h-1zM162.9 576.06h1v5.83h-1zM163.9 401.16h1v5.83h-1zM163.9 441.97h1v11.66h-1zM163.9 529.42h1v5.83h-1zM164.9 395.33h1v5.83h-1zM164.9 476.95h1v5.83h-1zM164.9 500.27h1v5.83h-1zM165.9 412.82h1v11.66h-1zM165.9 535.25h1v5.83h-1zM165.9 605.21h1v5.83h-1zM166.9 523.59h1v5.83h-1zM166.9 541.08h1v17.49h-1zM166.9 570.23h1v5.83h-1zM166.9 605.21h1v5.83h-1zM167.9 418.65h1v5.83h-1zM167.9 447.8h1v5.83h-1zM168.9 418.65h1v11.66h-1zM169.9 517.76h1v11.66h-1zM169.9 535.25h1v5.83h-1zM169.9 564.4h1v5.83h-1zM169.9 587.72h1v5.83h-1zM169.9 605.21h1v5.83h-1zM170.9 424.48h1v5.83h-1zM170.9 488.61h1v5.83h-1zM170.9 523.59h1v11.66h-1zM170.9 541.08h1v5.83h-1zM170.9 558.57h1v5.83h-1zM170.9 581.89h1v5.83h-1zM170.9 599.38h1v5.83h-1zM172.9 511.93h1v5.83h-1zM172.9 529.42h1v5.83h-1zM173.9 511.93h1v5.83h-1zM173.9 529.42h1v5.83h-1zM173.9 570.23h1v11.66h-1zM175.9 418.65h1v5.83h-1zM175.9 558.57h1v5.83h-1zM175.9 611.04h1v5.83h-1zM176.9 506.1h1v11.66h-1zM176.9 523.59h1v5.83h-1zM176.9 535.25h1v5.83h-1zM176.9 558.57h1v5.83h-1zM176.9 570.23h1v5.83h-1zM176.9 581.89h1v5.83h-1zM176.9 599.38h1v5.83h-1zM176.9 611.04h1v11.66h-1zM177.9 517.76h1v5.83h-1zM177.9 581.89h1v5.83h-1zM177.9 616.87h1v5.83h-1zM178.9 430.31h1v5.83h-1zM178.9 447.8h1v5.83h-1zM178.9 476.95h1v5.83h-1zM178.9 570.23h1v5.83h-1zM179.9 506.1h1v5.83h-1zM179.9 558.57h1v5.83h-1zM179.9 570.23h1v5.83h-1zM180.9 517.76h1v5.83h-1zM180.9 593.55h1v5.83h-1zM181.9 476.95h1v5.83h-1zM181.9 535.25h1v5.83h-1zM181.9 564.4h1v17.49h-1zM181.9 593.55h1v5.83h-1zM181.9 605.21h1v5.83h-1zM182.9 447.8h1v5.83h-1zM182.9 599.38h1v5.83h-1zM183.9 424.48h1v5.83h-1zM183.9 517.76h1v11.66h-1zM183.9 535.25h1v5.83h-1zM183.9 546.91h1v5.83h-1zM183.9 564.4h1v11.66h-1zM183.9 581.89h1v5.83h-1zM183.9 616.87h1v5.83h-1zM184.9 389.5h1v5.83h-1zM184.9 406.99h1v5.83h-1zM184.9 476.95h1v5.83h-1zM184.9 535.25h1v5.83h-1zM184.9 593.55h1v5.83h-1zM185.9 511.93h1v5.83h-1zM185.9 541.08h1v5.83h-1zM185.9 558.57h1v5.83h-1zM185.9 576.06h1v5.83h-1zM185.9 587.72h1v5.83h-1zM185.9 605.21h1v5.83h-1zM186.9 506.1h1v11.66h-1zM186.9 576.06h1v5.83h-1zM187.9 535.25h1v5.83h-1zM187.9 564.4h1v11.66h-1zM187.9 581.89h1v5.83h-1zM187.9 593.55h1v5.83h-1zM187.9 605.21h1v5.83h-1zM188.9 506.1h1v11.66h-1zM188.9 523.59h1v5.83h-1zM188.9 564.4h1v5.83h-1zM188.9 576.06h1v11.66h-1zM188.9 605.21h1v5.83h-1zM189.9 506.1h1v5.83h-1zM189.9 541.08h1v5.83h-1zM189.9 581.89h1v11.66h-1zM190.9 523.59h1v5.83h-1zM190.9 535.25h1v5.83h-1zM190.9 558.57h1v11.66h-1zM190.9 581.89h1v11.66h-1zM190.9 605.21h1v5.83h-1zM191.9 517.76h1v5.83h-1zM191.9 541.08h1v5.83h-1zM191.9 564.4h1v11.66h-1zM191.9 593.55h1v5.83h-1zM193.9 430.31h1v5.83h-1zM193.9 465.29h1v5.83h-1zM193.9 541.08h1v5.83h-1zM193.9 570.23h1v5.83h-1zM193.9 616.87h1v5.83h-1zM194.9 523.59h1v5.83h-1zM195.9 447.8h1v5.83h-1zM195.9 511.93h1v5.83h-1zM195.9 541.08h1v5.83h-1zM195.9 552.74h1v5.83h-1zM195.9 564.4h1v5.83h-1zM195.9 593.55h1v23.32h-1zM196.9 535.25h1v5.83h-1zM196.9 599.38h1v5.83h-1zM197.9 476.95h1v5.83h-1zM197.9 576.06h1v5.83h-1zM197.9 599.38h1v11.66h-1zM197.9 616.87h1v5.83h-1zM198.9 541.08h1v5.83h-1zM198.9 552.74h1v5.83h-1zM198.9 581.89h1v11.66h-1zM199.9 535.25h1v5.83h-1zM199.9 558.57h1v5.83h-1zM199.9 587.72h1v5.83h-1zM200.9 552.74h1v11.66h-1zM200.9 576.06h1v5.83h-1zM200.9 599.38h1v5.83h-1zM200.9 616.87h1v5.83h-1zM201.9 523.59h1v5.83h-1zM201.9 546.91h1v5.83h-1zM202.9 517.76h1v5.83h-1zM202.9 529.42h1v5.83h-1zM202.9 541.08h1v5.83h-1zM202.9 558.57h1v5.83h-1zM202.9 599.38h1v5.83h-1zM202.9 611.04h1v5.83h-1zM203.9 511.93h1v5.83h-1zM203.9 523.59h1v11.66h-1zM203.9 541.08h1v5.83h-1zM203.9 552.74h1v5.83h-1zM203.9 570.23h1v5.83h-1zM203.9 581.89h1v5.83h-1zM203.9 605.21h1v5.83h-1zM204.9 401.16h1v5.83h-1zM204.9 506.1h1v5.83h-1zM204.9 541.08h1v5.83h-1zM204.9 558.57h1v5.83h-1zM204.9 570.23h1v5.83h-1zM204.9 581.89h1v5.83h-1zM205.9 523.59h1v11.66h-1zM205.9 552.74h1v5.83h-1zM205.9 564.4h1v5.83h-1zM205.9 605.21h1v5.83h-1zM206.9 517.76h1v5.83h-1zM206.9 564.4h1v11.66h-1zM206.9 587.72h1v5.83h-1zM206.9 605.21h1v5.83h-1zM207.9 523.59h1v11.66h-1zM207.9 552.74h1v5.83h-1zM207.9 616.87h1v5.83h-1zM208.9 465.29h1v5.83h-1zM208.9 529.42h1v17.49h-1zM208.9 605.21h1v5.83h-1zM209.9 511.93h1v5.83h-1zM209.9 593.55h1v17.49h-1zM209.9 616.87h1v5.83h-1zM210.9 506.1h1v5.83h-1zM210.9 517.76h1v11.66h-1zM210.9 581.89h1v5.83h-1zM210.9 593.55h1v5.83h-1zM211.9 517.76h1v5.83h-1zM211.9 535.25h1v5.83h-1zM211.9 587.72h1v5.83h-1zM212.9 517.76h1v5.83h-1zM212.9 535.25h1v5.83h-1zM212.9 558.57h1v5.83h-1zM212.9 593.55h1v5.83h-1zM213.9 535.25h1v5.83h-1zM213.9 587.72h1v5.83h-1zM214.9 523.59h1v5.83h-1zM215.9 552.74h1v11.66h-1zM215.9 570.23h1v23.32h-1zM215.9 605.21h1v5.83h-1zM215.9 616.87h1v5.83h-1zM216.9 517.76h1v5.83h-1zM216.9 570.23h1v11.66h-1zM216.9 587.72h1v5.83h-1zM216.9 611.04h1v5.83h-1zM217.9 517.76h1v5.83h-1zM217.9 535.25h1v5.83h-1zM217.9 587.72h1v5.83h-1zM217.9 605.21h1v5.83h-1zM218.9 576.06h1v5.83h-1zM218.9 599.38h1v5.83h-1zM220.9 517.76h1v5.83h-1zM220.9 535.25h1v5.83h-1zM220.9 558.57h1v5.83h-1zM220.9 570.23h1v5.83h-1zM220.9 616.87h1v5.83h-1zM221.9 511.93h1v5.83h-1zM221.9 523.59h1v5.83h-1zM221.9 576.06h1v5.83h-1zM221.9 587.72h1v5.83h-1zM221.9 605.21h1v5.83h-1zM222.9 506.1h1v5.83h-1zM222.9 529.42h1v5.83h-1zM222.9 558.57h1v5.83h-1zM222.9 599.38h1v5.83h-1zM223.9 517.76h1v5.83h-1zM223.9 535.25h1v5.83h-1zM224.9 511.93h1v11.66h-1zM224.9 541.08h1v17.49h-1zM224.9 581.89h1v5.83h-1zM224.9 605.21h1v17.49h-1zM225.9 529.42h1v5.83h-1zM225.9 541.08h1v5.83h-1zM225.9 552.74h1v5.83h-1zM225.9 576.06h1v5.83h-1zM225.9 587.72h1v11.66h-1zM225.9 611.04h1v11.66h-1zM226.9 517.76h1v5.83h-1zM226.9 529.42h1v5.83h-1zM226.9 587.72h1v5.83h-1zM227.9 529.42h1v5.83h-1zM227.9 541.08h1v5.83h-1zM227.9 558.57h1v23.32h-1zM227.9 599.38h1v23.32h-1zM228.9 517.76h1v5.83h-1zM228.9 529.42h1v5.83h-1zM228.9 581.89h1v5.83h-1zM228.9 611.04h1v11.66h-1zM229.9 523.59h1v5.83h-1zM229.9 576.06h1v5.83h-1zM229.9 587.72h1v5.83h-1zM230.9 605.21h1v5.83h-1zM233.9 523.59h1v5.83h-1zM233.9 541.08h1v5.83h-1zM233.9 558.57h1v11.66h-1zM233.9 593.55h1v5.83h-1zM233.9 611.04h1v11.66h-1zM234.9 541.08h1v11.66h-1zM234.9 570.23h1v5.83h-1zM234.9 587.72h1v17.49h-1zM235.9 535.25h1v5.83h-1zM236.9 541.08h1v5.83h-1zM236.9 570.23h1v5.83h-1zM236.9 581.89h1v11.66h-1zM236.9 616.87h1v5.83h-1zM237.9 517.76h1v5.83h-1zM237.9 552.74h1v11.66h-1zM237.9 605.21h1v5.83h-1zM238.9 529.42h1v5.83h-1zM239.9 541.08h1v11.66h-1zM239.9 558.57h1v11.66h-1zM239.9 576.06h1v5.83h-1zM239.9 587.72h1v5.83h-1zM239.9 616.87h1v5.83h-1zM240.9 506.1h1v5.83h-1zM240.9 517.76h1v17.49h-1zM240.9 581.89h1v5.83h-1zM240.9 593.55h1v5.83h-1zM240.9 605.21h1v5.83h-1zM241.9 529.42h1v5.83h-1zM241.9 570.23h1v17.49h-1zM241.9 605.21h1v5.83h-1zM241.9 616.87h1v5.83h-1zM242.9 552.74h1v5.83h-1zM242.9 570.23h1v5.83h-1zM243.9 576.06h1v5.83h-1zM243.9 587.72h1v5.83h-1zM243.9 616.87h1v5.83h-1zM244.9 581.89h1v5.83h-1zM247.9 511.93h1v5.83h-1zM247.9 546.91h1v5.83h-1zM247.9 587.72h1v5.83h-1zM247.9 616.87h1v5.83h-1zM248.9 517.76h1v5.83h-1zM248.9 529.42h1v5.83h-1zM248.9 546.91h1v5.83h-1zM248.9 576.06h1v5.83h-1zM248.9 593.55h1v5.83h-1zM248.9 605.21h1v5.83h-1zM249.9 529.42h1v5.83h-1zM249.9 546.91h1v11.66h-1zM249.9 576.06h1v5.83h-1zM249.9 599.38h1v5.83h-1zM249.9 611.04h1v5.83h-1zM250.9 541.08h1v5.83h-1zM250.9 552.74h1v5.83h-1zM250.9 570.23h1v11.66h-1zM250.9 599.38h1v5.83h-1zM251.9 517.76h1v11.66h-1zM251.9 558.57h1v5.83h-1zM251.9 587.72h1v5.83h-1zM251.9 605.21h1v11.66h-1zM252.9 529.42h1v5.83h-1zM252.9 552.74h1v5.83h-1zM252.9 564.4h1v11.66h-1zM252.9 587.72h1v5.83h-1zM252.9 599.38h1v5.83h-1zM252.9 616.87h1v5.83h-1zM253.9 546.91h1v11.66h-1zM253.9 599.38h1v5.83h-1zM255.9 511.93h1v5.83h-1zM255.9 523.59h1v11.66h-1zM255.9 564.4h1v5.83h-1zM255.9 581.89h1v5.83h-1zM255.9 616.87h1v5.83h-1zM256.9 529.42h1v5.83h-1zM256.9 564.4h1v5.83h-1zM256.9 576.06h1v5.83h-1zM256.9 587.72h1v5.83h-1zM256.9 605.21h1v5.83h-1zM257.9 511.93h1v5.83h-1zM257.9 564.4h1v5.83h-1zM257.9 576.06h1v5.83h-1zM257.9 587.72h1v11.66h-1zM257.9 605.21h1v5.83h-1zM258.9 523.59h1v5.83h-1zM258.9 546.91h1v5.83h-1zM258.9 558.57h1v11.66h-1zM258.9 581.89h1v17.49h-1zM258.9 611.04h1v11.66h-1zM259.9 511.93h1v5.83h-1zM259.9 523.59h1v17.49h-1zM259.9 570.23h1v5.83h-1zM259.9 581.89h1v11.66h-1zM259.9 605.21h1v5.83h-1zM260.9 535.25h1v5.83h-1zM260.9 605.21h1v5.83h-1zM261.9 511.93h1v11.66h-1zM261.9 558.57h1v5.83h-1zM261.9 570.23h1v11.66h-1zM261.9 587.72h1v11.66h-1zM261.9 611.04h1v5.83h-1zM263.9 517.76h1v5.83h-1zM263.9 535.25h1v5.83h-1zM263.9 546.91h1v11.66h-1zM263.9 581.89h1v5.83h-1zM264.9 593.55h1v5.83h-1zM265.9 535.25h1v5.83h-1zM265.9 552.74h1v5.83h-1zM265.9 616.87h1v5.83h-1zM267.9 523.59h1v5.83h-1zM267.9 541.08h1v11.66h-1zM267.9 564.4h1v5.83h-1z"/>
<path fill="#fde5e4" d="M47.9 506.1h1v5.83h-1zM47.9 517.76h1v5.83h-1zM47.9 558.57h1v34.98h-1zM47.9 616.87h1v5.83h-1zM48.9 535.25h1v11.66h-1zM48.9 599.38h1v5.83h-1zM51.9 535.25h1v5.83h-1zM51.9 552.74h1v5.83h-1zM51.9 576.06h1v5.83h-1zM51.9 599.38h1v5.83h-1zM51.9 616.87h1v5.83h-1zM52.9 511.93h1v5.83h-1zM52.9 523.59h1v11.66h-1zM52.9 541.08h1v5.83h-1zM52.9 605.21h1v17.49h-1zM53.9 506.1h1v5.83h-1zM53.9 523.59h1v5.83h-1zM53.9 558.57h1v5.83h-1zM53.9 570.23h1v17.49h-1zM53.9 593.55h1v17.49h-1zM54.9 506.1h1v5.83h-1zM54.9 541.08h1v5.83h-1zM54.9 558.57h1v11.66h-1zM54.9 581.89h1v5.83h-1zM55.9 523.59h1v5.83h-1zM55.9 541.08h1v5.83h-1zM58.9 511.93h1v5.83h-1zM58.9 523.59h1v5.83h-1zM58.9 546.91h1v5.83h-1zM58.9 558.57h1v11.66h-1zM58.9 587.72h1v11.66h-1zM59.9 517.76h1v5.83h-1zM59.9 535.25h1v11.66h-1zM59.9 564.4h1v5.83h-1zM59.9 599.38h1v23.32h-1zM60.9 570.23h1v5.83h-1zM61.9 506.1h1v5.83h-1zM61.9 529.42h1v5.83h-1zM61.9 541.08h1v5.83h-1zM61.9 564.4h1v5.83h-1zM61.9 593.55h1v5.83h-1zM61.9 605.21h1v17.49h-1zM62.9 517.76h1v5.83h-1zM62.9 576.06h1v5.83h-1zM62.9 593.55h1v11.66h-1zM64.9 517.76h1v5.83h-1zM64.9 564.4h1v11.66h-1zM64.9 581.89h1v5.83h-1zM64.9 599.38h1v5.83h-1zM65.9 552.74h1v5.83h-1zM65.9 570.23h1v11.66h-1zM65.9 587.72h1v5.83h-1zM65.9 605.21h1v5.83h-1zM65.9 616.87h1v5.83h-1zM66.9 529.42h1v5.83h-1zM66.9 605.21h1v5.83h-1zM67.9 511.93h1v17.49h-1zM67.9 564.4h1v5.83h-1zM67.9 605.21h1v5.83h-1zM69.9 511.93h1v5.83h-1zM69.9 523.59h1v11.66h-1zM70.9 546.91h1v11.66h-1zM71.9 570.23h1v5.83h-1zM71.9 593.55h1v5.83h-1zM72.9 517.76h1v5.83h-1zM72.9 529.42h1v5.83h-1zM72.9 541.08h1v11.66h-1zM72.9 558.57h1v5.83h-1zM72.9 576.06h1v5.83h-1zM72.9 593.55h1v5.83h-1zM72.9 605.21h1v5.83h-1zM73.9 541.08h1v5.83h-1zM74.9 523.59h1v5.83h-1zM74.9 535.25h1v5.83h-1zM74.9 552.74h1v5.83h-1zM74.9 564.4h1v11.66h-1zM74.9 593.55h1v5.83h-1zM74.9 616.87h1v5.83h-1zM75.9 506.1h1v5.83h-1zM75.9 523.59h1v11.66h-1zM75.9 541.08h1v5.83h-1zM75.9 587.72h1v5.83h-1zM75.9 605.21h1v11.66h-1zM76.9 511.93h1v5.83h-1zM76.9 529.42h1v5.83h-1zM76.9 552.74h1v11.66h-1zM76.9 581.89h1v5.83h-1zM78.9 529.42h1v5.83h-1zM78.9 546.91h1v5.83h-1zM78.9 593.55h1v5.83h-1zM78.9 611.04h1v5.83h-1zM79.9 529.42h1v5.83h-1zM79.9 541.08h1v5.83h-1zM79.9 570.23h1v17.49h-1zM80.9 546.91h1v11.66h-1zM80.9 581.89h1v5.83h-1zM80.9 605.21h1v5.83h-1zM81.9 541.08h1v5.83h-1zM81.9 587.72h1v11.66h-1zM82.9 605.21h1v11.66h-1zM84.9 546.91h1v5.83h-1zM84.9 576.06h1v5.83h-1zM84.9 605.21h1v5.83h-1zM84.9 616.87h1v5.83h-1zM85.9 523.59h1v5.83h-1zM85.9 564.4h1v5.83h-1zM85.9 587.72h1v5.83h-1zM86.9 529.42h1v17.49h-1zM86.9 552.74h1v5.83h-1zM86.9 564.4h1v5.83h-1zM86.9 576.06h1v17.49h-1zM86.9 605.21h1v11.66h-1zM87.9 552.74h1v5.83h-1zM87.9 570.23h1v11.66h-1zM88.9 523.59h1v5.83h-1zM89.9 511.93h1v5.83h-1zM89.9 529.42h1v5.83h-1zM89.9 546.91h1v5.83h-1zM89.9 593.55h1v5.83h-1zM90.9 535.25h1v17.49h-1zM90.9 564.4h1v11.66h-1zM90.9 587.72h1v5.83h-1zM90.9 599.38h1v11.66h-1zM90.9 616.87h1v5.83h-1zM91.9 541.08h1v5.83h-1zM91.9 570.23h1v5.83h-1zM92.9 511.93h1v5.83h-1zM92.9 529.42h1v11.66h-1zM92.9 546.91h1v5.83h-1zM92.9 564.4h1v29.15h-1zM92.9 599.38h1v5.83h-1zM92.9 611.04h1v5.83h-1zM93.9 511.93h1v5.83h-1zM93.9 523.59h1v5.83h-1zM93.9 576.06h1v11.66h-1zM93.9 605.21h1v11.66h-1zM94.9 511.93h1v5.83h-1zM94.9 523.59h1v11.66h-1zM94.9 546.91h1v5.83h-1zM94.9 581.89h1v5.83h-1zM95.9 587.72h1v5.83h-1zM96.9 517.76h1v5.83h-1zM96.9 529.42h1v5.83h-1zM96.9 541.08h1v11.66h-1zM96.9 587.72h1v5.83h-1zM96.9 599.38h1v5.83h-1zM97.9 616.87h1v5.83h-1zM98.9 506.1h1v5.83h-1zM98.9 523.59h1v5.83h-1zM98.9 541.08h1v5.83h-1zM98.9 552.74h1v5.83h-1zM99.9 541.08h1v5.83h-1zM99.9 576.06h1v5.83h-1zM99.9 611.04h1v5.83h-1zM100.9 523.59h1v5.83h-1zM100.9 546.91h1v5.83h-1zM100.9 570.23h1v11.66h-1zM101.9 523.59h1v5.83h-1zM101.9 564.4h1v11.66h-1zM101.9 593.55h1v5.83h-1zM102.9 541.08h1v5.83h-1zM102.9 558.57h1v11.66h-1zM102.9 587.72h1v5.83h-1zM102.9 611.04h1v5.83h-1zM103.9 511.93h1v5.83h-1zM103.9 523.59h1v5.83h-1zM103.9 552.74h1v5.83h-1zM104.9 511.93h1v5.83h-1zM104.9 541.08h1v5.83h-1zM104.9 576.06h1v5.83h-1zM104.9 587.72h1v5.83h-1zM105.9 564.4h1v5.83h-1zM105.9 593.55h1v5.83h-1zM106.9 523.59h1v5.83h-1zM106.9 546.91h1v5.83h-1zM106.9 605.21h1v5.83h-1zM107.9 506.1h1v5.83h-1zM107.9 523.59h1v5.83h-1zM107.9 611.04h1v5.83h-1zM108.9 546.91h1v5.83h-1zM109.9 616.87h1v5.83h-1zM110.9 529.42h1v5.83h-1zM110.9 546.91h1v11.66h-1zM110.9 564.4h1v5.83h-1zM110.9 616.87h1v5.83h-1zM111.9 535.25h1v5.83h-1zM112.9 506.1h1v5.83h-1zM112.9 541.08h1v5.83h-1zM112.9 593.55h1v5.83h-1zM112.9 605.21h1v5.83h-1zM113.9 546.91h1v5.83h-1zM114.9 506.1h1v5.83h-1zM114.9 535.25h1v11.66h-1zM114.9 558.57h1v23.32h-1zM114.9 593.55h1v5.83h-1zM115.9 517.76h1v17.49h-1zM115.9 552.74h1v5.83h-1zM115.9 587.72h1v5.83h-1zM115.9 616.87h1v5.83h-1zM116.9 523.59h1v5.83h-1zM116.9 552.74h1v5.83h-1zM117.9 581.89h1v5.83h-1zM117.9 605.21h1v17.49h-1zM118.9 488.61h1v5.83h-1zM119.9 529.42h1v5.83h-1zM119.9 593.55h1v5.83h-1zM124.9 517.76h1v5.83h-1zM124.9 593.55h1v5.83h-1zM125.9 436.14h1v5.83h-1zM125.9 546.91h1v5.83h-1zM125.9 593.55h1v5.83h-1zM127.9 511.93h1v5.83h-1zM127.9 546.91h1v5.83h-1zM127.9 587.72h1v5.83h-1zM128.9 459.46h1v11.66h-1zM128.9 500.27h1v5.83h-1zM130.9 436.14h1v5.83h-1zM130.9 500.27h1v5.83h-1zM130.9 523.59h1v5.83h-1zM130.9 546.91h1v5.83h-1zM130.9 570.23h1v5.83h-1zM130.9 605.21h1v17.49h-1zM132.9 436.14h1v5.83h-1zM133.9 395.33h1v5.83h-1zM135.9 546.91h1v5.83h-1zM138.9 436.14h1v5.83h-1zM138.9 465.29h1v5.83h-1zM138.9 488.61h1v5.83h-1zM139.9 546.91h1v5.83h-1zM141.9 593.55h1v5.83h-1zM143.9 453.63h1v5.83h-1zM143.9 546.91h1v11.66h-1zM143.9 605.21h1v5.83h-1zM146.9 436.14h1v11.66h-1zM147.9 395.33h1v5.83h-1zM147.9 436.14h1v5.83h-1zM147.9 471.12h1v5.83h-1zM147.9 546.91h1v5.83h-1zM151.9 412.82h1v5.83h-1zM151.9 453.63h1v5.83h-1zM151.9 494.44h1v5.83h-1zM153.9 412.82h1v5.83h-1zM155.9 453.63h1v11.66h-1zM155.9 471.12h1v5.83h-1zM155.9 494.44h1v5.83h-1zM157.9 395.33h1v5.83h-1zM157.9 605.21h1v5.83h-1zM158.9 523.59h1v5.83h-1zM161.9 476.95h1v5.83h-1zM164.9 546.91h1v5.83h-1zM164.9 593.55h1v5.83h-1zM166.9 406.99h1v5.83h-1zM167.9 436.14h1v5.83h-1zM168.9 581.89h1v5.83h-1zM172.9 389.5h1v11.66h-1zM172.9 412.82h1v5.83h-1zM172.9 453.63h1v11.66h-1zM172.9 471.12h1v5.83h-1zM172.9 494.44h1v5.83h-1zM173.9 436.14h1v5.83h-1zM174.9 494.44h1v5.83h-1zM174.9 546.91h1v5.83h-1zM176.9 459.46h1v5.83h-1zM177.9 436.14h1v5.83h-1zM177.9 459.46h1v5.83h-1zM177.9 471.12h1v5.83h-1zM178.9 546.91h1v5.83h-1zM179.9 418.65h1v5.83h-1zM179.9 500.27h1v5.83h-1zM180.9 406.99h1v11.66h-1zM180.9 424.48h1v5.83h-1zM180.9 453.63h1v5.83h-1zM180.9 471.12h1v5.83h-1zM180.9 488.61h1v5.83h-1zM180.9 587.72h1v5.83h-1zM185.9 395.33h1v5.83h-1zM186.9 389.5h1v5.83h-1zM186.9 406.99h1v5.83h-1zM186.9 453.63h1v17.49h-1zM186.9 500.27h1v5.83h-1zM187.9 430.31h1v5.83h-1zM187.9 453.63h1v11.66h-1zM187.9 488.61h1v5.83h-1zM188.9 395.33h1v5.83h-1zM188.9 436.14h1v5.83h-1zM188.9 453.63h1v5.83h-1zM189.9 389.5h1v17.49h-1zM189.9 430.31h1v5.83h-1zM189.9 441.97h1v5.83h-1zM189.9 459.46h1v5.83h-1zM190.9 436.14h1v5.83h-1zM191.9 418.65h1v5.83h-1zM191.9 459.46h1v5.83h-1zM191.9 494.44h1v5.83h-1zM192.9 418.65h1v5.83h-1zM192.9 494.44h1v5.83h-1zM192.9 546.91h1v11.66h-1zM195.9 441.97h1v5.83h-1zM195.9 482.78h1v11.66h-1zM196.9 389.5h1v5.83h-1zM196.9 401.16h1v5.83h-1zM196.9 418.65h1v5.83h-1zM196.9 430.31h1v5.83h-1zM196.9 447.8h1v5.83h-1zM196.9 465.29h1v11.66h-1zM196.9 587.72h1v5.83h-1zM197.9 389.5h1v5.83h-1zM197.9 436.14h1v5.83h-1zM197.9 523.59h1v5.83h-1zM198.9 436.14h1v5.83h-1zM199.9 412.82h1v5.83h-1zM199.9 436.14h1v5.83h-1zM199.9 488.61h1v5.83h-1zM199.9 500.27h1v5.83h-1zM202.9 424.48h1v11.66h-1zM202.9 465.29h1v5.83h-1zM202.9 476.95h1v11.66h-1zM203.9 436.14h1v5.83h-1zM203.9 500.27h1v5.83h-1zM204.9 482.78h1v5.83h-1zM205.9 395.33h1v5.83h-1zM205.9 418.65h1v5.83h-1zM205.9 430.31h1v5.83h-1zM205.9 465.29h1v5.83h-1zM205.9 482.78h1v5.83h-1zM206.9 471.12h1v5.83h-1zM206.9 500.27h1v5.83h-1zM207.9 430.31h1v11.66h-1zM207.9 453.63h1v5.83h-1zM207.9 476.95h1v5.83h-1zM209.9 395.33h1v11.66h-1zM209.9 430.31h1v5.83h-1zM209.9 441.97h1v5.83h-1zM209.9 471.12h1v11.66h-1zM209.9 494.44h1v11.66h-1zM210.9 395.33h1v5.83h-1zM210.9 494.44h1v11.66h-1zM211.9 453.63h1v11.66h-1zM212.9 389.5h1v5.83h-1zM212.9 436.14h1v5.83h-1zM212.9 500.27h1v5.83h-1zM213.9 459.46h1v5.83h-1zM213.9 471.12h1v5.83h-1zM213.9 482.78h1v5.83h-1zM214.9 401.16h1v5.83h-1zM214.9 430.31h1v5.83h-1zM214.9 471.12h1v11.66h-1zM215.9 395.33h1v5.83h-1zM215.9 436.14h1v5.83h-1zM215.9 453.63h1v11.66h-1zM215.9 488.61h1v5.83h-1zM215.9 500.27h1v5.83h-1zM216.9 412.82h1v5.83h-1zM216.9 430.31h1v5.83h-1zM217.9 395.33h1v5.83h-1zM217.9 500.27h1v5.83h-1zM218.9 494.44h1v5.83h-1zM219.9 395.33h1v5.83h-1zM219.9 529.42h1v5.83h-1zM220.9 406.99h1v5.83h-1zM220.9 453.63h1v5.83h-1zM220.9 500.27h1v5.83h-1zM221.9 389.5h1v5.83h-1zM221.9 418.65h1v5.83h-1zM221.9 430.31h1v5.83h-1zM221.9 447.8h1v5.83h-1zM221.9 471.12h1v5.83h-1zM222.9 436.14h1v5.83h-1zM222.9 459.46h1v5.83h-1zM222.9 488.61h1v5.83h-1zM223.9 424.48h1v5.83h-1zM223.9 441.97h1v5.83h-1zM223.9 453.63h1v5.83h-1zM223.9 465.29h1v5.83h-1zM224.9 447.8h1v5.83h-1zM224.9 459.46h1v5.83h-1zM224.9 476.95h1v5.83h-1zM225.9 389.5h1v11.66h-1zM225.9 441.97h1v11.66h-1zM225.9 465.29h1v11.66h-1zM227.9 395.33h1v5.83h-1zM227.9 412.82h1v11.66h-1zM227.9 430.31h1v5.83h-1zM227.9 447.8h1v5.83h-1zM227.9 459.46h1v5.83h-1zM227.9 471.12h1v5.83h-1zM227.9 482.78h1v5.83h-1zM228.9 459.46h1v5.83h-1zM228.9 471.12h1v5.83h-1zM228.9 488.61h1v5.83h-1zM229.9 453.63h1v11.66h-1zM229.9 482.78h1v5.83h-1zM231.9 453.63h1v5.83h-1zM231.9 471.12h1v11.66h-1zM231.9 488.61h1v11.66h-1zM232.9 389.5h1v5.83h-1zM232.9 459.46h1v5.83h-1zM232.9 494.44h1v5.83h-1zM233.9 395.33h1v11.66h-1zM233.9 441.97h1v5.83h-1zM233.9 459.46h1v17.49h-1zM233.9 482.78h1v5.83h-1zM233.9 500.27h1v5.83h-1zM234.9 406.99h1v5.83h-1zM234.9 436.14h1v5.83h-1zM234.9 447.8h1v5.83h-1zM234.9 494.44h1v5.83h-1zM235.9 430.31h1v5.83h-1zM235.9 441.97h1v5.83h-1zM235.9 453.63h1v11.66h-1zM235.9 494.44h1v5.83h-1zM236.9 412.82h1v23.32h-1zM236.9 441.97h1v5.83h-1zM236.9 471.12h1v5.83h-1zM236.9 500.27h1v5.83h-1zM237.9 389.5h1v11.66h-1zM237.9 436.14h1v5.83h-1zM237.9 494.44h1v5.83h-1zM238.9 406.99h1v11.66h-1zM238.9 441.97h1v5.83h-1zM238.9 465.29h1v11.66h-1zM238.9 494.44h1v5.83h-1zM239.9 389.5h1v5.83h-1zM239.9 418.65h1v5.83h-1zM239.9 441.97h1v5.83h-1zM239.9 453.63h1v5.83h-1zM239.9 471.12h1v5.83h-1zM239.9 494.44h1v5.83h-1zM240.9 430.31h1v5.83h-1zM240.9 441.97h1v5.83h-1zM240.9 494.44h1v5.83h-1zM241.9 389.5h1v5.83h-1zM241.9 412.82h1v5.83h-1zM241.9 424.48h1v5.83h-1zM241.9 447.8h1v5.83h-1zM241.9 471.12h1v11.66h-1zM241.9 494.44h1v5.83h-1zM242.9 436.14h1v5.83h-1zM242.9 500.27h1v5.83h-1zM243.9 395.33h1v11.66h-1zM243.9 471.12h1v5.83h-1zM244.9 395.33h1v5.83h-1zM244.9 412.82h1v5.83h-1zM244.9 441.97h1v5.83h-1zM244.9 471.12h1v11.66h-1zM244.9 488.61h1v17.49h-1zM245.9 389.5h1v11.66h-1zM245.9 406.99h1v17.49h-1zM245.9 459.46h1v5.83h-1zM245.9 482.78h1v5.83h-1zM245.9 500.27h1v5.83h-1zM247.9 401.16h1v11.66h-1zM247.9 447.8h1v5.83h-1zM247.9 459.46h1v5.83h-1zM248.9 401.16h1v17.49h-1zM248.9 424.48h1v11.66h-1zM248.9 441.97h1v11.66h-1zM249.9 453.63h1v5.83h-1zM249.9 476.95h1v5.83h-1zM250.9 412.82h1v5.83h-1zM250.9 459.46h1v5.83h-1zM251.9 401.16h1v11.66h-1zM251.9 418.65h1v5.83h-1zM251.9 447.8h1v5.83h-1zM251.9 482.78h1v5.83h-1zM251.9 500.27h1v5.83h-1zM252.9 401.16h1v5.83h-1zM252.9 418.65h1v5.83h-1zM252.9 447.8h1v5.83h-1zM252.9 459.46h1v17.49h-1zM253.9 476.95h1v5.83h-1zM254.9 418.65h1v5.83h-1zM254.9 430.31h1v5.83h-1zM254.9 447.8h1v5.83h-1zM254.9 476.95h1v11.66h-1zM254.9 500.27h1v5.83h-1zM255.9 418.65h1v5.83h-1zM255.9 476.95h1v5.83h-1zM256.9 488.61h1v17.49h-1zM257.9 406.99h1v5.83h-1zM257.9 436.14h1v5.83h-1zM258.9 430.31h1v5.83h-1zM258.9 441.97h1v11.66h-1zM258.9 459.46h1v5.83h-1zM258.9 488.61h1v5.83h-1zM259.9 401.16h1v5.83h-1zM259.9 412.82h1v5.83h-1zM259.9 424.48h1v5.83h-1zM259.9 447.8h1v5.83h-1zM259.9 488.61h1v11.66h-1zM260.9 401.16h1v5.83h-1zM261.9 401.16h1v11.66h-1zM261.9 441.97h1v5.83h-1zM261.9 471.12h1v5.83h-1zM261.9 488.61h1v5.83h-1zM262.9 395.33h1v11.66h-1zM262.9 412.82h1v5.83h-1zM262.9 441.97h1v11.66h-1zM262.9 471.12h1v5.83h-1zM262.9 482.78h1v5.83h-1zM262.9 494.44h1v5.83h-1zM264.9 395.33h1v17.49h-1zM264.9 430.31h1v5.83h-1zM264.9 441.97h1v5.83h-1zM264.9 465.29h1v11.66h-1zM264.9 494.44h1v11.66h-1zM265.9 389.5h1v5.83h-1zM265.9 412.82h1v5.83h-1zM265.9 500.27h1v5.83h-1zM266.9 389.5h1v5.83h-1zM266.9 401.16h1v5.83h-1zM266.9 424.48h1v5.83h-1zM266.9 441.97h1v11.66h-1zM266.9 471.12h1v5.83h-1zM266.9 482.78h1v5.83h-1zM267.9 401.16h1v5.83h-1zM267.9 412.82h1v11.66h-1zM267.9 430.31h1v5.83h-1zM267.9 453.63h1v5.83h-1z"/>
<path fill="#fcd8d6" d="M47.9 511.93h1v5.83h-1zM47.9 523.59h1v5.83h-1zM47.9 541.08h1v5.83h-1zM47.9 552.74h1v5.83h-1zM47.9 599.38h1v5.83h-1zM48.9 523.59h1v5.83h-1zM48.9 552.74h1v5.83h-1zM48.9 564.4h1v5.83h-1zM48.9 581.89h1v5.83h-1zM50.9 564.4h1v5.83h-1zM50.9 587.72h1v5.83h-1zM51.9 523.59h1v5.83h-1zM52.9 535.25h1v5.83h-1zM52.9 552.74h1v5.83h-1zM52.9 587.72h1v5.83h-1zM53.9 587.72h1v5.83h-1zM54.9 546.91h1v11.66h-1zM54.9 587.72h1v5.83h-1zM55.9 546.91h1v5.83h-1zM58.9 576.06h1v5.83h-1zM59.9 523.59h1v11.66h-1zM59.9 546.91h1v11.66h-1zM61.9 546.91h1v5.83h-1zM62.9 523.59h1v5.83h-1zM62.9 546.91h1v5.83h-1zM64.9 523.59h1v5.83h-1zM64.9 552.74h1v5.83h-1zM64.9 605.21h1v11.66h-1zM67.9 506.1h1v5.83h-1zM67.9 529.42h1v5.83h-1zM67.9 552.74h1v5.83h-1zM67.9 576.06h1v5.83h-1zM67.9 611.04h1v5.83h-1zM71.9 529.42h1v5.83h-1zM71.9 541.08h1v5.83h-1zM72.9 523.59h1v5.83h-1zM72.9 564.4h1v5.83h-1zM72.9 587.72h1v5.83h-1zM74.9 546.91h1v5.83h-1zM77.9 546.91h1v5.83h-1zM79.9 546.91h1v5.83h-1zM82.9 511.93h1v5.83h-1zM82.9 541.08h1v11.66h-1zM82.9 558.57h1v17.49h-1zM82.9 599.38h1v5.83h-1zM84.9 581.89h1v11.66h-1zM86.9 546.91h1v5.83h-1zM87.9 523.59h1v11.66h-1zM87.9 546.91h1v5.83h-1zM87.9 593.55h1v5.83h-1zM87.9 611.04h1v5.83h-1zM90.9 552.74h1v5.83h-1zM92.9 541.08h1v5.83h-1zM93.9 546.91h1v5.83h-1zM99.9 546.91h1v5.83h-1zM101.9 546.91h1v5.83h-1zM101.9 576.06h1v5.83h-1zM102.9 535.25h1v5.83h-1zM102.9 552.74h1v5.83h-1zM102.9 581.89h1v5.83h-1zM103.9 581.89h1v5.83h-1zM104.9 552.74h1v5.83h-1zM104.9 581.89h1v5.83h-1zM107.9 541.08h1v11.66h-1zM107.9 593.55h1v5.83h-1zM110.9 511.93h1v5.83h-1zM110.9 587.72h1v5.83h-1zM112.9 570.23h1v11.66h-1zM112.9 611.04h1v11.66h-1zM114.9 511.93h1v5.83h-1zM114.9 529.42h1v5.83h-1zM114.9 605.21h1v5.83h-1zM117.9 506.1h1v5.83h-1zM117.9 523.59h1v5.83h-1zM128.9 395.33h1v5.83h-1zM128.9 406.99h1v5.83h-1zM128.9 436.14h1v11.66h-1zM128.9 453.63h1v5.83h-1zM150.9 412.82h1v5.83h-1zM150.9 430.31h1v5.83h-1zM150.9 465.29h1v5.83h-1zM150.9 482.78h1v5.83h-1zM150.9 494.44h1v5.83h-1zM153.9 389.5h1v5.83h-1zM153.9 430.31h1v11.66h-1zM153.9 453.63h1v17.49h-1zM153.9 476.95h1v11.66h-1zM153.9 494.44h1v5.83h-1zM156.9 459.46h1v5.83h-1zM157.9 546.91h1v5.83h-1zM166.9 401.16h1v5.83h-1zM166.9 436.14h1v5.83h-1zM166.9 453.63h1v11.66h-1zM166.9 500.27h1v5.83h-1zM172.9 436.14h1v5.83h-1zM172.9 500.27h1v5.83h-1zM177.9 494.44h1v5.83h-1zM180.9 430.31h1v5.83h-1zM185.9 436.14h1v5.83h-1zM186.9 441.97h1v5.83h-1zM187.9 436.14h1v5.83h-1zM191.9 488.61h1v5.83h-1zM192.9 389.5h1v5.83h-1zM194.9 436.14h1v5.83h-1zM196.9 476.95h1v5.83h-1zM202.9 395.33h1v5.83h-1zM202.9 418.65h1v5.83h-1zM205.9 436.14h1v5.83h-1zM206.9 395.33h1v5.83h-1zM206.9 453.63h1v5.83h-1zM209.9 436.14h1v5.83h-1zM209.9 453.63h1v5.83h-1zM209.9 482.78h1v11.66h-1zM214.9 436.14h1v11.66h-1zM214.9 453.63h1v5.83h-1zM214.9 488.61h1v5.83h-1zM216.9 401.16h1v5.83h-1zM216.9 494.44h1v5.83h-1zM220.9 395.33h1v5.83h-1zM220.9 471.12h1v5.83h-1zM221.9 406.99h1v5.83h-1zM221.9 441.97h1v5.83h-1zM221.9 465.29h1v5.83h-1zM221.9 488.61h1v5.83h-1zM224.9 395.33h1v5.83h-1zM224.9 441.97h1v5.83h-1zM224.9 488.61h1v5.83h-1zM224.9 500.27h1v5.83h-1zM225.9 476.95h1v5.83h-1zM225.9 488.61h1v5.83h-1zM227.9 488.61h1v5.83h-1zM228.9 500.27h1v5.83h-1zM229.9 436.14h1v5.83h-1zM229.9 488.61h1v5.83h-1zM231.9 465.29h1v5.83h-1zM232.9 395.33h1v5.83h-1zM232.9 500.27h1v5.83h-1zM233.9 436.14h1v5.83h-1zM233.9 476.95h1v5.83h-1zM234.9 453.63h1v5.83h-1zM234.9 488.61h1v5.83h-1zM234.9 500.27h1v5.83h-1zM236.9 395.33h1v5.83h-1zM236.9 436.14h1v5.83h-1zM236.9 453.63h1v11.66h-1zM236.9 482.78h1v5.83h-1zM239.9 395.33h1v5.83h-1zM239.9 436.14h1v5.83h-1zM239.9 500.27h1v5.83h-1zM240.9 482.78h1v5.83h-1zM241.9 488.61h1v5.83h-1zM243.9 436.14h1v5.83h-1zM245.9 453.63h1v5.83h-1zM245.9 465.29h1v5.83h-1zM247.9 395.33h1v5.83h-1zM247.9 471.12h1v5.83h-1zM248.9 471.12h1v5.83h-1zM248.9 488.61h1v11.66h-1zM249.9 418.65h1v11.66h-1zM249.9 436.14h1v5.83h-1zM249.9 465.29h1v5.83h-1zM249.9 482.78h1v11.66h-1zM250.9 488.61h1v5.83h-1zM251.9 453.63h1v5.83h-1zM252.9 436.14h1v11.66h-1zM252.9 453.63h1v5.83h-1zM253.9 389.5h1v5.83h-1zM253.9 406.99h1v5.83h-1zM253.9 424.48h1v5.83h-1zM254.9 395.33h1v5.83h-1zM254.9 453.63h1v11.66h-1zM254.9 494.44h1v5.83h-1zM255.9 395.33h1v5.83h-1zM255.9 447.8h1v5.83h-1zM255.9 488.61h1v11.66h-1zM258.9 389.5h1v11.66h-1zM258.9 418.65h1v5.83h-1zM258.9 436.14h1v5.83h-1zM258.9 465.29h1v5.83h-1zM258.9 482.78h1v5.83h-1zM258.9 494.44h1v5.83h-1zM259.9 395.33h1v5.83h-1zM259.9 418.65h1v5.83h-1zM259.9 436.14h1v5.83h-1zM259.9 453.63h1v11.66h-1zM259.9 471.12h1v5.83h-1zM259.9 482.78h1v5.83h-1zM259.9 500.27h1v5.83h-1zM260.9 441.97h1v5.83h-1zM260.9 453.63h1v5.83h-1zM261.9 459.46h1v5.83h-1zM261.9 476.95h1v5.83h-1zM262.9 453.63h1v5.83h-1zM262.9 465.29h1v5.83h-1zM262.9 500.27h1v5.83h-1zM264.9 389.5h1v5.83h-1zM264.9 482.78h1v11.66h-1zM265.9 406.99h1v5.83h-1zM265.9 418.65h1v5.83h-1zM265.9 441.97h1v5.83h-1zM265.9 453.63h1v5.83h-1zM265.9 476.95h1v11.66h-1zM266.9 436.14h1v5.83h-1zM266.9 459.46h1v5.83h-1zM267.9 389.5h1v11.66h-1zM267.9 494.44h1v5.83h-1z"/>
<path fill="#fddfdd" d="M47.9 529.42h1v11.66h-1zM47.9 546.91h1v5.83h-1zM47.9 605.21h1v11.66h-1zM48.9 511.93h1v11.66h-1zM48.9 605.21h1v5.83h-1zM50.9 599.38h1v5.83h-1zM50.9 611.04h1v5.83h-1zM51.9 506.1h1v11.66h-1zM51.9 541.08h1v11.66h-1zM51.9 558.57h1v5.83h-1zM51.9 570.23h1v5.83h-1zM51.9 581.89h1v17.49h-1zM52.9 570.23h1v5.83h-1zM52.9 581.89h1v5.83h-1zM52.9 593.55h1v5.83h-1zM53.9 535.25h1v5.83h-1zM53.9 552.74h1v5.83h-1zM53.9 611.04h1v5.83h-1zM54.9 517.76h1v11.66h-1zM54.9 535.25h1v5.83h-1zM54.9 576.06h1v5.83h-1zM54.9 593.55h1v5.83h-1zM58.9 616.87h1v5.83h-1zM59.9 593.55h1v5.83h-1zM61.9 576.06h1v17.49h-1zM62.9 529.42h1v5.83h-1zM62.9 552.74h1v5.83h-1zM62.9 581.89h1v11.66h-1zM62.9 605.21h1v11.66h-1zM64.9 529.42h1v11.66h-1zM64.9 576.06h1v5.83h-1zM64.9 593.55h1v5.83h-1zM64.9 616.87h1v5.83h-1zM65.9 546.91h1v5.83h-1zM65.9 558.57h1v11.66h-1zM67.9 541.08h1v5.83h-1zM67.9 558.57h1v5.83h-1zM67.9 570.23h1v5.83h-1zM67.9 587.72h1v17.49h-1zM67.9 616.87h1v5.83h-1zM69.9 541.08h1v5.83h-1zM69.9 552.74h1v5.83h-1zM71.9 511.93h1v5.83h-1zM71.9 535.25h1v5.83h-1zM71.9 558.57h1v5.83h-1zM71.9 576.06h1v5.83h-1zM71.9 599.38h1v11.66h-1zM72.9 552.74h1v5.83h-1zM72.9 570.23h1v5.83h-1zM72.9 581.89h1v5.83h-1zM74.9 511.93h1v5.83h-1zM74.9 529.42h1v5.83h-1zM74.9 587.72h1v5.83h-1zM74.9 605.21h1v5.83h-1zM75.9 546.91h1v11.66h-1zM75.9 593.55h1v5.83h-1zM76.9 546.91h1v5.83h-1zM76.9 605.21h1v5.83h-1zM77.9 541.08h1v5.83h-1zM78.9 552.74h1v5.83h-1zM79.9 552.74h1v5.83h-1zM79.9 587.72h1v5.83h-1zM79.9 605.21h1v5.83h-1zM81.9 552.74h1v5.83h-1zM81.9 570.23h1v5.83h-1zM82.9 506.1h1v5.83h-1zM82.9 517.76h1v5.83h-1zM82.9 529.42h1v5.83h-1zM82.9 552.74h1v5.83h-1zM82.9 576.06h1v23.32h-1zM82.9 616.87h1v5.83h-1zM84.9 511.93h1v11.66h-1zM84.9 593.55h1v5.83h-1zM85.9 581.89h1v5.83h-1zM86.9 511.93h1v5.83h-1zM87.9 506.1h1v5.83h-1zM87.9 517.76h1v5.83h-1zM87.9 587.72h1v5.83h-1zM88.9 552.74h1v5.83h-1zM90.9 523.59h1v5.83h-1zM90.9 558.57h1v5.83h-1zM90.9 576.06h1v5.83h-1zM90.9 593.55h1v5.83h-1zM91.9 523.59h1v5.83h-1zM91.9 605.21h1v5.83h-1zM92.9 605.21h1v5.83h-1zM92.9 616.87h1v5.83h-1zM93.9 529.42h1v5.83h-1zM93.9 564.4h1v5.83h-1zM93.9 593.55h1v11.66h-1zM94.9 436.14h1v5.83h-1zM95.9 546.91h1v5.83h-1zM96.9 552.74h1v5.83h-1zM96.9 564.4h1v5.83h-1zM96.9 605.21h1v5.83h-1zM97.9 517.76h1v5.83h-1zM98.9 529.42h1v5.83h-1zM98.9 546.91h1v5.83h-1zM98.9 570.23h1v5.83h-1zM98.9 587.72h1v5.83h-1zM98.9 605.21h1v17.49h-1zM99.9 535.25h1v5.83h-1zM99.9 552.74h1v5.83h-1zM99.9 581.89h1v5.83h-1zM99.9 605.21h1v5.83h-1zM101.9 587.72h1v5.83h-1zM102.9 511.93h1v5.83h-1zM102.9 523.59h1v5.83h-1zM102.9 546.91h1v5.83h-1zM102.9 576.06h1v5.83h-1zM102.9 605.21h1v5.83h-1zM103.9 546.91h1v5.83h-1zM103.9 605.21h1v5.83h-1zM104.9 506.1h1v5.83h-1zM104.9 529.42h1v5.83h-1zM104.9 570.23h1v5.83h-1zM104.9 599.38h1v5.83h-1zM104.9 616.87h1v5.83h-1zM105.9 546.91h1v5.83h-1zM107.9 511.93h1v5.83h-1zM107.9 529.42h1v11.66h-1zM107.9 558.57h1v5.83h-1zM107.9 570.23h1v5.83h-1zM107.9 587.72h1v5.83h-1zM107.9 599.38h1v11.66h-1zM107.9 616.87h1v5.83h-1zM110.9 523.59h1v5.83h-1zM112.9 523.59h1v11.66h-1zM112.9 546.91h1v5.83h-1zM112.9 581.89h1v11.66h-1zM113.9 552.74h1v5.83h-1zM114.9 552.74h1v5.83h-1zM114.9 599.38h1v5.83h-1zM114.9 616.87h1v5.83h-1zM115.9 546.91h1v5.83h-1zM115.9 576.06h1v5.83h-1zM115.9 593.55h1v5.83h-1zM117.9 541.08h1v17.49h-1zM117.9 564.4h1v11.66h-1zM119.9 576.06h1v5.83h-1zM119.9 587.72h1v5.83h-1zM128.9 401.16h1v5.83h-1zM128.9 430.31h1v5.83h-1zM128.9 471.12h1v11.66h-1zM128.9 494.44h1v5.83h-1zM133.9 436.14h1v5.83h-1zM138.9 500.27h1v5.83h-1zM143.9 581.89h1v5.83h-1zM146.9 500.27h1v5.83h-1zM150.9 401.16h1v11.66h-1zM150.9 418.65h1v5.83h-1zM150.9 441.97h1v11.66h-1zM150.9 471.12h1v5.83h-1zM151.9 436.14h1v5.83h-1zM153.9 401.16h1v11.66h-1zM153.9 441.97h1v5.83h-1zM155.9 436.14h1v5.83h-1zM157.9 494.44h1v5.83h-1zM166.9 389.5h1v5.83h-1zM166.9 418.65h1v17.49h-1zM166.9 471.12h1v11.66h-1zM166.9 488.61h1v5.83h-1zM172.9 476.95h1v17.49h-1zM177.9 453.63h1v5.83h-1zM177.9 488.61h1v5.83h-1zM180.9 395.33h1v5.83h-1zM180.9 436.14h1v5.83h-1zM180.9 482.78h1v5.83h-1zM180.9 500.27h1v5.83h-1zM183.9 436.14h1v5.83h-1zM186.9 395.33h1v5.83h-1zM187.9 395.33h1v5.83h-1zM187.9 476.95h1v5.83h-1zM187.9 494.44h1v11.66h-1zM189.9 436.14h1v5.83h-1zM189.9 453.63h1v5.83h-1zM189.9 471.12h1v5.83h-1zM189.9 482.78h1v5.83h-1zM191.9 389.5h1v5.83h-1zM191.9 436.14h1v5.83h-1zM191.9 453.63h1v5.83h-1zM191.9 476.95h1v5.83h-1zM192.9 436.14h1v5.83h-1zM192.9 453.63h1v5.83h-1zM195.9 436.14h1v5.83h-1zM196.9 395.33h1v5.83h-1zM196.9 436.14h1v5.83h-1zM196.9 453.63h1v11.66h-1zM196.9 494.44h1v11.66h-1zM197.9 500.27h1v5.83h-1zM198.9 453.63h1v5.83h-1zM200.9 471.12h1v5.83h-1zM202.9 389.5h1v5.83h-1zM202.9 406.99h1v5.83h-1zM202.9 441.97h1v11.66h-1zM202.9 471.12h1v5.83h-1zM202.9 488.61h1v17.49h-1zM203.9 488.61h1v5.83h-1zM205.9 447.8h1v17.49h-1zM206.9 436.14h1v11.66h-1zM207.9 465.29h1v5.83h-1zM207.9 500.27h1v5.83h-1zM209.9 389.5h1v5.83h-1zM209.9 406.99h1v5.83h-1zM209.9 447.8h1v5.83h-1zM209.9 465.29h1v5.83h-1zM210.9 436.14h1v5.83h-1zM210.9 453.63h1v5.83h-1zM213.9 395.33h1v5.83h-1zM213.9 453.63h1v5.83h-1zM214.9 395.33h1v5.83h-1zM214.9 459.46h1v5.83h-1zM214.9 500.27h1v5.83h-1zM216.9 453.63h1v11.66h-1zM216.9 482.78h1v5.83h-1zM217.9 436.14h1v5.83h-1zM217.9 453.63h1v5.83h-1zM220.9 436.14h1v5.83h-1zM221.9 476.95h1v11.66h-1zM223.9 488.61h1v11.66h-1zM224.9 389.5h1v5.83h-1zM224.9 482.78h1v5.83h-1zM225.9 401.16h1v5.83h-1zM225.9 430.31h1v11.66h-1zM225.9 453.63h1v5.83h-1zM225.9 482.78h1v5.83h-1zM225.9 494.44h1v5.83h-1zM226.9 436.14h1v5.83h-1zM227.9 436.14h1v11.66h-1zM227.9 453.63h1v5.83h-1zM227.9 494.44h1v5.83h-1zM228.9 418.65h1v5.83h-1zM228.9 436.14h1v5.83h-1zM228.9 453.63h1v5.83h-1zM229.9 395.33h1v5.83h-1zM229.9 418.65h1v5.83h-1zM229.9 494.44h1v5.83h-1zM231.9 395.33h1v5.83h-1zM231.9 436.14h1v5.83h-1zM232.9 430.31h1v5.83h-1zM232.9 441.97h1v5.83h-1zM232.9 453.63h1v5.83h-1zM232.9 476.95h1v5.83h-1zM233.9 494.44h1v5.83h-1zM234.9 412.82h1v11.66h-1zM234.9 441.97h1v5.83h-1zM234.9 459.46h1v5.83h-1zM234.9 471.12h1v5.83h-1zM235.9 471.12h1v5.83h-1zM235.9 488.61h1v5.83h-1zM236.9 406.99h1v5.83h-1zM237.9 465.29h1v5.83h-1zM238.9 395.33h1v5.83h-1zM238.9 436.14h1v5.83h-1zM238.9 453.63h1v11.66h-1zM238.9 476.95h1v5.83h-1zM238.9 488.61h1v5.83h-1zM239.9 430.31h1v5.83h-1zM239.9 465.29h1v5.83h-1zM239.9 476.95h1v11.66h-1zM240.9 436.14h1v5.83h-1zM241.9 395.33h1v5.83h-1zM241.9 436.14h1v11.66h-1zM241.9 465.29h1v5.83h-1zM241.9 500.27h1v5.83h-1zM242.9 395.33h1v5.83h-1zM243.9 488.61h1v5.83h-1zM243.9 500.27h1v5.83h-1zM244.9 418.65h1v5.83h-1zM244.9 453.63h1v5.83h-1zM245.9 401.16h1v5.83h-1zM245.9 471.12h1v5.83h-1zM245.9 488.61h1v11.66h-1zM247.9 430.31h1v5.83h-1zM247.9 441.97h1v5.83h-1zM247.9 465.29h1v5.83h-1zM247.9 476.95h1v5.83h-1zM248.9 418.65h1v5.83h-1zM248.9 476.95h1v11.66h-1zM249.9 389.5h1v5.83h-1zM249.9 459.46h1v5.83h-1zM249.9 494.44h1v5.83h-1zM250.9 389.5h1v11.66h-1zM250.9 436.14h1v5.83h-1zM250.9 453.63h1v5.83h-1zM250.9 465.29h1v5.83h-1zM251.9 389.5h1v5.83h-1zM251.9 412.82h1v5.83h-1zM251.9 424.48h1v5.83h-1zM251.9 436.14h1v5.83h-1zM251.9 459.46h1v23.32h-1zM251.9 488.61h1v11.66h-1zM252.9 430.31h1v5.83h-1zM252.9 482.78h1v11.66h-1zM253.9 401.16h1v5.83h-1zM253.9 412.82h1v11.66h-1zM253.9 441.97h1v5.83h-1zM253.9 459.46h1v5.83h-1zM253.9 471.12h1v5.83h-1zM253.9 482.78h1v5.83h-1zM254.9 401.16h1v5.83h-1zM254.9 424.48h1v5.83h-1zM254.9 441.97h1v5.83h-1zM254.9 465.29h1v11.66h-1zM254.9 488.61h1v5.83h-1zM255.9 389.5h1v5.83h-1zM255.9 406.99h1v11.66h-1zM255.9 424.48h1v11.66h-1zM255.9 459.46h1v5.83h-1zM255.9 471.12h1v5.83h-1zM256.9 476.95h1v5.83h-1zM258.9 406.99h1v5.83h-1zM258.9 453.63h1v5.83h-1zM258.9 471.12h1v11.66h-1zM258.9 500.27h1v5.83h-1zM259.9 389.5h1v5.83h-1zM259.9 406.99h1v5.83h-1zM259.9 430.31h1v5.83h-1zM259.9 441.97h1v5.83h-1zM259.9 465.29h1v5.83h-1zM259.9 476.95h1v5.83h-1zM260.9 395.33h1v5.83h-1zM260.9 406.99h1v5.83h-1zM260.9 436.14h1v5.83h-1zM260.9 459.46h1v5.83h-1zM260.9 476.95h1v11.66h-1zM260.9 546.91h1v5.83h-1zM260.9 570.23h1v5.83h-1zM261.9 412.82h1v5.83h-1zM261.9 430.31h1v5.83h-1zM261.9 465.29h1v5.83h-1zM261.9 494.44h1v5.83h-1zM262.9 389.5h1v5.83h-1zM262.9 418.65h1v5.83h-1zM262.9 459.46h1v5.83h-1zM262.9 488.61h1v5.83h-1zM263.9 436.14h1v5.83h-1zM264.9 459.46h1v5.83h-1zM265.9 465.29h1v5.83h-1zM266.9 395.33h1v5.83h-1zM266.9 406.99h1v17.49h-1zM266.9 476.95h1v5.83h-1zM266.9 488.61h1v11.66h-1zM267.9 406.99h1v5.83h-1zM267.9 447.8h1v5.83h-1zM267.9 459.46h1v5.83h-1zM267.9 471.12h1v5.83h-1zM267.9 482.78h1v11.66h-1zM267.9 500.27h1v5.83h-1z"/>
<path fill="#fccbc8" d="M47.9 593.55h1v5.83h-1zM50.9 511.93h1v5.83h-1zM50.9 546.91h1v5.83h-1zM50.9 570.23h1v11.66h-1zM50.9 593.55h1v5.83h-1zM50.9 605.21h1v5.83h-1zM51.9 564.4h1v5.83h-1zM52.9 546.91h1v5.83h-1zM54.9 570.23h1v5.83h-1zM71.9 552.74h1v5.83h-1zM71.9 564.4h1v5.83h-1zM71.9 581.89h1v5.83h-1zM150.9 500.27h1v5.83h-1zM153.9 471.12h1v5.83h-1zM153.9 500.27h1v5.83h-1zM166.9 482.78h1v5.83h-1zM186.9 436.14h1v5.83h-1zM216.9 476.95h1v5.83h-1zM221.9 395.33h1v5.83h-1zM221.9 459.46h1v5.83h-1zM247.9 436.14h1v5.83h-1zM247.9 488.61h1v5.83h-1zM248.9 436.14h1v5.83h-1zM249.9 395.33h1v5.83h-1zM249.9 471.12h1v5.83h-1zM249.9 500.27h1v5.83h-1zM251.9 395.33h1v5.83h-1zM253.9 436.14h1v5.83h-1zM261.9 436.14h1v5.83h-1zM261.9 500.27h1v5.83h-1zM267.9 436.14h1v5.83h-1z"/>
<path fill="#feecea" d="M48.9 506.1h1v5.83h-1zM48.9 558.57h1v5.83h-1zM48.9 576.06h1v5.83h-1zM48.9 593.55h1v5.83h-1zM48.9 611.04h1v5.83h-1zM51.9 605.21h1v11.66h-1zM52.9 506.1h1v5.83h-1zM52.9 517.76h1v5.83h-1zM52.9 599.38h1v5.83h-1zM53.9 517.76h1v5.83h-1zM53.9 564.4h1v5.83h-1zM54.9 511.93h1v5.83h-1zM54.9 529.42h1v5.83h-1zM54.9 605.21h1v11.66h-1zM55.9 506.1h1v11.66h-1zM55.9 558.57h1v11.66h-1zM55.9 581.89h1v11.66h-1zM55.9 605.21h1v17.49h-1zM56.9 546.91h1v5.83h-1zM56.9 593.55h1v5.83h-1zM57.9 506.1h1v5.83h-1zM57.9 529.42h1v5.83h-1zM57.9 552.74h1v5.83h-1zM57.9 564.4h1v5.83h-1zM57.9 576.06h1v11.66h-1zM57.9 599.38h1v5.83h-1zM58.9 506.1h1v5.83h-1zM58.9 535.25h1v11.66h-1zM58.9 552.74h1v5.83h-1zM58.9 581.89h1v5.83h-1zM58.9 611.04h1v5.83h-1zM59.9 558.57h1v5.83h-1zM59.9 587.72h1v5.83h-1zM60.9 523.59h1v5.83h-1zM60.9 546.91h1v11.66h-1zM60.9 576.06h1v5.83h-1zM61.9 552.74h1v5.83h-1zM61.9 570.23h1v5.83h-1zM61.9 599.38h1v5.83h-1zM62.9 506.1h1v11.66h-1zM62.9 535.25h1v11.66h-1zM62.9 558.57h1v11.66h-1zM62.9 616.87h1v5.83h-1zM63.9 529.42h1v11.66h-1zM63.9 546.91h1v5.83h-1zM64.9 511.93h1v5.83h-1zM64.9 541.08h1v11.66h-1zM64.9 558.57h1v5.83h-1zM65.9 511.93h1v5.83h-1zM65.9 529.42h1v5.83h-1zM65.9 581.89h1v5.83h-1zM65.9 593.55h1v5.83h-1zM66.9 570.23h1v5.83h-1zM66.9 587.72h1v5.83h-1zM67.9 581.89h1v5.83h-1zM69.9 506.1h1v5.83h-1zM69.9 535.25h1v5.83h-1zM69.9 605.21h1v5.83h-1zM70.9 511.93h1v5.83h-1zM70.9 541.08h1v5.83h-1zM70.9 593.55h1v5.83h-1zM71.9 523.59h1v5.83h-1zM72.9 506.1h1v5.83h-1zM72.9 616.87h1v5.83h-1zM73.9 506.1h1v5.83h-1zM73.9 529.42h1v5.83h-1zM73.9 564.4h1v17.49h-1zM73.9 616.87h1v5.83h-1zM74.9 506.1h1v5.83h-1zM74.9 517.76h1v5.83h-1zM74.9 541.08h1v5.83h-1zM74.9 576.06h1v5.83h-1zM74.9 599.38h1v5.83h-1zM75.9 564.4h1v11.66h-1zM75.9 581.89h1v5.83h-1zM75.9 616.87h1v5.83h-1zM76.9 506.1h1v5.83h-1zM76.9 517.76h1v11.66h-1zM76.9 535.25h1v11.66h-1zM76.9 593.55h1v5.83h-1zM76.9 616.87h1v5.83h-1zM77.9 511.93h1v5.83h-1zM77.9 529.42h1v5.83h-1zM77.9 552.74h1v5.83h-1zM77.9 587.72h1v11.66h-1zM77.9 616.87h1v5.83h-1zM78.9 506.1h1v11.66h-1zM78.9 541.08h1v5.83h-1zM78.9 558.57h1v5.83h-1zM78.9 587.72h1v5.83h-1zM78.9 605.21h1v5.83h-1zM78.9 616.87h1v5.83h-1zM79.9 506.1h1v5.83h-1zM79.9 535.25h1v5.83h-1zM79.9 593.55h1v5.83h-1zM79.9 616.87h1v5.83h-1zM80.9 517.76h1v11.66h-1zM80.9 558.57h1v11.66h-1zM80.9 587.72h1v5.83h-1zM80.9 599.38h1v5.83h-1zM81.9 506.1h1v11.66h-1zM81.9 529.42h1v5.83h-1zM81.9 546.91h1v5.83h-1zM81.9 558.57h1v11.66h-1zM81.9 576.06h1v5.83h-1zM81.9 611.04h1v11.66h-1zM82.9 523.59h1v5.83h-1zM84.9 506.1h1v5.83h-1zM84.9 535.25h1v11.66h-1zM84.9 558.57h1v17.49h-1zM84.9 611.04h1v5.83h-1zM85.9 511.93h1v5.83h-1zM85.9 541.08h1v5.83h-1zM86.9 517.76h1v5.83h-1zM86.9 558.57h1v5.83h-1zM86.9 570.23h1v5.83h-1zM86.9 593.55h1v5.83h-1zM87.9 511.93h1v5.83h-1zM87.9 535.25h1v5.83h-1zM87.9 558.57h1v5.83h-1zM87.9 581.89h1v5.83h-1zM87.9 599.38h1v11.66h-1zM88.9 546.91h1v5.83h-1zM88.9 605.21h1v5.83h-1zM89.9 395.33h1v5.83h-1zM89.9 436.14h1v5.83h-1zM89.9 476.95h1v5.83h-1zM89.9 541.08h1v5.83h-1zM89.9 552.74h1v5.83h-1zM89.9 564.4h1v11.66h-1zM89.9 605.21h1v5.83h-1zM89.9 616.87h1v5.83h-1zM90.9 529.42h1v5.83h-1zM90.9 611.04h1v5.83h-1zM91.9 535.25h1v5.83h-1zM91.9 546.91h1v5.83h-1zM91.9 593.55h1v5.83h-1zM92.9 395.33h1v5.83h-1zM92.9 436.14h1v5.83h-1zM92.9 471.12h1v5.83h-1zM92.9 494.44h1v5.83h-1zM92.9 506.1h1v5.83h-1zM92.9 517.76h1v5.83h-1zM93.9 541.08h1v5.83h-1zM93.9 570.23h1v5.83h-1zM93.9 587.72h1v5.83h-1zM94.9 535.25h1v5.83h-1zM94.9 552.74h1v5.83h-1zM94.9 564.4h1v5.83h-1zM94.9 576.06h1v5.83h-1zM95.9 494.44h1v5.83h-1zM96.9 511.93h1v5.83h-1zM96.9 523.59h1v5.83h-1zM96.9 570.23h1v5.83h-1zM96.9 611.04h1v5.83h-1zM97.9 529.42h1v23.32h-1zM97.9 564.4h1v5.83h-1zM97.9 576.06h1v11.66h-1zM97.9 599.38h1v5.83h-1zM98.9 511.93h1v5.83h-1zM98.9 535.25h1v5.83h-1zM98.9 593.55h1v11.66h-1zM99.9 506.1h1v17.49h-1zM99.9 558.57h1v5.83h-1zM99.9 570.23h1v5.83h-1zM99.9 587.72h1v11.66h-1zM99.9 616.87h1v5.83h-1zM100.9 506.1h1v17.49h-1zM100.9 535.25h1v5.83h-1zM100.9 552.74h1v5.83h-1zM100.9 587.72h1v11.66h-1zM100.9 605.21h1v11.66h-1zM101.9 529.42h1v5.83h-1zM101.9 552.74h1v5.83h-1zM101.9 581.89h1v5.83h-1zM101.9 605.21h1v5.83h-1zM102.9 529.42h1v5.83h-1zM102.9 570.23h1v5.83h-1zM102.9 593.55h1v5.83h-1zM102.9 616.87h1v5.83h-1zM103.9 529.42h1v5.83h-1zM103.9 564.4h1v5.83h-1zM103.9 576.06h1v5.83h-1zM103.9 587.72h1v11.66h-1zM104.9 453.63h1v5.83h-1zM104.9 535.25h1v5.83h-1zM104.9 564.4h1v5.83h-1zM104.9 605.21h1v11.66h-1zM105.9 395.33h1v5.83h-1zM105.9 506.1h1v5.83h-1zM105.9 523.59h1v5.83h-1zM105.9 535.25h1v5.83h-1zM105.9 570.23h1v5.83h-1zM105.9 587.72h1v5.83h-1zM106.9 541.08h1v5.83h-1zM106.9 552.74h1v11.66h-1zM106.9 587.72h1v5.83h-1zM106.9 616.87h1v5.83h-1zM107.9 517.76h1v5.83h-1zM107.9 564.4h1v5.83h-1zM107.9 576.06h1v5.83h-1zM108.9 570.23h1v17.49h-1zM109.9 506.1h1v5.83h-1zM109.9 523.59h1v5.83h-1zM109.9 552.74h1v5.83h-1zM109.9 605.21h1v5.83h-1zM110.9 506.1h1v5.83h-1zM110.9 541.08h1v5.83h-1zM110.9 558.57h1v5.83h-1zM110.9 570.23h1v5.83h-1zM110.9 581.89h1v5.83h-1zM110.9 593.55h1v5.83h-1zM111.9 511.93h1v11.66h-1zM111.9 546.91h1v5.83h-1zM111.9 576.06h1v5.83h-1zM111.9 605.21h1v5.83h-1zM112.9 511.93h1v11.66h-1zM112.9 535.25h1v5.83h-1zM112.9 552.74h1v17.49h-1zM113.9 517.76h1v11.66h-1zM113.9 535.25h1v5.83h-1zM113.9 581.89h1v11.66h-1zM113.9 605.21h1v5.83h-1zM114.9 517.76h1v11.66h-1zM114.9 581.89h1v11.66h-1zM115.9 511.93h1v5.83h-1zM115.9 558.57h1v5.83h-1zM115.9 570.23h1v5.83h-1zM115.9 605.21h1v5.83h-1zM116.9 529.42h1v5.83h-1zM116.9 541.08h1v11.66h-1zM116.9 581.89h1v5.83h-1zM117.9 494.44h1v5.83h-1zM117.9 511.93h1v5.83h-1zM117.9 529.42h1v5.83h-1zM117.9 576.06h1v5.83h-1zM117.9 587.72h1v11.66h-1zM118.9 395.33h1v5.83h-1zM118.9 494.44h1v5.83h-1zM118.9 541.08h1v5.83h-1zM119.9 506.1h1v5.83h-1zM119.9 523.59h1v5.83h-1zM119.9 535.25h1v5.83h-1zM119.9 546.91h1v11.66h-1zM119.9 564.4h1v5.83h-1zM119.9 599.38h1v17.49h-1zM121.9 389.5h1v5.83h-1zM122.9 511.93h1v5.83h-1zM122.9 546.91h1v5.83h-1zM122.9 587.72h1v5.83h-1zM124.9 395.33h1v5.83h-1zM124.9 500.27h1v5.83h-1zM124.9 523.59h1v11.66h-1zM124.9 541.08h1v5.83h-1zM124.9 564.4h1v5.83h-1zM124.9 576.06h1v5.83h-1zM125.9 395.33h1v5.83h-1zM125.9 517.76h1v17.49h-1zM125.9 541.08h1v5.83h-1zM125.9 570.23h1v5.83h-1zM126.9 436.14h1v5.83h-1zM126.9 459.46h1v5.83h-1zM126.9 546.91h1v5.83h-1zM127.9 529.42h1v5.83h-1zM127.9 564.4h1v5.83h-1zM127.9 593.55h1v5.83h-1zM127.9 611.04h1v5.83h-1zM128.9 389.5h1v5.83h-1zM128.9 418.65h1v11.66h-1zM128.9 482.78h1v5.83h-1zM129.9 482.78h1v5.83h-1zM130.9 441.97h1v5.83h-1zM130.9 552.74h1v5.83h-1zM130.9 576.06h1v17.49h-1zM131.9 459.46h1v5.83h-1zM131.9 546.91h1v5.83h-1zM133.9 406.99h1v5.83h-1zM133.9 441.97h1v5.83h-1zM133.9 500.27h1v5.83h-1zM135.9 389.5h1v5.83h-1zM135.9 453.63h1v11.66h-1zM135.9 476.95h1v5.83h-1zM135.9 488.61h1v11.66h-1zM135.9 535.25h1v5.83h-1zM135.9 587.72h1v5.83h-1zM137.9 436.14h1v5.83h-1zM137.9 546.91h1v5.83h-1zM138.9 389.5h1v11.66h-1zM138.9 418.65h1v5.83h-1zM138.9 453.63h1v5.83h-1zM138.9 471.12h1v5.83h-1zM138.9 616.87h1v5.83h-1zM139.9 418.65h1v5.83h-1zM139.9 430.31h1v5.83h-1zM139.9 453.63h1v5.83h-1zM139.9 465.29h1v5.83h-1zM139.9 494.44h1v5.83h-1zM139.9 511.93h1v5.83h-1zM139.9 605.21h1v5.83h-1zM140.9 517.76h1v17.49h-1zM140.9 546.91h1v5.83h-1zM141.9 436.14h1v5.83h-1zM141.9 453.63h1v5.83h-1zM141.9 476.95h1v5.83h-1zM141.9 546.91h1v5.83h-1zM142.9 412.82h1v5.83h-1zM142.9 436.14h1v5.83h-1zM142.9 500.27h1v5.83h-1zM143.9 395.33h1v5.83h-1zM143.9 447.8h1v5.83h-1zM144.9 436.14h1v5.83h-1zM146.9 395.33h1v11.66h-1zM146.9 418.65h1v5.83h-1zM146.9 459.46h1v5.83h-1zM146.9 564.4h1v5.83h-1zM146.9 581.89h1v11.66h-1zM147.9 447.8h1v5.83h-1zM147.9 552.74h1v5.83h-1zM148.9 546.91h1v5.83h-1zM149.9 546.91h1v5.83h-1zM149.9 587.72h1v5.83h-1zM150.9 546.91h1v11.66h-1zM151.9 395.33h1v5.83h-1zM151.9 418.65h1v11.66h-1zM151.9 447.8h1v5.83h-1zM151.9 459.46h1v5.83h-1zM151.9 482.78h1v11.66h-1zM153.9 447.8h1v5.83h-1zM154.9 436.14h1v5.83h-1zM155.9 441.97h1v11.66h-1zM155.9 476.95h1v5.83h-1zM155.9 500.27h1v5.83h-1zM155.9 611.04h1v5.83h-1zM156.9 418.65h1v5.83h-1zM156.9 430.31h1v5.83h-1zM156.9 494.44h1v5.83h-1zM156.9 546.91h1v11.66h-1zM156.9 570.23h1v5.83h-1zM157.9 500.27h1v5.83h-1zM157.9 517.76h1v11.66h-1zM157.9 581.89h1v11.66h-1zM157.9 611.04h1v5.83h-1zM158.9 436.14h1v5.83h-1zM158.9 552.74h1v5.83h-1zM160.9 436.14h1v5.83h-1zM160.9 482.78h1v5.83h-1zM160.9 500.27h1v5.83h-1zM160.9 546.91h1v5.83h-1zM161.9 436.14h1v5.83h-1zM161.9 453.63h1v5.83h-1zM163.9 395.33h1v5.83h-1zM164.9 523.59h1v5.83h-1zM164.9 605.21h1v5.83h-1zM165.9 517.76h1v5.83h-1zM165.9 546.91h1v5.83h-1zM166.9 412.82h1v5.83h-1zM166.9 447.8h1v5.83h-1zM167.9 500.27h1v11.66h-1zM167.9 581.89h1v5.83h-1zM168.9 494.44h1v5.83h-1zM168.9 546.91h1v5.83h-1zM169.9 436.14h1v5.83h-1zM170.9 471.12h1v5.83h-1zM171.9 453.63h1v5.83h-1zM171.9 546.91h1v5.83h-1zM172.9 418.65h1v5.83h-1zM172.9 430.31h1v5.83h-1zM172.9 441.97h1v5.83h-1zM173.9 453.63h1v17.49h-1zM173.9 500.27h1v5.83h-1zM174.9 441.97h1v5.83h-1zM174.9 587.72h1v5.83h-1zM174.9 605.21h1v5.83h-1zM175.9 436.14h1v5.83h-1zM176.9 395.33h1v5.83h-1zM176.9 430.31h1v5.83h-1zM176.9 488.61h1v5.83h-1zM176.9 500.27h1v5.83h-1zM177.9 395.33h1v5.83h-1zM177.9 482.78h1v5.83h-1zM177.9 500.27h1v5.83h-1zM177.9 552.74h1v5.83h-1zM178.9 552.74h1v5.83h-1zM178.9 581.89h1v5.83h-1zM179.9 395.33h1v17.49h-1zM179.9 436.14h1v5.83h-1zM179.9 453.63h1v11.66h-1zM179.9 488.61h1v5.83h-1zM180.9 447.8h1v5.83h-1zM180.9 494.44h1v5.83h-1zM180.9 546.91h1v11.66h-1zM180.9 581.89h1v5.83h-1zM181.9 436.14h1v5.83h-1zM181.9 453.63h1v5.83h-1zM182.9 430.31h1v11.66h-1zM182.9 546.91h1v5.83h-1zM183.9 488.61h1v5.83h-1zM183.9 500.27h1v5.83h-1zM185.9 471.12h1v5.83h-1zM186.9 471.12h1v5.83h-1zM186.9 482.78h1v11.66h-1zM186.9 587.72h1v5.83h-1zM187.9 389.5h1v5.83h-1zM187.9 441.97h1v11.66h-1zM187.9 465.29h1v11.66h-1zM187.9 482.78h1v5.83h-1zM188.9 465.29h1v11.66h-1zM188.9 488.61h1v5.83h-1zM189.9 465.29h1v5.83h-1zM189.9 494.44h1v11.66h-1zM190.9 453.63h1v11.66h-1zM190.9 494.44h1v5.83h-1zM191.9 395.33h1v5.83h-1zM191.9 406.99h1v11.66h-1zM191.9 465.29h1v11.66h-1zM191.9 500.27h1v5.83h-1zM192.9 395.33h1v17.49h-1zM192.9 459.46h1v11.66h-1zM192.9 476.95h1v11.66h-1zM192.9 541.08h1v5.83h-1zM193.9 395.33h1v5.83h-1zM193.9 476.95h1v5.83h-1zM194.9 395.33h1v11.66h-1zM195.9 395.33h1v5.83h-1zM195.9 476.95h1v5.83h-1zM196.9 424.48h1v5.83h-1zM197.9 412.82h1v5.83h-1zM197.9 459.46h1v11.66h-1zM197.9 546.91h1v5.83h-1zM198.9 395.33h1v11.66h-1zM198.9 482.78h1v5.83h-1zM198.9 500.27h1v5.83h-1zM199.9 389.5h1v17.49h-1zM199.9 441.97h1v11.66h-1zM199.9 459.46h1v5.83h-1zM199.9 476.95h1v5.83h-1zM200.9 453.63h1v5.83h-1zM200.9 465.29h1v5.83h-1zM200.9 476.95h1v5.83h-1zM201.9 447.8h1v5.83h-1zM201.9 471.12h1v5.83h-1zM203.9 406.99h1v5.83h-1zM203.9 418.65h1v11.66h-1zM203.9 453.63h1v5.83h-1zM203.9 465.29h1v23.32h-1zM204.9 395.33h1v5.83h-1zM204.9 406.99h1v5.83h-1zM204.9 465.29h1v5.83h-1zM205.9 389.5h1v5.83h-1zM205.9 401.16h1v17.49h-1zM205.9 424.48h1v5.83h-1zM205.9 471.12h1v5.83h-1zM205.9 488.61h1v11.66h-1zM206.9 401.16h1v29.15h-1zM206.9 476.95h1v11.66h-1zM206.9 494.44h1v5.83h-1zM207.9 424.48h1v5.83h-1zM207.9 488.61h1v5.83h-1zM208.9 447.8h1v5.83h-1zM209.9 412.82h1v11.66h-1zM209.9 459.46h1v5.83h-1zM210.9 389.5h1v5.83h-1zM210.9 406.99h1v5.83h-1zM210.9 430.31h1v5.83h-1zM210.9 459.46h1v11.66h-1zM210.9 488.61h1v5.83h-1zM211.9 436.14h1v5.83h-1zM211.9 465.29h1v5.83h-1zM211.9 482.78h1v5.83h-1zM212.9 418.65h1v5.83h-1zM212.9 453.63h1v11.66h-1zM212.9 471.12h1v5.83h-1zM212.9 482.78h1v11.66h-1zM212.9 523.59h1v5.83h-1zM213.9 406.99h1v5.83h-1zM213.9 424.48h1v5.83h-1zM213.9 436.14h1v5.83h-1zM213.9 476.95h1v5.83h-1zM213.9 494.44h1v5.83h-1zM214.9 389.5h1v5.83h-1zM214.9 406.99h1v11.66h-1zM214.9 424.48h1v5.83h-1zM214.9 465.29h1v5.83h-1zM214.9 482.78h1v5.83h-1zM215.9 465.29h1v5.83h-1zM216.9 389.5h1v5.83h-1zM216.9 406.99h1v5.83h-1zM216.9 418.65h1v11.66h-1zM216.9 441.97h1v11.66h-1zM216.9 465.29h1v11.66h-1zM216.9 488.61h1v5.83h-1zM216.9 500.27h1v5.83h-1zM217.9 401.16h1v5.83h-1zM217.9 482.78h1v17.49h-1zM218.9 436.14h1v5.83h-1zM218.9 453.63h1v5.83h-1zM219.9 436.14h1v5.83h-1zM219.9 482.78h1v5.83h-1zM219.9 535.25h1v5.83h-1zM219.9 552.74h1v5.83h-1zM219.9 570.23h1v5.83h-1zM219.9 616.87h1v5.83h-1zM220.9 389.5h1v5.83h-1zM220.9 418.65h1v11.66h-1zM220.9 447.8h1v5.83h-1zM220.9 459.46h1v5.83h-1zM220.9 482.78h1v17.49h-1zM221.9 401.16h1v5.83h-1zM221.9 412.82h1v5.83h-1zM221.9 424.48h1v5.83h-1zM222.9 401.16h1v5.83h-1zM222.9 465.29h1v5.83h-1zM223.9 395.33h1v5.83h-1zM223.9 447.8h1v5.83h-1zM223.9 459.46h1v5.83h-1zM223.9 476.95h1v11.66h-1zM223.9 500.27h1v5.83h-1zM224.9 401.16h1v23.32h-1zM224.9 430.31h1v5.83h-1zM224.9 465.29h1v11.66h-1zM224.9 494.44h1v5.83h-1zM225.9 412.82h1v11.66h-1zM225.9 459.46h1v5.83h-1zM225.9 500.27h1v5.83h-1zM226.9 395.33h1v5.83h-1zM226.9 441.97h1v5.83h-1zM226.9 459.46h1v5.83h-1zM226.9 488.61h1v11.66h-1zM226.9 605.21h1v5.83h-1zM227.9 389.5h1v5.83h-1zM227.9 424.48h1v5.83h-1zM227.9 465.29h1v5.83h-1zM228.9 424.48h1v5.83h-1zM228.9 476.95h1v11.66h-1zM228.9 494.44h1v5.83h-1zM229.9 389.5h1v5.83h-1zM229.9 412.82h1v5.83h-1zM229.9 430.31h1v5.83h-1zM229.9 441.97h1v11.66h-1zM229.9 465.29h1v5.83h-1zM229.9 500.27h1v5.83h-1zM230.9 488.61h1v5.83h-1zM230.9 500.27h1v5.83h-1zM231.9 441.97h1v11.66h-1zM231.9 459.46h1v5.83h-1zM232.9 412.82h1v17.49h-1zM232.9 436.14h1v5.83h-1zM232.9 465.29h1v11.66h-1zM233.9 406.99h1v5.83h-1zM233.9 418.65h1v11.66h-1zM233.9 453.63h1v5.83h-1zM233.9 488.61h1v5.83h-1zM234.9 389.5h1v5.83h-1zM234.9 401.16h1v5.83h-1zM234.9 424.48h1v11.66h-1zM234.9 482.78h1v5.83h-1zM235.9 395.33h1v5.83h-1zM235.9 436.14h1v5.83h-1zM235.9 482.78h1v5.83h-1zM236.9 447.8h1v5.83h-1zM236.9 465.29h1v5.83h-1zM236.9 494.44h1v5.83h-1zM237.9 406.99h1v23.32h-1zM237.9 459.46h1v5.83h-1zM237.9 488.61h1v5.83h-1zM238.9 418.65h1v5.83h-1zM238.9 430.31h1v5.83h-1zM238.9 500.27h1v5.83h-1zM239.9 401.16h1v5.83h-1zM239.9 459.46h1v5.83h-1zM240.9 389.5h1v17.49h-1zM240.9 418.65h1v11.66h-1zM240.9 447.8h1v11.66h-1zM240.9 465.29h1v17.49h-1zM240.9 488.61h1v5.83h-1zM240.9 500.27h1v5.83h-1zM241.9 401.16h1v5.83h-1zM241.9 418.65h1v5.83h-1zM241.9 430.31h1v5.83h-1zM241.9 453.63h1v11.66h-1zM241.9 482.78h1v5.83h-1zM242.9 441.97h1v5.83h-1zM242.9 453.63h1v5.83h-1zM243.9 406.99h1v17.49h-1zM243.9 430.31h1v5.83h-1zM243.9 476.95h1v11.66h-1zM244.9 436.14h1v5.83h-1zM244.9 465.29h1v5.83h-1zM245.9 424.48h1v5.83h-1zM245.9 441.97h1v5.83h-1zM245.9 476.95h1v5.83h-1zM246.9 395.33h1v5.83h-1zM247.9 412.82h1v11.66h-1zM249.9 401.16h1v5.83h-1zM249.9 412.82h1v5.83h-1zM249.9 430.31h1v5.83h-1zM249.9 447.8h1v5.83h-1zM250.9 406.99h1v5.83h-1zM250.9 430.31h1v5.83h-1zM250.9 441.97h1v5.83h-1zM250.9 471.12h1v5.83h-1zM250.9 482.78h1v5.83h-1zM250.9 494.44h1v5.83h-1zM251.9 441.97h1v5.83h-1zM252.9 389.5h1v11.66h-1zM252.9 406.99h1v11.66h-1zM252.9 424.48h1v5.83h-1zM252.9 476.95h1v5.83h-1zM252.9 494.44h1v11.66h-1zM253.9 430.31h1v5.83h-1zM254.9 389.5h1v5.83h-1zM254.9 406.99h1v5.83h-1zM255.9 401.16h1v5.83h-1zM256.9 395.33h1v5.83h-1zM256.9 436.14h1v5.83h-1zM256.9 465.29h1v5.83h-1zM257.9 389.5h1v11.66h-1zM257.9 453.63h1v5.83h-1zM257.9 465.29h1v5.83h-1zM257.9 476.95h1v17.49h-1zM258.9 401.16h1v5.83h-1zM258.9 424.48h1v5.83h-1zM260.9 389.5h1v5.83h-1zM260.9 418.65h1v11.66h-1zM260.9 465.29h1v5.83h-1zM260.9 494.44h1v11.66h-1zM260.9 529.42h1v5.83h-1zM261.9 389.5h1v5.83h-1zM261.9 447.8h1v5.83h-1zM262.9 424.48h1v5.83h-1zM263.9 406.99h1v5.83h-1zM263.9 430.31h1v5.83h-1zM263.9 447.8h1v5.83h-1zM263.9 459.46h1v5.83h-1zM263.9 482.78h1v17.49h-1zM264.9 412.82h1v5.83h-1zM264.9 424.48h1v5.83h-1zM264.9 476.95h1v5.83h-1zM265.9 395.33h1v5.83h-1zM265.9 424.48h1v11.66h-1zM265.9 447.8h1v5.83h-1zM265.9 494.44h1v5.83h-1zM265.9 546.91h1v5.83h-1zM266.9 430.31h1v5.83h-1zM267.9 441.97h1v5.83h-1zM267.9 476.95h1v5.83h-1z"/>
<path fill="#fcd2cf" d="M48.9 529.42h1v5.83h-1zM48.9 546.91h1v5.83h-1zM48.9 570.23h1v5.83h-1zM48.9 587.72h1v5.83h-1zM48.9 616.87h1v5.83h-1zM50.9 506.1h1v5.83h-1zM50.9 517.76h1v23.32h-1zM50.9 558.57h1v5.83h-1zM50.9 581.89h1v5.83h-1zM50.9 616.87h1v5.83h-1zM51.9 529.42h1v5.83h-1zM53.9 511.93h1v5.83h-1zM53.9 529.42h1v5.83h-1zM53.9 541.08h1v11.66h-1zM54.9 616.87h1v5.83h-1zM59.9 570.23h1v5.83h-1zM61.9 523.59h1v5.83h-1zM62.9 570.23h1v5.83h-1zM64.9 587.72h1v5.83h-1zM67.9 546.91h1v5.83h-1zM71.9 506.1h1v5.83h-1zM71.9 517.76h1v5.83h-1zM71.9 587.72h1v5.83h-1zM71.9 611.04h1v11.66h-1zM76.9 587.72h1v5.83h-1zM85.9 546.91h1v5.83h-1zM93.9 552.74h1v5.83h-1zM104.9 546.91h1v5.83h-1zM107.9 552.74h1v5.83h-1zM107.9 581.89h1v5.83h-1zM114.9 546.91h1v5.83h-1zM114.9 611.04h1v5.83h-1zM128.9 488.61h1v5.83h-1zM150.9 389.5h1v11.66h-1zM150.9 424.48h1v5.83h-1zM150.9 436.14h1v5.83h-1zM150.9 459.46h1v5.83h-1zM150.9 488.61h1v5.83h-1zM153.9 395.33h1v5.83h-1zM153.9 418.65h1v5.83h-1zM153.9 488.61h1v5.83h-1zM166.9 395.33h1v5.83h-1zM166.9 441.97h1v5.83h-1zM166.9 465.29h1v5.83h-1zM166.9 494.44h1v5.83h-1zM196.9 488.61h1v5.83h-1zM202.9 401.16h1v5.83h-1zM202.9 412.82h1v5.83h-1zM202.9 436.14h1v5.83h-1zM202.9 453.63h1v11.66h-1zM214.9 494.44h1v5.83h-1zM216.9 395.33h1v5.83h-1zM216.9 436.14h1v5.83h-1zM221.9 436.14h1v5.83h-1zM221.9 453.63h1v5.83h-1zM221.9 494.44h1v11.66h-1zM224.9 436.14h1v5.83h-1zM224.9 453.63h1v5.83h-1zM227.9 476.95h1v5.83h-1zM227.9 500.27h1v5.83h-1zM234.9 395.33h1v5.83h-1zM234.9 465.29h1v5.83h-1zM236.9 389.5h1v5.83h-1zM236.9 476.95h1v5.83h-1zM236.9 488.61h1v5.83h-1zM245.9 436.14h1v5.83h-1zM247.9 389.5h1v5.83h-1zM247.9 424.48h1v5.83h-1zM247.9 482.78h1v5.83h-1zM247.9 494.44h1v11.66h-1zM248.9 395.33h1v5.83h-1zM248.9 453.63h1v17.49h-1zM250.9 476.95h1v5.83h-1zM251.9 430.31h1v5.83h-1zM253.9 395.33h1v5.83h-1zM253.9 447.8h1v11.66h-1zM253.9 465.29h1v5.83h-1zM253.9 488.61h1v17.49h-1zM254.9 436.14h1v5.83h-1zM255.9 441.97h1v5.83h-1zM255.9 453.63h1v5.83h-1zM255.9 465.29h1v5.83h-1zM255.9 482.78h1v5.83h-1zM255.9 500.27h1v5.83h-1zM261.9 395.33h1v5.83h-1zM261.9 418.65h1v11.66h-1zM261.9 453.63h1v5.83h-1zM262.9 436.14h1v5.83h-1zM264.9 436.14h1v5.83h-1zM265.9 401.16h1v5.83h-1zM265.9 436.14h1v5.83h-1zM265.9 471.12h1v5.83h-1zM265.9 488.61h1v5.83h-1zM266.9 453.63h1v5.83h-1zM266.9 500.27h1v5.83h-1zM267.9 465.29h1v5.83h-1z"/>
<path fill="#e7edf8" d="M49.9 395.33h1v5.83h-1zM49.9 418.65h1v5.83h-1zM49.9 476.95h1v5.83h-1zM49.9 511.93h1v5.83h-1zM49.9 529.42h1v5.83h-1zM49.9 611.04h1v5.83h-1zM50.9 482.78h1v5.83h-1zM50.9 500.27h1v5.83h-1zM51.9 447.8h1v5.83h-1zM51.9 459.46h1v5.83h-1zM51.9 488.61h1v5.83h-1zM52.9 412.82h1v5.83h-1zM52.9 430.31h1v5.83h-1zM52.9 441.97h1v5.83h-1zM52.9 465.29h1v11.66h-1zM52.9 488.61h1v5.83h-1zM53.9 395.33h1v11.66h-1zM53.9 441.97h1v5.83h-1zM53.9 453.63h1v11.66h-1zM53.9 471.12h1v17.49h-1zM54.9 406.99h1v5.83h-1zM54.9 424.48h1v11.66h-1zM54.9 453.63h1v11.66h-1zM54.9 488.61h1v11.66h-1zM56.9 418.65h1v5.83h-1zM56.9 453.63h1v5.83h-1zM57.9 389.5h1v5.83h-1zM57.9 424.48h1v5.83h-1zM57.9 441.97h1v5.83h-1zM57.9 476.95h1v11.66h-1zM58.9 389.5h1v5.83h-1zM58.9 401.16h1v5.83h-1zM58.9 471.12h1v5.83h-1zM60.9 389.5h1v11.66h-1zM60.9 412.82h1v5.83h-1zM60.9 430.31h1v5.83h-1zM60.9 447.8h1v5.83h-1zM61.9 453.63h1v5.83h-1zM61.9 494.44h1v5.83h-1zM62.9 395.33h1v11.66h-1zM63.9 406.99h1v17.49h-1zM63.9 436.14h1v5.83h-1zM63.9 447.8h1v5.83h-1zM63.9 482.78h1v5.83h-1zM63.9 500.27h1v5.83h-1zM64.9 401.16h1v5.83h-1zM64.9 412.82h1v5.83h-1zM64.9 494.44h1v5.83h-1zM65.9 436.14h1v11.66h-1zM65.9 459.46h1v5.83h-1zM65.9 471.12h1v5.83h-1zM65.9 488.61h1v5.83h-1zM65.9 500.27h1v5.83h-1zM66.9 389.5h1v17.49h-1zM66.9 447.8h1v5.83h-1zM66.9 476.95h1v5.83h-1zM66.9 500.27h1v5.83h-1zM67.9 482.78h1v5.83h-1zM68.9 453.63h1v5.83h-1zM68.9 511.93h1v5.83h-1zM68.9 529.42h1v5.83h-1zM68.9 546.91h1v5.83h-1zM68.9 570.23h1v11.66h-1zM68.9 587.72h1v5.83h-1zM70.9 395.33h1v5.83h-1zM70.9 436.14h1v5.83h-1zM70.9 453.63h1v5.83h-1zM70.9 476.95h1v5.83h-1zM70.9 494.44h1v5.83h-1zM71.9 389.5h1v5.83h-1zM71.9 441.97h1v5.83h-1zM71.9 494.44h1v5.83h-1zM72.9 389.5h1v5.83h-1zM72.9 418.65h1v5.83h-1zM72.9 430.31h1v17.49h-1zM72.9 459.46h1v5.83h-1zM72.9 482.78h1v5.83h-1zM73.9 453.63h1v5.83h-1zM74.9 424.48h1v5.83h-1zM74.9 441.97h1v5.83h-1zM74.9 459.46h1v11.66h-1zM75.9 482.78h1v5.83h-1zM76.9 447.8h1v5.83h-1zM77.9 401.16h1v11.66h-1zM77.9 418.65h1v5.83h-1zM77.9 447.8h1v5.83h-1zM78.9 389.5h1v11.66h-1zM78.9 406.99h1v5.83h-1zM78.9 418.65h1v5.83h-1zM78.9 447.8h1v5.83h-1zM78.9 471.12h1v5.83h-1zM78.9 488.61h1v5.83h-1zM78.9 500.27h1v5.83h-1zM79.9 436.14h1v5.83h-1zM79.9 447.8h1v5.83h-1zM79.9 465.29h1v5.83h-1zM79.9 494.44h1v5.83h-1zM80.9 395.33h1v5.83h-1zM80.9 436.14h1v5.83h-1zM80.9 459.46h1v5.83h-1zM80.9 476.95h1v11.66h-1zM81.9 418.65h1v17.49h-1zM81.9 441.97h1v5.83h-1zM81.9 453.63h1v11.66h-1zM81.9 471.12h1v5.83h-1zM81.9 500.27h1v5.83h-1zM82.9 395.33h1v5.83h-1zM82.9 418.65h1v5.83h-1zM82.9 441.97h1v5.83h-1zM82.9 482.78h1v5.83h-1zM83.9 401.16h1v5.83h-1zM83.9 412.82h1v5.83h-1zM83.9 430.31h1v5.83h-1zM83.9 488.61h1v5.83h-1zM83.9 506.1h1v5.83h-1zM83.9 546.91h1v5.83h-1zM83.9 570.23h1v5.83h-1zM84.9 441.97h1v5.83h-1zM84.9 459.46h1v5.83h-1zM84.9 488.61h1v11.66h-1zM86.9 389.5h1v5.83h-1zM86.9 406.99h1v5.83h-1zM86.9 418.65h1v5.83h-1zM86.9 430.31h1v5.83h-1zM86.9 447.8h1v5.83h-1zM86.9 465.29h1v17.49h-1zM86.9 494.44h1v5.83h-1zM87.9 389.5h1v5.83h-1zM87.9 406.99h1v5.83h-1zM87.9 418.65h1v11.66h-1zM87.9 459.46h1v5.83h-1zM88.9 395.33h1v5.83h-1zM88.9 430.31h1v5.83h-1zM88.9 441.97h1v5.83h-1zM88.9 453.63h1v5.83h-1zM88.9 471.12h1v5.83h-1zM88.9 494.44h1v5.83h-1zM90.9 389.5h1v5.83h-1zM90.9 424.48h1v5.83h-1zM90.9 471.12h1v5.83h-1zM91.9 395.33h1v5.83h-1zM91.9 418.65h1v11.66h-1zM91.9 436.14h1v5.83h-1zM91.9 465.29h1v17.49h-1zM91.9 500.27h1v5.83h-1zM93.9 430.31h1v5.83h-1zM93.9 459.46h1v11.66h-1zM93.9 488.61h1v5.83h-1zM94.9 424.48h1v5.83h-1zM95.9 418.65h1v5.83h-1zM95.9 430.31h1v5.83h-1zM95.9 441.97h1v5.83h-1zM95.9 482.78h1v5.83h-1zM95.9 500.27h1v5.83h-1zM96.9 465.29h1v5.83h-1zM96.9 500.27h1v5.83h-1zM97.9 418.65h1v5.83h-1zM97.9 441.97h1v11.66h-1zM97.9 459.46h1v5.83h-1zM98.9 401.16h1v5.83h-1zM98.9 418.65h1v5.83h-1zM98.9 453.63h1v5.83h-1zM98.9 482.78h1v5.83h-1zM99.9 389.5h1v5.83h-1zM99.9 406.99h1v5.83h-1zM99.9 418.65h1v17.49h-1zM99.9 471.12h1v5.83h-1zM99.9 488.61h1v5.83h-1zM100.9 389.5h1v5.83h-1zM100.9 401.16h1v5.83h-1zM100.9 412.82h1v5.83h-1zM100.9 447.8h1v5.83h-1zM100.9 459.46h1v5.83h-1zM100.9 488.61h1v5.83h-1zM101.9 412.82h1v5.83h-1zM101.9 424.48h1v5.83h-1zM102.9 418.65h1v5.83h-1zM102.9 453.63h1v5.83h-1zM102.9 476.95h1v5.83h-1zM102.9 500.27h1v5.83h-1zM103.9 389.5h1v5.83h-1zM103.9 418.65h1v5.83h-1zM103.9 430.31h1v5.83h-1zM103.9 471.12h1v5.83h-1zM103.9 482.78h1v5.83h-1zM104.9 389.5h1v5.83h-1zM105.9 389.5h1v5.83h-1zM105.9 412.82h1v5.83h-1zM105.9 441.97h1v11.66h-1zM106.9 412.82h1v5.83h-1zM107.9 389.5h1v5.83h-1zM107.9 430.31h1v11.66h-1zM107.9 459.46h1v5.83h-1zM107.9 494.44h1v5.83h-1zM108.9 389.5h1v11.66h-1zM108.9 412.82h1v5.83h-1zM108.9 465.29h1v23.32h-1zM109.9 406.99h1v11.66h-1zM109.9 447.8h1v5.83h-1zM109.9 465.29h1v5.83h-1zM110.9 406.99h1v17.49h-1zM110.9 430.31h1v5.83h-1zM110.9 441.97h1v5.83h-1zM110.9 459.46h1v5.83h-1zM110.9 488.61h1v5.83h-1zM110.9 500.27h1v5.83h-1zM112.9 401.16h1v5.83h-1zM112.9 424.48h1v5.83h-1zM113.9 401.16h1v5.83h-1zM113.9 412.82h1v5.83h-1zM113.9 465.29h1v5.83h-1zM120.9 447.8h1v5.83h-1zM120.9 529.42h1v5.83h-1zM121.9 401.16h1v5.83h-1zM121.9 459.46h1v5.83h-1zM121.9 471.12h1v5.83h-1zM122.9 412.82h1v5.83h-1zM122.9 424.48h1v5.83h-1zM123.9 395.33h1v5.83h-1zM123.9 412.82h1v5.83h-1zM123.9 506.1h1v5.83h-1zM123.9 593.55h1v5.83h-1zM126.9 506.1h1v5.83h-1zM126.9 581.89h1v5.83h-1zM127.9 395.33h1v5.83h-1zM127.9 406.99h1v5.83h-1zM127.9 418.65h1v5.83h-1zM127.9 430.31h1v5.83h-1zM127.9 441.97h1v11.66h-1zM127.9 494.44h1v5.83h-1zM128.9 517.76h1v5.83h-1zM129.9 599.38h1v5.83h-1zM132.9 558.57h1v5.83h-1zM132.9 581.89h1v5.83h-1zM132.9 605.21h1v5.83h-1zM134.9 424.48h1v5.83h-1zM134.9 506.1h1v5.83h-1zM134.9 570.23h1v5.83h-1zM137.9 430.31h1v5.83h-1zM137.9 517.76h1v5.83h-1zM137.9 535.25h1v5.83h-1zM137.9 558.57h1v5.83h-1zM137.9 576.06h1v5.83h-1zM137.9 587.72h1v5.83h-1zM137.9 611.04h1v5.83h-1zM138.9 517.76h1v5.83h-1zM138.9 599.38h1v5.83h-1zM142.9 517.76h1v5.83h-1zM144.9 401.16h1v11.66h-1zM144.9 418.65h1v5.83h-1zM144.9 447.8h1v5.83h-1zM144.9 471.12h1v5.83h-1zM144.9 558.57h1v5.83h-1zM146.9 506.1h1v5.83h-1zM148.9 471.12h1v5.83h-1zM149.9 412.82h1v5.83h-1zM149.9 447.8h1v5.83h-1zM150.9 541.08h1v5.83h-1zM151.9 558.57h1v5.83h-1zM151.9 581.89h1v5.83h-1zM152.9 447.8h1v5.83h-1zM155.9 581.89h1v5.83h-1zM160.9 558.57h1v5.83h-1zM161.9 523.59h1v5.83h-1zM161.9 535.25h1v11.66h-1zM161.9 552.74h1v11.66h-1zM161.9 576.06h1v5.83h-1zM161.9 593.55h1v5.83h-1zM161.9 605.21h1v11.66h-1zM162.9 406.99h1v5.83h-1zM162.9 430.31h1v5.83h-1zM162.9 482.78h1v5.83h-1zM162.9 558.57h1v11.66h-1zM163.9 535.25h1v5.83h-1zM163.9 558.57h1v5.83h-1zM164.9 401.16h1v11.66h-1zM164.9 418.65h1v5.83h-1zM164.9 465.29h1v11.66h-1zM164.9 482.78h1v11.66h-1zM165.9 389.5h1v5.83h-1zM165.9 424.48h1v5.83h-1zM166.9 511.93h1v5.83h-1zM166.9 535.25h1v5.83h-1zM166.9 576.06h1v11.66h-1zM166.9 593.55h1v5.83h-1zM169.9 581.89h1v5.83h-1zM169.9 599.38h1v5.83h-1zM170.9 418.65h1v5.83h-1zM170.9 535.25h1v5.83h-1zM171.9 412.82h1v5.83h-1zM172.9 506.1h1v5.83h-1zM172.9 546.91h1v5.83h-1zM172.9 564.4h1v5.83h-1zM173.9 517.76h1v5.83h-1zM173.9 605.21h1v5.83h-1zM175.9 506.1h1v5.83h-1zM175.9 517.76h1v5.83h-1zM175.9 529.42h1v11.66h-1zM175.9 599.38h1v5.83h-1zM175.9 616.87h1v5.83h-1zM178.9 389.5h1v5.83h-1zM181.9 599.38h1v5.83h-1zM183.9 506.1h1v5.83h-1zM183.9 599.38h1v5.83h-1zM184.9 418.65h1v5.83h-1zM184.9 558.57h1v5.83h-1zM185.9 506.1h1v5.83h-1zM185.9 517.76h1v5.83h-1zM185.9 546.91h1v11.66h-1zM185.9 611.04h1v11.66h-1zM187.9 506.1h1v5.83h-1zM187.9 517.76h1v5.83h-1zM187.9 576.06h1v5.83h-1zM187.9 599.38h1v5.83h-1zM187.9 611.04h1v5.83h-1zM188.9 529.42h1v5.83h-1zM188.9 558.57h1v5.83h-1zM188.9 570.23h1v5.83h-1zM189.9 517.76h1v5.83h-1zM189.9 558.57h1v5.83h-1zM189.9 611.04h1v5.83h-1zM190.9 511.93h1v11.66h-1zM190.9 529.42h1v5.83h-1zM190.9 552.74h1v5.83h-1zM190.9 593.55h1v5.83h-1zM190.9 616.87h1v5.83h-1zM191.9 552.74h1v11.66h-1zM191.9 576.06h1v5.83h-1zM191.9 611.04h1v5.83h-1zM192.9 517.76h1v5.83h-1zM193.9 529.42h1v5.83h-1zM193.9 593.55h1v5.83h-1zM194.9 506.1h1v11.66h-1zM194.9 529.42h1v5.83h-1zM194.9 564.4h1v5.83h-1zM194.9 593.55h1v5.83h-1zM195.9 517.76h1v5.83h-1zM195.9 570.23h1v5.83h-1zM195.9 587.72h1v5.83h-1zM195.9 616.87h1v5.83h-1zM198.9 511.93h1v11.66h-1zM198.9 564.4h1v5.83h-1zM199.9 506.1h1v11.66h-1zM199.9 593.55h1v5.83h-1zM200.9 517.76h1v5.83h-1zM201.9 517.76h1v5.83h-1zM201.9 535.25h1v11.66h-1zM201.9 552.74h1v17.49h-1zM201.9 581.89h1v5.83h-1zM201.9 611.04h1v11.66h-1zM202.9 506.1h1v5.83h-1zM202.9 564.4h1v5.83h-1zM203.9 558.57h1v5.83h-1zM203.9 576.06h1v5.83h-1zM203.9 599.38h1v5.83h-1zM204.9 564.4h1v5.83h-1zM204.9 576.06h1v5.83h-1zM204.9 593.55h1v5.83h-1zM204.9 605.21h1v5.83h-1zM204.9 616.87h1v5.83h-1zM205.9 541.08h1v5.83h-1zM205.9 558.57h1v5.83h-1zM205.9 570.23h1v5.83h-1zM205.9 587.72h1v5.83h-1zM205.9 599.38h1v5.83h-1zM206.9 506.1h1v11.66h-1zM206.9 593.55h1v5.83h-1zM207.9 506.1h1v5.83h-1zM207.9 558.57h1v17.49h-1zM208.9 506.1h1v5.83h-1zM208.9 517.76h1v5.83h-1zM208.9 558.57h1v5.83h-1zM208.9 576.06h1v11.66h-1zM209.9 506.1h1v5.83h-1zM209.9 517.76h1v5.83h-1zM209.9 558.57h1v5.83h-1zM211.9 506.1h1v11.66h-1zM211.9 570.23h1v5.83h-1zM211.9 611.04h1v11.66h-1zM213.9 506.1h1v5.83h-1zM213.9 523.59h1v5.83h-1zM213.9 541.08h1v23.32h-1zM213.9 576.06h1v5.83h-1zM213.9 599.38h1v5.83h-1zM213.9 611.04h1v5.83h-1zM214.9 506.1h1v11.66h-1zM214.9 541.08h1v5.83h-1zM214.9 552.74h1v5.83h-1zM214.9 564.4h1v11.66h-1zM214.9 581.89h1v5.83h-1zM214.9 593.55h1v5.83h-1zM215.9 506.1h1v5.83h-1zM215.9 517.76h1v5.83h-1zM215.9 535.25h1v5.83h-1zM216.9 523.59h1v5.83h-1zM216.9 535.25h1v5.83h-1zM216.9 581.89h1v5.83h-1zM217.9 511.93h1v5.83h-1zM217.9 523.59h1v5.83h-1zM217.9 541.08h1v5.83h-1zM217.9 564.4h1v5.83h-1zM218.9 506.1h1v29.15h-1zM218.9 552.74h1v23.32h-1zM218.9 581.89h1v5.83h-1zM218.9 593.55h1v5.83h-1zM218.9 611.04h1v5.83h-1zM220.9 506.1h1v5.83h-1zM220.9 529.42h1v5.83h-1zM220.9 611.04h1v5.83h-1zM221.9 541.08h1v5.83h-1zM221.9 564.4h1v5.83h-1zM221.9 581.89h1v5.83h-1zM221.9 593.55h1v5.83h-1zM222.9 511.93h1v5.83h-1zM222.9 523.59h1v5.83h-1zM222.9 570.23h1v17.49h-1zM222.9 593.55h1v5.83h-1zM222.9 605.21h1v11.66h-1zM223.9 506.1h1v5.83h-1zM223.9 564.4h1v5.83h-1zM223.9 593.55h1v5.83h-1zM223.9 605.21h1v5.83h-1zM224.9 529.42h1v11.66h-1zM224.9 558.57h1v5.83h-1zM224.9 570.23h1v5.83h-1zM224.9 587.72h1v5.83h-1zM225.9 517.76h1v5.83h-1zM225.9 564.4h1v5.83h-1zM225.9 605.21h1v5.83h-1zM227.9 506.1h1v11.66h-1zM227.9 593.55h1v5.83h-1zM228.9 506.1h1v5.83h-1zM228.9 523.59h1v5.83h-1zM228.9 535.25h1v5.83h-1zM228.9 564.4h1v5.83h-1zM228.9 576.06h1v5.83h-1zM228.9 593.55h1v5.83h-1zM228.9 605.21h1v5.83h-1zM229.9 535.25h1v11.66h-1zM229.9 564.4h1v11.66h-1zM229.9 581.89h1v5.83h-1zM229.9 605.21h1v11.66h-1zM230.9 506.1h1v5.83h-1zM230.9 546.91h1v5.83h-1zM230.9 570.23h1v5.83h-1zM230.9 593.55h1v5.83h-1zM232.9 506.1h1v5.83h-1zM232.9 546.91h1v5.83h-1zM233.9 605.21h1v5.83h-1zM234.9 523.59h1v5.83h-1zM234.9 535.25h1v5.83h-1zM234.9 616.87h1v5.83h-1zM235.9 511.93h1v5.83h-1zM235.9 523.59h1v11.66h-1zM235.9 546.91h1v5.83h-1zM235.9 570.23h1v5.83h-1zM235.9 593.55h1v5.83h-1zM235.9 611.04h1v5.83h-1zM236.9 517.76h1v17.49h-1zM236.9 605.21h1v11.66h-1zM237.9 506.1h1v5.83h-1zM237.9 535.25h1v5.83h-1zM237.9 570.23h1v11.66h-1zM237.9 599.38h1v5.83h-1zM238.9 511.93h1v11.66h-1zM238.9 552.74h1v23.32h-1zM238.9 587.72h1v11.66h-1zM238.9 605.21h1v5.83h-1zM238.9 616.87h1v5.83h-1zM239.9 511.93h1v5.83h-1zM239.9 593.55h1v11.66h-1zM241.9 523.59h1v5.83h-1zM241.9 535.25h1v5.83h-1zM241.9 546.91h1v17.49h-1zM241.9 593.55h1v5.83h-1zM241.9 611.04h1v5.83h-1zM242.9 506.1h1v11.66h-1zM242.9 523.59h1v5.83h-1zM242.9 535.25h1v5.83h-1zM242.9 593.55h1v5.83h-1zM243.9 511.93h1v11.66h-1zM243.9 541.08h1v17.49h-1zM243.9 593.55h1v11.66h-1zM244.9 552.74h1v5.83h-1zM244.9 564.4h1v5.83h-1zM244.9 587.72h1v11.66h-1zM246.9 506.1h1v5.83h-1zM246.9 552.74h1v5.83h-1zM246.9 581.89h1v5.83h-1zM246.9 593.55h1v5.83h-1zM246.9 611.04h1v11.66h-1zM247.9 529.42h1v5.83h-1zM247.9 576.06h1v5.83h-1zM247.9 593.55h1v5.83h-1zM248.9 506.1h1v5.83h-1zM248.9 552.74h1v5.83h-1zM248.9 564.4h1v11.66h-1zM249.9 506.1h1v5.83h-1zM249.9 517.76h1v5.83h-1zM249.9 581.89h1v17.49h-1zM249.9 605.21h1v5.83h-1zM250.9 517.76h1v5.83h-1zM250.9 581.89h1v11.66h-1zM250.9 605.21h1v11.66h-1zM251.9 506.1h1v5.83h-1zM251.9 552.74h1v5.83h-1zM251.9 564.4h1v5.83h-1zM251.9 576.06h1v5.83h-1zM251.9 599.38h1v5.83h-1zM252.9 541.08h1v5.83h-1zM252.9 558.57h1v5.83h-1zM252.9 611.04h1v5.83h-1zM253.9 529.42h1v11.66h-1zM253.9 564.4h1v5.83h-1zM253.9 611.04h1v5.83h-1zM254.9 517.76h1v5.83h-1zM254.9 605.21h1v5.83h-1zM255.9 506.1h1v5.83h-1zM255.9 535.25h1v5.83h-1zM255.9 576.06h1v5.83h-1zM255.9 587.72h1v17.49h-1zM255.9 611.04h1v5.83h-1zM256.9 506.1h1v5.83h-1zM256.9 517.76h1v5.83h-1zM256.9 535.25h1v5.83h-1zM256.9 570.23h1v5.83h-1zM256.9 593.55h1v5.83h-1zM256.9 616.87h1v5.83h-1zM257.9 535.25h1v5.83h-1zM257.9 552.74h1v5.83h-1zM257.9 581.89h1v5.83h-1zM257.9 611.04h1v5.83h-1zM258.9 511.93h1v11.66h-1zM258.9 541.08h1v5.83h-1zM258.9 570.23h1v5.83h-1zM259.9 517.76h1v5.83h-1zM259.9 541.08h1v5.83h-1zM259.9 552.74h1v5.83h-1zM259.9 599.38h1v5.83h-1zM259.9 611.04h1v5.83h-1zM261.9 564.4h1v5.83h-1zM261.9 599.38h1v5.83h-1zM263.9 523.59h1v5.83h-1zM263.9 541.08h1v5.83h-1zM263.9 564.4h1v5.83h-1zM263.9 593.55h1v5.83h-1zM263.9 605.21h1v5.83h-1zM263.9 616.87h1v5.83h-1zM264.9 511.93h1v5.83h-1zM264.9 523.59h1v5.83h-1zM264.9 546.91h1v5.83h-1zM265.9 506.1h1v5.83h-1zM265.9 517.76h1v11.66h-1zM266.9 511.93h1v5.83h-1zM266.9 541.08h1v11.66h-1zM266.9 616.87h1v5.83h-1zM267.9 517.76h1v5.83h-1zM267.9 529.42h1v5.83h-1zM267.9 552.74h1v5.83h-1zM267.9 576.06h1v5.83h-1zM267.9 593.55h1v5.83h-1z"/>
<path fill="#ffffff" d="M49.9 453.63h1v5.83h-1zM49.9 546.91h1v5.83h-1zM54.9 471.12h1v5.83h-1zM55.9 599.38h1v5.83h-1zM56.9 558.57h1v11.66h-1zM56.9 611.04h1v11.66h-1zM57.9 500.27h1v5.83h-1zM57.9 517.76h1v5.83h-1zM57.9 570.23h1v5.83h-1zM60.9 535.25h1v11.66h-1zM60.9 593.55h1v5.83h-1zM60.9 616.87h1v5.83h-1zM63.9 395.33h1v5.83h-1zM63.9 506.1h1v5.83h-1zM63.9 541.08h1v5.83h-1zM63.9 587.72h1v5.83h-1zM63.9 605.21h1v11.66h-1zM64.9 395.33h1v5.83h-1zM66.9 453.63h1v5.83h-1zM66.9 482.78h1v5.83h-1zM66.9 616.87h1v5.83h-1zM68.9 581.89h1v5.83h-1zM69.9 564.4h1v5.83h-1zM70.9 529.42h1v11.66h-1zM70.9 599.38h1v11.66h-1zM70.9 616.87h1v5.83h-1zM72.9 395.33h1v5.83h-1zM72.9 453.63h1v5.83h-1zM72.9 511.93h1v5.83h-1zM73.9 558.57h1v5.83h-1zM76.9 395.33h1v5.83h-1zM76.9 412.82h1v5.83h-1zM76.9 482.78h1v5.83h-1zM76.9 494.44h1v5.83h-1zM76.9 564.4h1v5.83h-1zM76.9 611.04h1v5.83h-1zM77.9 395.33h1v5.83h-1zM77.9 465.29h1v11.66h-1zM77.9 482.78h1v5.83h-1zM77.9 494.44h1v5.83h-1zM77.9 517.76h1v5.83h-1zM77.9 564.4h1v5.83h-1zM77.9 599.38h1v5.83h-1zM77.9 611.04h1v5.83h-1zM78.9 424.48h1v5.83h-1zM78.9 436.14h1v5.83h-1zM78.9 453.63h1v5.83h-1zM78.9 535.25h1v5.83h-1zM78.9 599.38h1v5.83h-1zM82.9 436.14h1v5.83h-1zM83.9 395.33h1v5.83h-1zM83.9 476.95h1v5.83h-1zM83.9 500.27h1v5.83h-1zM86.9 459.46h1v5.83h-1zM86.9 482.78h1v5.83h-1zM87.9 430.31h1v5.83h-1zM87.9 476.95h1v5.83h-1zM87.9 500.27h1v5.83h-1zM88.9 593.55h1v5.83h-1zM89.9 389.5h1v5.83h-1zM89.9 401.16h1v5.83h-1zM89.9 424.48h1v5.83h-1zM89.9 447.8h1v5.83h-1zM89.9 459.46h1v11.66h-1zM89.9 488.61h1v5.83h-1zM89.9 500.27h1v5.83h-1zM90.9 453.63h1v5.83h-1zM91.9 453.63h1v5.83h-1zM91.9 517.76h1v5.83h-1zM91.9 599.38h1v5.83h-1zM92.9 412.82h1v11.66h-1zM92.9 447.8h1v5.83h-1zM92.9 459.46h1v5.83h-1zM92.9 488.61h1v5.83h-1zM94.9 453.63h1v11.66h-1zM94.9 587.72h1v5.83h-1zM94.9 599.38h1v5.83h-1zM95.9 436.14h1v5.83h-1zM95.9 453.63h1v5.83h-1zM95.9 506.1h1v5.83h-1zM95.9 529.42h1v5.83h-1zM95.9 541.08h1v5.83h-1zM97.9 412.82h1v5.83h-1zM97.9 611.04h1v5.83h-1zM99.9 453.63h1v5.83h-1zM99.9 494.44h1v5.83h-1zM100.9 541.08h1v5.83h-1zM101.9 395.33h1v5.83h-1zM101.9 488.61h1v5.83h-1zM102.9 459.46h1v5.83h-1zM103.9 465.29h1v5.83h-1zM103.9 488.61h1v5.83h-1zM103.9 558.57h1v5.83h-1zM104.9 406.99h1v5.83h-1zM104.9 418.65h1v5.83h-1zM104.9 482.78h1v5.83h-1zM104.9 494.44h1v11.66h-1zM105.9 453.63h1v5.83h-1zM105.9 488.61h1v5.83h-1zM105.9 611.04h1v5.83h-1zM106.9 395.33h1v5.83h-1zM106.9 406.99h1v5.83h-1zM106.9 436.14h1v11.66h-1zM106.9 500.27h1v5.83h-1zM106.9 511.93h1v5.83h-1zM106.9 570.23h1v5.83h-1zM108.9 459.46h1v5.83h-1zM108.9 500.27h1v5.83h-1zM108.9 599.38h1v5.83h-1zM109.9 395.33h1v5.83h-1zM109.9 424.48h1v5.83h-1zM109.9 436.14h1v5.83h-1zM109.9 535.25h1v5.83h-1zM109.9 558.57h1v5.83h-1zM110.9 389.5h1v5.83h-1zM110.9 436.14h1v5.83h-1zM111.9 424.48h1v5.83h-1zM111.9 471.12h1v11.66h-1zM111.9 541.08h1v5.83h-1zM111.9 558.57h1v5.83h-1zM111.9 581.89h1v5.83h-1zM111.9 593.55h1v5.83h-1zM112.9 395.33h1v5.83h-1zM112.9 441.97h1v5.83h-1zM113.9 453.63h1v5.83h-1zM113.9 529.42h1v5.83h-1zM113.9 564.4h1v5.83h-1zM113.9 576.06h1v5.83h-1zM113.9 593.55h1v5.83h-1zM114.9 395.33h1v5.83h-1zM114.9 406.99h1v5.83h-1zM114.9 424.48h1v5.83h-1zM114.9 436.14h1v5.83h-1zM114.9 494.44h1v5.83h-1zM115.9 406.99h1v5.83h-1zM115.9 430.31h1v5.83h-1zM115.9 441.97h1v11.66h-1zM115.9 459.46h1v5.83h-1zM115.9 476.95h1v5.83h-1zM115.9 611.04h1v5.83h-1zM116.9 430.31h1v5.83h-1zM116.9 459.46h1v5.83h-1zM116.9 476.95h1v17.49h-1zM116.9 564.4h1v5.83h-1zM117.9 441.97h1v5.83h-1zM117.9 471.12h1v5.83h-1zM117.9 599.38h1v5.83h-1zM118.9 430.31h1v5.83h-1zM118.9 453.63h1v5.83h-1zM118.9 465.29h1v11.66h-1zM118.9 511.93h1v17.49h-1zM118.9 576.06h1v5.83h-1zM119.9 395.33h1v5.83h-1zM119.9 406.99h1v11.66h-1zM119.9 424.48h1v5.83h-1zM119.9 459.46h1v11.66h-1zM119.9 494.44h1v11.66h-1zM120.9 430.31h1v5.83h-1zM120.9 482.78h1v5.83h-1zM120.9 494.44h1v11.66h-1zM121.9 441.97h1v5.83h-1zM121.9 453.63h1v5.83h-1zM121.9 476.95h1v5.83h-1zM121.9 523.59h1v11.66h-1zM121.9 558.57h1v5.83h-1zM121.9 587.72h1v5.83h-1zM121.9 605.21h1v17.49h-1zM122.9 395.33h1v5.83h-1zM122.9 441.97h1v5.83h-1zM122.9 459.46h1v11.66h-1zM122.9 494.44h1v5.83h-1zM122.9 506.1h1v5.83h-1zM122.9 541.08h1v5.83h-1zM122.9 564.4h1v5.83h-1zM122.9 581.89h1v5.83h-1zM122.9 593.55h1v11.66h-1zM123.9 453.63h1v11.66h-1zM123.9 494.44h1v5.83h-1zM123.9 541.08h1v5.83h-1zM123.9 576.06h1v5.83h-1zM123.9 587.72h1v5.83h-1zM123.9 605.21h1v5.83h-1zM124.9 406.99h1v5.83h-1zM124.9 430.31h1v5.83h-1zM124.9 476.95h1v5.83h-1zM124.9 581.89h1v5.83h-1zM124.9 599.38h1v11.66h-1zM125.9 389.5h1v5.83h-1zM125.9 412.82h1v11.66h-1zM125.9 447.8h1v5.83h-1zM125.9 564.4h1v5.83h-1zM125.9 599.38h1v11.66h-1zM126.9 401.16h1v5.83h-1zM126.9 412.82h1v5.83h-1zM126.9 488.61h1v5.83h-1zM126.9 511.93h1v11.66h-1zM126.9 587.72h1v5.83h-1zM126.9 605.21h1v5.83h-1zM126.9 616.87h1v5.83h-1zM127.9 389.5h1v5.83h-1zM127.9 476.95h1v5.83h-1zM127.9 488.61h1v5.83h-1zM127.9 552.74h1v11.66h-1zM127.9 599.38h1v5.83h-1zM128.9 447.8h1v5.83h-1zM128.9 529.42h1v5.83h-1zM128.9 558.57h1v5.83h-1zM128.9 576.06h1v11.66h-1zM128.9 599.38h1v11.66h-1zM129.9 389.5h1v5.83h-1zM129.9 401.16h1v5.83h-1zM129.9 412.82h1v5.83h-1zM129.9 441.97h1v34.98h-1zM129.9 506.1h1v11.66h-1zM129.9 546.91h1v11.66h-1zM129.9 564.4h1v5.83h-1zM130.9 430.31h1v5.83h-1zM130.9 517.76h1v5.83h-1zM131.9 389.5h1v5.83h-1zM131.9 424.48h1v5.83h-1zM131.9 453.63h1v5.83h-1zM131.9 476.95h1v11.66h-1zM131.9 511.93h1v11.66h-1zM131.9 558.57h1v11.66h-1zM131.9 581.89h1v11.66h-1zM131.9 599.38h1v5.83h-1zM132.9 389.5h1v5.83h-1zM132.9 459.46h1v5.83h-1zM132.9 488.61h1v5.83h-1zM132.9 511.93h1v5.83h-1zM132.9 529.42h1v5.83h-1zM132.9 587.72h1v5.83h-1zM133.9 418.65h1v5.83h-1zM133.9 430.31h1v5.83h-1zM133.9 453.63h1v5.83h-1zM133.9 488.61h1v5.83h-1zM133.9 552.74h1v5.83h-1zM133.9 587.72h1v5.83h-1zM133.9 605.21h1v5.83h-1zM133.9 616.87h1v5.83h-1zM134.9 412.82h1v5.83h-1zM134.9 441.97h1v17.49h-1zM134.9 465.29h1v5.83h-1zM134.9 476.95h1v11.66h-1zM134.9 523.59h1v11.66h-1zM134.9 576.06h1v5.83h-1zM134.9 605.21h1v5.83h-1zM135.9 511.93h1v17.49h-1zM135.9 552.74h1v5.83h-1zM135.9 599.38h1v5.83h-1zM136.9 395.33h1v5.83h-1zM136.9 406.99h1v5.83h-1zM136.9 459.46h1v5.83h-1zM136.9 482.78h1v5.83h-1zM136.9 494.44h1v5.83h-1zM136.9 506.1h1v11.66h-1zM136.9 529.42h1v5.83h-1zM136.9 541.08h1v5.83h-1zM136.9 576.06h1v5.83h-1zM136.9 611.04h1v5.83h-1zM137.9 424.48h1v5.83h-1zM137.9 441.97h1v17.49h-1zM137.9 465.29h1v5.83h-1zM137.9 476.95h1v5.83h-1zM137.9 506.1h1v5.83h-1zM137.9 570.23h1v5.83h-1zM137.9 605.21h1v5.83h-1zM138.9 412.82h1v5.83h-1zM138.9 447.8h1v5.83h-1zM138.9 506.1h1v5.83h-1zM138.9 535.25h1v5.83h-1zM138.9 552.74h1v17.49h-1zM138.9 581.89h1v5.83h-1zM138.9 611.04h1v5.83h-1zM139.9 401.16h1v5.83h-1zM139.9 424.48h1v5.83h-1zM139.9 564.4h1v5.83h-1zM139.9 576.06h1v11.66h-1zM139.9 599.38h1v5.83h-1zM140.9 418.65h1v17.49h-1zM140.9 453.63h1v5.83h-1zM140.9 465.29h1v5.83h-1zM140.9 506.1h1v5.83h-1zM140.9 581.89h1v5.83h-1zM140.9 599.38h1v5.83h-1zM141.9 441.97h1v11.66h-1zM141.9 465.29h1v11.66h-1zM141.9 482.78h1v5.83h-1zM141.9 494.44h1v5.83h-1zM141.9 506.1h1v5.83h-1zM141.9 517.76h1v5.83h-1zM141.9 564.4h1v5.83h-1zM141.9 587.72h1v5.83h-1zM141.9 616.87h1v5.83h-1zM142.9 424.48h1v5.83h-1zM142.9 447.8h1v11.66h-1zM142.9 488.61h1v5.83h-1zM142.9 506.1h1v5.83h-1zM142.9 529.42h1v11.66h-1zM142.9 611.04h1v5.83h-1zM143.9 418.65h1v5.83h-1zM143.9 476.95h1v5.83h-1zM143.9 488.61h1v5.83h-1zM143.9 529.42h1v11.66h-1zM143.9 564.4h1v5.83h-1zM143.9 593.55h1v11.66h-1zM144.9 476.95h1v5.83h-1zM144.9 494.44h1v5.83h-1zM144.9 506.1h1v5.83h-1zM144.9 517.76h1v5.83h-1zM144.9 535.25h1v5.83h-1zM144.9 599.38h1v5.83h-1zM145.9 389.5h1v5.83h-1zM145.9 401.16h1v11.66h-1zM145.9 523.59h1v5.83h-1zM145.9 546.91h1v5.83h-1zM145.9 564.4h1v5.83h-1zM145.9 587.72h1v5.83h-1zM145.9 605.21h1v11.66h-1zM146.9 389.5h1v5.83h-1zM146.9 424.48h1v5.83h-1zM146.9 511.93h1v11.66h-1zM146.9 535.25h1v11.66h-1zM146.9 570.23h1v11.66h-1zM147.9 406.99h1v5.83h-1zM147.9 424.48h1v11.66h-1zM147.9 459.46h1v5.83h-1zM147.9 506.1h1v5.83h-1zM147.9 517.76h1v11.66h-1zM147.9 558.57h1v17.49h-1zM147.9 581.89h1v5.83h-1zM147.9 605.21h1v5.83h-1zM147.9 616.87h1v5.83h-1zM148.9 395.33h1v5.83h-1zM148.9 430.31h1v5.83h-1zM148.9 465.29h1v5.83h-1zM148.9 482.78h1v5.83h-1zM148.9 494.44h1v17.49h-1zM148.9 529.42h1v5.83h-1zM148.9 564.4h1v11.66h-1zM149.9 401.16h1v5.83h-1zM149.9 418.65h1v5.83h-1zM149.9 453.63h1v5.83h-1zM149.9 465.29h1v11.66h-1zM149.9 494.44h1v5.83h-1zM149.9 511.93h1v5.83h-1zM149.9 529.42h1v5.83h-1zM149.9 558.57h1v11.66h-1zM149.9 576.06h1v5.83h-1zM149.9 593.55h1v11.66h-1zM150.9 576.06h1v11.66h-1zM151.9 465.29h1v5.83h-1zM151.9 523.59h1v11.66h-1zM151.9 576.06h1v5.83h-1zM151.9 593.55h1v5.83h-1zM152.9 389.5h1v5.83h-1zM152.9 412.82h1v5.83h-1zM152.9 482.78h1v5.83h-1zM152.9 506.1h1v11.66h-1zM152.9 535.25h1v17.49h-1zM152.9 576.06h1v5.83h-1zM152.9 587.72h1v5.83h-1zM153.9 535.25h1v5.83h-1zM153.9 552.74h1v5.83h-1zM153.9 570.23h1v5.83h-1zM153.9 581.89h1v5.83h-1zM153.9 611.04h1v5.83h-1zM154.9 395.33h1v11.66h-1zM154.9 412.82h1v5.83h-1zM154.9 430.31h1v5.83h-1zM154.9 453.63h1v5.83h-1zM154.9 471.12h1v11.66h-1zM154.9 506.1h1v11.66h-1zM154.9 523.59h1v11.66h-1zM154.9 541.08h1v5.83h-1zM154.9 558.57h1v5.83h-1zM154.9 616.87h1v5.83h-1zM155.9 401.16h1v5.83h-1zM156.9 401.16h1v11.66h-1zM156.9 447.8h1v11.66h-1zM156.9 564.4h1v5.83h-1zM156.9 576.06h1v5.83h-1zM157.9 465.29h1v5.83h-1zM157.9 506.1h1v5.83h-1zM158.9 389.5h1v5.83h-1zM158.9 401.16h1v5.83h-1zM158.9 412.82h1v5.83h-1zM158.9 424.48h1v5.83h-1zM158.9 459.46h1v11.66h-1zM158.9 488.61h1v5.83h-1zM158.9 511.93h1v5.83h-1zM158.9 605.21h1v17.49h-1zM159.9 436.14h1v11.66h-1zM159.9 459.46h1v5.83h-1zM159.9 476.95h1v5.83h-1zM159.9 511.93h1v5.83h-1zM159.9 535.25h1v5.83h-1zM159.9 581.89h1v5.83h-1zM160.9 389.5h1v5.83h-1zM160.9 406.99h1v5.83h-1zM160.9 447.8h1v5.83h-1zM160.9 506.1h1v5.83h-1zM160.9 523.59h1v5.83h-1zM160.9 535.25h1v5.83h-1zM160.9 564.4h1v11.66h-1zM160.9 581.89h1v11.66h-1zM161.9 401.16h1v11.66h-1zM161.9 418.65h1v5.83h-1zM161.9 465.29h1v11.66h-1zM161.9 494.44h1v5.83h-1zM162.9 395.33h1v5.83h-1zM162.9 424.48h1v5.83h-1zM162.9 447.8h1v5.83h-1zM162.9 465.29h1v5.83h-1zM162.9 488.61h1v11.66h-1zM162.9 523.59h1v17.49h-1zM162.9 581.89h1v11.66h-1zM162.9 599.38h1v5.83h-1zM162.9 611.04h1v11.66h-1zM163.9 389.5h1v5.83h-1zM163.9 424.48h1v11.66h-1zM163.9 453.63h1v5.83h-1zM163.9 500.27h1v11.66h-1zM163.9 552.74h1v5.83h-1zM163.9 593.55h1v11.66h-1zM164.9 453.63h1v5.83h-1zM164.9 511.93h1v5.83h-1zM164.9 576.06h1v11.66h-1zM164.9 599.38h1v5.83h-1zM164.9 611.04h1v5.83h-1zM165.9 430.31h1v5.83h-1zM165.9 441.97h1v5.83h-1zM165.9 453.63h1v5.83h-1zM165.9 482.78h1v5.83h-1zM165.9 506.1h1v11.66h-1zM165.9 552.74h1v5.83h-1zM165.9 576.06h1v5.83h-1zM166.9 587.72h1v5.83h-1zM167.9 401.16h1v17.49h-1zM167.9 430.31h1v5.83h-1zM167.9 465.29h1v17.49h-1zM167.9 488.61h1v5.83h-1zM167.9 576.06h1v5.83h-1zM167.9 593.55h1v5.83h-1zM168.9 406.99h1v11.66h-1zM168.9 459.46h1v11.66h-1zM168.9 552.74h1v11.66h-1zM168.9 576.06h1v5.83h-1zM168.9 611.04h1v11.66h-1zM169.9 406.99h1v11.66h-1zM169.9 424.48h1v5.83h-1zM169.9 441.97h1v11.66h-1zM169.9 459.46h1v5.83h-1zM169.9 476.95h1v5.83h-1zM169.9 529.42h1v5.83h-1zM169.9 593.55h1v5.83h-1zM169.9 611.04h1v5.83h-1zM170.9 395.33h1v5.83h-1zM170.9 430.31h1v5.83h-1zM170.9 441.97h1v5.83h-1zM170.9 494.44h1v11.66h-1zM170.9 564.4h1v5.83h-1zM170.9 593.55h1v5.83h-1zM170.9 616.87h1v5.83h-1zM171.9 406.99h1v5.83h-1zM171.9 418.65h1v11.66h-1zM171.9 471.12h1v5.83h-1zM171.9 500.27h1v5.83h-1zM171.9 511.93h1v11.66h-1zM171.9 541.08h1v5.83h-1zM171.9 570.23h1v5.83h-1zM171.9 581.89h1v5.83h-1zM171.9 599.38h1v23.32h-1zM172.9 587.72h1v5.83h-1zM173.9 488.61h1v11.66h-1zM173.9 546.91h1v5.83h-1zM173.9 593.55h1v11.66h-1zM174.9 395.33h1v5.83h-1zM174.9 424.48h1v5.83h-1zM174.9 471.12h1v23.32h-1zM174.9 506.1h1v5.83h-1zM174.9 558.57h1v11.66h-1zM174.9 593.55h1v11.66h-1zM175.9 389.5h1v5.83h-1zM175.9 406.99h1v5.83h-1zM175.9 471.12h1v5.83h-1zM175.9 488.61h1v5.83h-1zM175.9 511.93h1v5.83h-1zM175.9 523.59h1v5.83h-1zM175.9 541.08h1v5.83h-1zM175.9 552.74h1v5.83h-1zM175.9 564.4h1v5.83h-1zM176.9 424.48h1v5.83h-1zM176.9 529.42h1v5.83h-1zM176.9 541.08h1v11.66h-1zM176.9 593.55h1v5.83h-1zM177.9 523.59h1v11.66h-1zM177.9 558.57h1v5.83h-1zM177.9 570.23h1v5.83h-1zM177.9 593.55h1v23.32h-1zM178.9 412.82h1v5.83h-1zM178.9 436.14h1v5.83h-1zM178.9 459.46h1v5.83h-1zM178.9 500.27h1v5.83h-1zM178.9 511.93h1v23.32h-1zM178.9 541.08h1v5.83h-1zM178.9 564.4h1v5.83h-1zM178.9 576.06h1v5.83h-1zM178.9 587.72h1v5.83h-1zM178.9 599.38h1v11.66h-1zM179.9 447.8h1v5.83h-1zM179.9 465.29h1v11.66h-1zM179.9 529.42h1v5.83h-1zM179.9 593.55h1v5.83h-1zM180.9 535.25h1v5.83h-1zM181.9 389.5h1v5.83h-1zM181.9 401.16h1v5.83h-1zM181.9 424.48h1v5.83h-1zM181.9 465.29h1v5.83h-1zM181.9 482.78h1v11.66h-1zM181.9 500.27h1v5.83h-1zM181.9 541.08h1v5.83h-1zM181.9 616.87h1v5.83h-1zM182.9 401.16h1v11.66h-1zM182.9 418.65h1v5.83h-1zM182.9 471.12h1v5.83h-1zM182.9 482.78h1v5.83h-1zM182.9 494.44h1v5.83h-1zM182.9 517.76h1v5.83h-1zM182.9 541.08h1v5.83h-1zM182.9 552.74h1v11.66h-1zM182.9 593.55h1v5.83h-1zM183.9 447.8h1v5.83h-1zM183.9 576.06h1v5.83h-1zM183.9 605.21h1v5.83h-1zM184.9 395.33h1v5.83h-1zM184.9 430.31h1v5.83h-1zM184.9 453.63h1v11.66h-1zM184.9 482.78h1v29.15h-1zM184.9 517.76h1v5.83h-1zM184.9 552.74h1v5.83h-1zM184.9 564.4h1v5.83h-1zM184.9 599.38h1v5.83h-1zM184.9 616.87h1v5.83h-1zM185.9 424.48h1v11.66h-1zM185.9 459.46h1v5.83h-1zM185.9 482.78h1v5.83h-1zM185.9 523.59h1v5.83h-1zM185.9 570.23h1v5.83h-1zM186.9 535.25h1v11.66h-1zM186.9 558.57h1v17.49h-1zM186.9 581.89h1v5.83h-1zM186.9 599.38h1v17.49h-1zM187.9 406.99h1v5.83h-1zM187.9 546.91h1v5.83h-1zM188.9 389.5h1v5.83h-1zM188.9 441.97h1v5.83h-1zM188.9 517.76h1v5.83h-1zM188.9 541.08h1v11.66h-1zM188.9 587.72h1v5.83h-1zM188.9 616.87h1v5.83h-1zM189.9 406.99h1v5.83h-1zM189.9 511.93h1v5.83h-1zM189.9 564.4h1v5.83h-1zM190.9 401.16h1v5.83h-1zM190.9 482.78h1v11.66h-1zM191.9 529.42h1v5.83h-1zM192.9 511.93h1v5.83h-1zM192.9 570.23h1v5.83h-1zM192.9 581.89h1v5.83h-1zM192.9 599.38h1v5.83h-1zM192.9 611.04h1v5.83h-1zM193.9 401.16h1v5.83h-1zM193.9 424.48h1v5.83h-1zM193.9 471.12h1v5.83h-1zM193.9 494.44h1v5.83h-1zM193.9 511.93h1v5.83h-1zM193.9 546.91h1v5.83h-1zM194.9 412.82h1v5.83h-1zM194.9 482.78h1v11.66h-1zM194.9 500.27h1v5.83h-1zM195.9 389.5h1v5.83h-1zM195.9 412.82h1v5.83h-1zM195.9 471.12h1v5.83h-1zM195.9 523.59h1v5.83h-1zM195.9 576.06h1v5.83h-1zM196.9 506.1h1v5.83h-1zM196.9 529.42h1v5.83h-1zM196.9 558.57h1v5.83h-1zM196.9 593.55h1v5.83h-1zM197.9 506.1h1v5.83h-1zM197.9 517.76h1v5.83h-1zM197.9 535.25h1v5.83h-1zM197.9 564.4h1v5.83h-1zM198.9 447.8h1v5.83h-1zM198.9 576.06h1v5.83h-1zM198.9 605.21h1v11.66h-1zM199.9 430.31h1v5.83h-1zM199.9 494.44h1v5.83h-1zM199.9 517.76h1v17.49h-1zM199.9 576.06h1v5.83h-1zM199.9 605.21h1v5.83h-1zM200.9 389.5h1v5.83h-1zM200.9 406.99h1v5.83h-1zM200.9 424.48h1v5.83h-1zM200.9 447.8h1v5.83h-1zM200.9 459.46h1v5.83h-1zM200.9 523.59h1v5.83h-1zM200.9 541.08h1v5.83h-1zM200.9 581.89h1v17.49h-1zM200.9 605.21h1v5.83h-1zM201.9 395.33h1v5.83h-1zM201.9 418.65h1v5.83h-1zM201.9 430.31h1v5.83h-1zM201.9 441.97h1v5.83h-1zM201.9 476.95h1v5.83h-1zM202.9 511.93h1v5.83h-1zM202.9 581.89h1v5.83h-1zM203.9 430.31h1v5.83h-1zM203.9 459.46h1v5.83h-1zM203.9 587.72h1v5.83h-1zM204.9 418.65h1v5.83h-1zM204.9 447.8h1v11.66h-1zM204.9 471.12h1v5.83h-1zM205.9 581.89h1v5.83h-1zM205.9 616.87h1v5.83h-1zM206.9 389.5h1v5.83h-1zM206.9 523.59h1v5.83h-1zM206.9 558.57h1v5.83h-1zM206.9 581.89h1v5.83h-1zM206.9 611.04h1v5.83h-1zM207.9 412.82h1v11.66h-1zM207.9 517.76h1v5.83h-1zM207.9 546.91h1v5.83h-1zM207.9 581.89h1v11.66h-1zM207.9 611.04h1v5.83h-1zM208.9 389.5h1v5.83h-1zM208.9 406.99h1v5.83h-1zM208.9 441.97h1v5.83h-1zM208.9 476.95h1v5.83h-1zM208.9 511.93h1v5.83h-1zM208.9 523.59h1v5.83h-1zM208.9 546.91h1v5.83h-1zM208.9 587.72h1v11.66h-1zM208.9 616.87h1v5.83h-1zM209.9 523.59h1v5.83h-1zM209.9 570.23h1v17.49h-1zM210.9 418.65h1v5.83h-1zM210.9 447.8h1v5.83h-1zM210.9 482.78h1v5.83h-1zM210.9 535.25h1v5.83h-1zM210.9 552.74h1v5.83h-1zM210.9 599.38h1v5.83h-1zM211.9 401.16h1v5.83h-1zM211.9 418.65h1v5.83h-1zM211.9 523.59h1v5.83h-1zM211.9 546.91h1v5.83h-1zM211.9 564.4h1v5.83h-1zM212.9 441.97h1v5.83h-1zM212.9 511.93h1v5.83h-1zM212.9 529.42h1v5.83h-1zM212.9 552.74h1v5.83h-1zM212.9 576.06h1v5.83h-1zM212.9 587.72h1v5.83h-1zM212.9 599.38h1v11.66h-1zM213.9 447.8h1v5.83h-1zM213.9 581.89h1v5.83h-1zM213.9 605.21h1v5.83h-1zM214.9 546.91h1v5.83h-1zM215.9 418.65h1v5.83h-1zM215.9 447.8h1v5.83h-1zM215.9 482.78h1v5.83h-1zM215.9 511.93h1v5.83h-1zM215.9 523.59h1v5.83h-1zM215.9 541.08h1v11.66h-1zM215.9 611.04h1v5.83h-1zM216.9 541.08h1v11.66h-1zM218.9 389.5h1v11.66h-1zM218.9 441.97h1v11.66h-1zM218.9 471.12h1v5.83h-1zM219.9 401.16h1v5.83h-1zM219.9 412.82h1v5.83h-1zM219.9 424.48h1v5.83h-1zM219.9 441.97h1v5.83h-1zM219.9 459.46h1v5.83h-1zM219.9 471.12h1v5.83h-1zM219.9 500.27h1v5.83h-1zM219.9 546.91h1v5.83h-1zM219.9 558.57h1v5.83h-1zM219.9 576.06h1v5.83h-1zM219.9 593.55h1v5.83h-1zM220.9 430.31h1v5.83h-1zM220.9 511.93h1v5.83h-1zM220.9 523.59h1v5.83h-1zM220.9 546.91h1v5.83h-1zM220.9 581.89h1v5.83h-1zM220.9 593.55h1v5.83h-1zM221.9 506.1h1v5.83h-1zM222.9 389.5h1v5.83h-1zM222.9 546.91h1v5.83h-1zM223.9 406.99h1v5.83h-1zM223.9 511.93h1v5.83h-1zM223.9 541.08h1v11.66h-1zM223.9 558.57h1v5.83h-1zM223.9 570.23h1v5.83h-1zM223.9 581.89h1v5.83h-1zM224.9 576.06h1v5.83h-1zM225.9 570.23h1v5.83h-1zM226.9 401.16h1v5.83h-1zM226.9 418.65h1v5.83h-1zM226.9 430.31h1v5.83h-1zM226.9 482.78h1v5.83h-1zM226.9 500.27h1v5.83h-1zM226.9 523.59h1v5.83h-1zM226.9 541.08h1v11.66h-1zM226.9 564.4h1v5.83h-1zM226.9 611.04h1v5.83h-1zM227.9 523.59h1v5.83h-1zM227.9 546.91h1v5.83h-1zM228.9 389.5h1v5.83h-1zM228.9 406.99h1v11.66h-1zM228.9 441.97h1v5.83h-1zM228.9 511.93h1v5.83h-1zM228.9 541.08h1v5.83h-1zM228.9 587.72h1v5.83h-1zM230.9 395.33h1v5.83h-1zM230.9 406.99h1v5.83h-1zM230.9 424.48h1v5.83h-1zM230.9 441.97h1v11.66h-1zM231.9 500.27h1v5.83h-1zM233.9 412.82h1v5.83h-1zM233.9 517.76h1v5.83h-1zM233.9 529.42h1v5.83h-1zM233.9 576.06h1v5.83h-1zM235.9 389.5h1v5.83h-1zM236.9 546.91h1v5.83h-1zM237.9 471.12h1v5.83h-1zM237.9 511.93h1v5.83h-1zM237.9 523.59h1v11.66h-1zM238.9 389.5h1v5.83h-1zM238.9 541.08h1v5.83h-1zM239.9 424.48h1v5.83h-1zM239.9 529.42h1v5.83h-1zM239.9 552.74h1v5.83h-1zM240.9 541.08h1v5.83h-1zM240.9 552.74h1v5.83h-1zM240.9 570.23h1v11.66h-1zM241.9 587.72h1v5.83h-1zM242.9 424.48h1v5.83h-1zM242.9 541.08h1v5.83h-1zM244.9 482.78h1v5.83h-1zM246.9 401.16h1v5.83h-1zM246.9 424.48h1v5.83h-1zM246.9 436.14h1v5.83h-1zM246.9 482.78h1v5.83h-1zM246.9 546.91h1v5.83h-1zM251.9 570.23h1v5.83h-1zM256.9 418.65h1v5.83h-1zM256.9 430.31h1v5.83h-1zM256.9 471.12h1v5.83h-1zM256.9 482.78h1v5.83h-1zM256.9 523.59h1v5.83h-1zM256.9 552.74h1v5.83h-1zM256.9 611.04h1v5.83h-1zM257.9 424.48h1v5.83h-1zM257.9 546.91h1v5.83h-1zM259.9 546.91h1v5.83h-1zM260.9 412.82h1v5.83h-1zM260.9 506.1h1v11.66h-1zM260.9 523.59h1v5.83h-1zM260.9 558.57h1v11.66h-1zM260.9 581.89h1v5.83h-1zM260.9 599.38h1v5.83h-1zM260.9 611.04h1v5.83h-1zM261.9 523.59h1v5.83h-1zM261.9 535.25h1v5.83h-1zM261.9 546.91h1v11.66h-1zM263.9 424.48h1v5.83h-1zM263.9 441.97h1v5.83h-1zM265.9 529.42h1v5.83h-1zM265.9 541.08h1v5.83h-1zM265.9 564.4h1v5.83h-1zM265.9 587.72h1v11.66h-1zM265.9 605.21h1v11.66h-1z"/>
<path fill="#fbc5c1" d="M50.9 541.08h1v5.83h-1zM71.9 546.91h1v5.83h-1zM150.9 453.63h1v5.83h-1zM150.9 476.95h1v5.83h-1zM247.9 453.63h1v5.83h-1zM248.9 500.27h1v5.83h-1zM261.9 482.78h1v5.83h-1zM270.9 476.95h1v5.83h-1zM270.9 494.44h1v5.83h-1z"/>
<path fill="#fbbeba" d="M50.9 552.74h1v5.83h-1zM255.9 436.14h1v5.83h-1zM266.9 465.29h1v5.83h-1zM270.9 406.99h1v5.83h-1zM270.9 441.97h1v5.83h-1zM270.9 465.29h1v11.66h-1z"/>
<path fill="#fef2f1" d="M51.9 517.76h1v5.83h-1zM52.9 558.57h1v5.83h-1zM52.9 576.06h1v5.83h-1zM55.9 529.42h1v5.83h-1zM55.9 552.74h1v5.83h-1zM55.9 576.06h1v5.83h-1zM55.9 593.55h1v5.83h-1zM56.9 506.1h1v23.32h-1zM56.9 541.08h1v5.83h-1zM56.9 552.74h1v5.83h-1zM56.9 587.72h1v5.83h-1zM56.9 605.21h1v5.83h-1zM57.9 511.93h1v5.83h-1zM57.9 523.59h1v5.83h-1zM57.9 541.08h1v11.66h-1zM57.9 558.57h1v5.83h-1zM57.9 587.72h1v11.66h-1zM57.9 605.21h1v11.66h-1zM58.9 517.76h1v5.83h-1zM58.9 570.23h1v5.83h-1zM58.9 605.21h1v5.83h-1zM59.9 506.1h1v11.66h-1zM59.9 576.06h1v11.66h-1zM60.9 511.93h1v5.83h-1zM60.9 581.89h1v5.83h-1zM60.9 605.21h1v11.66h-1zM61.9 511.93h1v5.83h-1zM61.9 535.25h1v5.83h-1zM61.9 558.57h1v5.83h-1zM63.9 511.93h1v5.83h-1zM63.9 564.4h1v23.32h-1zM63.9 616.87h1v5.83h-1zM64.9 506.1h1v5.83h-1zM65.9 506.1h1v5.83h-1zM65.9 523.59h1v5.83h-1zM65.9 535.25h1v11.66h-1zM65.9 599.38h1v5.83h-1zM66.9 517.76h1v11.66h-1zM66.9 546.91h1v23.32h-1zM66.9 576.06h1v11.66h-1zM66.9 593.55h1v5.83h-1zM66.9 611.04h1v5.83h-1zM67.9 535.25h1v5.83h-1zM69.9 517.76h1v5.83h-1zM69.9 546.91h1v5.83h-1zM69.9 570.23h1v5.83h-1zM69.9 581.89h1v5.83h-1zM69.9 599.38h1v5.83h-1zM69.9 616.87h1v5.83h-1zM70.9 517.76h1v11.66h-1zM70.9 558.57h1v11.66h-1zM70.9 581.89h1v11.66h-1zM70.9 611.04h1v5.83h-1zM72.9 535.25h1v5.83h-1zM72.9 599.38h1v5.83h-1zM72.9 611.04h1v5.83h-1zM73.9 511.93h1v17.49h-1zM73.9 546.91h1v11.66h-1zM73.9 581.89h1v11.66h-1zM73.9 605.21h1v11.66h-1zM74.9 558.57h1v5.83h-1zM74.9 581.89h1v5.83h-1zM74.9 611.04h1v5.83h-1zM75.9 511.93h1v11.66h-1zM75.9 535.25h1v5.83h-1zM75.9 576.06h1v5.83h-1zM75.9 599.38h1v5.83h-1zM76.9 570.23h1v5.83h-1zM76.9 599.38h1v5.83h-1zM77.9 506.1h1v5.83h-1zM77.9 523.59h1v5.83h-1zM77.9 535.25h1v5.83h-1zM77.9 558.57h1v5.83h-1zM77.9 570.23h1v17.49h-1zM77.9 605.21h1v5.83h-1zM78.9 523.59h1v5.83h-1zM78.9 564.4h1v23.32h-1zM79.9 511.93h1v5.83h-1zM79.9 523.59h1v5.83h-1zM79.9 558.57h1v11.66h-1zM79.9 611.04h1v5.83h-1zM80.9 529.42h1v5.83h-1zM80.9 541.08h1v5.83h-1zM80.9 570.23h1v11.66h-1zM80.9 593.55h1v5.83h-1zM80.9 611.04h1v11.66h-1zM81.9 517.76h1v11.66h-1zM81.9 535.25h1v5.83h-1zM81.9 605.21h1v5.83h-1zM82.9 535.25h1v5.83h-1zM84.9 523.59h1v5.83h-1zM84.9 552.74h1v5.83h-1zM84.9 599.38h1v5.83h-1zM85.9 506.1h1v5.83h-1zM85.9 529.42h1v11.66h-1zM85.9 552.74h1v11.66h-1zM85.9 576.06h1v5.83h-1zM85.9 611.04h1v5.83h-1zM86.9 506.1h1v5.83h-1zM86.9 523.59h1v5.83h-1zM86.9 599.38h1v5.83h-1zM87.9 541.08h1v5.83h-1zM88.9 529.42h1v5.83h-1zM88.9 570.23h1v5.83h-1zM88.9 616.87h1v5.83h-1zM89.9 412.82h1v5.83h-1zM89.9 441.97h1v5.83h-1zM89.9 453.63h1v5.83h-1zM89.9 471.12h1v5.83h-1zM89.9 517.76h1v11.66h-1zM89.9 587.72h1v5.83h-1zM89.9 611.04h1v5.83h-1zM90.9 506.1h1v5.83h-1zM90.9 517.76h1v5.83h-1zM90.9 581.89h1v5.83h-1zM91.9 511.93h1v5.83h-1zM91.9 529.42h1v5.83h-1zM91.9 552.74h1v11.66h-1zM91.9 576.06h1v17.49h-1zM91.9 616.87h1v5.83h-1zM92.9 424.48h1v5.83h-1zM92.9 453.63h1v5.83h-1zM92.9 500.27h1v5.83h-1zM92.9 523.59h1v5.83h-1zM92.9 552.74h1v5.83h-1zM92.9 593.55h1v5.83h-1zM93.9 436.14h1v5.83h-1zM93.9 517.76h1v5.83h-1zM93.9 535.25h1v5.83h-1zM93.9 558.57h1v5.83h-1zM93.9 616.87h1v5.83h-1zM94.9 389.5h1v5.83h-1zM94.9 430.31h1v5.83h-1zM94.9 471.12h1v5.83h-1zM94.9 494.44h1v5.83h-1zM94.9 605.21h1v17.49h-1zM95.9 511.93h1v11.66h-1zM95.9 535.25h1v5.83h-1zM95.9 552.74h1v5.83h-1zM95.9 564.4h1v23.32h-1zM95.9 593.55h1v5.83h-1zM95.9 605.21h1v5.83h-1zM96.9 506.1h1v5.83h-1zM96.9 535.25h1v5.83h-1zM96.9 576.06h1v11.66h-1zM96.9 593.55h1v5.83h-1zM97.9 506.1h1v5.83h-1zM97.9 523.59h1v5.83h-1zM97.9 552.74h1v5.83h-1zM97.9 570.23h1v5.83h-1zM97.9 587.72h1v5.83h-1zM97.9 605.21h1v5.83h-1zM98.9 517.76h1v5.83h-1zM98.9 558.57h1v5.83h-1zM98.9 581.89h1v5.83h-1zM99.9 523.59h1v11.66h-1zM100.9 529.42h1v5.83h-1zM100.9 558.57h1v11.66h-1zM100.9 581.89h1v5.83h-1zM100.9 599.38h1v5.83h-1zM101.9 517.76h1v5.83h-1zM101.9 535.25h1v11.66h-1zM101.9 558.57h1v5.83h-1zM101.9 611.04h1v11.66h-1zM102.9 506.1h1v5.83h-1zM102.9 517.76h1v5.83h-1zM103.9 436.14h1v5.83h-1zM103.9 506.1h1v5.83h-1zM103.9 535.25h1v11.66h-1zM103.9 570.23h1v5.83h-1zM103.9 599.38h1v5.83h-1zM103.9 611.04h1v5.83h-1zM104.9 517.76h1v11.66h-1zM104.9 558.57h1v5.83h-1zM104.9 593.55h1v5.83h-1zM105.9 436.14h1v5.83h-1zM105.9 511.93h1v5.83h-1zM105.9 552.74h1v5.83h-1zM105.9 581.89h1v5.83h-1zM105.9 599.38h1v11.66h-1zM106.9 453.63h1v11.66h-1zM106.9 506.1h1v5.83h-1zM106.9 535.25h1v5.83h-1zM106.9 564.4h1v5.83h-1zM106.9 581.89h1v5.83h-1zM108.9 506.1h1v5.83h-1zM108.9 523.59h1v11.66h-1zM108.9 541.08h1v5.83h-1zM108.9 552.74h1v5.83h-1zM108.9 587.72h1v5.83h-1zM108.9 616.87h1v5.83h-1zM109.9 459.46h1v5.83h-1zM109.9 541.08h1v11.66h-1zM109.9 564.4h1v29.15h-1zM110.9 517.76h1v5.83h-1zM110.9 535.25h1v5.83h-1zM110.9 599.38h1v5.83h-1zM110.9 611.04h1v5.83h-1zM111.9 395.33h1v5.83h-1zM111.9 453.63h1v5.83h-1zM111.9 523.59h1v11.66h-1zM111.9 552.74h1v5.83h-1zM111.9 564.4h1v5.83h-1zM111.9 611.04h1v5.83h-1zM112.9 599.38h1v5.83h-1zM113.9 506.1h1v5.83h-1zM113.9 558.57h1v5.83h-1zM113.9 570.23h1v5.83h-1zM113.9 611.04h1v5.83h-1zM114.9 441.97h1v5.83h-1zM115.9 389.5h1v5.83h-1zM115.9 500.27h1v11.66h-1zM115.9 535.25h1v5.83h-1zM115.9 564.4h1v5.83h-1zM115.9 581.89h1v5.83h-1zM115.9 599.38h1v5.83h-1zM116.9 436.14h1v5.83h-1zM116.9 506.1h1v5.83h-1zM116.9 517.76h1v5.83h-1zM116.9 535.25h1v5.83h-1zM116.9 576.06h1v5.83h-1zM116.9 587.72h1v5.83h-1zM116.9 605.21h1v5.83h-1zM116.9 616.87h1v5.83h-1zM117.9 395.33h1v5.83h-1zM117.9 418.65h1v11.66h-1zM117.9 453.63h1v5.83h-1zM117.9 476.95h1v5.83h-1zM117.9 517.76h1v5.83h-1zM117.9 535.25h1v5.83h-1zM118.9 389.5h1v5.83h-1zM118.9 436.14h1v5.83h-1zM118.9 482.78h1v5.83h-1zM118.9 552.74h1v5.83h-1zM118.9 581.89h1v11.66h-1zM119.9 430.31h1v5.83h-1zM119.9 441.97h1v5.83h-1zM119.9 453.63h1v5.83h-1zM119.9 482.78h1v5.83h-1zM119.9 511.93h1v11.66h-1zM119.9 558.57h1v5.83h-1zM119.9 570.23h1v5.83h-1zM119.9 581.89h1v5.83h-1zM121.9 436.14h1v5.83h-1zM121.9 535.25h1v17.49h-1zM121.9 581.89h1v5.83h-1zM122.9 436.14h1v5.83h-1zM122.9 535.25h1v5.83h-1zM122.9 552.74h1v5.83h-1zM122.9 570.23h1v11.66h-1zM123.9 436.14h1v5.83h-1zM123.9 500.27h1v5.83h-1zM123.9 529.42h1v5.83h-1zM124.9 436.14h1v5.83h-1zM124.9 459.46h1v11.66h-1zM124.9 506.1h1v5.83h-1zM124.9 546.91h1v5.83h-1zM124.9 570.23h1v5.83h-1zM124.9 587.72h1v5.83h-1zM124.9 616.87h1v5.83h-1zM125.9 401.16h1v11.66h-1zM125.9 441.97h1v5.83h-1zM125.9 459.46h1v5.83h-1zM125.9 494.44h1v17.49h-1zM125.9 535.25h1v5.83h-1zM125.9 576.06h1v17.49h-1zM126.9 395.33h1v5.83h-1zM126.9 453.63h1v5.83h-1zM126.9 500.27h1v5.83h-1zM126.9 529.42h1v5.83h-1zM127.9 506.1h1v5.83h-1zM127.9 523.59h1v5.83h-1zM127.9 570.23h1v5.83h-1zM127.9 581.89h1v5.83h-1zM127.9 605.21h1v5.83h-1zM127.9 616.87h1v5.83h-1zM128.9 412.82h1v5.83h-1zM129.9 436.14h1v5.83h-1zM129.9 523.59h1v5.83h-1zM129.9 570.23h1v5.83h-1zM129.9 581.89h1v5.83h-1zM130.9 395.33h1v5.83h-1zM130.9 453.63h1v5.83h-1zM130.9 465.29h1v11.66h-1zM130.9 482.78h1v17.49h-1zM130.9 506.1h1v5.83h-1zM130.9 529.42h1v5.83h-1zM130.9 564.4h1v5.83h-1zM130.9 599.38h1v5.83h-1zM131.9 418.65h1v5.83h-1zM131.9 436.14h1v5.83h-1zM131.9 506.1h1v5.83h-1zM131.9 529.42h1v5.83h-1zM131.9 593.55h1v5.83h-1zM131.9 616.87h1v5.83h-1zM132.9 465.29h1v5.83h-1zM132.9 500.27h1v5.83h-1zM133.9 471.12h1v5.83h-1zM133.9 482.78h1v5.83h-1zM133.9 517.76h1v11.66h-1zM133.9 546.91h1v5.83h-1zM133.9 576.06h1v11.66h-1zM133.9 599.38h1v5.83h-1zM134.9 436.14h1v5.83h-1zM134.9 471.12h1v5.83h-1zM134.9 494.44h1v5.83h-1zM134.9 541.08h1v5.83h-1zM135.9 395.33h1v5.83h-1zM135.9 406.99h1v5.83h-1zM135.9 418.65h1v5.83h-1zM135.9 436.14h1v17.49h-1zM135.9 465.29h1v11.66h-1zM135.9 482.78h1v5.83h-1zM135.9 500.27h1v11.66h-1zM135.9 541.08h1v5.83h-1zM135.9 564.4h1v17.49h-1zM135.9 605.21h1v5.83h-1zM136.9 476.95h1v5.83h-1zM136.9 488.61h1v5.83h-1zM136.9 500.27h1v5.83h-1zM136.9 564.4h1v5.83h-1zM136.9 581.89h1v5.83h-1zM137.9 482.78h1v5.83h-1zM138.9 441.97h1v5.83h-1zM138.9 459.46h1v5.83h-1zM138.9 482.78h1v5.83h-1zM138.9 494.44h1v5.83h-1zM138.9 523.59h1v5.83h-1zM138.9 546.91h1v5.83h-1zM138.9 605.21h1v5.83h-1zM139.9 395.33h1v5.83h-1zM139.9 412.82h1v5.83h-1zM139.9 436.14h1v11.66h-1zM139.9 476.95h1v5.83h-1zM139.9 500.27h1v5.83h-1zM139.9 552.74h1v5.83h-1zM139.9 587.72h1v5.83h-1zM140.9 401.16h1v5.83h-1zM140.9 436.14h1v5.83h-1zM140.9 511.93h1v5.83h-1zM140.9 570.23h1v5.83h-1zM140.9 616.87h1v5.83h-1zM141.9 424.48h1v5.83h-1zM141.9 529.42h1v5.83h-1zM141.9 599.38h1v5.83h-1zM142.9 389.5h1v5.83h-1zM142.9 401.16h1v11.66h-1zM142.9 418.65h1v5.83h-1zM142.9 430.31h1v5.83h-1zM142.9 459.46h1v5.83h-1zM142.9 476.95h1v11.66h-1zM142.9 605.21h1v5.83h-1zM143.9 389.5h1v5.83h-1zM143.9 436.14h1v11.66h-1zM143.9 459.46h1v11.66h-1zM143.9 482.78h1v5.83h-1zM143.9 494.44h1v17.49h-1zM143.9 541.08h1v5.83h-1zM143.9 570.23h1v5.83h-1zM143.9 587.72h1v5.83h-1zM144.9 552.74h1v5.83h-1zM144.9 593.55h1v5.83h-1zM146.9 406.99h1v5.83h-1zM146.9 430.31h1v5.83h-1zM146.9 465.29h1v5.83h-1zM146.9 482.78h1v11.66h-1zM146.9 529.42h1v5.83h-1zM146.9 546.91h1v5.83h-1zM146.9 616.87h1v5.83h-1zM147.9 441.97h1v5.83h-1zM147.9 453.63h1v5.83h-1zM147.9 465.29h1v5.83h-1zM147.9 488.61h1v5.83h-1zM147.9 500.27h1v5.83h-1zM147.9 587.72h1v11.66h-1zM148.9 436.14h1v5.83h-1zM148.9 605.21h1v5.83h-1zM149.9 395.33h1v5.83h-1zM149.9 436.14h1v5.83h-1zM149.9 459.46h1v5.83h-1zM149.9 500.27h1v5.83h-1zM149.9 552.74h1v5.83h-1zM149.9 570.23h1v5.83h-1zM149.9 611.04h1v5.83h-1zM150.9 616.87h1v5.83h-1zM151.9 389.5h1v5.83h-1zM151.9 406.99h1v5.83h-1zM151.9 441.97h1v5.83h-1zM151.9 471.12h1v11.66h-1zM152.9 436.14h1v5.83h-1zM152.9 453.63h1v5.83h-1zM152.9 476.95h1v5.83h-1zM152.9 529.42h1v5.83h-1zM152.9 581.89h1v5.83h-1zM152.9 605.21h1v5.83h-1zM153.9 424.48h1v5.83h-1zM153.9 587.72h1v5.83h-1zM154.9 406.99h1v5.83h-1zM154.9 482.78h1v5.83h-1zM154.9 494.44h1v5.83h-1zM155.9 395.33h1v5.83h-1zM155.9 406.99h1v11.66h-1zM155.9 430.31h1v5.83h-1zM155.9 465.29h1v5.83h-1zM155.9 482.78h1v11.66h-1zM155.9 523.59h1v5.83h-1zM155.9 546.91h1v11.66h-1zM155.9 576.06h1v5.83h-1zM156.9 436.14h1v5.83h-1zM156.9 471.12h1v5.83h-1zM156.9 523.59h1v11.66h-1zM156.9 558.57h1v5.83h-1zM156.9 587.72h1v11.66h-1zM156.9 616.87h1v5.83h-1zM157.9 430.31h1v29.15h-1zM157.9 482.78h1v5.83h-1zM157.9 535.25h1v5.83h-1zM157.9 552.74h1v5.83h-1zM157.9 564.4h1v5.83h-1zM157.9 593.55h1v5.83h-1zM157.9 616.87h1v5.83h-1zM158.9 453.63h1v5.83h-1zM158.9 471.12h1v11.66h-1zM158.9 500.27h1v5.83h-1zM158.9 564.4h1v5.83h-1zM158.9 587.72h1v11.66h-1zM159.9 453.63h1v5.83h-1zM159.9 523.59h1v5.83h-1zM159.9 546.91h1v11.66h-1zM159.9 587.72h1v5.83h-1zM159.9 605.21h1v11.66h-1zM160.9 453.63h1v11.66h-1zM160.9 494.44h1v5.83h-1zM160.9 593.55h1v5.83h-1zM160.9 605.21h1v5.83h-1zM161.9 395.33h1v5.83h-1zM161.9 430.31h1v5.83h-1zM161.9 459.46h1v5.83h-1zM161.9 488.61h1v5.83h-1zM162.9 436.14h1v5.83h-1zM162.9 459.46h1v5.83h-1zM162.9 541.08h1v11.66h-1zM163.9 459.46h1v5.83h-1zM163.9 494.44h1v5.83h-1zM163.9 546.91h1v5.83h-1zM164.9 570.23h1v5.83h-1zM165.9 465.29h1v5.83h-1zM165.9 529.42h1v5.83h-1zM167.9 389.5h1v5.83h-1zM167.9 453.63h1v5.83h-1zM167.9 494.44h1v5.83h-1zM167.9 541.08h1v5.83h-1zM167.9 570.23h1v5.83h-1zM167.9 587.72h1v5.83h-1zM167.9 605.21h1v17.49h-1zM168.9 389.5h1v11.66h-1zM168.9 453.63h1v5.83h-1zM168.9 500.27h1v34.98h-1zM168.9 570.23h1v5.83h-1zM169.9 401.16h1v5.83h-1zM169.9 465.29h1v5.83h-1zM169.9 488.61h1v17.49h-1zM170.9 482.78h1v5.83h-1zM171.9 441.97h1v5.83h-1zM171.9 488.61h1v11.66h-1zM171.9 529.42h1v5.83h-1zM171.9 552.74h1v11.66h-1zM172.9 401.16h1v5.83h-1zM172.9 424.48h1v5.83h-1zM172.9 447.8h1v5.83h-1zM172.9 465.29h1v5.83h-1zM173.9 406.99h1v5.83h-1zM173.9 447.8h1v5.83h-1zM173.9 476.95h1v5.83h-1zM174.9 436.14h1v5.83h-1zM174.9 453.63h1v5.83h-1zM174.9 465.29h1v5.83h-1zM174.9 511.93h1v5.83h-1zM174.9 529.42h1v5.83h-1zM174.9 541.08h1v5.83h-1zM174.9 570.23h1v5.83h-1zM174.9 581.89h1v5.83h-1zM174.9 611.04h1v11.66h-1zM175.9 459.46h1v5.83h-1zM175.9 476.95h1v11.66h-1zM175.9 546.91h1v5.83h-1zM175.9 587.72h1v5.83h-1zM176.9 389.5h1v5.83h-1zM176.9 401.16h1v23.32h-1zM176.9 441.97h1v5.83h-1zM176.9 453.63h1v5.83h-1zM176.9 476.95h1v11.66h-1zM176.9 494.44h1v5.83h-1zM177.9 389.5h1v5.83h-1zM177.9 406.99h1v17.49h-1zM177.9 430.31h1v5.83h-1zM177.9 441.97h1v11.66h-1zM177.9 465.29h1v5.83h-1zM177.9 476.95h1v5.83h-1zM177.9 541.08h1v5.83h-1zM178.9 465.29h1v5.83h-1zM179.9 389.5h1v5.83h-1zM179.9 482.78h1v5.83h-1zM179.9 587.72h1v5.83h-1zM179.9 605.21h1v5.83h-1zM179.9 616.87h1v5.83h-1zM180.9 389.5h1v5.83h-1zM180.9 401.16h1v5.83h-1zM180.9 418.65h1v5.83h-1zM180.9 441.97h1v5.83h-1zM180.9 459.46h1v11.66h-1zM180.9 476.95h1v5.83h-1zM180.9 529.42h1v5.83h-1zM181.9 523.59h1v5.83h-1zM182.9 389.5h1v5.83h-1zM182.9 441.97h1v5.83h-1zM182.9 453.63h1v11.66h-1zM182.9 476.95h1v5.83h-1zM182.9 488.61h1v5.83h-1zM182.9 500.27h1v5.83h-1zM182.9 529.42h1v5.83h-1zM182.9 564.4h1v5.83h-1zM182.9 581.89h1v11.66h-1zM182.9 616.87h1v5.83h-1zM183.9 401.16h1v11.66h-1zM183.9 476.95h1v11.66h-1zM183.9 494.44h1v5.83h-1zM184.9 436.14h1v5.83h-1zM184.9 465.29h1v5.83h-1zM184.9 546.91h1v5.83h-1zM184.9 587.72h1v5.83h-1zM184.9 605.21h1v5.83h-1zM185.9 453.63h1v5.83h-1zM185.9 488.61h1v5.83h-1zM185.9 500.27h1v5.83h-1zM186.9 430.31h1v5.83h-1zM186.9 476.95h1v5.83h-1zM186.9 494.44h1v5.83h-1zM186.9 523.59h1v11.66h-1zM186.9 546.91h1v5.83h-1zM186.9 593.55h1v5.83h-1zM187.9 401.16h1v5.83h-1zM187.9 418.65h1v5.83h-1zM188.9 401.16h1v17.49h-1zM188.9 459.46h1v5.83h-1zM188.9 476.95h1v11.66h-1zM188.9 494.44h1v11.66h-1zM189.9 412.82h1v11.66h-1zM189.9 447.8h1v5.83h-1zM189.9 476.95h1v5.83h-1zM189.9 488.61h1v5.83h-1zM189.9 546.91h1v5.83h-1zM189.9 576.06h1v5.83h-1zM190.9 389.5h1v5.83h-1zM190.9 418.65h1v5.83h-1zM190.9 465.29h1v17.49h-1zM190.9 500.27h1v5.83h-1zM190.9 546.91h1v5.83h-1zM191.9 430.31h1v5.83h-1zM191.9 441.97h1v11.66h-1zM192.9 412.82h1v5.83h-1zM192.9 430.31h1v5.83h-1zM192.9 471.12h1v5.83h-1zM192.9 488.61h1v5.83h-1zM192.9 500.27h1v5.83h-1zM192.9 564.4h1v5.83h-1zM192.9 576.06h1v5.83h-1zM193.9 389.5h1v5.83h-1zM193.9 453.63h1v5.83h-1zM194.9 389.5h1v5.83h-1zM194.9 441.97h1v5.83h-1zM194.9 453.63h1v5.83h-1zM195.9 418.65h1v5.83h-1zM195.9 430.31h1v5.83h-1zM195.9 453.63h1v5.83h-1zM195.9 465.29h1v5.83h-1zM196.9 406.99h1v11.66h-1zM196.9 441.97h1v5.83h-1zM196.9 482.78h1v5.83h-1zM196.9 546.91h1v11.66h-1zM196.9 570.23h1v5.83h-1zM196.9 581.89h1v5.83h-1zM196.9 605.21h1v5.83h-1zM196.9 616.87h1v5.83h-1zM197.9 395.33h1v17.49h-1zM197.9 424.48h1v11.66h-1zM197.9 441.97h1v5.83h-1zM197.9 471.12h1v5.83h-1zM197.9 482.78h1v17.49h-1zM197.9 552.74h1v5.83h-1zM197.9 587.72h1v5.83h-1zM197.9 611.04h1v5.83h-1zM198.9 406.99h1v5.83h-1zM198.9 418.65h1v17.49h-1zM198.9 441.97h1v5.83h-1zM198.9 459.46h1v5.83h-1zM198.9 471.12h1v11.66h-1zM198.9 546.91h1v5.83h-1zM199.9 418.65h1v11.66h-1zM199.9 453.63h1v5.83h-1zM199.9 465.29h1v5.83h-1zM199.9 482.78h1v5.83h-1zM200.9 401.16h1v5.83h-1zM200.9 412.82h1v5.83h-1zM200.9 436.14h1v11.66h-1zM200.9 482.78h1v5.83h-1zM201.9 453.63h1v5.83h-1zM201.9 488.61h1v5.83h-1zM202.9 546.91h1v5.83h-1zM203.9 395.33h1v11.66h-1zM203.9 494.44h1v5.83h-1zM204.9 441.97h1v5.83h-1zM204.9 459.46h1v5.83h-1zM204.9 488.61h1v5.83h-1zM204.9 500.27h1v5.83h-1zM205.9 441.97h1v5.83h-1zM205.9 476.95h1v5.83h-1zM206.9 465.29h1v5.83h-1zM206.9 488.61h1v5.83h-1zM206.9 546.91h1v5.83h-1zM207.9 401.16h1v5.83h-1zM207.9 447.8h1v5.83h-1zM207.9 471.12h1v5.83h-1zM208.9 430.31h1v11.66h-1zM208.9 482.78h1v5.83h-1zM209.9 424.48h1v5.83h-1zM210.9 412.82h1v5.83h-1zM210.9 424.48h1v5.83h-1zM210.9 441.97h1v5.83h-1zM210.9 471.12h1v5.83h-1zM211.9 389.5h1v11.66h-1zM211.9 406.99h1v5.83h-1zM211.9 424.48h1v5.83h-1zM211.9 441.97h1v5.83h-1zM211.9 494.44h1v11.66h-1zM212.9 395.33h1v5.83h-1zM212.9 447.8h1v5.83h-1zM212.9 465.29h1v5.83h-1zM212.9 546.91h1v5.83h-1zM213.9 401.16h1v5.83h-1zM213.9 412.82h1v11.66h-1zM213.9 430.31h1v5.83h-1zM213.9 441.97h1v5.83h-1zM213.9 465.29h1v5.83h-1zM213.9 488.61h1v5.83h-1zM213.9 500.27h1v5.83h-1zM214.9 418.65h1v5.83h-1zM215.9 389.5h1v5.83h-1zM215.9 406.99h1v5.83h-1zM215.9 424.48h1v11.66h-1zM215.9 471.12h1v11.66h-1zM215.9 494.44h1v5.83h-1zM217.9 389.5h1v5.83h-1zM217.9 418.65h1v17.49h-1zM217.9 441.97h1v5.83h-1zM217.9 459.46h1v17.49h-1zM218.9 418.65h1v17.49h-1zM218.9 459.46h1v5.83h-1zM218.9 488.61h1v5.83h-1zM218.9 500.27h1v5.83h-1zM219.9 447.8h1v5.83h-1zM219.9 488.61h1v5.83h-1zM219.9 517.76h1v5.83h-1zM219.9 541.08h1v5.83h-1zM219.9 564.4h1v5.83h-1zM219.9 587.72h1v5.83h-1zM220.9 401.16h1v5.83h-1zM220.9 441.97h1v5.83h-1zM220.9 465.29h1v5.83h-1zM220.9 476.95h1v5.83h-1zM222.9 395.33h1v5.83h-1zM222.9 406.99h1v11.66h-1zM222.9 453.63h1v5.83h-1zM222.9 476.95h1v5.83h-1zM222.9 494.44h1v11.66h-1zM223.9 430.31h1v11.66h-1zM223.9 471.12h1v5.83h-1zM224.9 424.48h1v5.83h-1zM225.9 406.99h1v5.83h-1zM226.9 447.8h1v11.66h-1zM226.9 476.95h1v5.83h-1zM226.9 552.74h1v5.83h-1zM226.9 570.23h1v5.83h-1zM227.9 401.16h1v11.66h-1zM228.9 395.33h1v11.66h-1zM228.9 430.31h1v5.83h-1zM228.9 447.8h1v5.83h-1zM228.9 465.29h1v5.83h-1zM229.9 401.16h1v11.66h-1zM229.9 424.48h1v5.83h-1zM229.9 471.12h1v11.66h-1zM230.9 401.16h1v5.83h-1zM230.9 418.65h1v5.83h-1zM230.9 436.14h1v5.83h-1zM230.9 465.29h1v5.83h-1zM231.9 401.16h1v11.66h-1zM231.9 418.65h1v17.49h-1zM232.9 401.16h1v11.66h-1zM232.9 447.8h1v5.83h-1zM232.9 488.61h1v5.83h-1zM233.9 389.5h1v5.83h-1zM233.9 430.31h1v5.83h-1zM233.9 447.8h1v5.83h-1zM233.9 552.74h1v5.83h-1zM234.9 476.95h1v5.83h-1zM235.9 401.16h1v5.83h-1zM235.9 418.65h1v11.66h-1zM235.9 447.8h1v5.83h-1zM235.9 476.95h1v5.83h-1zM236.9 401.16h1v5.83h-1zM237.9 430.31h1v5.83h-1zM237.9 453.63h1v5.83h-1zM237.9 482.78h1v5.83h-1zM237.9 500.27h1v5.83h-1zM238.9 401.16h1v5.83h-1zM238.9 482.78h1v5.83h-1zM239.9 406.99h1v5.83h-1zM239.9 488.61h1v5.83h-1zM240.9 406.99h1v5.83h-1zM240.9 459.46h1v5.83h-1zM241.9 406.99h1v5.83h-1zM242.9 389.5h1v5.83h-1zM242.9 401.16h1v5.83h-1zM242.9 412.82h1v5.83h-1zM242.9 459.46h1v5.83h-1zM242.9 476.95h1v11.66h-1zM242.9 494.44h1v5.83h-1zM243.9 424.48h1v5.83h-1zM243.9 441.97h1v17.49h-1zM243.9 465.29h1v5.83h-1zM244.9 389.5h1v5.83h-1zM244.9 401.16h1v11.66h-1zM244.9 424.48h1v11.66h-1zM244.9 447.8h1v5.83h-1zM245.9 430.31h1v5.83h-1zM246.9 389.5h1v5.83h-1zM246.9 500.27h1v5.83h-1zM248.9 389.5h1v5.83h-1zM249.9 406.99h1v5.83h-1zM249.9 441.97h1v5.83h-1zM250.9 401.16h1v5.83h-1zM250.9 418.65h1v11.66h-1zM250.9 447.8h1v5.83h-1zM250.9 500.27h1v5.83h-1zM251.9 546.91h1v5.83h-1zM254.9 412.82h1v5.83h-1zM256.9 401.16h1v11.66h-1zM256.9 441.97h1v17.49h-1zM257.9 412.82h1v5.83h-1zM257.9 430.31h1v5.83h-1zM257.9 441.97h1v5.83h-1zM257.9 459.46h1v5.83h-1zM257.9 494.44h1v11.66h-1zM258.9 412.82h1v5.83h-1zM260.9 430.31h1v5.83h-1zM260.9 447.8h1v5.83h-1zM260.9 488.61h1v5.83h-1zM262.9 406.99h1v5.83h-1zM262.9 430.31h1v5.83h-1zM262.9 476.95h1v5.83h-1zM263.9 412.82h1v5.83h-1zM263.9 453.63h1v5.83h-1zM263.9 465.29h1v11.66h-1zM263.9 500.27h1v5.83h-1zM264.9 418.65h1v5.83h-1zM264.9 447.8h1v5.83h-1zM265.9 459.46h1v5.83h-1zM267.9 424.48h1v5.83h-1z"/>
<path fill="#fff9f8" d="M52.9 564.4h1v5.83h-1zM53.9 616.87h1v5.83h-1zM54.9 599.38h1v5.83h-1zM55.9 517.76h1v5.83h-1zM55.9 535.25h1v5.83h-1zM55.9 570.23h1v5.83h-1zM56.9 529.42h1v11.66h-1zM56.9 570.23h1v17.49h-1zM56.9 599.38h1v5.83h-1zM57.9 616.87h1v5.83h-1zM58.9 529.42h1v5.83h-1zM58.9 599.38h1v5.83h-1zM60.9 529.42h1v5.83h-1zM60.9 587.72h1v5.83h-1zM61.9 517.76h1v5.83h-1zM63.9 517.76h1v11.66h-1zM63.9 552.74h1v5.83h-1zM63.9 593.55h1v5.83h-1zM64.9 436.14h1v5.83h-1zM65.9 517.76h1v5.83h-1zM65.9 611.04h1v5.83h-1zM66.9 494.44h1v5.83h-1zM66.9 506.1h1v5.83h-1zM66.9 535.25h1v11.66h-1zM69.9 558.57h1v5.83h-1zM69.9 576.06h1v5.83h-1zM69.9 587.72h1v11.66h-1zM69.9 611.04h1v5.83h-1zM70.9 506.1h1v5.83h-1zM70.9 570.23h1v11.66h-1zM72.9 488.61h1v5.83h-1zM73.9 535.25h1v5.83h-1zM73.9 593.55h1v11.66h-1zM75.9 558.57h1v5.83h-1zM76.9 436.14h1v11.66h-1zM76.9 459.46h1v17.49h-1zM76.9 576.06h1v5.83h-1zM77.9 436.14h1v11.66h-1zM77.9 453.63h1v5.83h-1zM77.9 488.61h1v5.83h-1zM78.9 459.46h1v5.83h-1zM78.9 517.76h1v5.83h-1zM79.9 517.76h1v5.83h-1zM79.9 599.38h1v5.83h-1zM80.9 506.1h1v11.66h-1zM80.9 535.25h1v5.83h-1zM81.9 581.89h1v5.83h-1zM81.9 599.38h1v5.83h-1zM83.9 436.14h1v5.83h-1zM84.9 529.42h1v5.83h-1zM85.9 517.76h1v5.83h-1zM85.9 570.23h1v5.83h-1zM85.9 599.38h1v11.66h-1zM85.9 616.87h1v5.83h-1zM86.9 436.14h1v5.83h-1zM86.9 616.87h1v5.83h-1zM87.9 395.33h1v5.83h-1zM87.9 564.4h1v5.83h-1zM87.9 616.87h1v5.83h-1zM88.9 506.1h1v5.83h-1zM88.9 535.25h1v5.83h-1zM88.9 576.06h1v17.49h-1zM88.9 611.04h1v5.83h-1zM89.9 406.99h1v5.83h-1zM89.9 418.65h1v5.83h-1zM89.9 482.78h1v5.83h-1zM89.9 494.44h1v5.83h-1zM89.9 506.1h1v5.83h-1zM89.9 535.25h1v5.83h-1zM89.9 599.38h1v5.83h-1zM90.9 436.14h1v5.83h-1zM90.9 511.93h1v5.83h-1zM91.9 506.1h1v5.83h-1zM91.9 564.4h1v5.83h-1zM91.9 611.04h1v5.83h-1zM92.9 401.16h1v11.66h-1zM92.9 430.31h1v5.83h-1zM92.9 441.97h1v5.83h-1zM92.9 558.57h1v5.83h-1zM93.9 506.1h1v5.83h-1zM94.9 395.33h1v5.83h-1zM94.9 406.99h1v5.83h-1zM94.9 465.29h1v5.83h-1zM94.9 482.78h1v5.83h-1zM94.9 500.27h1v11.66h-1zM94.9 517.76h1v5.83h-1zM94.9 541.08h1v5.83h-1zM94.9 558.57h1v5.83h-1zM94.9 570.23h1v5.83h-1zM94.9 593.55h1v5.83h-1zM95.9 488.61h1v5.83h-1zM95.9 523.59h1v5.83h-1zM95.9 558.57h1v5.83h-1zM95.9 599.38h1v5.83h-1zM95.9 611.04h1v11.66h-1zM96.9 558.57h1v5.83h-1zM96.9 616.87h1v5.83h-1zM97.9 511.93h1v5.83h-1zM97.9 558.57h1v5.83h-1zM97.9 593.55h1v5.83h-1zM98.9 564.4h1v5.83h-1zM98.9 576.06h1v5.83h-1zM99.9 395.33h1v5.83h-1zM99.9 436.14h1v5.83h-1zM99.9 482.78h1v5.83h-1zM99.9 564.4h1v5.83h-1zM99.9 599.38h1v5.83h-1zM100.9 616.87h1v5.83h-1zM101.9 506.1h1v5.83h-1zM101.9 599.38h1v5.83h-1zM102.9 599.38h1v5.83h-1zM103.9 395.33h1v5.83h-1zM103.9 517.76h1v5.83h-1zM103.9 616.87h1v5.83h-1zM104.9 395.33h1v5.83h-1zM104.9 430.31h1v11.66h-1zM104.9 488.61h1v5.83h-1zM105.9 418.65h1v5.83h-1zM105.9 471.12h1v11.66h-1zM105.9 517.76h1v5.83h-1zM105.9 529.42h1v5.83h-1zM105.9 541.08h1v5.83h-1zM105.9 558.57h1v5.83h-1zM105.9 576.06h1v5.83h-1zM105.9 616.87h1v5.83h-1zM106.9 465.29h1v5.83h-1zM106.9 476.95h1v5.83h-1zM106.9 488.61h1v5.83h-1zM106.9 517.76h1v5.83h-1zM106.9 576.06h1v5.83h-1zM106.9 593.55h1v11.66h-1zM108.9 511.93h1v11.66h-1zM108.9 535.25h1v5.83h-1zM108.9 558.57h1v11.66h-1zM108.9 593.55h1v5.83h-1zM108.9 605.21h1v11.66h-1zM109.9 511.93h1v5.83h-1zM109.9 529.42h1v5.83h-1zM109.9 593.55h1v11.66h-1zM109.9 611.04h1v5.83h-1zM110.9 453.63h1v5.83h-1zM110.9 576.06h1v5.83h-1zM110.9 605.21h1v5.83h-1zM111.9 465.29h1v5.83h-1zM111.9 500.27h1v11.66h-1zM111.9 570.23h1v5.83h-1zM111.9 587.72h1v5.83h-1zM111.9 616.87h1v5.83h-1zM112.9 418.65h1v5.83h-1zM112.9 436.14h1v5.83h-1zM112.9 453.63h1v5.83h-1zM112.9 482.78h1v5.83h-1zM113.9 511.93h1v5.83h-1zM113.9 541.08h1v5.83h-1zM113.9 599.38h1v5.83h-1zM113.9 616.87h1v5.83h-1zM114.9 418.65h1v5.83h-1zM114.9 453.63h1v5.83h-1zM114.9 471.12h1v5.83h-1zM114.9 482.78h1v11.66h-1zM115.9 395.33h1v5.83h-1zM115.9 418.65h1v5.83h-1zM115.9 436.14h1v5.83h-1zM115.9 453.63h1v5.83h-1zM115.9 465.29h1v11.66h-1zM115.9 541.08h1v5.83h-1zM116.9 395.33h1v5.83h-1zM116.9 453.63h1v5.83h-1zM116.9 511.93h1v5.83h-1zM116.9 558.57h1v5.83h-1zM116.9 570.23h1v5.83h-1zM116.9 593.55h1v11.66h-1zM116.9 611.04h1v5.83h-1zM117.9 430.31h1v11.66h-1zM117.9 447.8h1v5.83h-1zM117.9 465.29h1v5.83h-1zM117.9 482.78h1v11.66h-1zM117.9 500.27h1v5.83h-1zM117.9 558.57h1v5.83h-1zM118.9 412.82h1v17.49h-1zM118.9 441.97h1v5.83h-1zM118.9 459.46h1v5.83h-1zM118.9 476.95h1v5.83h-1zM118.9 500.27h1v11.66h-1zM118.9 529.42h1v5.83h-1zM118.9 546.91h1v5.83h-1zM118.9 564.4h1v5.83h-1zM118.9 599.38h1v5.83h-1zM118.9 611.04h1v11.66h-1zM119.9 418.65h1v5.83h-1zM119.9 436.14h1v5.83h-1zM119.9 476.95h1v5.83h-1zM119.9 488.61h1v5.83h-1zM119.9 541.08h1v5.83h-1zM119.9 616.87h1v5.83h-1zM120.9 459.46h1v5.83h-1zM121.9 465.29h1v5.83h-1zM121.9 500.27h1v5.83h-1zM121.9 511.93h1v5.83h-1zM121.9 552.74h1v5.83h-1zM121.9 564.4h1v11.66h-1zM121.9 599.38h1v5.83h-1zM122.9 471.12h1v5.83h-1zM122.9 517.76h1v5.83h-1zM122.9 529.42h1v5.83h-1zM122.9 605.21h1v5.83h-1zM122.9 616.87h1v5.83h-1zM123.9 488.61h1v5.83h-1zM123.9 523.59h1v5.83h-1zM123.9 546.91h1v5.83h-1zM123.9 570.23h1v5.83h-1zM123.9 581.89h1v5.83h-1zM124.9 389.5h1v5.83h-1zM124.9 441.97h1v5.83h-1zM124.9 482.78h1v5.83h-1zM124.9 494.44h1v5.83h-1zM124.9 511.93h1v5.83h-1zM124.9 535.25h1v5.83h-1zM124.9 552.74h1v5.83h-1zM124.9 611.04h1v5.83h-1zM125.9 453.63h1v5.83h-1zM125.9 465.29h1v11.66h-1zM125.9 482.78h1v11.66h-1zM125.9 511.93h1v5.83h-1zM125.9 552.74h1v5.83h-1zM125.9 616.87h1v5.83h-1zM126.9 389.5h1v5.83h-1zM126.9 406.99h1v5.83h-1zM126.9 430.31h1v5.83h-1zM126.9 476.95h1v11.66h-1zM126.9 494.44h1v5.83h-1zM126.9 523.59h1v5.83h-1zM126.9 552.74h1v5.83h-1zM126.9 564.4h1v11.66h-1zM127.9 436.14h1v5.83h-1zM127.9 517.76h1v5.83h-1zM127.9 535.25h1v11.66h-1zM127.9 576.06h1v5.83h-1zM128.9 611.04h1v5.83h-1zM129.9 395.33h1v5.83h-1zM129.9 406.99h1v5.83h-1zM129.9 418.65h1v11.66h-1zM129.9 476.95h1v5.83h-1zM129.9 488.61h1v5.83h-1zM129.9 500.27h1v5.83h-1zM129.9 529.42h1v5.83h-1zM129.9 541.08h1v5.83h-1zM129.9 593.55h1v5.83h-1zM129.9 611.04h1v5.83h-1zM130.9 389.5h1v5.83h-1zM130.9 401.16h1v11.66h-1zM130.9 418.65h1v11.66h-1zM130.9 459.46h1v5.83h-1zM130.9 476.95h1v5.83h-1zM130.9 511.93h1v5.83h-1zM130.9 535.25h1v11.66h-1zM130.9 558.57h1v5.83h-1zM130.9 593.55h1v5.83h-1zM131.9 395.33h1v5.83h-1zM131.9 406.99h1v5.83h-1zM131.9 471.12h1v5.83h-1zM131.9 488.61h1v5.83h-1zM131.9 500.27h1v5.83h-1zM131.9 523.59h1v5.83h-1zM131.9 541.08h1v5.83h-1zM131.9 552.74h1v5.83h-1zM131.9 570.23h1v5.83h-1zM132.9 412.82h1v11.66h-1zM132.9 447.8h1v11.66h-1zM132.9 471.12h1v5.83h-1zM132.9 494.44h1v5.83h-1zM132.9 523.59h1v5.83h-1zM132.9 546.91h1v5.83h-1zM133.9 412.82h1v5.83h-1zM133.9 447.8h1v5.83h-1zM133.9 459.46h1v11.66h-1zM133.9 476.95h1v5.83h-1zM133.9 494.44h1v5.83h-1zM133.9 511.93h1v5.83h-1zM133.9 535.25h1v5.83h-1zM133.9 558.57h1v17.49h-1zM133.9 611.04h1v5.83h-1zM134.9 459.46h1v5.83h-1zM134.9 488.61h1v5.83h-1zM134.9 546.91h1v11.66h-1zM135.9 401.16h1v5.83h-1zM135.9 430.31h1v5.83h-1zM135.9 529.42h1v5.83h-1zM135.9 593.55h1v5.83h-1zM135.9 611.04h1v5.83h-1zM136.9 412.82h1v5.83h-1zM136.9 436.14h1v11.66h-1zM136.9 453.63h1v5.83h-1zM136.9 465.29h1v5.83h-1zM136.9 517.76h1v11.66h-1zM136.9 535.25h1v5.83h-1zM136.9 546.91h1v11.66h-1zM136.9 587.72h1v17.49h-1zM136.9 616.87h1v5.83h-1zM137.9 418.65h1v5.83h-1zM137.9 471.12h1v5.83h-1zM137.9 488.61h1v5.83h-1zM137.9 616.87h1v5.83h-1zM138.9 401.16h1v11.66h-1zM138.9 424.48h1v11.66h-1zM138.9 476.95h1v5.83h-1zM138.9 511.93h1v5.83h-1zM138.9 529.42h1v5.83h-1zM138.9 541.08h1v5.83h-1zM138.9 587.72h1v5.83h-1zM139.9 406.99h1v5.83h-1zM139.9 447.8h1v5.83h-1zM139.9 459.46h1v5.83h-1zM139.9 471.12h1v5.83h-1zM139.9 482.78h1v11.66h-1zM139.9 506.1h1v5.83h-1zM139.9 523.59h1v23.32h-1zM139.9 593.55h1v5.83h-1zM139.9 611.04h1v5.83h-1zM140.9 395.33h1v5.83h-1zM140.9 459.46h1v5.83h-1zM140.9 471.12h1v17.49h-1zM140.9 535.25h1v11.66h-1zM140.9 558.57h1v11.66h-1zM140.9 587.72h1v11.66h-1zM140.9 605.21h1v11.66h-1zM141.9 395.33h1v5.83h-1zM141.9 412.82h1v5.83h-1zM141.9 430.31h1v5.83h-1zM141.9 459.46h1v5.83h-1zM141.9 488.61h1v5.83h-1zM141.9 511.93h1v5.83h-1zM141.9 523.59h1v5.83h-1zM141.9 535.25h1v11.66h-1zM141.9 552.74h1v11.66h-1zM141.9 570.23h1v17.49h-1zM141.9 611.04h1v5.83h-1zM142.9 395.33h1v5.83h-1zM142.9 441.97h1v5.83h-1zM142.9 471.12h1v5.83h-1zM142.9 494.44h1v5.83h-1zM142.9 511.93h1v5.83h-1zM142.9 523.59h1v5.83h-1zM142.9 546.91h1v11.66h-1zM142.9 576.06h1v5.83h-1zM143.9 401.16h1v17.49h-1zM143.9 430.31h1v5.83h-1zM143.9 471.12h1v5.83h-1zM143.9 511.93h1v17.49h-1zM143.9 576.06h1v5.83h-1zM143.9 616.87h1v5.83h-1zM144.9 395.33h1v5.83h-1zM144.9 523.59h1v5.83h-1zM144.9 546.91h1v5.83h-1zM144.9 581.89h1v5.83h-1zM145.9 395.33h1v5.83h-1zM145.9 412.82h1v5.83h-1zM145.9 436.14h1v5.83h-1zM145.9 453.63h1v5.83h-1zM145.9 529.42h1v5.83h-1zM145.9 552.74h1v5.83h-1zM145.9 593.55h1v5.83h-1zM146.9 453.63h1v5.83h-1zM146.9 471.12h1v5.83h-1zM146.9 523.59h1v5.83h-1zM146.9 593.55h1v17.49h-1zM147.9 389.5h1v5.83h-1zM147.9 401.16h1v5.83h-1zM147.9 412.82h1v11.66h-1zM147.9 476.95h1v11.66h-1zM147.9 541.08h1v5.83h-1zM147.9 576.06h1v5.83h-1zM147.9 611.04h1v5.83h-1zM148.9 406.99h1v11.66h-1zM148.9 453.63h1v5.83h-1zM148.9 488.61h1v5.83h-1zM148.9 511.93h1v17.49h-1zM148.9 535.25h1v11.66h-1zM148.9 552.74h1v5.83h-1zM148.9 576.06h1v11.66h-1zM148.9 593.55h1v11.66h-1zM149.9 389.5h1v5.83h-1zM149.9 441.97h1v5.83h-1zM149.9 476.95h1v5.83h-1zM149.9 506.1h1v5.83h-1zM149.9 517.76h1v11.66h-1zM149.9 541.08h1v5.83h-1zM149.9 605.21h1v5.83h-1zM149.9 616.87h1v5.83h-1zM150.9 587.72h1v5.83h-1zM151.9 401.16h1v5.83h-1zM151.9 430.31h1v5.83h-1zM151.9 500.27h1v5.83h-1zM151.9 541.08h1v17.49h-1zM151.9 587.72h1v5.83h-1zM151.9 616.87h1v5.83h-1zM152.9 395.33h1v5.83h-1zM152.9 500.27h1v5.83h-1zM152.9 523.59h1v5.83h-1zM152.9 552.74h1v17.49h-1zM152.9 593.55h1v11.66h-1zM153.9 546.91h1v5.83h-1zM154.9 389.5h1v5.83h-1zM154.9 441.97h1v5.83h-1zM154.9 488.61h1v5.83h-1zM154.9 535.25h1v5.83h-1zM154.9 570.23h1v5.83h-1zM155.9 389.5h1v5.83h-1zM155.9 418.65h1v11.66h-1zM155.9 517.76h1v5.83h-1zM155.9 529.42h1v11.66h-1zM155.9 570.23h1v5.83h-1zM155.9 587.72h1v5.83h-1zM156.9 389.5h1v11.66h-1zM156.9 412.82h1v5.83h-1zM156.9 424.48h1v5.83h-1zM156.9 441.97h1v5.83h-1zM156.9 465.29h1v5.83h-1zM156.9 476.95h1v17.49h-1zM156.9 500.27h1v17.49h-1zM156.9 535.25h1v11.66h-1zM156.9 581.89h1v5.83h-1zM156.9 605.21h1v11.66h-1zM157.9 389.5h1v5.83h-1zM157.9 406.99h1v23.32h-1zM157.9 471.12h1v11.66h-1zM157.9 488.61h1v5.83h-1zM157.9 511.93h1v5.83h-1zM157.9 529.42h1v5.83h-1zM157.9 541.08h1v5.83h-1zM157.9 558.57h1v5.83h-1zM157.9 570.23h1v11.66h-1zM157.9 599.38h1v5.83h-1zM158.9 494.44h1v5.83h-1zM158.9 529.42h1v5.83h-1zM158.9 546.91h1v5.83h-1zM158.9 570.23h1v17.49h-1zM159.9 406.99h1v11.66h-1zM159.9 482.78h1v5.83h-1zM159.9 494.44h1v11.66h-1zM159.9 517.76h1v5.83h-1zM159.9 529.42h1v5.83h-1zM159.9 541.08h1v5.83h-1zM159.9 564.4h1v17.49h-1zM159.9 593.55h1v11.66h-1zM159.9 616.87h1v5.83h-1zM160.9 395.33h1v5.83h-1zM160.9 412.82h1v11.66h-1zM160.9 430.31h1v5.83h-1zM160.9 465.29h1v5.83h-1zM160.9 488.61h1v5.83h-1zM160.9 517.76h1v5.83h-1zM160.9 529.42h1v5.83h-1zM160.9 541.08h1v5.83h-1zM160.9 576.06h1v5.83h-1zM160.9 599.38h1v5.83h-1zM160.9 611.04h1v5.83h-1zM161.9 389.5h1v5.83h-1zM161.9 412.82h1v5.83h-1zM161.9 424.48h1v5.83h-1zM161.9 441.97h1v11.66h-1zM161.9 482.78h1v5.83h-1zM161.9 500.27h1v5.83h-1zM162.9 453.63h1v5.83h-1zM162.9 500.27h1v5.83h-1zM162.9 593.55h1v5.83h-1zM163.9 412.82h1v5.83h-1zM163.9 436.14h1v5.83h-1zM163.9 465.29h1v11.66h-1zM163.9 482.78h1v11.66h-1zM163.9 511.93h1v11.66h-1zM163.9 541.08h1v5.83h-1zM163.9 564.4h1v11.66h-1zM163.9 587.72h1v5.83h-1zM164.9 436.14h1v5.83h-1zM164.9 506.1h1v5.83h-1zM164.9 529.42h1v5.83h-1zM164.9 541.08h1v5.83h-1zM164.9 552.74h1v5.83h-1zM164.9 564.4h1v5.83h-1zM164.9 587.72h1v5.83h-1zM164.9 616.87h1v5.83h-1zM165.9 395.33h1v5.83h-1zM165.9 436.14h1v5.83h-1zM165.9 500.27h1v5.83h-1zM165.9 523.59h1v5.83h-1zM165.9 541.08h1v5.83h-1zM165.9 558.57h1v5.83h-1zM165.9 587.72h1v5.83h-1zM165.9 616.87h1v5.83h-1zM167.9 441.97h1v5.83h-1zM167.9 459.46h1v5.83h-1zM167.9 511.93h1v11.66h-1zM167.9 529.42h1v5.83h-1zM167.9 546.91h1v11.66h-1zM167.9 564.4h1v5.83h-1zM167.9 599.38h1v5.83h-1zM168.9 441.97h1v5.83h-1zM168.9 471.12h1v17.49h-1zM168.9 535.25h1v5.83h-1zM168.9 587.72h1v11.66h-1zM168.9 605.21h1v5.83h-1zM169.9 389.5h1v11.66h-1zM169.9 418.65h1v5.83h-1zM169.9 430.31h1v5.83h-1zM169.9 453.63h1v5.83h-1zM169.9 471.12h1v5.83h-1zM169.9 482.78h1v5.83h-1zM169.9 546.91h1v11.66h-1zM170.9 389.5h1v5.83h-1zM170.9 436.14h1v5.83h-1zM170.9 453.63h1v5.83h-1zM170.9 506.1h1v11.66h-1zM170.9 546.91h1v5.83h-1zM170.9 570.23h1v5.83h-1zM170.9 605.21h1v5.83h-1zM171.9 395.33h1v11.66h-1zM171.9 430.31h1v11.66h-1zM171.9 459.46h1v11.66h-1zM171.9 482.78h1v5.83h-1zM171.9 523.59h1v5.83h-1zM171.9 564.4h1v5.83h-1zM171.9 587.72h1v11.66h-1zM172.9 406.99h1v5.83h-1zM173.9 389.5h1v11.66h-1zM173.9 424.48h1v11.66h-1zM173.9 441.97h1v5.83h-1zM173.9 471.12h1v5.83h-1zM173.9 482.78h1v5.83h-1zM173.9 587.72h1v5.83h-1zM173.9 616.87h1v5.83h-1zM174.9 389.5h1v5.83h-1zM174.9 401.16h1v5.83h-1zM174.9 418.65h1v5.83h-1zM174.9 459.46h1v5.83h-1zM174.9 500.27h1v5.83h-1zM174.9 517.76h1v11.66h-1zM174.9 535.25h1v5.83h-1zM174.9 552.74h1v5.83h-1zM174.9 576.06h1v5.83h-1zM175.9 395.33h1v5.83h-1zM175.9 424.48h1v5.83h-1zM175.9 441.97h1v5.83h-1zM175.9 465.29h1v5.83h-1zM175.9 494.44h1v5.83h-1zM175.9 581.89h1v5.83h-1zM176.9 436.14h1v5.83h-1zM176.9 447.8h1v5.83h-1zM176.9 465.29h1v11.66h-1zM176.9 587.72h1v5.83h-1zM177.9 401.16h1v5.83h-1zM177.9 424.48h1v5.83h-1zM177.9 546.91h1v5.83h-1zM177.9 564.4h1v5.83h-1zM177.9 587.72h1v5.83h-1zM178.9 395.33h1v11.66h-1zM178.9 441.97h1v5.83h-1zM178.9 453.63h1v5.83h-1zM178.9 471.12h1v5.83h-1zM178.9 506.1h1v5.83h-1zM178.9 593.55h1v5.83h-1zM179.9 412.82h1v5.83h-1zM179.9 424.48h1v11.66h-1zM179.9 441.97h1v5.83h-1zM179.9 476.95h1v5.83h-1zM179.9 494.44h1v5.83h-1zM179.9 523.59h1v5.83h-1zM179.9 546.91h1v11.66h-1zM179.9 581.89h1v5.83h-1zM180.9 511.93h1v5.83h-1zM180.9 523.59h1v5.83h-1zM180.9 541.08h1v5.83h-1zM180.9 558.57h1v17.49h-1zM180.9 599.38h1v23.32h-1zM181.9 395.33h1v5.83h-1zM181.9 406.99h1v5.83h-1zM181.9 430.31h1v5.83h-1zM181.9 441.97h1v11.66h-1zM181.9 459.46h1v5.83h-1zM181.9 471.12h1v5.83h-1zM181.9 494.44h1v5.83h-1zM181.9 506.1h1v5.83h-1zM181.9 546.91h1v11.66h-1zM181.9 587.72h1v5.83h-1zM181.9 611.04h1v5.83h-1zM182.9 395.33h1v5.83h-1zM182.9 412.82h1v5.83h-1zM182.9 424.48h1v5.83h-1zM182.9 465.29h1v5.83h-1zM182.9 506.1h1v5.83h-1zM182.9 535.25h1v5.83h-1zM182.9 570.23h1v5.83h-1zM183.9 389.5h1v11.66h-1zM183.9 418.65h1v5.83h-1zM183.9 430.31h1v5.83h-1zM183.9 453.63h1v23.32h-1zM183.9 529.42h1v5.83h-1zM184.9 401.16h1v5.83h-1zM184.9 529.42h1v5.83h-1zM184.9 541.08h1v5.83h-1zM184.9 581.89h1v5.83h-1zM184.9 611.04h1v5.83h-1zM185.9 389.5h1v5.83h-1zM185.9 401.16h1v5.83h-1zM185.9 412.82h1v11.66h-1zM185.9 441.97h1v11.66h-1zM185.9 465.29h1v5.83h-1zM185.9 476.95h1v5.83h-1zM185.9 494.44h1v5.83h-1zM186.9 401.16h1v5.83h-1zM186.9 412.82h1v17.49h-1zM186.9 447.8h1v5.83h-1zM186.9 517.76h1v5.83h-1zM186.9 616.87h1v5.83h-1zM187.9 424.48h1v5.83h-1zM187.9 587.72h1v5.83h-1zM188.9 418.65h1v5.83h-1zM188.9 430.31h1v5.83h-1zM189.9 424.48h1v5.83h-1zM189.9 523.59h1v11.66h-1zM189.9 605.21h1v5.83h-1zM190.9 395.33h1v5.83h-1zM190.9 412.82h1v5.83h-1zM190.9 424.48h1v11.66h-1zM190.9 441.97h1v11.66h-1zM191.9 401.16h1v5.83h-1zM191.9 424.48h1v5.83h-1zM191.9 482.78h1v5.83h-1zM192.9 424.48h1v5.83h-1zM192.9 441.97h1v11.66h-1zM192.9 506.1h1v5.83h-1zM192.9 529.42h1v5.83h-1zM192.9 558.57h1v5.83h-1zM192.9 587.72h1v5.83h-1zM192.9 605.21h1v5.83h-1zM193.9 406.99h1v11.66h-1zM193.9 436.14h1v11.66h-1zM193.9 459.46h1v5.83h-1zM193.9 482.78h1v11.66h-1zM194.9 406.99h1v5.83h-1zM194.9 418.65h1v17.49h-1zM194.9 447.8h1v5.83h-1zM194.9 459.46h1v11.66h-1zM194.9 476.95h1v5.83h-1zM194.9 494.44h1v5.83h-1zM195.9 406.99h1v5.83h-1zM195.9 459.46h1v5.83h-1zM195.9 494.44h1v11.66h-1zM195.9 546.91h1v5.83h-1zM196.9 511.93h1v5.83h-1zM196.9 523.59h1v5.83h-1zM196.9 541.08h1v5.83h-1zM196.9 564.4h1v5.83h-1zM196.9 611.04h1v5.83h-1zM197.9 418.65h1v5.83h-1zM197.9 447.8h1v11.66h-1zM197.9 581.89h1v5.83h-1zM198.9 389.5h1v5.83h-1zM198.9 412.82h1v5.83h-1zM198.9 465.29h1v5.83h-1zM198.9 488.61h1v11.66h-1zM198.9 570.23h1v5.83h-1zM199.9 406.99h1v5.83h-1zM199.9 471.12h1v5.83h-1zM199.9 546.91h1v11.66h-1zM199.9 611.04h1v5.83h-1zM200.9 395.33h1v5.83h-1zM200.9 418.65h1v5.83h-1zM200.9 488.61h1v17.49h-1zM201.9 389.5h1v5.83h-1zM201.9 401.16h1v17.49h-1zM201.9 436.14h1v5.83h-1zM201.9 459.46h1v11.66h-1zM201.9 482.78h1v5.83h-1zM201.9 494.44h1v11.66h-1zM202.9 523.59h1v5.83h-1zM202.9 570.23h1v5.83h-1zM202.9 593.55h1v5.83h-1zM203.9 389.5h1v5.83h-1zM203.9 412.82h1v5.83h-1zM203.9 441.97h1v11.66h-1zM203.9 546.91h1v5.83h-1zM204.9 412.82h1v5.83h-1zM204.9 430.31h1v11.66h-1zM204.9 476.95h1v5.83h-1zM204.9 494.44h1v5.83h-1zM205.9 500.27h1v5.83h-1zM206.9 430.31h1v5.83h-1zM206.9 459.46h1v5.83h-1zM206.9 529.42h1v5.83h-1zM206.9 541.08h1v5.83h-1zM207.9 389.5h1v11.66h-1zM207.9 441.97h1v5.83h-1zM207.9 459.46h1v5.83h-1zM207.9 494.44h1v5.83h-1zM208.9 395.33h1v11.66h-1zM208.9 412.82h1v17.49h-1zM208.9 471.12h1v5.83h-1zM208.9 494.44h1v11.66h-1zM209.9 541.08h1v5.83h-1zM210.9 401.16h1v5.83h-1zM210.9 476.95h1v5.83h-1zM210.9 511.93h1v5.83h-1zM210.9 529.42h1v5.83h-1zM210.9 570.23h1v5.83h-1zM210.9 587.72h1v5.83h-1zM210.9 611.04h1v5.83h-1zM211.9 412.82h1v5.83h-1zM211.9 430.31h1v5.83h-1zM211.9 447.8h1v5.83h-1zM211.9 471.12h1v11.66h-1zM211.9 488.61h1v5.83h-1zM212.9 401.16h1v17.49h-1zM212.9 424.48h1v11.66h-1zM212.9 476.95h1v5.83h-1zM212.9 494.44h1v5.83h-1zM212.9 570.23h1v5.83h-1zM212.9 581.89h1v5.83h-1zM213.9 389.5h1v5.83h-1zM214.9 447.8h1v5.83h-1zM215.9 412.82h1v5.83h-1zM215.9 441.97h1v5.83h-1zM215.9 529.42h1v5.83h-1zM217.9 406.99h1v11.66h-1zM217.9 447.8h1v5.83h-1zM217.9 476.95h1v5.83h-1zM218.9 401.16h1v11.66h-1zM218.9 465.29h1v5.83h-1zM218.9 476.95h1v11.66h-1zM218.9 546.91h1v5.83h-1zM219.9 389.5h1v5.83h-1zM219.9 418.65h1v5.83h-1zM219.9 430.31h1v5.83h-1zM219.9 453.63h1v5.83h-1zM219.9 476.95h1v5.83h-1zM219.9 494.44h1v5.83h-1zM219.9 511.93h1v5.83h-1zM219.9 523.59h1v5.83h-1zM219.9 581.89h1v5.83h-1zM219.9 599.38h1v17.49h-1zM220.9 412.82h1v5.83h-1zM221.9 546.91h1v5.83h-1zM221.9 611.04h1v5.83h-1zM222.9 418.65h1v17.49h-1zM222.9 441.97h1v5.83h-1zM222.9 471.12h1v5.83h-1zM222.9 482.78h1v5.83h-1zM223.9 389.5h1v5.83h-1zM223.9 401.16h1v5.83h-1zM223.9 412.82h1v11.66h-1zM223.9 523.59h1v5.83h-1zM223.9 587.72h1v5.83h-1zM225.9 424.48h1v5.83h-1zM225.9 546.91h1v5.83h-1zM226.9 389.5h1v5.83h-1zM226.9 406.99h1v5.83h-1zM226.9 465.29h1v11.66h-1zM227.9 552.74h1v5.83h-1zM228.9 546.91h1v11.66h-1zM228.9 570.23h1v5.83h-1zM230.9 453.63h1v11.66h-1zM230.9 471.12h1v17.49h-1zM230.9 494.44h1v5.83h-1zM231.9 389.5h1v5.83h-1zM231.9 412.82h1v5.83h-1zM231.9 482.78h1v5.83h-1zM232.9 482.78h1v5.83h-1zM233.9 546.91h1v5.83h-1zM233.9 587.72h1v5.83h-1zM235.9 406.99h1v11.66h-1zM235.9 465.29h1v5.83h-1zM235.9 500.27h1v5.83h-1zM237.9 401.16h1v5.83h-1zM237.9 441.97h1v11.66h-1zM237.9 476.95h1v5.83h-1zM238.9 424.48h1v5.83h-1zM238.9 447.8h1v5.83h-1zM239.9 412.82h1v5.83h-1zM239.9 447.8h1v5.83h-1zM240.9 412.82h1v5.83h-1zM242.9 418.65h1v5.83h-1zM242.9 430.31h1v5.83h-1zM242.9 447.8h1v5.83h-1zM242.9 465.29h1v11.66h-1zM242.9 488.61h1v5.83h-1zM243.9 389.5h1v5.83h-1zM243.9 459.46h1v5.83h-1zM243.9 494.44h1v5.83h-1zM244.9 459.46h1v5.83h-1zM245.9 447.8h1v5.83h-1zM246.9 406.99h1v17.49h-1zM246.9 430.31h1v5.83h-1zM246.9 441.97h1v5.83h-1zM246.9 453.63h1v29.15h-1zM246.9 488.61h1v11.66h-1zM256.9 389.5h1v5.83h-1zM256.9 412.82h1v5.83h-1zM256.9 424.48h1v5.83h-1zM256.9 459.46h1v5.83h-1zM256.9 581.89h1v5.83h-1zM257.9 401.16h1v5.83h-1zM257.9 447.8h1v5.83h-1zM257.9 471.12h1v5.83h-1zM260.9 471.12h1v5.83h-1zM260.9 517.76h1v5.83h-1zM260.9 541.08h1v5.83h-1zM260.9 552.74h1v5.83h-1zM260.9 576.06h1v5.83h-1zM260.9 593.55h1v5.83h-1zM260.9 616.87h1v5.83h-1zM263.9 389.5h1v17.49h-1zM263.9 418.65h1v5.83h-1zM263.9 476.95h1v5.83h-1zM264.9 453.63h1v5.83h-1zM265.9 570.23h1v5.83h-1z"/>
<path fill="#f7f9fd" d="M56.9 459.46h1v5.83h-1zM57.9 453.63h1v5.83h-1zM57.9 535.25h1v5.83h-1zM58.9 436.14h1v5.83h-1zM58.9 500.27h1v5.83h-1zM60.9 418.65h1v5.83h-1zM60.9 476.95h1v5.83h-1zM60.9 517.76h1v5.83h-1zM60.9 558.57h1v11.66h-1zM63.9 494.44h1v5.83h-1zM63.9 599.38h1v5.83h-1zM65.9 453.63h1v5.83h-1zM66.9 430.31h1v5.83h-1zM66.9 465.29h1v5.83h-1zM66.9 511.93h1v5.83h-1zM66.9 599.38h1v5.83h-1zM68.9 552.74h1v5.83h-1zM72.9 471.12h1v5.83h-1zM72.9 494.44h1v5.83h-1zM74.9 436.14h1v5.83h-1zM76.9 389.5h1v5.83h-1zM76.9 418.65h1v11.66h-1zM76.9 453.63h1v5.83h-1zM76.9 476.95h1v5.83h-1zM76.9 488.61h1v5.83h-1zM76.9 500.27h1v5.83h-1zM77.9 424.48h1v5.83h-1zM77.9 476.95h1v5.83h-1zM77.9 500.27h1v5.83h-1zM78.9 401.16h1v5.83h-1zM78.9 430.31h1v5.83h-1zM78.9 476.95h1v11.66h-1zM81.9 395.33h1v5.83h-1zM81.9 436.14h1v5.83h-1zM81.9 465.29h1v5.83h-1zM81.9 494.44h1v5.83h-1zM82.9 453.63h1v5.83h-1zM83.9 389.5h1v5.83h-1zM83.9 441.97h1v5.83h-1zM83.9 453.63h1v5.83h-1zM83.9 552.74h1v5.83h-1zM85.9 593.55h1v5.83h-1zM86.9 453.63h1v5.83h-1zM86.9 488.61h1v5.83h-1zM87.9 401.16h1v5.83h-1zM87.9 412.82h1v5.83h-1zM87.9 436.14h1v5.83h-1zM88.9 511.93h1v11.66h-1zM88.9 541.08h1v5.83h-1zM88.9 558.57h1v11.66h-1zM88.9 599.38h1v5.83h-1zM89.9 430.31h1v5.83h-1zM89.9 558.57h1v5.83h-1zM89.9 576.06h1v11.66h-1zM90.9 430.31h1v5.83h-1zM90.9 441.97h1v5.83h-1zM90.9 465.29h1v5.83h-1zM90.9 494.44h1v11.66h-1zM91.9 482.78h1v5.83h-1zM92.9 389.5h1v5.83h-1zM92.9 465.29h1v5.83h-1zM92.9 476.95h1v5.83h-1zM94.9 418.65h1v5.83h-1zM94.9 441.97h1v5.83h-1zM94.9 476.95h1v5.83h-1zM94.9 488.61h1v5.83h-1zM95.9 395.33h1v5.83h-1zM95.9 447.8h1v5.83h-1zM97.9 430.31h1v11.66h-1zM97.9 453.63h1v5.83h-1zM97.9 476.95h1v5.83h-1zM98.9 430.31h1v5.83h-1zM98.9 441.97h1v5.83h-1zM99.9 476.95h1v5.83h-1zM100.9 395.33h1v5.83h-1zM100.9 436.14h1v5.83h-1zM100.9 482.78h1v5.83h-1zM100.9 500.27h1v5.83h-1zM101.9 389.5h1v5.83h-1zM101.9 401.16h1v5.83h-1zM101.9 436.14h1v5.83h-1zM101.9 500.27h1v5.83h-1zM101.9 511.93h1v5.83h-1zM102.9 401.16h1v5.83h-1zM102.9 436.14h1v5.83h-1zM102.9 488.61h1v5.83h-1zM103.9 401.16h1v5.83h-1zM103.9 412.82h1v5.83h-1zM103.9 424.48h1v5.83h-1zM103.9 447.8h1v17.49h-1zM103.9 476.95h1v5.83h-1zM103.9 500.27h1v5.83h-1zM104.9 401.16h1v5.83h-1zM104.9 441.97h1v11.66h-1zM104.9 459.46h1v5.83h-1zM105.9 401.16h1v11.66h-1zM105.9 424.48h1v5.83h-1zM105.9 459.46h1v5.83h-1zM105.9 500.27h1v5.83h-1zM106.9 424.48h1v11.66h-1zM106.9 471.12h1v5.83h-1zM106.9 482.78h1v5.83h-1zM106.9 494.44h1v5.83h-1zM106.9 529.42h1v5.83h-1zM107.9 488.61h1v5.83h-1zM107.9 500.27h1v5.83h-1zM108.9 418.65h1v5.83h-1zM108.9 441.97h1v5.83h-1zM108.9 453.63h1v5.83h-1zM108.9 494.44h1v5.83h-1zM109.9 418.65h1v5.83h-1zM109.9 453.63h1v5.83h-1zM109.9 482.78h1v5.83h-1zM109.9 494.44h1v5.83h-1zM109.9 517.76h1v5.83h-1zM110.9 401.16h1v5.83h-1zM110.9 424.48h1v5.83h-1zM110.9 447.8h1v5.83h-1zM110.9 471.12h1v5.83h-1zM110.9 494.44h1v5.83h-1zM111.9 418.65h1v5.83h-1zM111.9 436.14h1v17.49h-1zM111.9 488.61h1v5.83h-1zM111.9 599.38h1v5.83h-1zM112.9 389.5h1v5.83h-1zM112.9 430.31h1v5.83h-1zM112.9 476.95h1v5.83h-1zM112.9 488.61h1v17.49h-1zM113.9 436.14h1v11.66h-1zM113.9 488.61h1v5.83h-1zM114.9 389.5h1v5.83h-1zM114.9 412.82h1v5.83h-1zM114.9 430.31h1v5.83h-1zM114.9 447.8h1v5.83h-1zM114.9 459.46h1v11.66h-1zM114.9 476.95h1v5.83h-1zM114.9 500.27h1v5.83h-1zM115.9 401.16h1v5.83h-1zM115.9 424.48h1v5.83h-1zM115.9 482.78h1v17.49h-1zM116.9 412.82h1v5.83h-1zM116.9 441.97h1v11.66h-1zM116.9 465.29h1v11.66h-1zM116.9 494.44h1v11.66h-1zM117.9 389.5h1v5.83h-1zM117.9 401.16h1v17.49h-1zM117.9 459.46h1v5.83h-1zM118.9 401.16h1v11.66h-1zM118.9 447.8h1v5.83h-1zM118.9 558.57h1v5.83h-1zM118.9 570.23h1v5.83h-1zM118.9 605.21h1v5.83h-1zM119.9 389.5h1v5.83h-1zM119.9 401.16h1v5.83h-1zM119.9 447.8h1v5.83h-1zM119.9 471.12h1v5.83h-1zM120.9 395.33h1v17.49h-1zM120.9 418.65h1v11.66h-1zM120.9 436.14h1v5.83h-1zM120.9 488.61h1v5.83h-1zM121.9 395.33h1v5.83h-1zM121.9 406.99h1v5.83h-1zM121.9 424.48h1v11.66h-1zM121.9 447.8h1v5.83h-1zM121.9 482.78h1v5.83h-1zM121.9 494.44h1v5.83h-1zM121.9 506.1h1v5.83h-1zM121.9 517.76h1v5.83h-1zM122.9 430.31h1v5.83h-1zM122.9 482.78h1v11.66h-1zM122.9 523.59h1v5.83h-1zM122.9 611.04h1v5.83h-1zM123.9 389.5h1v5.83h-1zM123.9 441.97h1v11.66h-1zM123.9 465.29h1v5.83h-1zM123.9 482.78h1v5.83h-1zM123.9 511.93h1v5.83h-1zM123.9 552.74h1v5.83h-1zM123.9 599.38h1v5.83h-1zM123.9 616.87h1v5.83h-1zM124.9 412.82h1v17.49h-1zM124.9 453.63h1v5.83h-1zM124.9 471.12h1v5.83h-1zM124.9 488.61h1v5.83h-1zM124.9 558.57h1v5.83h-1zM125.9 424.48h1v11.66h-1zM125.9 476.95h1v5.83h-1zM125.9 611.04h1v5.83h-1zM126.9 418.65h1v11.66h-1zM126.9 441.97h1v5.83h-1zM126.9 465.29h1v11.66h-1zM126.9 535.25h1v5.83h-1zM126.9 576.06h1v5.83h-1zM126.9 593.55h1v5.83h-1zM127.9 401.16h1v5.83h-1zM127.9 424.48h1v5.83h-1zM127.9 453.63h1v11.66h-1zM127.9 500.27h1v5.83h-1zM128.9 506.1h1v5.83h-1zM128.9 523.59h1v5.83h-1zM128.9 535.25h1v5.83h-1zM128.9 546.91h1v5.83h-1zM128.9 564.4h1v11.66h-1zM128.9 587.72h1v11.66h-1zM128.9 616.87h1v5.83h-1zM129.9 430.31h1v5.83h-1zM129.9 494.44h1v5.83h-1zM129.9 517.76h1v5.83h-1zM129.9 535.25h1v5.83h-1zM129.9 576.06h1v5.83h-1zM129.9 587.72h1v5.83h-1zM129.9 605.21h1v5.83h-1zM129.9 616.87h1v5.83h-1zM130.9 412.82h1v5.83h-1zM130.9 447.8h1v5.83h-1zM131.9 401.16h1v5.83h-1zM131.9 412.82h1v5.83h-1zM131.9 430.31h1v5.83h-1zM131.9 465.29h1v5.83h-1zM131.9 535.25h1v5.83h-1zM131.9 576.06h1v5.83h-1zM131.9 605.21h1v11.66h-1zM132.9 395.33h1v5.83h-1zM132.9 406.99h1v5.83h-1zM132.9 424.48h1v11.66h-1zM132.9 441.97h1v5.83h-1zM132.9 476.95h1v5.83h-1zM132.9 541.08h1v5.83h-1zM132.9 593.55h1v5.83h-1zM132.9 611.04h1v5.83h-1zM133.9 389.5h1v5.83h-1zM133.9 401.16h1v5.83h-1zM133.9 529.42h1v5.83h-1zM133.9 593.55h1v5.83h-1zM134.9 389.5h1v23.32h-1zM134.9 418.65h1v5.83h-1zM134.9 500.27h1v5.83h-1zM134.9 558.57h1v11.66h-1zM134.9 581.89h1v5.83h-1zM135.9 412.82h1v5.83h-1zM135.9 424.48h1v5.83h-1zM135.9 558.57h1v5.83h-1zM135.9 581.89h1v5.83h-1zM135.9 616.87h1v5.83h-1zM136.9 389.5h1v5.83h-1zM136.9 401.16h1v5.83h-1zM136.9 418.65h1v17.49h-1zM136.9 447.8h1v5.83h-1zM136.9 471.12h1v5.83h-1zM136.9 558.57h1v5.83h-1zM136.9 605.21h1v5.83h-1zM137.9 389.5h1v5.83h-1zM137.9 406.99h1v11.66h-1zM137.9 459.46h1v5.83h-1zM137.9 494.44h1v11.66h-1zM137.9 552.74h1v5.83h-1zM137.9 593.55h1v5.83h-1zM138.9 570.23h1v11.66h-1zM139.9 389.5h1v5.83h-1zM139.9 517.76h1v5.83h-1zM139.9 570.23h1v5.83h-1zM139.9 616.87h1v5.83h-1zM140.9 389.5h1v5.83h-1zM140.9 406.99h1v11.66h-1zM140.9 441.97h1v5.83h-1zM140.9 494.44h1v11.66h-1zM140.9 552.74h1v5.83h-1zM140.9 576.06h1v5.83h-1zM141.9 389.5h1v5.83h-1zM141.9 406.99h1v5.83h-1zM141.9 418.65h1v5.83h-1zM141.9 500.27h1v5.83h-1zM141.9 605.21h1v5.83h-1zM142.9 465.29h1v5.83h-1zM142.9 564.4h1v11.66h-1zM142.9 587.72h1v11.66h-1zM142.9 616.87h1v5.83h-1zM143.9 424.48h1v5.83h-1zM143.9 558.57h1v5.83h-1zM143.9 611.04h1v5.83h-1zM144.9 459.46h1v5.83h-1zM144.9 482.78h1v5.83h-1zM144.9 500.27h1v5.83h-1zM144.9 511.93h1v5.83h-1zM144.9 529.42h1v5.83h-1zM144.9 541.08h1v5.83h-1zM144.9 570.23h1v11.66h-1zM144.9 605.21h1v17.49h-1zM145.9 418.65h1v17.49h-1zM145.9 441.97h1v5.83h-1zM145.9 465.29h1v11.66h-1zM145.9 482.78h1v17.49h-1zM145.9 535.25h1v11.66h-1zM145.9 581.89h1v5.83h-1zM145.9 599.38h1v5.83h-1zM145.9 616.87h1v5.83h-1zM146.9 412.82h1v5.83h-1zM146.9 552.74h1v5.83h-1zM146.9 611.04h1v5.83h-1zM147.9 529.42h1v11.66h-1zM148.9 389.5h1v5.83h-1zM148.9 401.16h1v5.83h-1zM148.9 424.48h1v5.83h-1zM148.9 447.8h1v5.83h-1zM148.9 459.46h1v5.83h-1zM148.9 611.04h1v11.66h-1zM149.9 430.31h1v5.83h-1zM149.9 482.78h1v11.66h-1zM149.9 581.89h1v5.83h-1zM150.9 506.1h1v34.98h-1zM150.9 564.4h1v5.83h-1zM150.9 605.21h1v11.66h-1zM151.9 511.93h1v11.66h-1zM151.9 535.25h1v5.83h-1zM151.9 599.38h1v17.49h-1zM152.9 401.16h1v11.66h-1zM152.9 418.65h1v11.66h-1zM152.9 441.97h1v5.83h-1zM152.9 459.46h1v5.83h-1zM152.9 471.12h1v5.83h-1zM152.9 488.61h1v11.66h-1zM152.9 517.76h1v5.83h-1zM152.9 570.23h1v5.83h-1zM153.9 506.1h1v11.66h-1zM153.9 523.59h1v11.66h-1zM153.9 541.08h1v5.83h-1zM153.9 558.57h1v5.83h-1zM153.9 593.55h1v5.83h-1zM153.9 616.87h1v5.83h-1zM154.9 418.65h1v5.83h-1zM154.9 459.46h1v11.66h-1zM154.9 500.27h1v5.83h-1zM154.9 517.76h1v5.83h-1zM154.9 546.91h1v5.83h-1zM154.9 564.4h1v5.83h-1zM154.9 587.72h1v11.66h-1zM154.9 605.21h1v11.66h-1zM155.9 511.93h1v5.83h-1zM155.9 541.08h1v5.83h-1zM155.9 558.57h1v11.66h-1zM155.9 593.55h1v17.49h-1zM155.9 616.87h1v5.83h-1zM156.9 517.76h1v5.83h-1zM157.9 401.16h1v5.83h-1zM157.9 459.46h1v5.83h-1zM158.9 395.33h1v5.83h-1zM158.9 406.99h1v5.83h-1zM158.9 418.65h1v5.83h-1zM158.9 430.31h1v5.83h-1zM158.9 441.97h1v11.66h-1zM158.9 506.1h1v5.83h-1zM158.9 517.76h1v5.83h-1zM158.9 541.08h1v5.83h-1zM158.9 558.57h1v5.83h-1zM159.9 389.5h1v11.66h-1zM159.9 424.48h1v11.66h-1zM159.9 465.29h1v5.83h-1zM159.9 488.61h1v5.83h-1zM159.9 558.57h1v5.83h-1zM160.9 401.16h1v5.83h-1zM160.9 424.48h1v5.83h-1zM160.9 441.97h1v5.83h-1zM160.9 471.12h1v5.83h-1zM160.9 552.74h1v5.83h-1zM160.9 616.87h1v5.83h-1zM161.9 511.93h1v5.83h-1zM161.9 546.91h1v5.83h-1zM161.9 564.4h1v5.83h-1zM161.9 581.89h1v11.66h-1zM161.9 616.87h1v5.83h-1zM162.9 401.16h1v5.83h-1zM162.9 418.65h1v5.83h-1zM162.9 441.97h1v5.83h-1zM162.9 471.12h1v5.83h-1zM162.9 506.1h1v5.83h-1zM162.9 570.23h1v5.83h-1zM162.9 605.21h1v5.83h-1zM163.9 406.99h1v5.83h-1zM163.9 418.65h1v5.83h-1zM163.9 476.95h1v5.83h-1zM163.9 523.59h1v5.83h-1zM163.9 576.06h1v11.66h-1zM163.9 605.21h1v17.49h-1zM164.9 447.8h1v5.83h-1zM164.9 494.44h1v5.83h-1zM164.9 517.76h1v5.83h-1zM164.9 535.25h1v5.83h-1zM164.9 558.57h1v5.83h-1zM165.9 401.16h1v11.66h-1zM165.9 447.8h1v5.83h-1zM165.9 459.46h1v5.83h-1zM165.9 471.12h1v11.66h-1zM165.9 488.61h1v11.66h-1zM165.9 564.4h1v11.66h-1zM165.9 581.89h1v5.83h-1zM165.9 593.55h1v11.66h-1zM165.9 611.04h1v5.83h-1zM166.9 558.57h1v11.66h-1zM167.9 395.33h1v5.83h-1zM167.9 424.48h1v5.83h-1zM167.9 482.78h1v5.83h-1zM167.9 523.59h1v5.83h-1zM167.9 535.25h1v5.83h-1zM167.9 558.57h1v5.83h-1zM168.9 401.16h1v5.83h-1zM168.9 430.31h1v11.66h-1zM168.9 447.8h1v5.83h-1zM168.9 488.61h1v5.83h-1zM168.9 541.08h1v5.83h-1zM168.9 564.4h1v5.83h-1zM168.9 599.38h1v5.83h-1zM169.9 506.1h1v11.66h-1zM169.9 541.08h1v5.83h-1zM169.9 558.57h1v5.83h-1zM169.9 570.23h1v11.66h-1zM169.9 616.87h1v5.83h-1zM170.9 401.16h1v17.49h-1zM170.9 447.8h1v5.83h-1zM170.9 459.46h1v11.66h-1zM170.9 476.95h1v5.83h-1zM170.9 517.76h1v5.83h-1zM170.9 552.74h1v5.83h-1zM170.9 587.72h1v5.83h-1zM170.9 611.04h1v5.83h-1zM171.9 389.5h1v5.83h-1zM171.9 447.8h1v5.83h-1zM171.9 476.95h1v5.83h-1zM171.9 506.1h1v5.83h-1zM171.9 535.25h1v5.83h-1zM171.9 576.06h1v5.83h-1zM172.9 552.74h1v5.83h-1zM172.9 581.89h1v5.83h-1zM172.9 605.21h1v5.83h-1zM173.9 401.16h1v5.83h-1zM173.9 412.82h1v11.66h-1zM173.9 523.59h1v5.83h-1zM173.9 535.25h1v11.66h-1zM173.9 552.74h1v5.83h-1zM173.9 564.4h1v5.83h-1zM173.9 581.89h1v5.83h-1zM173.9 611.04h1v5.83h-1zM174.9 406.99h1v11.66h-1zM174.9 430.31h1v5.83h-1zM174.9 447.8h1v5.83h-1zM175.9 401.16h1v5.83h-1zM175.9 412.82h1v5.83h-1zM175.9 430.31h1v5.83h-1zM175.9 447.8h1v11.66h-1zM175.9 500.27h1v5.83h-1zM175.9 593.55h1v5.83h-1zM175.9 605.21h1v5.83h-1zM176.9 517.76h1v5.83h-1zM176.9 552.74h1v5.83h-1zM176.9 564.4h1v5.83h-1zM176.9 576.06h1v5.83h-1zM176.9 605.21h1v5.83h-1zM177.9 506.1h1v11.66h-1zM177.9 535.25h1v5.83h-1zM177.9 576.06h1v5.83h-1zM178.9 418.65h1v11.66h-1zM178.9 482.78h1v17.49h-1zM178.9 535.25h1v5.83h-1zM178.9 558.57h1v5.83h-1zM178.9 611.04h1v11.66h-1zM179.9 511.93h1v11.66h-1zM179.9 535.25h1v11.66h-1zM179.9 564.4h1v5.83h-1zM179.9 576.06h1v5.83h-1zM179.9 611.04h1v5.83h-1zM180.9 506.1h1v5.83h-1zM180.9 576.06h1v5.83h-1zM181.9 412.82h1v11.66h-1zM181.9 511.93h1v11.66h-1zM181.9 529.42h1v5.83h-1zM181.9 558.57h1v5.83h-1zM181.9 581.89h1v5.83h-1zM182.9 511.93h1v5.83h-1zM182.9 523.59h1v5.83h-1zM182.9 576.06h1v5.83h-1zM182.9 605.21h1v11.66h-1zM183.9 412.82h1v5.83h-1zM183.9 441.97h1v5.83h-1zM183.9 511.93h1v5.83h-1zM183.9 541.08h1v5.83h-1zM183.9 552.74h1v11.66h-1zM183.9 587.72h1v11.66h-1zM183.9 611.04h1v5.83h-1zM184.9 412.82h1v5.83h-1zM184.9 424.48h1v5.83h-1zM184.9 441.97h1v11.66h-1zM184.9 471.12h1v5.83h-1zM184.9 511.93h1v5.83h-1zM184.9 523.59h1v5.83h-1zM184.9 570.23h1v11.66h-1zM185.9 406.99h1v5.83h-1zM185.9 529.42h1v11.66h-1zM185.9 564.4h1v5.83h-1zM185.9 593.55h1v11.66h-1zM186.9 552.74h1v5.83h-1zM187.9 412.82h1v5.83h-1zM187.9 511.93h1v5.83h-1zM187.9 523.59h1v11.66h-1zM187.9 541.08h1v5.83h-1zM187.9 616.87h1v5.83h-1zM188.9 424.48h1v5.83h-1zM188.9 447.8h1v5.83h-1zM188.9 552.74h1v5.83h-1zM188.9 593.55h1v5.83h-1zM188.9 611.04h1v5.83h-1zM189.9 535.25h1v5.83h-1zM189.9 570.23h1v5.83h-1zM189.9 593.55h1v11.66h-1zM189.9 616.87h1v5.83h-1zM190.9 406.99h1v5.83h-1zM191.9 511.93h1v5.83h-1zM191.9 523.59h1v5.83h-1zM191.9 546.91h1v5.83h-1zM191.9 587.72h1v5.83h-1zM191.9 599.38h1v11.66h-1zM192.9 523.59h1v5.83h-1zM192.9 535.25h1v5.83h-1zM192.9 593.55h1v5.83h-1zM192.9 616.87h1v5.83h-1zM193.9 418.65h1v5.83h-1zM193.9 447.8h1v5.83h-1zM193.9 500.27h1v5.83h-1zM193.9 587.72h1v5.83h-1zM194.9 471.12h1v5.83h-1zM195.9 401.16h1v5.83h-1zM195.9 424.48h1v5.83h-1zM195.9 506.1h1v5.83h-1zM195.9 529.42h1v11.66h-1zM195.9 581.89h1v5.83h-1zM196.9 517.76h1v5.83h-1zM196.9 576.06h1v5.83h-1zM197.9 511.93h1v5.83h-1zM197.9 529.42h1v5.83h-1zM197.9 541.08h1v5.83h-1zM197.9 558.57h1v5.83h-1zM197.9 570.23h1v5.83h-1zM197.9 593.55h1v5.83h-1zM198.9 506.1h1v5.83h-1zM198.9 523.59h1v11.66h-1zM198.9 558.57h1v5.83h-1zM198.9 593.55h1v5.83h-1zM198.9 616.87h1v5.83h-1zM199.9 541.08h1v5.83h-1zM199.9 564.4h1v11.66h-1zM199.9 581.89h1v5.83h-1zM199.9 599.38h1v5.83h-1zM199.9 616.87h1v5.83h-1zM200.9 430.31h1v5.83h-1zM200.9 506.1h1v5.83h-1zM200.9 529.42h1v11.66h-1zM200.9 546.91h1v5.83h-1zM200.9 564.4h1v11.66h-1zM200.9 611.04h1v5.83h-1zM201.9 424.48h1v5.83h-1zM202.9 552.74h1v5.83h-1zM202.9 576.06h1v5.83h-1zM202.9 587.72h1v5.83h-1zM202.9 605.21h1v5.83h-1zM202.9 616.87h1v5.83h-1zM203.9 506.1h1v5.83h-1zM203.9 564.4h1v5.83h-1zM203.9 593.55h1v5.83h-1zM203.9 611.04h1v11.66h-1zM204.9 389.5h1v5.83h-1zM204.9 424.48h1v5.83h-1zM204.9 546.91h1v11.66h-1zM205.9 506.1h1v5.83h-1zM205.9 546.91h1v5.83h-1zM206.9 447.8h1v5.83h-1zM206.9 535.25h1v5.83h-1zM206.9 576.06h1v5.83h-1zM206.9 599.38h1v5.83h-1zM206.9 616.87h1v5.83h-1zM207.9 406.99h1v5.83h-1zM207.9 482.78h1v5.83h-1zM207.9 541.08h1v5.83h-1zM207.9 605.21h1v5.83h-1zM208.9 453.63h1v11.66h-1zM208.9 488.61h1v5.83h-1zM208.9 552.74h1v5.83h-1zM208.9 564.4h1v11.66h-1zM208.9 611.04h1v5.83h-1zM209.9 529.42h1v5.83h-1zM209.9 552.74h1v5.83h-1zM209.9 564.4h1v5.83h-1zM209.9 587.72h1v5.83h-1zM210.9 541.08h1v11.66h-1zM210.9 564.4h1v5.83h-1zM210.9 576.06h1v5.83h-1zM210.9 605.21h1v5.83h-1zM210.9 616.87h1v5.83h-1zM211.9 529.42h1v5.83h-1zM211.9 552.74h1v5.83h-1zM211.9 581.89h1v5.83h-1zM211.9 605.21h1v5.83h-1zM212.9 506.1h1v5.83h-1zM212.9 541.08h1v5.83h-1zM212.9 564.4h1v5.83h-1zM212.9 611.04h1v11.66h-1zM213.9 511.93h1v5.83h-1zM213.9 529.42h1v5.83h-1zM213.9 564.4h1v11.66h-1zM213.9 593.55h1v5.83h-1zM215.9 401.16h1v5.83h-1zM215.9 564.4h1v5.83h-1zM215.9 593.55h1v11.66h-1zM216.9 511.93h1v5.83h-1zM216.9 552.74h1v5.83h-1zM216.9 593.55h1v5.83h-1zM216.9 605.21h1v5.83h-1zM217.9 552.74h1v5.83h-1zM218.9 412.82h1v5.83h-1zM218.9 587.72h1v5.83h-1zM218.9 605.21h1v5.83h-1zM218.9 616.87h1v5.83h-1zM219.9 406.99h1v5.83h-1zM219.9 465.29h1v5.83h-1zM219.9 506.1h1v5.83h-1zM220.9 541.08h1v5.83h-1zM220.9 552.74h1v5.83h-1zM220.9 564.4h1v5.83h-1zM220.9 587.72h1v5.83h-1zM220.9 599.38h1v11.66h-1zM221.9 529.42h1v5.83h-1zM221.9 552.74h1v5.83h-1zM222.9 447.8h1v5.83h-1zM222.9 552.74h1v5.83h-1zM222.9 587.72h1v5.83h-1zM222.9 616.87h1v5.83h-1zM223.9 529.42h1v5.83h-1zM223.9 552.74h1v5.83h-1zM223.9 576.06h1v5.83h-1zM223.9 599.38h1v5.83h-1zM223.9 611.04h1v11.66h-1zM224.9 523.59h1v5.83h-1zM225.9 506.1h1v11.66h-1zM225.9 523.59h1v5.83h-1zM225.9 581.89h1v5.83h-1zM226.9 412.82h1v5.83h-1zM226.9 424.48h1v5.83h-1zM226.9 511.93h1v5.83h-1zM226.9 535.25h1v5.83h-1zM226.9 558.57h1v5.83h-1zM226.9 576.06h1v11.66h-1zM226.9 593.55h1v11.66h-1zM226.9 616.87h1v5.83h-1zM227.9 517.76h1v5.83h-1zM227.9 535.25h1v5.83h-1zM227.9 581.89h1v11.66h-1zM229.9 506.1h1v5.83h-1zM229.9 546.91h1v5.83h-1zM230.9 389.5h1v5.83h-1zM230.9 412.82h1v5.83h-1zM230.9 430.31h1v5.83h-1zM233.9 506.1h1v11.66h-1zM233.9 535.25h1v5.83h-1zM233.9 570.23h1v5.83h-1zM233.9 581.89h1v5.83h-1zM233.9 599.38h1v5.83h-1zM234.9 506.1h1v5.83h-1zM234.9 517.76h1v5.83h-1zM234.9 552.74h1v5.83h-1zM234.9 605.21h1v11.66h-1zM236.9 552.74h1v5.83h-1zM236.9 564.4h1v5.83h-1zM236.9 599.38h1v5.83h-1zM237.9 541.08h1v11.66h-1zM237.9 564.4h1v5.83h-1zM237.9 581.89h1v17.49h-1zM237.9 611.04h1v11.66h-1zM238.9 523.59h1v5.83h-1zM238.9 546.91h1v5.83h-1zM238.9 581.89h1v5.83h-1zM239.9 570.23h1v5.83h-1zM239.9 581.89h1v5.83h-1zM240.9 546.91h1v5.83h-1zM240.9 587.72h1v5.83h-1zM242.9 406.99h1v5.83h-1zM242.9 546.91h1v5.83h-1zM242.9 558.57h1v5.83h-1zM246.9 447.8h1v5.83h-1zM247.9 541.08h1v5.83h-1zM247.9 552.74h1v5.83h-1zM249.9 511.93h1v5.83h-1zM249.9 523.59h1v5.83h-1zM250.9 546.91h1v5.83h-1zM251.9 535.25h1v5.83h-1zM251.9 581.89h1v5.83h-1zM251.9 616.87h1v5.83h-1zM252.9 546.91h1v5.83h-1zM252.9 581.89h1v5.83h-1zM253.9 523.59h1v5.83h-1zM255.9 517.76h1v5.83h-1zM255.9 541.08h1v17.49h-1zM255.9 570.23h1v5.83h-1zM255.9 605.21h1v5.83h-1zM256.9 511.93h1v5.83h-1zM256.9 541.08h1v11.66h-1zM257.9 418.65h1v5.83h-1zM257.9 529.42h1v5.83h-1zM257.9 541.08h1v5.83h-1zM257.9 570.23h1v5.83h-1zM258.9 506.1h1v5.83h-1zM258.9 529.42h1v11.66h-1zM258.9 552.74h1v5.83h-1zM258.9 576.06h1v5.83h-1zM260.9 587.72h1v5.83h-1zM261.9 529.42h1v5.83h-1zM261.9 541.08h1v5.83h-1zM261.9 581.89h1v5.83h-1zM261.9 605.21h1v5.83h-1zM261.9 616.87h1v5.83h-1zM263.9 511.93h1v5.83h-1zM263.9 570.23h1v5.83h-1zM265.9 511.93h1v5.83h-1zM265.9 576.06h1v11.66h-1z"/>
<path fill="#a7bfe6" d="M67.9 412.82h1v5.83h-1zM268.9 511.93h1v5.83h-1zM268.9 564.4h1v5.83h-1zM269.9 581.89h1v5.83h-1zM270.9 570.23h1v5.83h-1zM270.9 593.55h1v11.66h-1zM270.9 611.04h1v5.83h-1zM271.9 511.93h1v11.66h-1zM271.9 546.91h1v5.83h-1z"/>
<path fill="#afc4e8" d="M245.9 535.25h1v5.83h-1zM270.9 517.76h1v17.49h-1zM270.9 546.91h1v5.83h-1zM270.9 558.57h1v5.83h-1zM270.9 587.72h1v5.83h-1zM270.9 616.87h1v5.83h-1z"/>
<path fill="#fab1ac" d="M268.9 389.5h1v5.83h-1zM269.9 389.5h1v5.83h-1zM269.9 412.82h1v5.83h-1zM269.9 424.48h1v5.83h-1zM269.9 436.14h1v5.83h-1zM269.9 447.8h1v5.83h-1zM270.9 389.5h1v5.83h-1zM270.9 401.16h1v5.83h-1zM270.9 453.63h1v11.66h-1zM271.9 418.65h1v5.83h-1zM271.9 453.63h1v11.66h-1zM271.9 482.78h1v5.83h-1z"/>
<path fill="#f9aba6" d="M268.9 395.33h1v5.83h-1zM268.9 441.97h1v5.83h-1zM268.9 459.46h1v5.83h-1zM268.9 476.95h1v5.83h-1zM269.9 401.16h1v5.83h-1zM269.9 430.31h1v5.83h-1zM269.9 441.97h1v5.83h-1zM269.9 459.46h1v5.83h-1zM269.9 476.95h1v5.83h-1zM270.9 395.33h1v5.83h-1zM270.9 482.78h1v5.83h-1zM270.9 500.27h1v5.83h-1zM271.9 401.16h1v5.83h-1zM271.9 412.82h1v5.83h-1zM271.9 465.29h1v5.83h-1zM271.9 488.61h1v5.83h-1z"/>
<path fill="#f8918a" d="M268.9 401.16h1v5.83h-1zM268.9 465.29h1v5.83h-1z"/>
<path fill="#f9a49f" d="M268.9 406.99h1v5.83h-1zM268.9 430.31h1v5.83h-1zM269.9 418.65h1v5.83h-1zM269.9 453.63h1v5.83h-1zM269.9 488.61h1v17.49h-1zM270.9 412.82h1v5.83h-1zM270.9 430.31h1v5.83h-1zM270.9 488.61h1v5.83h-1zM271.9 395.33h1v5.83h-1zM271.9 441.97h1v5.83h-1zM271.9 471.12h1v5.83h-1zM271.9 500.27h1v5.83h-1z"/>
<path fill="#f89791" d="M268.9 412.82h1v11.66h-1zM268.9 436.14h1v5.83h-1zM268.9 453.63h1v5.83h-1zM268.9 482.78h1v5.83h-1zM268.9 494.44h1v11.66h-1zM271.9 389.5h1v5.83h-1zM271.9 436.14h1v5.83h-1z"/>
<path fill="#f78a83" d="M268.9 424.48h1v5.83h-1zM268.9 447.8h1v5.83h-1z"/>
<path fill="#f99e98" d="M268.9 471.12h1v5.83h-1zM268.9 488.61h1v5.83h-1zM269.9 406.99h1v5.83h-1zM269.9 482.78h1v5.83h-1zM271.9 406.99h1v5.83h-1zM271.9 447.8h1v5.83h-1zM271.9 476.95h1v5.83h-1zM271.9 494.44h1v5.83h-1z"/>
<path fill="#97b3e2" d="M268.9 506.1h1v5.83h-1zM268.9 517.76h1v5.83h-1zM268.9 546.91h1v5.83h-1zM268.9 558.57h1v5.83h-1zM268.9 581.89h1v5.83h-1zM269.9 506.1h1v5.83h-1zM269.9 546.91h1v11.66h-1zM269.9 599.38h1v5.83h-1zM270.9 511.93h1v5.83h-1zM270.9 541.08h1v5.83h-1zM270.9 581.89h1v5.83h-1zM270.9 605.21h1v5.83h-1zM271.9 552.74h1v5.83h-1zM271.9 611.04h1v5.83h-1z"/>
<path fill="#87a7dd" d="M268.9 523.59h1v5.83h-1zM268.9 535.25h1v5.83h-1zM268.9 593.55h1v5.83h-1zM268.9 616.87h1v5.83h-1zM269.9 511.93h1v5.83h-1zM269.9 529.42h1v17.49h-1zM269.9 564.4h1v11.66h-1zM269.9 611.04h1v5.83h-1zM271.9 564.4h1v5.83h-1zM271.9 581.89h1v5.83h-1zM271.9 593.55h1v11.66h-1zM271.9 616.87h1v5.83h-1z"/>
<path fill="#8faddf" d="M268.9 529.42h1v5.83h-1zM269.9 523.59h1v5.83h-1zM269.9 576.06h1v5.83h-1zM269.9 587.72h1v5.83h-1zM269.9 605.21h1v5.83h-1zM269.9 616.87h1v5.83h-1zM270.9 506.1h1v5.83h-1zM270.9 552.74h1v5.83h-1zM270.9 564.4h1v5.83h-1zM270.9 576.06h1v5.83h-1zM271.9 506.1h1v5.83h-1zM271.9 523.59h1v5.83h-1zM271.9 541.08h1v5.83h-1zM271.9 558.57h1v5.83h-1zM271.9 587.72h1v5.83h-1zM271.9 605.21h1v5.83h-1z"/>
<path fill="#9fb9e4" d="M268.9 541.08h1v5.83h-1zM268.9 552.74h1v5.83h-1zM268.9 576.06h1v5.83h-1zM268.9 605.21h1v5.83h-1zM269.9 517.76h1v5.83h-1zM269.9 558.57h1v5.83h-1zM269.9 593.55h1v5.83h-1zM270.9 535.25h1v5.83h-1zM271.9 570.23h1v5.83h-1z"/>
<path fill="#7ea1db" d="M268.9 570.23h1v5.83h-1zM268.9 587.72h1v5.83h-1zM268.9 599.38h1v5.83h-1zM271.9 529.42h1v11.66h-1zM271.9 576.06h1v5.83h-1z"/>
<path fill="#769bd9" d="M268.9 611.04h1v5.83h-1z"/>
<path fill="#fab8b3" d="M269.9 395.33h1v5.83h-1zM269.9 465.29h1v11.66h-1zM270.9 418.65h1v11.66h-1zM270.9 436.14h1v5.83h-1zM270.9 447.8h1v5.83h-1zM271.9 424.48h1v11.66h-1z"/>
<text x="284.1" y="479.3" font-size="6.8" fill="#111">exp</text>
<defs><linearGradient id="gexp" x1="0" y1="0" x2="0" y2="1"><stop offset="0" stop-color="#f6827a"/><stop offset="0.25" stop-color="#f9c0b9"/><stop offset="0.46" stop-color="#ffffff"/><stop offset="0.7" stop-color="#a9bde6"/><stop offset="1" stop-color="#3b71c9"/></linearGradient><linearGradient id="gpadj" x1="0" y1="0" x2="0" y2="1"><stop offset="0" stop-color="#e35d5f"/><stop offset="0.45" stop-color="#bd6378"/><stop offset="0.75" stop-color="#7c6d9f"/><stop offset="1" stop-color="#3b7ec6"/></linearGradient></defs>
<rect x="284.1" y="483.2" width="11.7" height="55.4" fill="url(#gexp)"/>
<line x1="284.1" y1="495.9" x2="286.4" y2="495.9" stroke="#fff" stroke-width="0.6"/>
<line x1="293.5" y1="495.9" x2="295.8" y2="495.9" stroke="#fff" stroke-width="0.6"/>
<text x="298.7" y="497.9" font-size="5.6">2.5</text>
<line x1="284.1" y1="508.5" x2="286.4" y2="508.5" stroke="#fff" stroke-width="0.6"/>
<line x1="293.5" y1="508.5" x2="295.8" y2="508.5" stroke="#fff" stroke-width="0.6"/>
<text x="298.7" y="510.5" font-size="5.6">0.0</text>
<line x1="284.1" y1="520.6" x2="286.4" y2="520.6" stroke="#fff" stroke-width="0.6"/>
<line x1="293.5" y1="520.6" x2="295.8" y2="520.6" stroke="#fff" stroke-width="0.6"/>
<text x="298.7" y="522.6" font-size="5.6">-2.5</text>
<line x1="284.1" y1="533.4" x2="286.4" y2="533.4" stroke="#fff" stroke-width="0.6"/>
<line x1="293.5" y1="533.4" x2="295.8" y2="533.4" stroke="#fff" stroke-width="0.6"/>
<text x="298.7" y="535.4" font-size="5.6">-5.0</text>
<line x1="470" y1="245.9" x2="470" y2="415.3" stroke="#f4f4f4" stroke-width="0.5"/>
<line x1="531.2" y1="245.9" x2="531.2" y2="415.3" stroke="#f4f4f4" stroke-width="0.5"/>
<line x1="592.4" y1="245.9" x2="592.4" y2="415.3" stroke="#f4f4f4" stroke-width="0.5"/>
<line x1="653.6" y1="245.9" x2="653.6" y2="415.3" stroke="#f4f4f4" stroke-width="0.5"/>
<line x1="439.4" y1="245.9" x2="439.4" y2="415.3" stroke="#ebebeb" stroke-width="0.8"/>
<line x1="500.6" y1="245.9" x2="500.6" y2="415.3" stroke="#ebebeb" stroke-width="0.8"/>
<line x1="561.8" y1="245.9" x2="561.8" y2="415.3" stroke="#ebebeb" stroke-width="0.8"/>
<line x1="623" y1="245.9" x2="623" y2="415.3" stroke="#ebebeb" stroke-width="0.8"/>
<line x1="436.5" y1="265.3" x2="661" y2="265.3" stroke="#ebebeb" stroke-width="0.8"/>
<line x1="436.5" y1="297.7" x2="661" y2="297.7" stroke="#ebebeb" stroke-width="0.8"/>
<line x1="436.5" y1="330.1" x2="661" y2="330.1" stroke="#ebebeb" stroke-width="0.8"/>
<line x1="436.5" y1="362.5" x2="661" y2="362.5" stroke="#ebebeb" stroke-width="0.8"/>
<line x1="436.5" y1="394.9" x2="661" y2="394.9" stroke="#ebebeb" stroke-width="0.8"/>
<circle cx="650.8" cy="265.3" r="5.7" fill="#a36d8c" stroke="#333" stroke-opacity=".6" stroke-width=".6"/>
<circle cx="582.3" cy="297.7" r="5.2" fill="#a36d8c" stroke="#333" stroke-opacity=".6" stroke-width=".6"/>
<circle cx="582.3" cy="330.1" r="5.2" fill="#a36d8c" stroke="#333" stroke-opacity=".6" stroke-width=".6"/>
<circle cx="582.3" cy="362.5" r="5.2" fill="#a36d8c" stroke="#333" stroke-opacity=".6" stroke-width=".6"/>
<circle cx="446.2" cy="395.3" r="2.2" fill="#a36d8c" stroke="#333" stroke-opacity=".6" stroke-width=".6"/>
<rect x="436.5" y="245.9" width="224.5" height="169.4" fill="none" stroke="#999" stroke-width="1.35"/>
<line x1="439.4" y1="415.3" x2="439.4" y2="417.8" stroke="#444" stroke-width="0.9"/>
<text x="439.4" y="424.9" font-size="7.3" text-anchor="middle">0.05</text>
<line x1="500.6" y1="415.3" x2="500.6" y2="417.8" stroke="#444" stroke-width="0.9"/>
<text x="500.6" y="424.9" font-size="7.3" text-anchor="middle">0.10</text>
<line x1="561.8" y1="415.3" x2="561.8" y2="417.8" stroke="#444" stroke-width="0.9"/>
<text x="561.8" y="424.9" font-size="7.3" text-anchor="middle">0.15</text>
<line x1="623" y1="415.3" x2="623" y2="417.8" stroke="#444" stroke-width="0.9"/>
<text x="623" y="424.9" font-size="7.3" text-anchor="middle">0.20</text>
<text x="548.75" y="434.6" font-size="7.7" text-anchor="middle">GeneRatio</text>
<text x="436.5" y="241.1" font-size="8.3" fill="#111">GO of KLF7 positively co-expressed genes</text>
<line x1="434" y1="265.3" x2="436.5" y2="265.3" stroke="#444" stroke-width="0.9"/>
<line x1="434" y1="297.7" x2="436.5" y2="297.7" stroke="#444" stroke-width="0.9"/>
<line x1="434" y1="330.1" x2="436.5" y2="330.1" stroke="#444" stroke-width="0.9"/>
<line x1="434" y1="362.5" x2="436.5" y2="362.5" stroke="#444" stroke-width="0.9"/>
<line x1="434" y1="394.9" x2="436.5" y2="394.9" stroke="#444" stroke-width="0.9"/>
<text x="432.9" y="264.5" font-size="7.8" text-anchor="end">small GTPase mediated signal</text>
<text x="432.9" y="272.5" font-size="7.8" text-anchor="end">transduction</text>
<text x="432.9" y="296.9" font-size="7.8" text-anchor="end">regulation of small GTPase</text>
<text x="432.9" y="304.9" font-size="7.8" text-anchor="end">mediated signal transduction</text>
<text x="432.9" y="329.3" font-size="7.8" text-anchor="end">positive regulation of cell</text>
<text x="432.9" y="337.3" font-size="7.8" text-anchor="end">projection organization</text>
<text x="432.9" y="361.7" font-size="7.8" text-anchor="end">regulation of neuron</text>
<text x="432.9" y="369.7" font-size="7.8" text-anchor="end">projection development</text>
<text x="432.9" y="394.1" font-size="7.8" text-anchor="end">establishment of centrosome</text>
<text x="432.9" y="402.1" font-size="7.8" text-anchor="end">localization</text>
<text x="673.4" y="266.5" font-size="6.8" fill="#111">p.adjust</text>
<rect x="673.6" y="270.6" width="11.2" height="55.3" fill="#a36d8c"/>
<line x1="673.6" y1="298.3" x2="676" y2="298.3" stroke="#fff" stroke-width="0.6"/>
<line x1="682.4" y1="298.3" x2="684.8" y2="298.3" stroke="#fff" stroke-width="0.6"/>
<text x="688.3" y="300.4" font-size="5.8">0.1689</text>
<text x="673.3" y="347" font-size="6.9" fill="#111">Count</text>
<circle cx="680.6" cy="356.6" r="2.1" fill="#000"/>
<text x="692.9" y="358.6" font-size="5.8">1</text>
<circle cx="680.6" cy="368.1" r="4.2" fill="#000"/>
<text x="692.9" y="370.1" font-size="5.8">2</text>
<circle cx="680.6" cy="379.7" r="5" fill="#000"/>
<text x="692.9" y="381.7" font-size="5.8">3</text>
<circle cx="680.6" cy="393.9" r="5.6" fill="#000"/>
<text x="692.9" y="395.9" font-size="5.8">4</text>
<line x1="463.42" y1="453.6" x2="463.42" y2="623" stroke="#f4f4f4" stroke-width="0.5"/>
<line x1="502.26" y1="453.6" x2="502.26" y2="623" stroke="#f4f4f4" stroke-width="0.5"/>
<line x1="541.09" y1="453.6" x2="541.09" y2="623" stroke="#f4f4f4" stroke-width="0.5"/>
<line x1="579.93" y1="453.6" x2="579.93" y2="623" stroke="#f4f4f4" stroke-width="0.5"/>
<line x1="618.77" y1="453.6" x2="618.77" y2="623" stroke="#f4f4f4" stroke-width="0.5"/>
<line x1="444" y1="453.6" x2="444" y2="623" stroke="#ebebeb" stroke-width="0.8"/>
<line x1="482.84" y1="453.6" x2="482.84" y2="623" stroke="#ebebeb" stroke-width="0.8"/>
<line x1="521.67" y1="453.6" x2="521.67" y2="623" stroke="#ebebeb" stroke-width="0.8"/>
<line x1="560.51" y1="453.6" x2="560.51" y2="623" stroke="#ebebeb" stroke-width="0.8"/>
<line x1="599.35" y1="453.6" x2="599.35" y2="623" stroke="#ebebeb" stroke-width="0.8"/>
<line x1="638.19" y1="453.6" x2="638.19" y2="623" stroke="#ebebeb" stroke-width="0.8"/>
<line x1="436.5" y1="473.2" x2="661.4" y2="473.2" stroke="#ebebeb" stroke-width="0.8"/>
<line x1="436.5" y1="505.7" x2="661.4" y2="505.7" stroke="#ebebeb" stroke-width="0.8"/>
<line x1="436.5" y1="538.4" x2="661.4" y2="538.4" stroke="#ebebeb" stroke-width="0.8"/>
<line x1="436.5" y1="571.1" x2="661.4" y2="571.1" stroke="#ebebeb" stroke-width="0.8"/>
<line x1="436.5" y1="604" x2="661.4" y2="604" stroke="#ebebeb" stroke-width="0.8"/>
<circle cx="650.5" cy="473.2" r="5.7" fill="#e05a5e" stroke="#333" stroke-opacity=".6" stroke-width=".6"/>
<circle cx="650.5" cy="505.7" r="5.7" fill="#c0687a" stroke="#333" stroke-opacity=".6" stroke-width=".6"/>
<circle cx="650.5" cy="538.4" r="5.7" fill="#3b7bc2" stroke="#333" stroke-opacity=".6" stroke-width=".6"/>
<circle cx="446.1" cy="571.1" r="2.2" fill="#3b7bc2" stroke="#333" stroke-opacity=".6" stroke-width=".6"/>
<circle cx="446.1" cy="604" r="2.2" fill="#3b7bc2" stroke="#333" stroke-opacity=".6" stroke-width=".6"/>
<rect x="436.5" y="453.6" width="224.9" height="169.4" fill="none" stroke="#999" stroke-width="1.35"/>
<line x1="444" y1="623" x2="444" y2="625.5" stroke="#444" stroke-width="0.9"/>
<text x="444" y="632.6" font-size="7.3" text-anchor="middle">0.21</text>
<line x1="482.84" y1="623" x2="482.84" y2="625.5" stroke="#444" stroke-width="0.9"/>
<text x="482.84" y="632.6" font-size="7.3" text-anchor="middle">0.22</text>
<line x1="521.67" y1="623" x2="521.67" y2="625.5" stroke="#444" stroke-width="0.9"/>
<text x="521.67" y="632.6" font-size="7.3" text-anchor="middle">0.23</text>
<line x1="560.51" y1="623" x2="560.51" y2="625.5" stroke="#444" stroke-width="0.9"/>
<text x="560.51" y="632.6" font-size="7.3" text-anchor="middle">0.24</text>
<line x1="599.35" y1="623" x2="599.35" y2="625.5" stroke="#444" stroke-width="0.9"/>
<text x="599.35" y="632.6" font-size="7.3" text-anchor="middle">0.25</text>
<line x1="638.19" y1="623" x2="638.19" y2="625.5" stroke="#444" stroke-width="0.9"/>
<text x="638.19" y="632.6" font-size="7.3" text-anchor="middle">0.26</text>
<text x="548.95" y="642.3" font-size="7.7" text-anchor="middle">GeneRatio</text>
<text x="436.5" y="448.9" font-size="8.3" fill="#111">GO of KLF7 negatively co-expressed genes</text>
<line x1="434" y1="473.2" x2="436.5" y2="473.2" stroke="#444" stroke-width="0.9"/>
<line x1="434" y1="505.7" x2="436.5" y2="505.7" stroke="#444" stroke-width="0.9"/>
<line x1="434" y1="538.4" x2="436.5" y2="538.4" stroke="#444" stroke-width="0.9"/>
<line x1="434" y1="571.1" x2="436.5" y2="571.1" stroke="#444" stroke-width="0.9"/>
<line x1="434" y1="604" x2="436.5" y2="604" stroke="#444" stroke-width="0.9"/>
<text x="432.9" y="476.8" font-size="7.8" text-anchor="end">aerobic respiration</text>
<text x="432.9" y="509.3" font-size="7.8" text-anchor="end">cellular respiration</text>
<text x="432.9" y="537.6" font-size="7.8" text-anchor="end">energy derivation by</text>
<text x="432.9" y="545.6" font-size="7.8" text-anchor="end">oxidation of organic compounds</text>
<text x="432.9" y="574.7" font-size="7.8" text-anchor="end">oxidative phosphorylation</text>
<text x="432.9" y="607.6" font-size="7.8" text-anchor="end">proton transmembrane transport</text>
<text x="672" y="468.5" font-size="6.8" fill="#111">p.adjust</text>
<rect x="672" y="471.6" width="11.7" height="56.8" fill="url(#gpadj)"/>
<line x1="672" y1="482.6" x2="674.4" y2="482.6" stroke="#fff" stroke-width="0.6"/>
<line x1="681.3" y1="482.6" x2="683.7" y2="482.6" stroke="#fff" stroke-width="0.6"/>
<text x="686.8" y="484.6" font-size="5.8">0.00075</text>
<line x1="672" y1="497.8" x2="674.4" y2="497.8" stroke="#fff" stroke-width="0.6"/>
<line x1="681.3" y1="497.8" x2="683.7" y2="497.8" stroke="#fff" stroke-width="0.6"/>
<text x="686.8" y="499.8" font-size="5.8">0.00100</text>
<line x1="672" y1="512" x2="674.4" y2="512" stroke="#fff" stroke-width="0.6"/>
<line x1="681.3" y1="512" x2="683.7" y2="512" stroke="#fff" stroke-width="0.6"/>
<text x="686.8" y="514" font-size="5.8">0.00125</text>
<line x1="672" y1="525.3" x2="674.4" y2="525.3" stroke="#fff" stroke-width="0.6"/>
<line x1="681.3" y1="525.3" x2="683.7" y2="525.3" stroke="#fff" stroke-width="0.6"/>
<text x="686.8" y="527.3" font-size="5.8">0.00150</text>
<text x="672" y="549" font-size="6.9" fill="#111">Count</text>
<circle cx="678.9" cy="559" r="2.2" fill="#000"/>
<text x="690" y="561" font-size="5.8">4.00</text>
<circle cx="678.9" cy="569.5" r="3.8" fill="#000"/>
<text x="690" y="571.5" font-size="5.8">4.25</text>
<circle cx="678.9" cy="581.5" r="4.4" fill="#000"/>
<text x="690" y="583.5" font-size="5.8">4.50</text>
<circle cx="678.9" cy="594.1" r="5" fill="#000"/>
<text x="690" y="596.1" font-size="5.8">4.75</text>
<circle cx="678.9" cy="608.3" r="5.6" fill="#000"/>
<text x="690" y="610.3" font-size="5.8">5.00</text>
</svg></body></html>
